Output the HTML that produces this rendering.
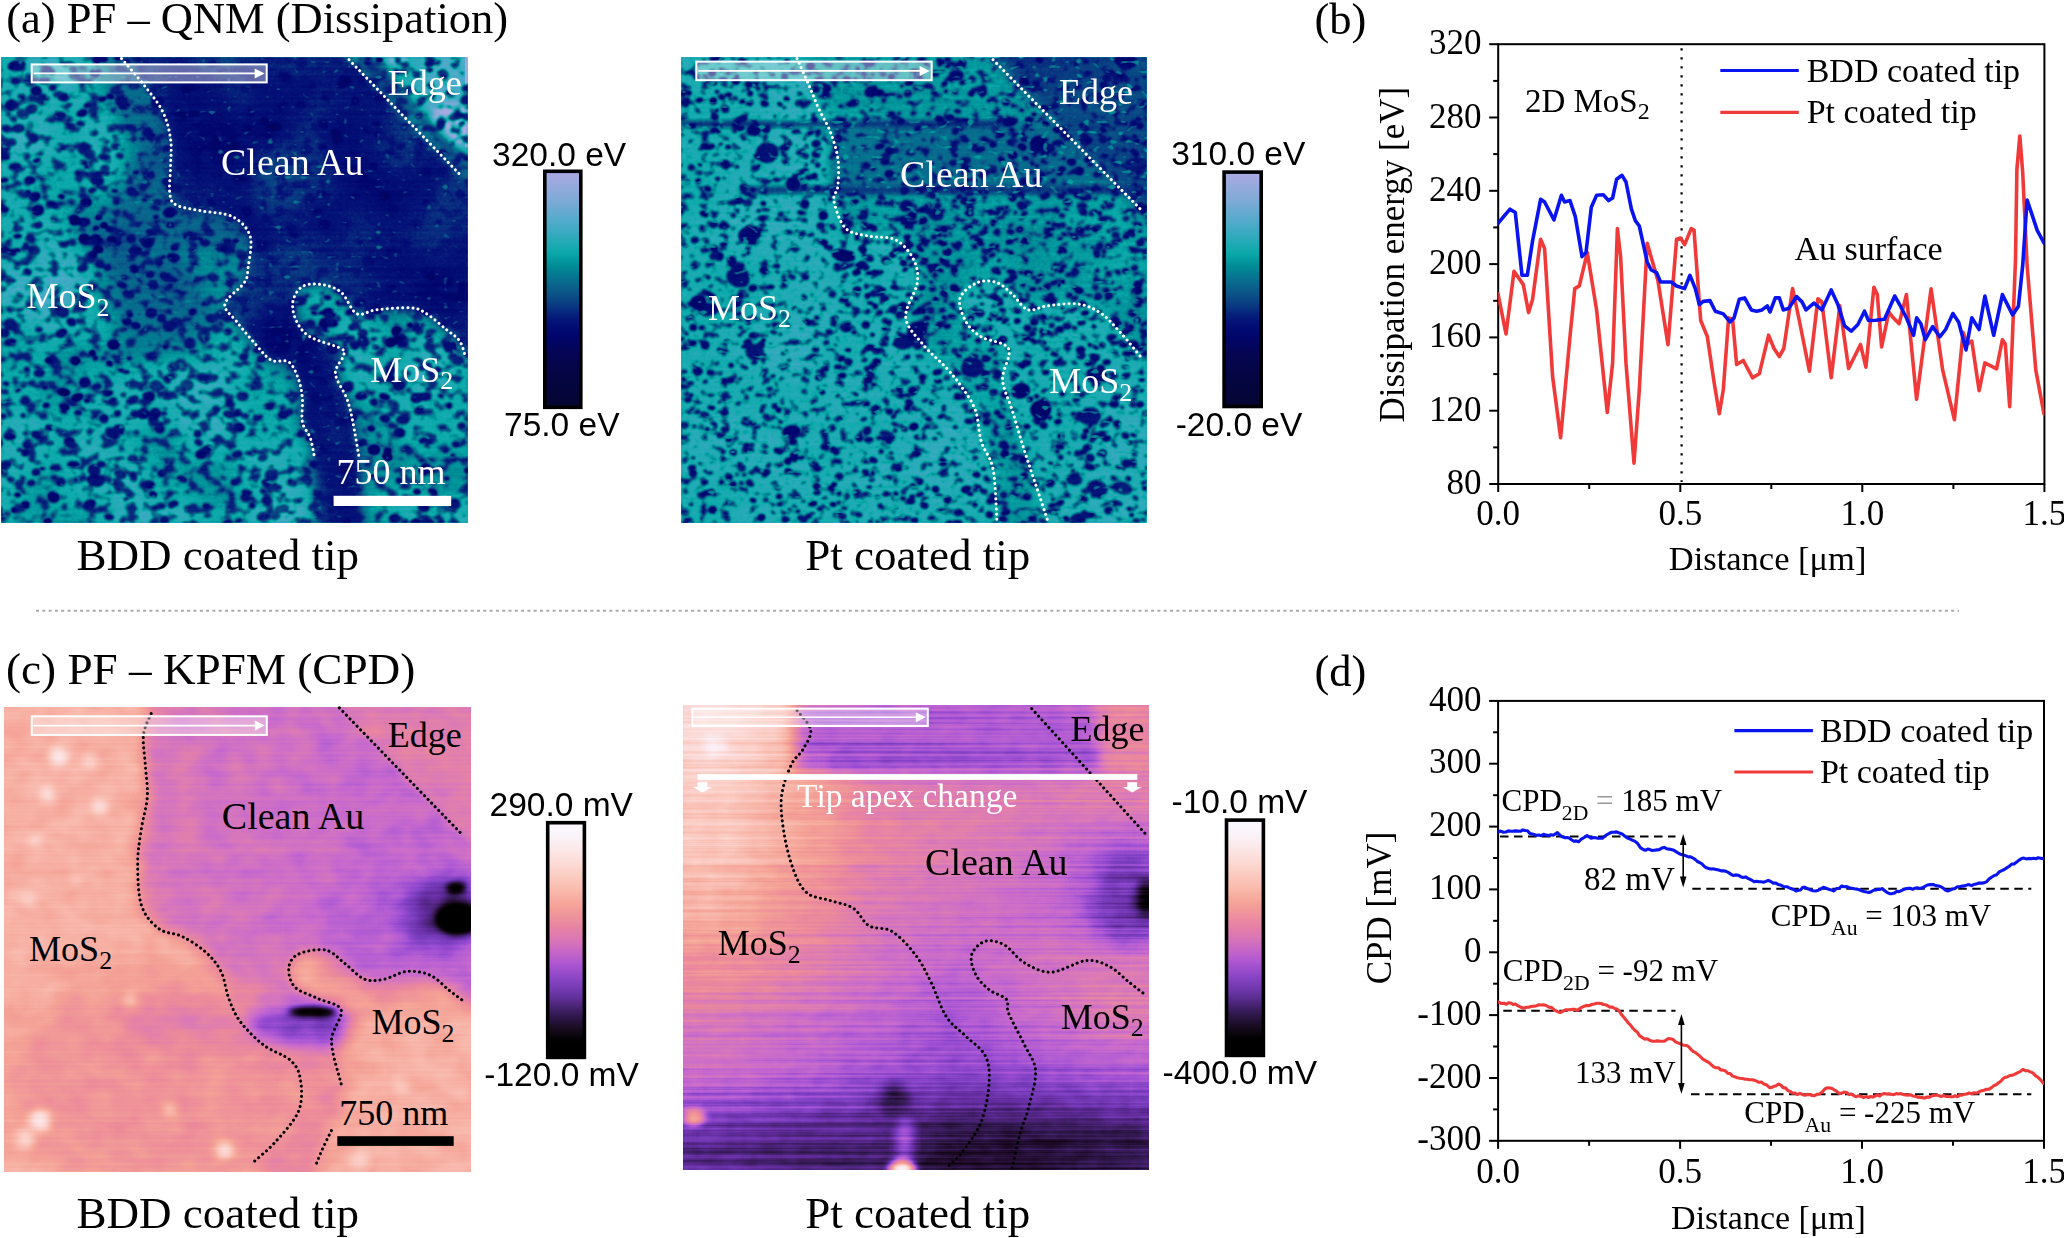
<!DOCTYPE html>
<html><head><meta charset="utf-8"><title>PF-QNM and PF-KPFM</title>
<style>html,body{margin:0;padding:0;background:#fff;overflow:hidden;width:2064px;height:1238px;} svg{display:block;}</style></head>
<body><svg width="2064" height="1238" viewBox="0 0 2064 1238">
<defs>
<filter id="fA" x="1" y="57" width="467" height="466" filterUnits="userSpaceOnUse" color-interpolation-filters="sRGB">
<feTurbulence type="fractalNoise" baseFrequency="0.012" numOctaves="2" seed="44" result="tp"/>
<feColorMatrix in="tp" type="matrix" values="1 0 0 0 0.0000  1 0 0 0 0.0000  1 0 0 0 0.0000  0 0 0 0 1" result="P"/>
<feComposite in="SourceGraphic" in2="P" operator="arithmetic" k1="0" k2="1" k3="0.26" k4="-0.1300" result="v0"/>
<feTurbulence type="fractalNoise" baseFrequency="0.08 0.105" numOctaves="2" seed="3" result="t1"/>
<feColorMatrix in="t1" type="matrix" values="6 0 0 0 -2.0200  6 0 0 0 -2.0200  6 0 0 0 -2.0200  0 0 0 0 1" result="N0"/>
<feGaussianBlur in="N0" stdDeviation="1.0" result="N"/>
<feComposite in="v0" in2="N" operator="arithmetic" k1="0.9000" k2="0.1000" k3="-0.3240" k4="0.3240" result="v1"/>
<feTurbulence type="fractalNoise" baseFrequency="0.12 0.2" numOctaves="1" seed="14" result="t2"/>
<feColorMatrix in="t2" type="matrix" values="-8 0 0 0 6.3400  -8 0 0 0 6.3400  -8 0 0 0 6.3400  0 0 0 0 1" result="Sn"/>
<feComposite in="v1" in2="Sn" operator="arithmetic" k1="0.6000" k2="0.4000" k3="-0.3840" k4="0.3840" result="v2"/>
<feTurbulence type="fractalNoise" baseFrequency="0.35" numOctaves="1" seed="26" result="t3"/>
<feColorMatrix in="t3" type="matrix" values="1 0 0 0 0.0000  1 0 0 0 0.0000  1 0 0 0 0.0000  0 0 0 0 1" result="F"/>
<feComposite in="v2" in2="F" operator="arithmetic" k1="0" k2="1" k3="0.05" k4="-0.0250" result="v3"/>
<feTurbulence type="fractalNoise" baseFrequency="0.003 0.25" numOctaves="2" seed="34" result="t4"/>
<feColorMatrix in="t4" type="matrix" values="1 0 0 0 0.0000  1 0 0 0 0.0000  1 0 0 0 0.0000  0 0 0 0 1" result="Hn"/>
<feComposite in="v3" in2="Hn" operator="arithmetic" k1="0" k2="1" k3="0.05" k4="-0.0250" result="v4"/>
<feComponentTransfer><feFuncR type="table" tableValues="0.020 0.020 0.020 0.020 0.020 0.020 0.020 0.020 0.020 0.020 0.020 0.020 0.020 0.020 0.020 0.020 0.020 0.020 0.020 0.020 0.020 0.020 0.020 0.020 0.017 0.015 0.012 0.010 0.007 0.005 0.002 0.000 0.003 0.007 0.010 0.013 0.016 0.020 0.023 0.026 0.029 0.032 0.035 0.038 0.039 0.039 0.039 0.039 0.039 0.039 0.039 0.039 0.038 0.033 0.028 0.024 0.019 0.014 0.009 0.005 0.000 0.007 0.014 0.021 0.028 0.035 0.048 0.070 0.092 0.114 0.136 0.158 0.180 0.202 0.224 0.246 0.268 0.288 0.307 0.326 0.345 0.364 0.384 0.403 0.422 0.441 0.460 0.479 0.498 0.516 0.530 0.544 0.559 0.573 0.588 0.602 0.617 0.631 0.646 0.660 0.675"/><feFuncG type="table" tableValues="0.020 0.020 0.020 0.020 0.020 0.020 0.020 0.020 0.020 0.020 0.020 0.020 0.020 0.020 0.020 0.020 0.020 0.020 0.020 0.020 0.020 0.020 0.020 0.020 0.020 0.020 0.020 0.020 0.020 0.020 0.020 0.020 0.029 0.039 0.049 0.059 0.069 0.078 0.103 0.127 0.151 0.175 0.199 0.223 0.245 0.264 0.283 0.302 0.321 0.341 0.360 0.379 0.398 0.417 0.436 0.455 0.473 0.492 0.511 0.530 0.549 0.570 0.591 0.612 0.633 0.654 0.667 0.667 0.667 0.667 0.667 0.667 0.667 0.667 0.667 0.667 0.667 0.667 0.667 0.667 0.667 0.667 0.667 0.667 0.667 0.667 0.667 0.667 0.667 0.667 0.667 0.667 0.667 0.667 0.667 0.667 0.667 0.667 0.667 0.667 0.667"/><feFuncB type="table" tableValues="0.196 0.201 0.207 0.212 0.217 0.222 0.227 0.233 0.238 0.243 0.248 0.254 0.259 0.264 0.269 0.275 0.282 0.289 0.297 0.304 0.311 0.319 0.326 0.333 0.346 0.358 0.370 0.382 0.395 0.407 0.419 0.431 0.438 0.444 0.451 0.458 0.464 0.471 0.477 0.483 0.489 0.495 0.501 0.507 0.512 0.517 0.522 0.527 0.531 0.536 0.541 0.546 0.550 0.555 0.560 0.565 0.569 0.574 0.579 0.584 0.588 0.602 0.616 0.630 0.644 0.658 0.671 0.682 0.693 0.704 0.715 0.726 0.737 0.748 0.759 0.770 0.781 0.788 0.792 0.797 0.802 0.807 0.812 0.816 0.821 0.826 0.831 0.835 0.840 0.845 0.849 0.854 0.858 0.863 0.867 0.872 0.876 0.881 0.885 0.890 0.894"/><feFuncA type="linear" slope="0" intercept="1"/></feComponentTransfer>
</filter>
<filter id="fB" x="681" y="57" width="466" height="466" filterUnits="userSpaceOnUse" color-interpolation-filters="sRGB">
<feTurbulence type="fractalNoise" baseFrequency="0.012" numOctaves="2" seed="58" result="tp"/>
<feColorMatrix in="tp" type="matrix" values="1 0 0 0 0.0000  1 0 0 0 0.0000  1 0 0 0 0.0000  0 0 0 0 1" result="P"/>
<feComposite in="SourceGraphic" in2="P" operator="arithmetic" k1="0" k2="1" k3="0.1" k4="-0.0500" result="v0"/>
<feTurbulence type="fractalNoise" baseFrequency="0.1 0.13" numOctaves="2" seed="17" result="t1"/>
<feColorMatrix in="t1" type="matrix" values="6 0 0 0 -1.7200  6 0 0 0 -1.7200  6 0 0 0 -1.7200  0 0 0 0 1" result="N0"/>
<feGaussianBlur in="N0" stdDeviation="0.8" result="N"/>
<feComposite in="v0" in2="N" operator="arithmetic" k1="0.9000" k2="0.1000" k3="-0.2970" k4="0.2970" result="v1"/>
<feTurbulence type="fractalNoise" baseFrequency="0.12 0.2" numOctaves="1" seed="28" result="t2"/>
<feColorMatrix in="t2" type="matrix" values="-8 0 0 0 5.9400  -8 0 0 0 5.9400  -8 0 0 0 5.9400  0 0 0 0 1" result="Sn"/>
<feComposite in="v1" in2="Sn" operator="arithmetic" k1="0.8000" k2="0.2000" k3="-0.5120" k4="0.5120" result="v2"/>
<feTurbulence type="fractalNoise" baseFrequency="0.35" numOctaves="1" seed="40" result="t3"/>
<feColorMatrix in="t3" type="matrix" values="1 0 0 0 0.0000  1 0 0 0 0.0000  1 0 0 0 0.0000  0 0 0 0 1" result="F"/>
<feComposite in="v2" in2="F" operator="arithmetic" k1="0" k2="1" k3="0.05" k4="-0.0250" result="v3"/>
<feTurbulence type="fractalNoise" baseFrequency="0.003 0.25" numOctaves="2" seed="48" result="t4"/>
<feColorMatrix in="t4" type="matrix" values="1 0 0 0 0.0000  1 0 0 0 0.0000  1 0 0 0 0.0000  0 0 0 0 1" result="Hn"/>
<feComposite in="v3" in2="Hn" operator="arithmetic" k1="0" k2="1" k3="0.05" k4="-0.0250" result="v4"/>
<feComponentTransfer><feFuncR type="table" tableValues="0.020 0.020 0.020 0.020 0.020 0.020 0.020 0.020 0.020 0.020 0.020 0.020 0.020 0.020 0.020 0.020 0.020 0.020 0.020 0.020 0.020 0.020 0.020 0.020 0.017 0.015 0.012 0.010 0.007 0.005 0.002 0.000 0.003 0.007 0.010 0.013 0.016 0.020 0.023 0.026 0.029 0.032 0.035 0.038 0.039 0.039 0.039 0.039 0.039 0.039 0.039 0.039 0.038 0.033 0.028 0.024 0.019 0.014 0.009 0.005 0.000 0.007 0.014 0.021 0.028 0.035 0.048 0.070 0.092 0.114 0.136 0.158 0.180 0.202 0.224 0.246 0.268 0.288 0.307 0.326 0.345 0.364 0.384 0.403 0.422 0.441 0.460 0.479 0.498 0.516 0.530 0.544 0.559 0.573 0.588 0.602 0.617 0.631 0.646 0.660 0.675"/><feFuncG type="table" tableValues="0.020 0.020 0.020 0.020 0.020 0.020 0.020 0.020 0.020 0.020 0.020 0.020 0.020 0.020 0.020 0.020 0.020 0.020 0.020 0.020 0.020 0.020 0.020 0.020 0.020 0.020 0.020 0.020 0.020 0.020 0.020 0.020 0.029 0.039 0.049 0.059 0.069 0.078 0.103 0.127 0.151 0.175 0.199 0.223 0.245 0.264 0.283 0.302 0.321 0.341 0.360 0.379 0.398 0.417 0.436 0.455 0.473 0.492 0.511 0.530 0.549 0.570 0.591 0.612 0.633 0.654 0.667 0.667 0.667 0.667 0.667 0.667 0.667 0.667 0.667 0.667 0.667 0.667 0.667 0.667 0.667 0.667 0.667 0.667 0.667 0.667 0.667 0.667 0.667 0.667 0.667 0.667 0.667 0.667 0.667 0.667 0.667 0.667 0.667 0.667 0.667"/><feFuncB type="table" tableValues="0.196 0.201 0.207 0.212 0.217 0.222 0.227 0.233 0.238 0.243 0.248 0.254 0.259 0.264 0.269 0.275 0.282 0.289 0.297 0.304 0.311 0.319 0.326 0.333 0.346 0.358 0.370 0.382 0.395 0.407 0.419 0.431 0.438 0.444 0.451 0.458 0.464 0.471 0.477 0.483 0.489 0.495 0.501 0.507 0.512 0.517 0.522 0.527 0.531 0.536 0.541 0.546 0.550 0.555 0.560 0.565 0.569 0.574 0.579 0.584 0.588 0.602 0.616 0.630 0.644 0.658 0.671 0.682 0.693 0.704 0.715 0.726 0.737 0.748 0.759 0.770 0.781 0.788 0.792 0.797 0.802 0.807 0.812 0.816 0.821 0.826 0.831 0.835 0.840 0.845 0.849 0.854 0.858 0.863 0.867 0.872 0.876 0.881 0.885 0.890 0.894"/><feFuncA type="linear" slope="0" intercept="1"/></feComponentTransfer>
</filter>
<filter id="fC" x="4" y="707" width="467" height="465" filterUnits="userSpaceOnUse" color-interpolation-filters="sRGB">
<feTurbulence type="fractalNoise" baseFrequency="0.002 0.35" numOctaves="2" seed="5" result="t1"/>
<feColorMatrix in="t1" type="matrix" values="1 0 0 0 0.0000  1 0 0 0 0.0000  1 0 0 0 0.0000  0 0 0 0 1" result="N"/>
<feComposite in="SourceGraphic" in2="N" operator="arithmetic" k1="0" k2="1" k3="0.05" k4="-0.025" result="v1"/>
<feTurbulence type="fractalNoise" baseFrequency="0.035 0.05" numOctaves="2" seed="10" result="t2"/>
<feColorMatrix in="t2" type="matrix" values="1 0 0 0 0.0000  1 0 0 0 0.0000  1 0 0 0 0.0000  0 0 0 0 1" result="F"/>
<feComposite in="v1" in2="F" operator="arithmetic" k1="0" k2="1" k3="0.11" k4="-0.055" result="v2"/>
<feComponentTransfer><feFuncR type="table" tableValues="0.000 0.000 0.000 0.000 0.000 0.000 0.000 0.000 0.000 0.000 0.000 0.000 0.010 0.020 0.029 0.039 0.059 0.078 0.098 0.118 0.137 0.156 0.175 0.194 0.218 0.242 0.265 0.289 0.314 0.338 0.363 0.387 0.409 0.430 0.451 0.472 0.499 0.528 0.558 0.587 0.615 0.642 0.668 0.695 0.718 0.737 0.757 0.776 0.792 0.806 0.819 0.833 0.845 0.857 0.869 0.880 0.891 0.899 0.908 0.917 0.925 0.930 0.934 0.939 0.943 0.948 0.952 0.956 0.961 0.963 0.966 0.968 0.971 0.973 0.975 0.978 0.980 0.981 0.982 0.983 0.984 0.985 0.986 0.987 0.988 0.988 0.988 0.988 0.988 0.988 0.988 0.988 0.988 0.987 0.986 0.985 0.984 0.983 0.982 0.981 0.980"/><feFuncG type="table" tableValues="0.000 0.000 0.000 0.000 0.000 0.000 0.000 0.000 0.000 0.000 0.000 0.000 0.005 0.010 0.015 0.020 0.025 0.029 0.034 0.039 0.054 0.068 0.082 0.097 0.107 0.116 0.126 0.135 0.145 0.155 0.165 0.175 0.189 0.206 0.222 0.238 0.253 0.266 0.280 0.294 0.310 0.327 0.345 0.362 0.376 0.387 0.399 0.411 0.423 0.434 0.446 0.457 0.468 0.477 0.487 0.497 0.506 0.515 0.524 0.532 0.541 0.553 0.565 0.576 0.588 0.600 0.612 0.624 0.635 0.649 0.663 0.676 0.690 0.704 0.718 0.731 0.745 0.757 0.770 0.782 0.794 0.806 0.819 0.831 0.843 0.853 0.863 0.873 0.882 0.892 0.902 0.912 0.922 0.928 0.934 0.941 0.947 0.953 0.960 0.966 0.973"/><feFuncB type="table" tableValues="0.000 0.000 0.000 0.000 0.000 0.000 0.000 0.000 0.000 0.000 0.000 0.000 0.010 0.020 0.029 0.039 0.069 0.098 0.127 0.157 0.195 0.233 0.272 0.310 0.348 0.386 0.425 0.463 0.502 0.541 0.580 0.620 0.650 0.679 0.708 0.736 0.759 0.778 0.798 0.818 0.825 0.827 0.829 0.831 0.827 0.820 0.814 0.807 0.795 0.781 0.767 0.752 0.736 0.719 0.701 0.683 0.667 0.652 0.637 0.623 0.608 0.605 0.603 0.600 0.598 0.596 0.593 0.591 0.588 0.602 0.616 0.629 0.643 0.657 0.671 0.684 0.698 0.714 0.729 0.745 0.761 0.776 0.792 0.808 0.824 0.838 0.853 0.868 0.882 0.897 0.912 0.926 0.941 0.949 0.956 0.963 0.971 0.978 0.985 0.993 1.000"/><feFuncA type="linear" slope="0" intercept="1"/></feComponentTransfer>
</filter>
<filter id="fD" x="683.5" y="705" width="465.5" height="465" filterUnits="userSpaceOnUse" color-interpolation-filters="sRGB">
<feTurbulence type="fractalNoise" baseFrequency="0.002 0.35" numOctaves="2" seed="9" result="t1"/>
<feColorMatrix in="t1" type="matrix" values="1 0 0 0 0.0000  1 0 0 0 0.0000  1 0 0 0 0.0000  0 0 0 0 1" result="N"/>
<feComposite in="SourceGraphic" in2="N" operator="arithmetic" k1="0" k2="1" k3="0.16" k4="-0.08" result="v1"/>
<feTurbulence type="fractalNoise" baseFrequency="0.05 0.08" numOctaves="2" seed="14" result="t2"/>
<feColorMatrix in="t2" type="matrix" values="1 0 0 0 0.0000  1 0 0 0 0.0000  1 0 0 0 0.0000  0 0 0 0 1" result="F"/>
<feComposite in="v1" in2="F" operator="arithmetic" k1="0" k2="1" k3="0.06" k4="-0.03" result="v2"/>
<feComponentTransfer><feFuncR type="table" tableValues="0.000 0.000 0.000 0.000 0.000 0.000 0.000 0.000 0.000 0.000 0.000 0.000 0.010 0.020 0.029 0.039 0.059 0.078 0.098 0.118 0.137 0.156 0.175 0.194 0.218 0.242 0.265 0.289 0.314 0.338 0.363 0.387 0.409 0.430 0.451 0.472 0.499 0.528 0.558 0.587 0.615 0.642 0.668 0.695 0.718 0.737 0.757 0.776 0.792 0.806 0.819 0.833 0.845 0.857 0.869 0.880 0.891 0.899 0.908 0.917 0.925 0.930 0.934 0.939 0.943 0.948 0.952 0.956 0.961 0.963 0.966 0.968 0.971 0.973 0.975 0.978 0.980 0.981 0.982 0.983 0.984 0.985 0.986 0.987 0.988 0.988 0.988 0.988 0.988 0.988 0.988 0.988 0.988 0.987 0.986 0.985 0.984 0.983 0.982 0.981 0.980"/><feFuncG type="table" tableValues="0.000 0.000 0.000 0.000 0.000 0.000 0.000 0.000 0.000 0.000 0.000 0.000 0.005 0.010 0.015 0.020 0.025 0.029 0.034 0.039 0.054 0.068 0.082 0.097 0.107 0.116 0.126 0.135 0.145 0.155 0.165 0.175 0.189 0.206 0.222 0.238 0.253 0.266 0.280 0.294 0.310 0.327 0.345 0.362 0.376 0.387 0.399 0.411 0.423 0.434 0.446 0.457 0.468 0.477 0.487 0.497 0.506 0.515 0.524 0.532 0.541 0.553 0.565 0.576 0.588 0.600 0.612 0.624 0.635 0.649 0.663 0.676 0.690 0.704 0.718 0.731 0.745 0.757 0.770 0.782 0.794 0.806 0.819 0.831 0.843 0.853 0.863 0.873 0.882 0.892 0.902 0.912 0.922 0.928 0.934 0.941 0.947 0.953 0.960 0.966 0.973"/><feFuncB type="table" tableValues="0.000 0.000 0.000 0.000 0.000 0.000 0.000 0.000 0.000 0.000 0.000 0.000 0.010 0.020 0.029 0.039 0.069 0.098 0.127 0.157 0.195 0.233 0.272 0.310 0.348 0.386 0.425 0.463 0.502 0.541 0.580 0.620 0.650 0.679 0.708 0.736 0.759 0.778 0.798 0.818 0.825 0.827 0.829 0.831 0.827 0.820 0.814 0.807 0.795 0.781 0.767 0.752 0.736 0.719 0.701 0.683 0.667 0.652 0.637 0.623 0.608 0.605 0.603 0.600 0.598 0.596 0.593 0.591 0.588 0.602 0.616 0.629 0.643 0.657 0.671 0.684 0.698 0.714 0.729 0.745 0.761 0.776 0.792 0.808 0.824 0.838 0.853 0.868 0.882 0.897 0.912 0.926 0.941 0.949 0.956 0.963 0.971 0.978 0.985 0.993 1.000"/><feFuncA type="linear" slope="0" intercept="1"/></feComponentTransfer>
</filter>
<filter id="b1" x="-50%" y="-50%" width="200%" height="200%" color-interpolation-filters="sRGB"><feGaussianBlur stdDeviation="1"/></filter>
<filter id="b2" x="-50%" y="-50%" width="200%" height="200%" color-interpolation-filters="sRGB"><feGaussianBlur stdDeviation="2"/></filter>
<filter id="b3" x="-50%" y="-50%" width="200%" height="200%" color-interpolation-filters="sRGB"><feGaussianBlur stdDeviation="3"/></filter>
<filter id="b4" x="-50%" y="-50%" width="200%" height="200%" color-interpolation-filters="sRGB"><feGaussianBlur stdDeviation="4"/></filter>
<filter id="b5" x="-50%" y="-50%" width="200%" height="200%" color-interpolation-filters="sRGB"><feGaussianBlur stdDeviation="5"/></filter>
<filter id="b6" x="-50%" y="-50%" width="200%" height="200%" color-interpolation-filters="sRGB"><feGaussianBlur stdDeviation="6"/></filter>
<filter id="b8" x="-50%" y="-50%" width="200%" height="200%" color-interpolation-filters="sRGB"><feGaussianBlur stdDeviation="8"/></filter>
<filter id="b10" x="-50%" y="-50%" width="200%" height="200%" color-interpolation-filters="sRGB"><feGaussianBlur stdDeviation="10"/></filter>
<filter id="b12" x="-50%" y="-50%" width="200%" height="200%" color-interpolation-filters="sRGB"><feGaussianBlur stdDeviation="12"/></filter>
<filter id="b20" x="-50%" y="-50%" width="200%" height="200%" color-interpolation-filters="sRGB"><feGaussianBlur stdDeviation="20"/></filter>
<filter id="b25" x="-50%" y="-50%" width="200%" height="200%" color-interpolation-filters="sRGB"><feGaussianBlur stdDeviation="25"/></filter>
<linearGradient id="cb1" x1="0" y1="0" x2="0" y2="1"><stop offset="0.000" stop-color="rgb(172,170,228)"/><stop offset="0.025" stop-color="rgb(163,170,225)"/><stop offset="0.050" stop-color="rgb(154,170,222)"/><stop offset="0.075" stop-color="rgb(144,170,219)"/><stop offset="0.100" stop-color="rgb(135,170,217)"/><stop offset="0.125" stop-color="rgb(125,170,214)"/><stop offset="0.150" stop-color="rgb(112,170,211)"/><stop offset="0.175" stop-color="rgb(100,170,208)"/><stop offset="0.200" stop-color="rgb(88,170,205)"/><stop offset="0.225" stop-color="rgb(76,170,201)"/><stop offset="0.250" stop-color="rgb(63,170,196)"/><stop offset="0.275" stop-color="rgb(49,170,189)"/><stop offset="0.300" stop-color="rgb(35,170,182)"/><stop offset="0.325" stop-color="rgb(21,170,175)"/><stop offset="0.350" stop-color="rgb(9,167,168)"/><stop offset="0.375" stop-color="rgb(4,153,159)"/><stop offset="0.400" stop-color="rgb(0,140,150)"/><stop offset="0.425" stop-color="rgb(3,128,147)"/><stop offset="0.450" stop-color="rgb(6,116,144)"/><stop offset="0.475" stop-color="rgb(9,104,141)"/><stop offset="0.500" stop-color="rgb(10,92,138)"/><stop offset="0.525" stop-color="rgb(10,80,135)"/><stop offset="0.550" stop-color="rgb(10,67,132)"/><stop offset="0.575" stop-color="rgb(9,54,128)"/><stop offset="0.600" stop-color="rgb(7,38,125)"/><stop offset="0.625" stop-color="rgb(5,23,121)"/><stop offset="0.650" stop-color="rgb(3,15,117)"/><stop offset="0.675" stop-color="rgb(1,9,112)"/><stop offset="0.700" stop-color="rgb(1,5,107)"/><stop offset="0.725" stop-color="rgb(2,5,99)"/><stop offset="0.750" stop-color="rgb(4,5,91)"/><stop offset="0.775" stop-color="rgb(5,5,84)"/><stop offset="0.800" stop-color="rgb(5,5,79)"/><stop offset="0.825" stop-color="rgb(5,5,75)"/><stop offset="0.850" stop-color="rgb(5,5,70)"/><stop offset="0.875" stop-color="rgb(5,5,67)"/><stop offset="0.900" stop-color="rgb(5,5,63)"/><stop offset="0.925" stop-color="rgb(5,5,60)"/><stop offset="0.950" stop-color="rgb(5,5,57)"/><stop offset="0.975" stop-color="rgb(5,5,53)"/><stop offset="1.000" stop-color="rgb(5,5,50)"/></linearGradient>
<linearGradient id="cb2" x1="0" y1="0" x2="0" y2="1"><stop offset="0.000" stop-color="rgb(172,170,228)"/><stop offset="0.025" stop-color="rgb(163,170,225)"/><stop offset="0.050" stop-color="rgb(154,170,222)"/><stop offset="0.075" stop-color="rgb(144,170,219)"/><stop offset="0.100" stop-color="rgb(135,170,217)"/><stop offset="0.125" stop-color="rgb(125,170,214)"/><stop offset="0.150" stop-color="rgb(112,170,211)"/><stop offset="0.175" stop-color="rgb(100,170,208)"/><stop offset="0.200" stop-color="rgb(88,170,205)"/><stop offset="0.225" stop-color="rgb(76,170,201)"/><stop offset="0.250" stop-color="rgb(63,170,196)"/><stop offset="0.275" stop-color="rgb(49,170,189)"/><stop offset="0.300" stop-color="rgb(35,170,182)"/><stop offset="0.325" stop-color="rgb(21,170,175)"/><stop offset="0.350" stop-color="rgb(9,167,168)"/><stop offset="0.375" stop-color="rgb(4,153,159)"/><stop offset="0.400" stop-color="rgb(0,140,150)"/><stop offset="0.425" stop-color="rgb(3,128,147)"/><stop offset="0.450" stop-color="rgb(6,116,144)"/><stop offset="0.475" stop-color="rgb(9,104,141)"/><stop offset="0.500" stop-color="rgb(10,92,138)"/><stop offset="0.525" stop-color="rgb(10,80,135)"/><stop offset="0.550" stop-color="rgb(10,67,132)"/><stop offset="0.575" stop-color="rgb(9,54,128)"/><stop offset="0.600" stop-color="rgb(7,38,125)"/><stop offset="0.625" stop-color="rgb(5,23,121)"/><stop offset="0.650" stop-color="rgb(3,15,117)"/><stop offset="0.675" stop-color="rgb(1,9,112)"/><stop offset="0.700" stop-color="rgb(1,5,107)"/><stop offset="0.725" stop-color="rgb(2,5,99)"/><stop offset="0.750" stop-color="rgb(4,5,91)"/><stop offset="0.775" stop-color="rgb(5,5,84)"/><stop offset="0.800" stop-color="rgb(5,5,79)"/><stop offset="0.825" stop-color="rgb(5,5,75)"/><stop offset="0.850" stop-color="rgb(5,5,70)"/><stop offset="0.875" stop-color="rgb(5,5,67)"/><stop offset="0.900" stop-color="rgb(5,5,63)"/><stop offset="0.925" stop-color="rgb(5,5,60)"/><stop offset="0.950" stop-color="rgb(5,5,57)"/><stop offset="0.975" stop-color="rgb(5,5,53)"/><stop offset="1.000" stop-color="rgb(5,5,50)"/></linearGradient>
<linearGradient id="cb3" x1="0" y1="0" x2="0" y2="1"><stop offset="0.000" stop-color="rgb(250,248,255)"/><stop offset="0.025" stop-color="rgb(250,247,253)"/><stop offset="0.050" stop-color="rgb(250,245,251)"/><stop offset="0.075" stop-color="rgb(250,241,244)"/><stop offset="0.100" stop-color="rgb(251,235,237)"/><stop offset="0.125" stop-color="rgb(251,230,229)"/><stop offset="0.150" stop-color="rgb(252,224,221)"/><stop offset="0.175" stop-color="rgb(252,219,213)"/><stop offset="0.200" stop-color="rgb(251,212,204)"/><stop offset="0.225" stop-color="rgb(251,205,195)"/><stop offset="0.250" stop-color="rgb(251,198,186)"/><stop offset="0.275" stop-color="rgb(250,191,177)"/><stop offset="0.300" stop-color="rgb(249,182,169)"/><stop offset="0.325" stop-color="rgb(247,173,161)"/><stop offset="0.350" stop-color="rgb(246,164,153)"/><stop offset="0.375" stop-color="rgb(242,155,152)"/><stop offset="0.400" stop-color="rgb(238,147,157)"/><stop offset="0.425" stop-color="rgb(234,138,161)"/><stop offset="0.450" stop-color="rgb(230,130,165)"/><stop offset="0.475" stop-color="rgb(224,124,173)"/><stop offset="0.500" stop-color="rgb(218,118,182)"/><stop offset="0.525" stop-color="rgb(208,110,190)"/><stop offset="0.550" stop-color="rgb(198,102,198)"/><stop offset="0.575" stop-color="rgb(187,95,205)"/><stop offset="0.600" stop-color="rgb(174,87,209)"/><stop offset="0.625" stop-color="rgb(160,80,205)"/><stop offset="0.650" stop-color="rgb(146,73,201)"/><stop offset="0.675" stop-color="rgb(132,66,192)"/><stop offset="0.700" stop-color="rgb(120,60,180)"/><stop offset="0.725" stop-color="rgb(107,54,167)"/><stop offset="0.750" stop-color="rgb(94,47,150)"/><stop offset="0.775" stop-color="rgb(78,39,125)"/><stop offset="0.800" stop-color="rgb(62,31,100)"/><stop offset="0.825" stop-color="rgb(48,24,76)"/><stop offset="0.850" stop-color="rgb(36,18,55)"/><stop offset="0.875" stop-color="rgb(25,12,34)"/><stop offset="0.900" stop-color="rgb(14,7,17)"/><stop offset="0.925" stop-color="rgb(2,1,3)"/><stop offset="0.950" stop-color="rgb(0,0,0)"/><stop offset="0.975" stop-color="rgb(0,0,0)"/><stop offset="1.000" stop-color="rgb(0,0,0)"/></linearGradient>
<linearGradient id="cb4" x1="0" y1="0" x2="0" y2="1"><stop offset="0.000" stop-color="rgb(250,248,255)"/><stop offset="0.025" stop-color="rgb(250,247,253)"/><stop offset="0.050" stop-color="rgb(250,245,251)"/><stop offset="0.075" stop-color="rgb(250,241,244)"/><stop offset="0.100" stop-color="rgb(251,235,237)"/><stop offset="0.125" stop-color="rgb(251,230,229)"/><stop offset="0.150" stop-color="rgb(252,224,221)"/><stop offset="0.175" stop-color="rgb(252,219,213)"/><stop offset="0.200" stop-color="rgb(251,212,204)"/><stop offset="0.225" stop-color="rgb(251,205,195)"/><stop offset="0.250" stop-color="rgb(251,198,186)"/><stop offset="0.275" stop-color="rgb(250,191,177)"/><stop offset="0.300" stop-color="rgb(249,182,169)"/><stop offset="0.325" stop-color="rgb(247,173,161)"/><stop offset="0.350" stop-color="rgb(246,164,153)"/><stop offset="0.375" stop-color="rgb(242,155,152)"/><stop offset="0.400" stop-color="rgb(238,147,157)"/><stop offset="0.425" stop-color="rgb(234,138,161)"/><stop offset="0.450" stop-color="rgb(230,130,165)"/><stop offset="0.475" stop-color="rgb(224,124,173)"/><stop offset="0.500" stop-color="rgb(218,118,182)"/><stop offset="0.525" stop-color="rgb(208,110,190)"/><stop offset="0.550" stop-color="rgb(198,102,198)"/><stop offset="0.575" stop-color="rgb(187,95,205)"/><stop offset="0.600" stop-color="rgb(174,87,209)"/><stop offset="0.625" stop-color="rgb(160,80,205)"/><stop offset="0.650" stop-color="rgb(146,73,201)"/><stop offset="0.675" stop-color="rgb(132,66,192)"/><stop offset="0.700" stop-color="rgb(120,60,180)"/><stop offset="0.725" stop-color="rgb(107,54,167)"/><stop offset="0.750" stop-color="rgb(94,47,150)"/><stop offset="0.775" stop-color="rgb(78,39,125)"/><stop offset="0.800" stop-color="rgb(62,31,100)"/><stop offset="0.825" stop-color="rgb(48,24,76)"/><stop offset="0.850" stop-color="rgb(36,18,55)"/><stop offset="0.875" stop-color="rgb(25,12,34)"/><stop offset="0.900" stop-color="rgb(14,7,17)"/><stop offset="0.925" stop-color="rgb(2,1,3)"/><stop offset="0.950" stop-color="rgb(0,0,0)"/><stop offset="0.975" stop-color="rgb(0,0,0)"/><stop offset="1.000" stop-color="rgb(0,0,0)"/></linearGradient>
<clipPath id="clipB"><rect x="1498.2" y="44.2" width="546.2" height="439.8"/></clipPath>
<clipPath id="clipD"><rect x="1498.1" y="700.9" width="545.9" height="439.9"/></clipPath>
</defs>
<rect x="0" y="0" width="2064" height="1238" fill="#fff"/>
<g filter="url(#fA)"><rect x="1" y="57" width="467" height="466" fill="rgb(173,173,173)"/>
<ellipse cx="175" cy="260" rx="80" ry="110" fill="rgb(138,138,138)" filter="url(#b20)"/>
<path d="M100.0,42.0 L118.0,110.0 L130.0,170.0 L150.0,215.0 L201.6,210.9 L232.6,216.7 L250.1,236.1 L248.2,267.1 L244.3,282.6 L224.9,304.0 L236.5,321.4 L255.9,344.7 L271.4,360.2 L288.9,362.1 L298.6,379.6 L302.4,399.0 L302.4,422.2 L310.2,437.7 L314.1,455.2 L318.0,538.0 L362.0,538.0 L358.7,455.2 L352.9,422.2 L347.0,399.0 L335.4,373.8 L343.2,356.3 L341.2,348.6 L310.2,336.9 L296.6,321.4 L292.8,302.0 L302.4,286.5 L321.8,284.6 L341.2,292.3 L356.7,313.7 L376.1,309.8 L411.0,307.9 L426.5,313.7 L445.9,329.2 L459.5,340.8 L465.3,356.3 L483.0,356.0 L483.0,178.0 L352.0,42.0 Z" fill="rgb(128,128,128)" filter="url(#b12)"/>
<path d="M123.3,42.0 L145.4,86.8 L162.9,112.0 L170.6,139.2 L170.6,166.3 L169.8,193.5 L176.4,205.1 L201.6,210.9 L232.6,216.7 L250.1,236.1 L248.2,267.1 L244.3,282.6 L224.9,304.0 L236.5,321.4 L255.9,344.7 L271.4,360.2 L288.9,362.1 L298.6,379.6 L302.4,399.0 L302.4,422.2 L310.2,437.7 L314.1,455.2 L318.0,538.0 L362.0,538.0 L358.7,455.2 L352.9,422.2 L347.0,399.0 L335.4,373.8 L343.2,356.3 L341.2,348.6 L310.2,336.9 L296.6,321.4 L292.8,302.0 L302.4,286.5 L321.8,284.6 L341.2,292.3 L356.7,313.7 L376.1,309.8 L411.0,307.9 L426.5,313.7 L445.9,329.2 L459.5,340.8 L465.3,356.3 L483.0,356.0 L483.0,178.0 L352.0,42.0 Z" fill="rgb(97,97,97)" filter="url(#b5)"/>
<path d="M337,45 L485,45 L485,196 Z" fill="rgb(184,184,184)" filter="url(#b4)"/>
<ellipse cx="452" cy="125" rx="22" ry="22" fill="rgb(250,250,250)" filter="url(#b3)"/>
<rect x="465" y="57" width="6" height="90" fill="rgb(242,242,242)"/>
<path d="M352,57 L372,57 L470,160 L470,185 Z" fill="rgb(115,115,115)" filter="url(#b4)"/>
<ellipse cx="397" cy="60" rx="10" ry="5" fill="rgb(242,242,242)" filter="url(#b2)"/>
<g filter="url(#b1)"><ellipse cx="211.8" cy="318.5" rx="6.7" ry="4.9" fill="rgb(87,87,87)" transform="rotate(4 211.8 318.5)"/><ellipse cx="84.1" cy="295.7" rx="5.4" ry="4.7" fill="rgb(78,78,78)" transform="rotate(-10 84.1 295.7)"/><ellipse cx="39.2" cy="437.4" rx="5.7" ry="3.2" fill="rgb(97,97,97)" transform="rotate(23 39.2 437.4)"/><ellipse cx="307.9" cy="345.0" rx="3.5" ry="1.9" fill="rgb(87,87,87)" transform="rotate(-22 307.9 345.0)"/><ellipse cx="86.7" cy="167.2" rx="2.9" ry="2.2" fill="rgb(85,85,85)" transform="rotate(17 86.7 167.2)"/><ellipse cx="243.6" cy="356.8" rx="4.9" ry="4.0" fill="rgb(86,86,86)" transform="rotate(-11 243.6 356.8)"/><ellipse cx="471.9" cy="525.9" rx="6.3" ry="5.3" fill="rgb(83,83,83)" transform="rotate(-14 471.9 525.9)"/><ellipse cx="133.9" cy="85.4" rx="6.0" ry="4.3" fill="rgb(94,94,94)" transform="rotate(-6 133.9 85.4)"/><ellipse cx="453.0" cy="455.3" rx="2.8" ry="1.8" fill="rgb(95,95,95)" transform="rotate(-2 453.0 455.3)"/><ellipse cx="463.6" cy="241.2" rx="3.1" ry="2.5" fill="rgb(92,92,92)" transform="rotate(-12 463.6 241.2)"/><ellipse cx="37.6" cy="210.3" rx="6.8" ry="5.8" fill="rgb(79,79,79)" transform="rotate(-13 37.6 210.3)"/><ellipse cx="44.2" cy="80.5" rx="6.1" ry="3.8" fill="rgb(88,88,88)" transform="rotate(-3 44.2 80.5)"/><ellipse cx="87.0" cy="400.4" rx="3.4" ry="2.7" fill="rgb(79,79,79)" transform="rotate(-4 87.0 400.4)"/><ellipse cx="97.5" cy="180.4" rx="6.9" ry="6.0" fill="rgb(83,83,83)" transform="rotate(19 97.5 180.4)"/><ellipse cx="96.5" cy="239.7" rx="6.4" ry="5.2" fill="rgb(79,79,79)" transform="rotate(24 96.5 239.7)"/><ellipse cx="97.7" cy="174.9" rx="6.0" ry="4.1" fill="rgb(83,83,83)" transform="rotate(-21 97.7 174.9)"/><ellipse cx="39.0" cy="329.4" rx="3.8" ry="3.0" fill="rgb(84,84,84)" transform="rotate(-2 39.0 329.4)"/><ellipse cx="453.5" cy="282.3" rx="5.2" ry="4.7" fill="rgb(80,80,80)" transform="rotate(-17 453.5 282.3)"/><ellipse cx="429.3" cy="441.3" rx="3.8" ry="2.4" fill="rgb(92,92,92)" transform="rotate(22 429.3 441.3)"/><ellipse cx="89.8" cy="504.3" rx="6.5" ry="5.1" fill="rgb(85,85,85)" transform="rotate(-20 89.8 504.3)"/><ellipse cx="14.5" cy="510.2" rx="3.8" ry="3.2" fill="rgb(82,82,82)" transform="rotate(16 14.5 510.2)"/><ellipse cx="280.5" cy="191.7" rx="3.5" ry="3.0" fill="rgb(78,78,78)" transform="rotate(-14 280.5 191.7)"/><ellipse cx="262.8" cy="457.7" rx="5.4" ry="3.6" fill="rgb(95,95,95)" transform="rotate(-15 262.8 457.7)"/><ellipse cx="3.9" cy="180.1" rx="4.7" ry="2.7" fill="rgb(80,80,80)" transform="rotate(-7 3.9 180.1)"/><ellipse cx="268.9" cy="114.6" rx="4.3" ry="3.9" fill="rgb(97,97,97)" transform="rotate(8 268.9 114.6)"/><ellipse cx="325.7" cy="330.2" rx="3.4" ry="1.9" fill="rgb(77,77,77)" transform="rotate(21 325.7 330.2)"/><ellipse cx="330.4" cy="510.3" rx="2.9" ry="2.3" fill="rgb(86,86,86)" transform="rotate(12 330.4 510.3)"/><ellipse cx="148.1" cy="527.7" rx="3.1" ry="2.4" fill="rgb(92,92,92)" transform="rotate(20 148.1 527.7)"/><ellipse cx="347.6" cy="387.0" rx="6.1" ry="5.6" fill="rgb(84,84,84)" transform="rotate(9 347.6 387.0)"/><ellipse cx="425.7" cy="466.6" rx="4.6" ry="3.9" fill="rgb(94,94,94)" transform="rotate(4 425.7 466.6)"/><ellipse cx="294.1" cy="234.0" rx="5.2" ry="4.2" fill="rgb(78,78,78)" transform="rotate(7 294.1 234.0)"/><ellipse cx="469.8" cy="470.8" rx="5.9" ry="4.1" fill="rgb(91,91,91)" transform="rotate(4 469.8 470.8)"/><ellipse cx="206.1" cy="451.1" rx="3.2" ry="2.7" fill="rgb(77,77,77)" transform="rotate(5 206.1 451.1)"/><ellipse cx="225.4" cy="161.6" rx="5.7" ry="4.3" fill="rgb(89,89,89)" transform="rotate(21 225.4 161.6)"/><ellipse cx="118.0" cy="57.4" rx="4.1" ry="3.3" fill="rgb(81,81,81)" transform="rotate(-17 118.0 57.4)"/><ellipse cx="428.0" cy="366.2" rx="4.7" ry="4.2" fill="rgb(83,83,83)" transform="rotate(8 428.0 366.2)"/><ellipse cx="90.7" cy="257.1" rx="6.2" ry="5.7" fill="rgb(94,94,94)" transform="rotate(-6 90.7 257.1)"/><ellipse cx="274.1" cy="202.6" rx="3.4" ry="2.5" fill="rgb(94,94,94)" transform="rotate(17 274.1 202.6)"/><ellipse cx="335.3" cy="504.2" rx="4.0" ry="2.4" fill="rgb(86,86,86)" transform="rotate(-11 335.3 504.2)"/><ellipse cx="98.1" cy="249.1" rx="5.4" ry="4.1" fill="rgb(83,83,83)" transform="rotate(17 98.1 249.1)"/><ellipse cx="464.4" cy="267.4" rx="3.1" ry="1.8" fill="rgb(94,94,94)" transform="rotate(-23 464.4 267.4)"/><ellipse cx="334.0" cy="323.6" rx="4.1" ry="3.6" fill="rgb(77,77,77)" transform="rotate(-18 334.0 323.6)"/><ellipse cx="213.0" cy="63.8" rx="6.3" ry="4.1" fill="rgb(79,79,79)" transform="rotate(-23 213.0 63.8)"/><ellipse cx="296.1" cy="264.5" rx="5.4" ry="4.4" fill="rgb(93,93,93)" transform="rotate(23 296.1 264.5)"/><ellipse cx="322.5" cy="146.9" rx="4.8" ry="3.0" fill="rgb(77,77,77)" transform="rotate(-1 322.5 146.9)"/><ellipse cx="336.7" cy="137.3" rx="3.9" ry="2.7" fill="rgb(91,91,91)" transform="rotate(1 336.7 137.3)"/><ellipse cx="289.1" cy="412.0" rx="4.5" ry="3.9" fill="rgb(95,95,95)" transform="rotate(-21 289.1 412.0)"/><ellipse cx="440.9" cy="395.9" rx="3.3" ry="2.4" fill="rgb(89,89,89)" transform="rotate(20 440.9 395.9)"/><ellipse cx="175.7" cy="322.8" rx="6.5" ry="5.6" fill="rgb(96,96,96)" transform="rotate(-2 175.7 322.8)"/><ellipse cx="306.7" cy="149.5" rx="5.8" ry="5.1" fill="rgb(90,90,90)" transform="rotate(11 306.7 149.5)"/><ellipse cx="97.7" cy="480.4" rx="6.9" ry="6.5" fill="rgb(87,87,87)" transform="rotate(15 97.7 480.4)"/><ellipse cx="148.8" cy="485.2" rx="6.4" ry="4.4" fill="rgb(78,78,78)" transform="rotate(-3 148.8 485.2)"/><ellipse cx="258.5" cy="417.7" rx="4.8" ry="2.7" fill="rgb(93,93,93)" transform="rotate(-22 258.5 417.7)"/><ellipse cx="377.5" cy="134.3" rx="4.2" ry="3.6" fill="rgb(79,79,79)" transform="rotate(-18 377.5 134.3)"/><ellipse cx="242.4" cy="396.4" rx="6.3" ry="5.2" fill="rgb(96,96,96)" transform="rotate(-0 242.4 396.4)"/><ellipse cx="448.7" cy="92.9" rx="3.7" ry="2.8" fill="rgb(82,82,82)" transform="rotate(11 448.7 92.9)"/><ellipse cx="300.7" cy="300.8" rx="6.3" ry="4.9" fill="rgb(83,83,83)" transform="rotate(-6 300.7 300.8)"/><ellipse cx="399.2" cy="480.6" rx="3.7" ry="3.3" fill="rgb(96,96,96)" transform="rotate(1 399.2 480.6)"/><ellipse cx="269.3" cy="147.7" rx="5.1" ry="3.8" fill="rgb(89,89,89)" transform="rotate(-24 269.3 147.7)"/><ellipse cx="458.4" cy="297.6" rx="4.5" ry="3.9" fill="rgb(88,88,88)" transform="rotate(-0 458.4 297.6)"/><ellipse cx="325.6" cy="83.4" rx="5.1" ry="3.6" fill="rgb(96,96,96)" transform="rotate(21 325.6 83.4)"/><ellipse cx="124.4" cy="277.2" rx="3.3" ry="2.4" fill="rgb(93,93,93)" transform="rotate(20 124.4 277.2)"/><ellipse cx="223.3" cy="203.0" rx="3.6" ry="2.9" fill="rgb(95,95,95)" transform="rotate(-19 223.3 203.0)"/><ellipse cx="367.7" cy="62.8" rx="3.6" ry="2.3" fill="rgb(91,91,91)" transform="rotate(-9 367.7 62.8)"/><ellipse cx="165.5" cy="347.0" rx="3.2" ry="2.7" fill="rgb(79,79,79)" transform="rotate(1 165.5 347.0)"/><ellipse cx="115.5" cy="146.1" rx="5.0" ry="3.6" fill="rgb(84,84,84)" transform="rotate(-4 115.5 146.1)"/><ellipse cx="248.5" cy="128.0" rx="3.7" ry="2.9" fill="rgb(90,90,90)" transform="rotate(1 248.5 128.0)"/><ellipse cx="402.1" cy="343.2" rx="6.4" ry="4.1" fill="rgb(92,92,92)" transform="rotate(16 402.1 343.2)"/><ellipse cx="426.6" cy="202.4" rx="4.1" ry="3.8" fill="rgb(81,81,81)" transform="rotate(25 426.6 202.4)"/><ellipse cx="419.4" cy="115.8" rx="3.8" ry="3.2" fill="rgb(82,82,82)" transform="rotate(-20 419.4 115.8)"/><ellipse cx="392.9" cy="252.7" rx="6.1" ry="3.7" fill="rgb(85,85,85)" transform="rotate(9 392.9 252.7)"/><ellipse cx="4.5" cy="147.6" rx="5.7" ry="5.2" fill="rgb(96,96,96)" transform="rotate(-19 4.5 147.6)"/><ellipse cx="237.2" cy="412.9" rx="4.9" ry="4.0" fill="rgb(80,80,80)" transform="rotate(-21 237.2 412.9)"/><ellipse cx="46.6" cy="69.8" rx="5.1" ry="3.9" fill="rgb(88,88,88)" transform="rotate(-18 46.6 69.8)"/><ellipse cx="84.0" cy="149.1" rx="6.3" ry="6.0" fill="rgb(95,95,95)" transform="rotate(-20 84.0 149.1)"/><ellipse cx="25.5" cy="504.9" rx="4.7" ry="4.1" fill="rgb(83,83,83)" transform="rotate(-2 25.5 504.9)"/><ellipse cx="241.8" cy="256.7" rx="5.3" ry="3.0" fill="rgb(91,91,91)" transform="rotate(17 241.8 256.7)"/><ellipse cx="82.5" cy="268.1" rx="5.9" ry="4.2" fill="rgb(80,80,80)" transform="rotate(-17 82.5 268.1)"/><ellipse cx="240.5" cy="59.3" rx="6.6" ry="5.7" fill="rgb(91,91,91)" transform="rotate(18 240.5 59.3)"/><ellipse cx="296.2" cy="244.5" rx="5.3" ry="4.0" fill="rgb(97,97,97)" transform="rotate(15 296.2 244.5)"/><ellipse cx="119.2" cy="485.8" rx="5.9" ry="5.1" fill="rgb(93,93,93)" transform="rotate(-5 119.2 485.8)"/><ellipse cx="423.7" cy="470.8" rx="5.7" ry="4.9" fill="rgb(92,92,92)" transform="rotate(-5 423.7 470.8)"/><ellipse cx="340.7" cy="85.6" rx="4.2" ry="3.1" fill="rgb(77,77,77)" transform="rotate(-7 340.7 85.6)"/><ellipse cx="300.7" cy="349.0" rx="3.8" ry="3.5" fill="rgb(90,90,90)" transform="rotate(-8 300.7 349.0)"/><ellipse cx="310.7" cy="323.1" rx="5.0" ry="3.6" fill="rgb(97,97,97)" transform="rotate(7 310.7 323.1)"/><ellipse cx="330.5" cy="414.6" rx="6.9" ry="3.9" fill="rgb(89,89,89)" transform="rotate(12 330.5 414.6)"/><ellipse cx="118.4" cy="243.1" rx="3.0" ry="1.9" fill="rgb(84,84,84)" transform="rotate(-20 118.4 243.1)"/><ellipse cx="115.7" cy="483.1" rx="5.1" ry="3.8" fill="rgb(96,96,96)" transform="rotate(3 115.7 483.1)"/><ellipse cx="470.7" cy="355.7" rx="6.2" ry="3.6" fill="rgb(89,89,89)" transform="rotate(13 470.7 355.7)"/><ellipse cx="17.5" cy="494.8" rx="3.5" ry="2.6" fill="rgb(80,80,80)" transform="rotate(-0 17.5 494.8)"/><ellipse cx="287.5" cy="79.9" rx="6.8" ry="4.9" fill="rgb(87,87,87)" transform="rotate(5 287.5 79.9)"/><ellipse cx="170.4" cy="188.0" rx="5.6" ry="4.3" fill="rgb(82,82,82)" transform="rotate(11 170.4 188.0)"/><ellipse cx="137.2" cy="58.7" rx="3.8" ry="2.2" fill="rgb(80,80,80)" transform="rotate(13 137.2 58.7)"/><ellipse cx="182.0" cy="479.2" rx="5.9" ry="3.4" fill="rgb(97,97,97)" transform="rotate(22 182.0 479.2)"/><ellipse cx="31.1" cy="483.0" rx="4.6" ry="3.4" fill="rgb(96,96,96)" transform="rotate(-13 31.1 483.0)"/><ellipse cx="245.6" cy="498.1" rx="5.8" ry="4.3" fill="rgb(96,96,96)" transform="rotate(16 245.6 498.1)"/><ellipse cx="283.9" cy="106.8" rx="5.4" ry="4.0" fill="rgb(81,81,81)" transform="rotate(-22 283.9 106.8)"/><ellipse cx="247.9" cy="111.2" rx="4.7" ry="3.8" fill="rgb(86,86,86)" transform="rotate(-12 247.9 111.2)"/><ellipse cx="273.7" cy="251.7" rx="6.1" ry="4.6" fill="rgb(97,97,97)" transform="rotate(23 273.7 251.7)"/><ellipse cx="346.3" cy="165.5" rx="3.3" ry="3.0" fill="rgb(92,92,92)" transform="rotate(6 346.3 165.5)"/><ellipse cx="167.3" cy="181.2" rx="5.7" ry="4.4" fill="rgb(89,89,89)" transform="rotate(7 167.3 181.2)"/><ellipse cx="355.3" cy="142.4" rx="3.8" ry="3.6" fill="rgb(95,95,95)" transform="rotate(19 355.3 142.4)"/><ellipse cx="14.8" cy="80.9" rx="3.9" ry="2.8" fill="rgb(89,89,89)" transform="rotate(-20 14.8 80.9)"/><ellipse cx="254.4" cy="86.5" rx="3.2" ry="2.6" fill="rgb(88,88,88)" transform="rotate(7 254.4 86.5)"/><ellipse cx="174.0" cy="279.8" rx="3.7" ry="2.5" fill="rgb(92,92,92)" transform="rotate(17 174.0 279.8)"/><ellipse cx="31.5" cy="109.0" rx="6.2" ry="5.0" fill="rgb(92,92,92)" transform="rotate(-14 31.5 109.0)"/><ellipse cx="198.4" cy="174.8" rx="6.2" ry="4.3" fill="rgb(90,90,90)" transform="rotate(24 198.4 174.8)"/><ellipse cx="151.2" cy="313.1" rx="5.9" ry="5.4" fill="rgb(85,85,85)" transform="rotate(-7 151.2 313.1)"/><ellipse cx="42.3" cy="468.6" rx="3.1" ry="1.8" fill="rgb(88,88,88)" transform="rotate(-1 42.3 468.6)"/><ellipse cx="322.9" cy="194.3" rx="6.1" ry="3.5" fill="rgb(81,81,81)" transform="rotate(8 322.9 194.3)"/><ellipse cx="35.0" cy="196.6" rx="5.8" ry="4.8" fill="rgb(82,82,82)" transform="rotate(-18 35.0 196.6)"/><ellipse cx="166.7" cy="397.6" rx="4.3" ry="2.6" fill="rgb(91,91,91)" transform="rotate(3 166.7 397.6)"/><ellipse cx="434.2" cy="499.4" rx="6.6" ry="4.8" fill="rgb(93,93,93)" transform="rotate(-10 434.2 499.4)"/><ellipse cx="147.5" cy="242.2" rx="6.7" ry="6.1" fill="rgb(82,82,82)" transform="rotate(-7 147.5 242.2)"/><ellipse cx="170.4" cy="224.9" rx="4.5" ry="3.1" fill="rgb(80,80,80)" transform="rotate(3 170.4 224.9)"/><ellipse cx="376.2" cy="309.3" rx="6.3" ry="4.9" fill="rgb(80,80,80)" transform="rotate(13 376.2 309.3)"/><ellipse cx="416.2" cy="186.0" rx="2.9" ry="2.2" fill="rgb(88,88,88)" transform="rotate(3 416.2 186.0)"/><ellipse cx="457.0" cy="362.0" rx="6.2" ry="3.6" fill="rgb(88,88,88)" transform="rotate(14 457.0 362.0)"/><ellipse cx="36.1" cy="90.9" rx="5.9" ry="5.4" fill="rgb(78,78,78)" transform="rotate(7 36.1 90.9)"/><ellipse cx="64.6" cy="407.0" rx="5.5" ry="3.6" fill="rgb(81,81,81)" transform="rotate(13 64.6 407.0)"/><ellipse cx="244.8" cy="416.0" rx="4.5" ry="3.1" fill="rgb(96,96,96)" transform="rotate(9 244.8 416.0)"/><ellipse cx="231.5" cy="307.8" rx="5.8" ry="4.9" fill="rgb(95,95,95)" transform="rotate(-4 231.5 307.8)"/><ellipse cx="390.1" cy="369.4" rx="6.4" ry="5.6" fill="rgb(94,94,94)" transform="rotate(19 390.1 369.4)"/><ellipse cx="452.9" cy="356.8" rx="5.0" ry="4.2" fill="rgb(93,93,93)" transform="rotate(-4 452.9 356.8)"/><ellipse cx="196.6" cy="121.6" rx="5.9" ry="5.6" fill="rgb(84,84,84)" transform="rotate(-17 196.6 121.6)"/><ellipse cx="93.5" cy="254.3" rx="4.0" ry="3.8" fill="rgb(78,78,78)" transform="rotate(-10 93.5 254.3)"/><ellipse cx="50.8" cy="360.4" rx="6.1" ry="3.8" fill="rgb(78,78,78)" transform="rotate(-2 50.8 360.4)"/><ellipse cx="274.6" cy="484.8" rx="3.0" ry="1.8" fill="rgb(80,80,80)" transform="rotate(-14 274.6 484.8)"/><ellipse cx="108.3" cy="393.4" rx="5.3" ry="3.4" fill="rgb(80,80,80)" transform="rotate(-11 108.3 393.4)"/><ellipse cx="78.3" cy="412.6" rx="4.1" ry="3.2" fill="rgb(93,93,93)" transform="rotate(-1 78.3 412.6)"/><ellipse cx="120.2" cy="474.4" rx="6.6" ry="4.6" fill="rgb(88,88,88)" transform="rotate(23 120.2 474.4)"/><ellipse cx="226.2" cy="157.2" rx="3.0" ry="2.8" fill="rgb(93,93,93)" transform="rotate(-6 226.2 157.2)"/><ellipse cx="247.7" cy="297.5" rx="4.0" ry="3.7" fill="rgb(90,90,90)" transform="rotate(-13 247.7 297.5)"/><ellipse cx="1.2" cy="277.0" rx="4.4" ry="3.8" fill="rgb(91,91,91)" transform="rotate(5 1.2 277.0)"/><ellipse cx="71.0" cy="126.7" rx="4.2" ry="2.7" fill="rgb(94,94,94)" transform="rotate(1 71.0 126.7)"/><ellipse cx="299.8" cy="524.7" rx="3.9" ry="3.0" fill="rgb(80,80,80)" transform="rotate(14 299.8 524.7)"/><ellipse cx="-3.3" cy="443.0" rx="6.4" ry="5.6" fill="rgb(78,78,78)" transform="rotate(-12 -3.3 443.0)"/><ellipse cx="337.8" cy="98.3" rx="4.8" ry="3.6" fill="rgb(96,96,96)" transform="rotate(4 337.8 98.3)"/><ellipse cx="405.0" cy="196.5" rx="6.1" ry="4.4" fill="rgb(95,95,95)" transform="rotate(-20 405.0 196.5)"/><ellipse cx="390.2" cy="151.2" rx="5.1" ry="3.9" fill="rgb(80,80,80)" transform="rotate(17 390.2 151.2)"/><ellipse cx="144.5" cy="199.9" rx="3.1" ry="2.1" fill="rgb(86,86,86)" transform="rotate(11 144.5 199.9)"/><ellipse cx="167.6" cy="379.1" rx="3.2" ry="2.3" fill="rgb(86,86,86)" transform="rotate(23 167.6 379.1)"/><ellipse cx="391.8" cy="363.3" rx="2.9" ry="2.0" fill="rgb(91,91,91)" transform="rotate(-13 391.8 363.3)"/><ellipse cx="265.1" cy="270.0" rx="2.8" ry="2.7" fill="rgb(93,93,93)" transform="rotate(-15 265.1 270.0)"/><ellipse cx="289.9" cy="190.2" rx="4.4" ry="3.4" fill="rgb(83,83,83)" transform="rotate(-8 289.9 190.2)"/><ellipse cx="183.1" cy="369.3" rx="3.9" ry="2.4" fill="rgb(91,91,91)" transform="rotate(-9 183.1 369.3)"/><ellipse cx="446.8" cy="319.9" rx="5.8" ry="4.0" fill="rgb(93,93,93)" transform="rotate(-20 446.8 319.9)"/><ellipse cx="63.2" cy="96.9" rx="5.6" ry="4.7" fill="rgb(80,80,80)" transform="rotate(-5 63.2 96.9)"/><ellipse cx="395.2" cy="334.1" rx="3.2" ry="2.0" fill="rgb(80,80,80)" transform="rotate(-19 395.2 334.1)"/><ellipse cx="190.1" cy="86.6" rx="6.7" ry="4.8" fill="rgb(87,87,87)" transform="rotate(7 190.1 86.6)"/><ellipse cx="361.8" cy="442.8" rx="4.4" ry="3.0" fill="rgb(85,85,85)" transform="rotate(-24 361.8 442.8)"/><ellipse cx="187.1" cy="385.1" rx="6.9" ry="6.0" fill="rgb(90,90,90)" transform="rotate(5 187.1 385.1)"/><ellipse cx="4.8" cy="209.6" rx="4.2" ry="3.4" fill="rgb(79,79,79)" transform="rotate(-6 4.8 209.6)"/><ellipse cx="239.0" cy="427.4" rx="6.3" ry="5.0" fill="rgb(80,80,80)" transform="rotate(13 239.0 427.4)"/><ellipse cx="426.7" cy="313.0" rx="4.3" ry="3.2" fill="rgb(79,79,79)" transform="rotate(11 426.7 313.0)"/><ellipse cx="466.7" cy="297.6" rx="5.8" ry="5.1" fill="rgb(81,81,81)" transform="rotate(22 466.7 297.6)"/><ellipse cx="295.1" cy="146.2" rx="3.1" ry="2.0" fill="rgb(88,88,88)" transform="rotate(10 295.1 146.2)"/><ellipse cx="153.0" cy="494.2" rx="4.3" ry="3.2" fill="rgb(79,79,79)" transform="rotate(24 153.0 494.2)"/><ellipse cx="60.7" cy="482.3" rx="5.1" ry="3.9" fill="rgb(88,88,88)" transform="rotate(-12 60.7 482.3)"/><ellipse cx="429.8" cy="524.3" rx="6.2" ry="4.9" fill="rgb(79,79,79)" transform="rotate(16 429.8 524.3)"/><ellipse cx="133.7" cy="479.0" rx="3.8" ry="3.0" fill="rgb(93,93,93)" transform="rotate(-16 133.7 479.0)"/><ellipse cx="257.3" cy="88.3" rx="2.9" ry="1.8" fill="rgb(97,97,97)" transform="rotate(22 257.3 88.3)"/><ellipse cx="310.0" cy="198.4" rx="5.6" ry="4.7" fill="rgb(84,84,84)" transform="rotate(5 310.0 198.4)"/><ellipse cx="379.4" cy="59.8" rx="3.6" ry="2.7" fill="rgb(79,79,79)" transform="rotate(-6 379.4 59.8)"/><ellipse cx="267.7" cy="134.7" rx="5.0" ry="3.3" fill="rgb(88,88,88)" transform="rotate(-8 267.7 134.7)"/><ellipse cx="302.1" cy="70.0" rx="5.6" ry="3.4" fill="rgb(96,96,96)" transform="rotate(5 302.1 70.0)"/><ellipse cx="220.1" cy="247.8" rx="5.4" ry="4.5" fill="rgb(92,92,92)" transform="rotate(13 220.1 247.8)"/><ellipse cx="227.7" cy="525.4" rx="6.3" ry="5.6" fill="rgb(85,85,85)" transform="rotate(-3 227.7 525.4)"/><ellipse cx="266.0" cy="482.9" rx="5.0" ry="3.8" fill="rgb(85,85,85)" transform="rotate(20 266.0 482.9)"/><ellipse cx="149.0" cy="78.0" rx="5.8" ry="5.3" fill="rgb(91,91,91)" transform="rotate(5 149.0 78.0)"/><ellipse cx="354.6" cy="197.1" rx="5.3" ry="3.1" fill="rgb(79,79,79)" transform="rotate(-3 354.6 197.1)"/><ellipse cx="235.8" cy="240.8" rx="3.0" ry="2.5" fill="rgb(87,87,87)" transform="rotate(-13 235.8 240.8)"/><ellipse cx="142.1" cy="240.3" rx="3.8" ry="2.2" fill="rgb(95,95,95)" transform="rotate(23 142.1 240.3)"/><ellipse cx="313.5" cy="464.4" rx="4.6" ry="4.0" fill="rgb(81,81,81)" transform="rotate(12 313.5 464.4)"/><ellipse cx="266.4" cy="482.0" rx="3.2" ry="2.8" fill="rgb(79,79,79)" transform="rotate(2 266.4 482.0)"/><ellipse cx="449.6" cy="52.3" rx="3.8" ry="2.6" fill="rgb(83,83,83)" transform="rotate(-22 449.6 52.3)"/><ellipse cx="423.0" cy="440.2" rx="4.5" ry="3.1" fill="rgb(88,88,88)" transform="rotate(-23 423.0 440.2)"/><ellipse cx="10.8" cy="479.7" rx="4.1" ry="3.1" fill="rgb(96,96,96)" transform="rotate(24 10.8 479.7)"/><ellipse cx="221.4" cy="150.3" rx="4.0" ry="3.7" fill="rgb(95,95,95)" transform="rotate(-15 221.4 150.3)"/><ellipse cx="395.7" cy="220.6" rx="4.8" ry="3.0" fill="rgb(94,94,94)" transform="rotate(25 395.7 220.6)"/><ellipse cx="92.4" cy="353.0" rx="3.6" ry="3.3" fill="rgb(78,78,78)" transform="rotate(-20 92.4 353.0)"/><ellipse cx="342.2" cy="201.0" rx="6.6" ry="5.9" fill="rgb(91,91,91)" transform="rotate(-18 342.2 201.0)"/><ellipse cx="328.0" cy="498.4" rx="4.7" ry="2.7" fill="rgb(81,81,81)" transform="rotate(-10 328.0 498.4)"/><ellipse cx="334.9" cy="145.5" rx="3.6" ry="2.3" fill="rgb(90,90,90)" transform="rotate(15 334.9 145.5)"/><ellipse cx="173.7" cy="367.1" rx="6.5" ry="5.1" fill="rgb(81,81,81)" transform="rotate(-10 173.7 367.1)"/><ellipse cx="438.1" cy="369.5" rx="4.0" ry="3.2" fill="rgb(78,78,78)" transform="rotate(24 438.1 369.5)"/><ellipse cx="206.0" cy="303.5" rx="5.0" ry="2.9" fill="rgb(89,89,89)" transform="rotate(-11 206.0 303.5)"/><ellipse cx="115.7" cy="434.3" rx="3.2" ry="2.1" fill="rgb(92,92,92)" transform="rotate(-13 115.7 434.3)"/><ellipse cx="129.1" cy="312.9" rx="3.6" ry="3.3" fill="rgb(97,97,97)" transform="rotate(-23 129.1 312.9)"/><ellipse cx="216.2" cy="409.3" rx="4.4" ry="4.1" fill="rgb(87,87,87)" transform="rotate(-16 216.2 409.3)"/><ellipse cx="261.2" cy="359.0" rx="4.3" ry="3.5" fill="rgb(92,92,92)" transform="rotate(1 261.2 359.0)"/><ellipse cx="237.2" cy="454.4" rx="5.7" ry="4.3" fill="rgb(96,96,96)" transform="rotate(-16 237.2 454.4)"/><ellipse cx="367.9" cy="130.6" rx="5.4" ry="3.4" fill="rgb(85,85,85)" transform="rotate(14 367.9 130.6)"/><ellipse cx="371.2" cy="428.6" rx="3.8" ry="2.8" fill="rgb(81,81,81)" transform="rotate(4 371.2 428.6)"/><ellipse cx="234.0" cy="68.8" rx="5.3" ry="4.4" fill="rgb(88,88,88)" transform="rotate(19 234.0 68.8)"/><ellipse cx="81.9" cy="124.3" rx="2.9" ry="2.2" fill="rgb(85,85,85)" transform="rotate(-3 81.9 124.3)"/><ellipse cx="121.4" cy="432.1" rx="3.1" ry="2.8" fill="rgb(88,88,88)" transform="rotate(2 121.4 432.1)"/><ellipse cx="373.6" cy="165.3" rx="3.4" ry="2.3" fill="rgb(77,77,77)" transform="rotate(-9 373.6 165.3)"/><ellipse cx="292.3" cy="302.1" rx="3.9" ry="3.1" fill="rgb(78,78,78)" transform="rotate(16 292.3 302.1)"/><ellipse cx="77.9" cy="173.3" rx="3.5" ry="2.9" fill="rgb(93,93,93)" transform="rotate(14 77.9 173.3)"/><ellipse cx="25.2" cy="247.5" rx="4.3" ry="2.8" fill="rgb(96,96,96)" transform="rotate(-23 25.2 247.5)"/><ellipse cx="229.5" cy="414.4" rx="6.9" ry="4.2" fill="rgb(86,86,86)" transform="rotate(12 229.5 414.4)"/><ellipse cx="14.7" cy="166.5" rx="6.5" ry="4.0" fill="rgb(85,85,85)" transform="rotate(-10 14.7 166.5)"/><ellipse cx="198.5" cy="88.4" rx="2.9" ry="2.8" fill="rgb(92,92,92)" transform="rotate(12 198.5 88.4)"/><ellipse cx="105.7" cy="172.5" rx="5.1" ry="3.3" fill="rgb(86,86,86)" transform="rotate(22 105.7 172.5)"/><ellipse cx="169.6" cy="212.4" rx="6.9" ry="5.5" fill="rgb(77,77,77)" transform="rotate(-5 169.6 212.4)"/><ellipse cx="306.0" cy="79.9" rx="4.2" ry="3.5" fill="rgb(94,94,94)" transform="rotate(5 306.0 79.9)"/><ellipse cx="418.8" cy="272.2" rx="4.5" ry="3.9" fill="rgb(84,84,84)" transform="rotate(14 418.8 272.2)"/><ellipse cx="98.7" cy="217.4" rx="3.6" ry="2.7" fill="rgb(80,80,80)" transform="rotate(-15 98.7 217.4)"/><ellipse cx="98.3" cy="274.6" rx="4.1" ry="3.0" fill="rgb(97,97,97)" transform="rotate(9 98.3 274.6)"/><ellipse cx="407.5" cy="149.4" rx="4.4" ry="2.6" fill="rgb(91,91,91)" transform="rotate(-7 407.5 149.4)"/><ellipse cx="126.9" cy="60.8" rx="3.6" ry="2.3" fill="rgb(85,85,85)" transform="rotate(21 126.9 60.8)"/><ellipse cx="337.1" cy="179.9" rx="4.3" ry="2.6" fill="rgb(96,96,96)" transform="rotate(-7 337.1 179.9)"/><ellipse cx="361.2" cy="396.4" rx="6.6" ry="3.7" fill="rgb(83,83,83)" transform="rotate(-6 361.2 396.4)"/><ellipse cx="35.7" cy="472.0" rx="4.2" ry="3.6" fill="rgb(87,87,87)" transform="rotate(-22 35.7 472.0)"/><ellipse cx="183.9" cy="165.4" rx="3.0" ry="1.8" fill="rgb(89,89,89)" transform="rotate(-23 183.9 165.4)"/><ellipse cx="145.0" cy="253.8" rx="5.1" ry="3.1" fill="rgb(91,91,91)" transform="rotate(-12 145.0 253.8)"/><ellipse cx="342.1" cy="369.1" rx="3.4" ry="2.2" fill="rgb(82,82,82)" transform="rotate(11 342.1 369.1)"/><ellipse cx="189.3" cy="236.0" rx="6.4" ry="4.1" fill="rgb(82,82,82)" transform="rotate(-8 189.3 236.0)"/><ellipse cx="98.9" cy="71.4" rx="2.9" ry="2.3" fill="rgb(88,88,88)" transform="rotate(15 98.9 71.4)"/><ellipse cx="461.4" cy="193.9" rx="5.6" ry="5.2" fill="rgb(81,81,81)" transform="rotate(9 461.4 193.9)"/><ellipse cx="314.0" cy="506.6" rx="6.4" ry="4.2" fill="rgb(89,89,89)" transform="rotate(-21 314.0 506.6)"/><ellipse cx="200.0" cy="238.8" rx="3.1" ry="2.1" fill="rgb(83,83,83)" transform="rotate(-0 200.0 238.8)"/><ellipse cx="129.5" cy="127.5" rx="4.5" ry="3.3" fill="rgb(80,80,80)" transform="rotate(8 129.5 127.5)"/><ellipse cx="110.4" cy="96.3" rx="4.2" ry="3.0" fill="rgb(80,80,80)" transform="rotate(4 110.4 96.3)"/><ellipse cx="330.6" cy="315.3" rx="5.7" ry="3.2" fill="rgb(84,84,84)" transform="rotate(-7 330.6 315.3)"/><ellipse cx="26.0" cy="244.5" rx="3.0" ry="2.3" fill="rgb(88,88,88)" transform="rotate(-2 26.0 244.5)"/><ellipse cx="151.3" cy="172.6" rx="2.9" ry="2.0" fill="rgb(95,95,95)" transform="rotate(3 151.3 172.6)"/><ellipse cx="120.9" cy="370.0" rx="3.6" ry="2.6" fill="rgb(89,89,89)" transform="rotate(23 120.9 370.0)"/><ellipse cx="169.0" cy="326.3" rx="6.8" ry="5.8" fill="rgb(89,89,89)" transform="rotate(6 169.0 326.3)"/><ellipse cx="192.0" cy="249.8" rx="4.0" ry="3.5" fill="rgb(94,94,94)" transform="rotate(-6 192.0 249.8)"/><ellipse cx="429.9" cy="70.2" rx="3.4" ry="2.5" fill="rgb(83,83,83)" transform="rotate(-7 429.9 70.2)"/><ellipse cx="462.0" cy="123.3" rx="3.6" ry="2.3" fill="rgb(90,90,90)" transform="rotate(-13 462.0 123.3)"/><ellipse cx="-3.6" cy="310.9" rx="4.5" ry="2.9" fill="rgb(87,87,87)" transform="rotate(8 -3.6 310.9)"/><ellipse cx="257.5" cy="349.2" rx="5.2" ry="4.5" fill="rgb(96,96,96)" transform="rotate(-8 257.5 349.2)"/><ellipse cx="161.4" cy="473.9" rx="4.1" ry="3.4" fill="rgb(91,91,91)" transform="rotate(9 161.4 473.9)"/><ellipse cx="455.8" cy="444.4" rx="3.5" ry="2.8" fill="rgb(87,87,87)" transform="rotate(3 455.8 444.4)"/><ellipse cx="172.3" cy="188.0" rx="5.9" ry="4.5" fill="rgb(81,81,81)" transform="rotate(-13 172.3 188.0)"/><ellipse cx="151.0" cy="136.6" rx="5.0" ry="3.0" fill="rgb(78,78,78)" transform="rotate(-22 151.0 136.6)"/><ellipse cx="44.8" cy="387.5" rx="3.3" ry="2.4" fill="rgb(92,92,92)" transform="rotate(-1 44.8 387.5)"/><ellipse cx="73.5" cy="464.4" rx="6.5" ry="3.7" fill="rgb(82,82,82)" transform="rotate(0 73.5 464.4)"/><ellipse cx="375.9" cy="238.7" rx="5.8" ry="3.8" fill="rgb(91,91,91)" transform="rotate(-9 375.9 238.7)"/><ellipse cx="155.2" cy="413.4" rx="6.3" ry="5.6" fill="rgb(88,88,88)" transform="rotate(-4 155.2 413.4)"/><ellipse cx="333.2" cy="348.5" rx="6.3" ry="5.5" fill="rgb(79,79,79)" transform="rotate(-6 333.2 348.5)"/><ellipse cx="315.3" cy="162.0" rx="3.6" ry="2.0" fill="rgb(88,88,88)" transform="rotate(22 315.3 162.0)"/><ellipse cx="458.9" cy="115.7" rx="5.7" ry="4.1" fill="rgb(89,89,89)" transform="rotate(-5 458.9 115.7)"/><ellipse cx="441.2" cy="522.7" rx="3.0" ry="2.5" fill="rgb(79,79,79)" transform="rotate(-23 441.2 522.7)"/><ellipse cx="132.4" cy="400.1" rx="7.0" ry="4.2" fill="rgb(83,83,83)" transform="rotate(-24 132.4 400.1)"/><ellipse cx="254.8" cy="281.9" rx="4.4" ry="2.9" fill="rgb(93,93,93)" transform="rotate(17 254.8 281.9)"/><ellipse cx="131.3" cy="238.4" rx="5.4" ry="4.6" fill="rgb(97,97,97)" transform="rotate(-6 131.3 238.4)"/><ellipse cx="327.1" cy="311.9" rx="6.2" ry="3.8" fill="rgb(80,80,80)" transform="rotate(-20 327.1 311.9)"/><ellipse cx="441.3" cy="171.7" rx="4.9" ry="2.9" fill="rgb(83,83,83)" transform="rotate(-24 441.3 171.7)"/><ellipse cx="265.9" cy="120.4" rx="5.4" ry="3.6" fill="rgb(81,81,81)" transform="rotate(-1 265.9 120.4)"/><ellipse cx="170.5" cy="175.6" rx="3.0" ry="1.7" fill="rgb(95,95,95)" transform="rotate(-10 170.5 175.6)"/><ellipse cx="33.4" cy="138.9" rx="4.8" ry="4.6" fill="rgb(81,81,81)" transform="rotate(18 33.4 138.9)"/><ellipse cx="227.0" cy="249.3" rx="6.2" ry="4.4" fill="rgb(78,78,78)" transform="rotate(3 227.0 249.3)"/><ellipse cx="309.3" cy="348.6" rx="4.0" ry="3.7" fill="rgb(94,94,94)" transform="rotate(25 309.3 348.6)"/><ellipse cx="207.4" cy="448.8" rx="5.8" ry="3.6" fill="rgb(77,77,77)" transform="rotate(-17 207.4 448.8)"/><ellipse cx="52.7" cy="87.5" rx="4.3" ry="3.7" fill="rgb(83,83,83)" transform="rotate(1 52.7 87.5)"/><ellipse cx="1.0" cy="152.0" rx="6.8" ry="3.8" fill="rgb(87,87,87)" transform="rotate(16 1.0 152.0)"/><ellipse cx="373.9" cy="402.1" rx="4.5" ry="3.9" fill="rgb(93,93,93)" transform="rotate(13 373.9 402.1)"/><ellipse cx="466.3" cy="100.0" rx="6.8" ry="4.8" fill="rgb(91,91,91)" transform="rotate(-12 466.3 100.0)"/><ellipse cx="429.9" cy="63.2" rx="5.2" ry="3.3" fill="rgb(84,84,84)" transform="rotate(-7 429.9 63.2)"/><ellipse cx="309.4" cy="437.9" rx="4.3" ry="3.5" fill="rgb(84,84,84)" transform="rotate(-11 309.4 437.9)"/><ellipse cx="427.8" cy="205.1" rx="3.2" ry="2.2" fill="rgb(92,92,92)" transform="rotate(-14 427.8 205.1)"/><ellipse cx="350.5" cy="312.0" rx="5.7" ry="3.5" fill="rgb(79,79,79)" transform="rotate(-18 350.5 312.0)"/><ellipse cx="163.1" cy="257.0" rx="2.8" ry="2.1" fill="rgb(85,85,85)" transform="rotate(-9 163.1 257.0)"/><ellipse cx="252.2" cy="505.3" rx="3.7" ry="3.3" fill="rgb(83,83,83)" transform="rotate(13 252.2 505.3)"/><ellipse cx="47.7" cy="522.1" rx="4.6" ry="4.3" fill="rgb(81,81,81)" transform="rotate(-5 47.7 522.1)"/><ellipse cx="332.8" cy="136.6" rx="3.9" ry="3.2" fill="rgb(96,96,96)" transform="rotate(-9 332.8 136.6)"/><ellipse cx="83.5" cy="222.0" rx="7.0" ry="4.2" fill="rgb(89,89,89)" transform="rotate(-6 83.5 222.0)"/><ellipse cx="303.1" cy="153.0" rx="5.4" ry="4.9" fill="rgb(94,94,94)" transform="rotate(6 303.1 153.0)"/><ellipse cx="236.8" cy="322.2" rx="3.3" ry="2.9" fill="rgb(91,91,91)" transform="rotate(-2 236.8 322.2)"/><ellipse cx="313.4" cy="251.6" rx="4.4" ry="2.8" fill="rgb(89,89,89)" transform="rotate(4 313.4 251.6)"/><ellipse cx="241.8" cy="67.3" rx="5.4" ry="4.0" fill="rgb(89,89,89)" transform="rotate(5 241.8 67.3)"/><ellipse cx="440.4" cy="124.3" rx="4.8" ry="4.5" fill="rgb(92,92,92)" transform="rotate(-9 440.4 124.3)"/><ellipse cx="347.4" cy="523.0" rx="4.5" ry="4.0" fill="rgb(79,79,79)" transform="rotate(25 347.4 523.0)"/><ellipse cx="230.2" cy="163.4" rx="6.3" ry="5.1" fill="rgb(96,96,96)" transform="rotate(16 230.2 163.4)"/><ellipse cx="376.5" cy="295.5" rx="7.0" ry="4.0" fill="rgb(94,94,94)" transform="rotate(11 376.5 295.5)"/><ellipse cx="115.6" cy="436.2" rx="4.7" ry="3.6" fill="rgb(94,94,94)" transform="rotate(-15 115.6 436.2)"/><ellipse cx="129.4" cy="358.4" rx="3.1" ry="2.4" fill="rgb(93,93,93)" transform="rotate(-0 129.4 358.4)"/><ellipse cx="111.3" cy="432.8" rx="6.4" ry="5.5" fill="rgb(88,88,88)" transform="rotate(20 111.3 432.8)"/><ellipse cx="376.1" cy="124.2" rx="4.3" ry="2.6" fill="rgb(77,77,77)" transform="rotate(-8 376.1 124.2)"/><ellipse cx="408.5" cy="448.9" rx="3.3" ry="2.1" fill="rgb(84,84,84)" transform="rotate(17 408.5 448.9)"/><ellipse cx="290.3" cy="481.3" rx="3.1" ry="2.9" fill="rgb(81,81,81)" transform="rotate(6 290.3 481.3)"/><ellipse cx="414.1" cy="398.4" rx="3.6" ry="3.0" fill="rgb(85,85,85)" transform="rotate(-24 414.1 398.4)"/><ellipse cx="158.0" cy="202.1" rx="5.4" ry="3.6" fill="rgb(89,89,89)" transform="rotate(10 158.0 202.1)"/><ellipse cx="82.2" cy="112.9" rx="5.7" ry="4.2" fill="rgb(79,79,79)" transform="rotate(-19 82.2 112.9)"/><ellipse cx="444.9" cy="342.4" rx="4.3" ry="2.7" fill="rgb(97,97,97)" transform="rotate(10 444.9 342.4)"/><ellipse cx="347.2" cy="223.5" rx="4.1" ry="2.9" fill="rgb(79,79,79)" transform="rotate(7 347.2 223.5)"/><ellipse cx="198.6" cy="442.4" rx="4.5" ry="3.3" fill="rgb(87,87,87)" transform="rotate(22 198.6 442.4)"/><ellipse cx="161.2" cy="386.9" rx="3.8" ry="3.0" fill="rgb(82,82,82)" transform="rotate(19 161.2 386.9)"/><ellipse cx="132.7" cy="458.7" rx="5.6" ry="4.1" fill="rgb(96,96,96)" transform="rotate(-6 132.7 458.7)"/><ellipse cx="350.5" cy="338.2" rx="4.7" ry="2.7" fill="rgb(85,85,85)" transform="rotate(-11 350.5 338.2)"/><ellipse cx="206.3" cy="506.3" rx="4.0" ry="3.3" fill="rgb(90,90,90)" transform="rotate(-13 206.3 506.3)"/><ellipse cx="192.3" cy="114.9" rx="6.6" ry="4.3" fill="rgb(85,85,85)" transform="rotate(-8 192.3 114.9)"/><ellipse cx="387.4" cy="456.7" rx="5.3" ry="4.1" fill="rgb(79,79,79)" transform="rotate(20 387.4 456.7)"/><ellipse cx="38.2" cy="225.1" rx="4.4" ry="3.7" fill="rgb(90,90,90)" transform="rotate(-8 38.2 225.1)"/><ellipse cx="424.3" cy="504.0" rx="2.9" ry="2.3" fill="rgb(86,86,86)" transform="rotate(-7 424.3 504.0)"/><ellipse cx="217.7" cy="202.4" rx="5.6" ry="4.5" fill="rgb(96,96,96)" transform="rotate(24 217.7 202.4)"/><ellipse cx="469.5" cy="240.1" rx="6.3" ry="5.1" fill="rgb(91,91,91)" transform="rotate(25 469.5 240.1)"/><ellipse cx="27.7" cy="272.0" rx="4.5" ry="3.6" fill="rgb(81,81,81)" transform="rotate(24 27.7 272.0)"/><ellipse cx="95.9" cy="228.1" rx="3.4" ry="2.4" fill="rgb(92,92,92)" transform="rotate(-21 95.9 228.1)"/><ellipse cx="75.6" cy="360.9" rx="5.4" ry="4.6" fill="rgb(82,82,82)" transform="rotate(16 75.6 360.9)"/><ellipse cx="344.6" cy="421.4" rx="3.3" ry="2.4" fill="rgb(77,77,77)" transform="rotate(18 344.6 421.4)"/><ellipse cx="446.5" cy="478.4" rx="2.9" ry="2.0" fill="rgb(87,87,87)" transform="rotate(2 446.5 478.4)"/><ellipse cx="49.1" cy="427.7" rx="4.1" ry="3.1" fill="rgb(79,79,79)" transform="rotate(3 49.1 427.7)"/><ellipse cx="57.9" cy="94.1" rx="5.0" ry="3.3" fill="rgb(92,92,92)" transform="rotate(-13 57.9 94.1)"/><ellipse cx="193.4" cy="77.8" rx="3.7" ry="2.7" fill="rgb(88,88,88)" transform="rotate(-2 193.4 77.8)"/><ellipse cx="401.8" cy="101.7" rx="6.4" ry="3.9" fill="rgb(96,96,96)" transform="rotate(1 401.8 101.7)"/><ellipse cx="189.9" cy="343.4" rx="6.4" ry="6.0" fill="rgb(85,85,85)" transform="rotate(-24 189.9 343.4)"/><ellipse cx="69.3" cy="441.6" rx="5.9" ry="4.9" fill="rgb(80,80,80)" transform="rotate(2 69.3 441.6)"/><ellipse cx="9.6" cy="104.5" rx="4.1" ry="3.8" fill="rgb(90,90,90)" transform="rotate(17 9.6 104.5)"/><ellipse cx="18.0" cy="250.1" rx="3.1" ry="2.0" fill="rgb(79,79,79)" transform="rotate(21 18.0 250.1)"/><ellipse cx="152.8" cy="284.8" rx="5.5" ry="5.0" fill="rgb(96,96,96)" transform="rotate(3 152.8 284.8)"/><ellipse cx="235.0" cy="482.2" rx="4.5" ry="3.0" fill="rgb(92,92,92)" transform="rotate(-12 235.0 482.2)"/><ellipse cx="171.5" cy="256.3" rx="4.8" ry="3.3" fill="rgb(85,85,85)" transform="rotate(-2 171.5 256.3)"/><ellipse cx="19.6" cy="449.8" rx="3.1" ry="2.3" fill="rgb(88,88,88)" transform="rotate(-5 19.6 449.8)"/><ellipse cx="102.2" cy="99.2" rx="4.4" ry="2.9" fill="rgb(86,86,86)" transform="rotate(-13 102.2 99.2)"/><ellipse cx="353.5" cy="284.0" rx="2.8" ry="2.0" fill="rgb(96,96,96)" transform="rotate(-25 353.5 284.0)"/><ellipse cx="279.0" cy="509.3" rx="4.3" ry="3.4" fill="rgb(84,84,84)" transform="rotate(-10 279.0 509.3)"/><ellipse cx="286.6" cy="332.6" rx="4.1" ry="3.1" fill="rgb(87,87,87)" transform="rotate(13 286.6 332.6)"/><ellipse cx="21.3" cy="96.2" rx="3.9" ry="2.5" fill="rgb(93,93,93)" transform="rotate(-4 21.3 96.2)"/><ellipse cx="406.2" cy="243.5" rx="4.0" ry="3.3" fill="rgb(78,78,78)" transform="rotate(24 406.2 243.5)"/><ellipse cx="392.6" cy="208.2" rx="4.1" ry="3.6" fill="rgb(93,93,93)" transform="rotate(7 392.6 208.2)"/><ellipse cx="23.1" cy="415.5" rx="3.0" ry="2.4" fill="rgb(88,88,88)" transform="rotate(21 23.1 415.5)"/><ellipse cx="300.7" cy="62.6" rx="6.7" ry="5.7" fill="rgb(88,88,88)" transform="rotate(-25 300.7 62.6)"/><ellipse cx="347.5" cy="251.1" rx="5.7" ry="5.3" fill="rgb(95,95,95)" transform="rotate(-21 347.5 251.1)"/><ellipse cx="368.7" cy="261.7" rx="6.0" ry="4.2" fill="rgb(86,86,86)" transform="rotate(-3 368.7 261.7)"/><ellipse cx="52.3" cy="204.3" rx="5.9" ry="3.4" fill="rgb(79,79,79)" transform="rotate(17 52.3 204.3)"/><ellipse cx="313.8" cy="312.9" rx="3.3" ry="2.0" fill="rgb(83,83,83)" transform="rotate(23 313.8 312.9)"/><ellipse cx="263.2" cy="491.0" rx="3.7" ry="2.6" fill="rgb(87,87,87)" transform="rotate(17 263.2 491.0)"/><ellipse cx="54.8" cy="467.9" rx="4.8" ry="2.7" fill="rgb(85,85,85)" transform="rotate(-6 54.8 467.9)"/><ellipse cx="317.7" cy="493.8" rx="4.9" ry="4.0" fill="rgb(84,84,84)" transform="rotate(14 317.7 493.8)"/><ellipse cx="46.2" cy="405.4" rx="3.5" ry="2.7" fill="rgb(81,81,81)" transform="rotate(-8 46.2 405.4)"/><ellipse cx="74.2" cy="218.5" rx="5.3" ry="4.0" fill="rgb(84,84,84)" transform="rotate(4 74.2 218.5)"/><ellipse cx="397.8" cy="222.5" rx="5.3" ry="3.9" fill="rgb(97,97,97)" transform="rotate(-9 397.8 222.5)"/><ellipse cx="328.7" cy="163.2" rx="3.9" ry="3.3" fill="rgb(88,88,88)" transform="rotate(-12 328.7 163.2)"/><ellipse cx="26.6" cy="444.6" rx="4.4" ry="3.7" fill="rgb(85,85,85)" transform="rotate(6 26.6 444.6)"/><ellipse cx="262.9" cy="516.5" rx="6.6" ry="4.8" fill="rgb(86,86,86)" transform="rotate(-13 262.9 516.5)"/><ellipse cx="355.2" cy="100.7" rx="4.1" ry="3.6" fill="rgb(77,77,77)" transform="rotate(10 355.2 100.7)"/><ellipse cx="267.0" cy="314.5" rx="4.2" ry="2.6" fill="rgb(96,96,96)" transform="rotate(13 267.0 314.5)"/><ellipse cx="380.3" cy="98.5" rx="6.1" ry="3.9" fill="rgb(81,81,81)" transform="rotate(2 380.3 98.5)"/><ellipse cx="286.9" cy="109.5" rx="6.0" ry="4.7" fill="rgb(95,95,95)" transform="rotate(21 286.9 109.5)"/><ellipse cx="324.8" cy="225.3" rx="6.8" ry="5.7" fill="rgb(82,82,82)" transform="rotate(18 324.8 225.3)"/><ellipse cx="342.7" cy="178.0" rx="3.8" ry="2.1" fill="rgb(87,87,87)" transform="rotate(-12 342.7 178.0)"/><ellipse cx="135.8" cy="172.4" rx="3.4" ry="2.5" fill="rgb(82,82,82)" transform="rotate(-11 135.8 172.4)"/><ellipse cx="128.4" cy="294.4" rx="6.5" ry="4.0" fill="rgb(94,94,94)" transform="rotate(18 128.4 294.4)"/><ellipse cx="286.7" cy="310.8" rx="5.9" ry="4.5" fill="rgb(90,90,90)" transform="rotate(21 286.7 310.8)"/><ellipse cx="365.8" cy="175.7" rx="3.0" ry="2.8" fill="rgb(84,84,84)" transform="rotate(14 365.8 175.7)"/><ellipse cx="107.3" cy="267.5" rx="4.4" ry="3.7" fill="rgb(96,96,96)" transform="rotate(0 107.3 267.5)"/><ellipse cx="266.0" cy="218.0" rx="3.8" ry="3.5" fill="rgb(79,79,79)" transform="rotate(22 266.0 218.0)"/><ellipse cx="309.5" cy="86.2" rx="6.6" ry="3.9" fill="rgb(88,88,88)" transform="rotate(-19 309.5 86.2)"/><ellipse cx="467.7" cy="199.2" rx="6.5" ry="3.7" fill="rgb(90,90,90)" transform="rotate(-22 467.7 199.2)"/><ellipse cx="10.2" cy="323.8" rx="6.9" ry="5.7" fill="rgb(94,94,94)" transform="rotate(14 10.2 323.8)"/><ellipse cx="244.6" cy="88.7" rx="5.0" ry="3.1" fill="rgb(87,87,87)" transform="rotate(-7 244.6 88.7)"/><ellipse cx="234.0" cy="146.0" rx="5.8" ry="4.1" fill="rgb(86,86,86)" transform="rotate(-21 234.0 146.0)"/><ellipse cx="228.3" cy="317.4" rx="6.9" ry="5.3" fill="rgb(79,79,79)" transform="rotate(-10 228.3 317.4)"/><ellipse cx="156.1" cy="386.2" rx="6.7" ry="6.3" fill="rgb(96,96,96)" transform="rotate(21 156.1 386.2)"/><ellipse cx="405.6" cy="497.0" rx="2.9" ry="2.2" fill="rgb(89,89,89)" transform="rotate(9 405.6 497.0)"/><ellipse cx="288.3" cy="343.9" rx="6.7" ry="3.9" fill="rgb(87,87,87)" transform="rotate(23 288.3 343.9)"/><ellipse cx="11.2" cy="105.2" rx="6.5" ry="6.0" fill="rgb(77,77,77)" transform="rotate(-23 11.2 105.2)"/><ellipse cx="391.8" cy="379.7" rx="5.0" ry="3.9" fill="rgb(92,92,92)" transform="rotate(15 391.8 379.7)"/><ellipse cx="-3.7" cy="84.3" rx="6.1" ry="5.8" fill="rgb(94,94,94)" transform="rotate(-5 -3.7 84.3)"/><ellipse cx="156.1" cy="217.0" rx="2.9" ry="2.5" fill="rgb(82,82,82)" transform="rotate(4 156.1 217.0)"/><ellipse cx="247.0" cy="211.6" rx="5.6" ry="4.1" fill="rgb(81,81,81)" transform="rotate(19 247.0 211.6)"/><ellipse cx="79.8" cy="123.4" rx="3.9" ry="2.9" fill="rgb(92,92,92)" transform="rotate(-8 79.8 123.4)"/><ellipse cx="109.6" cy="363.5" rx="3.9" ry="3.0" fill="rgb(82,82,82)" transform="rotate(19 109.6 363.5)"/><ellipse cx="84.0" cy="162.5" rx="4.1" ry="2.8" fill="rgb(91,91,91)" transform="rotate(9 84.0 162.5)"/><ellipse cx="373.0" cy="309.1" rx="3.1" ry="2.7" fill="rgb(81,81,81)" transform="rotate(-14 373.0 309.1)"/><ellipse cx="193.7" cy="523.1" rx="4.4" ry="3.0" fill="rgb(95,95,95)" transform="rotate(25 193.7 523.1)"/><ellipse cx="180.7" cy="116.5" rx="6.1" ry="5.3" fill="rgb(83,83,83)" transform="rotate(15 180.7 116.5)"/><ellipse cx="177.0" cy="188.6" rx="5.3" ry="4.5" fill="rgb(86,86,86)" transform="rotate(16 177.0 188.6)"/><ellipse cx="2.6" cy="289.5" rx="4.4" ry="2.5" fill="rgb(95,95,95)" transform="rotate(-18 2.6 289.5)"/><ellipse cx="94.1" cy="470.0" rx="6.8" ry="6.3" fill="rgb(83,83,83)" transform="rotate(22 94.1 470.0)"/><ellipse cx="63.6" cy="392.1" rx="6.8" ry="4.2" fill="rgb(79,79,79)" transform="rotate(9 63.6 392.1)"/><ellipse cx="417.0" cy="397.8" rx="6.8" ry="5.0" fill="rgb(84,84,84)" transform="rotate(-19 417.0 397.8)"/><ellipse cx="126.2" cy="498.9" rx="3.1" ry="1.9" fill="rgb(84,84,84)" transform="rotate(-23 126.2 498.9)"/><ellipse cx="142.4" cy="139.0" rx="3.3" ry="2.5" fill="rgb(88,88,88)" transform="rotate(3 142.4 139.0)"/><ellipse cx="359.6" cy="302.7" rx="6.8" ry="3.9" fill="rgb(81,81,81)" transform="rotate(-21 359.6 302.7)"/><ellipse cx="143.6" cy="414.1" rx="6.7" ry="5.0" fill="rgb(80,80,80)" transform="rotate(-8 143.6 414.1)"/><ellipse cx="267.1" cy="192.1" rx="6.1" ry="5.8" fill="rgb(86,86,86)" transform="rotate(5 267.1 192.1)"/><ellipse cx="399.5" cy="273.4" rx="3.6" ry="3.3" fill="rgb(96,96,96)" transform="rotate(-24 399.5 273.4)"/><ellipse cx="359.8" cy="242.7" rx="3.0" ry="1.9" fill="rgb(80,80,80)" transform="rotate(12 359.8 242.7)"/><ellipse cx="96.9" cy="61.3" rx="3.7" ry="3.2" fill="rgb(87,87,87)" transform="rotate(8 96.9 61.3)"/><ellipse cx="217.8" cy="138.9" rx="2.9" ry="1.9" fill="rgb(77,77,77)" transform="rotate(-12 217.8 138.9)"/><ellipse cx="291.1" cy="227.8" rx="4.8" ry="3.8" fill="rgb(83,83,83)" transform="rotate(-7 291.1 227.8)"/><ellipse cx="417.6" cy="328.5" rx="4.6" ry="3.5" fill="rgb(86,86,86)" transform="rotate(-8 417.6 328.5)"/><ellipse cx="431.8" cy="163.1" rx="6.7" ry="6.0" fill="rgb(94,94,94)" transform="rotate(-17 431.8 163.1)"/><ellipse cx="238.7" cy="520.6" rx="4.0" ry="2.5" fill="rgb(91,91,91)" transform="rotate(-13 238.7 520.6)"/><ellipse cx="274.4" cy="127.0" rx="6.8" ry="4.5" fill="rgb(78,78,78)" transform="rotate(9 274.4 127.0)"/><ellipse cx="161.6" cy="318.2" rx="4.9" ry="4.5" fill="rgb(87,87,87)" transform="rotate(-6 161.6 318.2)"/><ellipse cx="-3.2" cy="288.3" rx="3.9" ry="3.1" fill="rgb(89,89,89)" transform="rotate(-2 -3.2 288.3)"/><ellipse cx="38.9" cy="288.8" rx="4.8" ry="3.9" fill="rgb(96,96,96)" transform="rotate(-11 38.9 288.8)"/><ellipse cx="207.2" cy="92.3" rx="6.2" ry="4.0" fill="rgb(93,93,93)" transform="rotate(15 207.2 92.3)"/><ellipse cx="117.5" cy="481.7" rx="4.9" ry="3.5" fill="rgb(88,88,88)" transform="rotate(22 117.5 481.7)"/><ellipse cx="229.7" cy="281.5" rx="4.0" ry="3.6" fill="rgb(87,87,87)" transform="rotate(-8 229.7 281.5)"/><ellipse cx="89.7" cy="154.4" rx="6.3" ry="5.5" fill="rgb(96,96,96)" transform="rotate(21 89.7 154.4)"/><ellipse cx="322.8" cy="431.6" rx="5.8" ry="5.1" fill="rgb(93,93,93)" transform="rotate(-16 322.8 431.6)"/><ellipse cx="384.6" cy="196.4" rx="3.8" ry="3.5" fill="rgb(77,77,77)" transform="rotate(1 384.6 196.4)"/><ellipse cx="159.7" cy="428.9" rx="5.4" ry="4.9" fill="rgb(96,96,96)" transform="rotate(7 159.7 428.9)"/><ellipse cx="26.8" cy="369.6" rx="3.3" ry="3.1" fill="rgb(94,94,94)" transform="rotate(-9 26.8 369.6)"/><ellipse cx="84.7" cy="382.5" rx="6.0" ry="5.6" fill="rgb(89,89,89)" transform="rotate(-19 84.7 382.5)"/><ellipse cx="342.6" cy="79.9" rx="6.4" ry="5.5" fill="rgb(93,93,93)" transform="rotate(19 342.6 79.9)"/><ellipse cx="267.5" cy="501.1" rx="5.5" ry="4.1" fill="rgb(84,84,84)" transform="rotate(-7 267.5 501.1)"/><ellipse cx="6.9" cy="128.6" rx="6.1" ry="3.9" fill="rgb(90,90,90)" transform="rotate(14 6.9 128.6)"/><ellipse cx="327.3" cy="297.5" rx="4.1" ry="2.7" fill="rgb(80,80,80)" transform="rotate(7 327.3 297.5)"/><ellipse cx="323.4" cy="500.5" rx="4.2" ry="3.9" fill="rgb(95,95,95)" transform="rotate(-10 323.4 500.5)"/><ellipse cx="450.1" cy="346.8" rx="6.8" ry="5.9" fill="rgb(83,83,83)" transform="rotate(-11 450.1 346.8)"/><ellipse cx="245.3" cy="284.2" rx="2.9" ry="2.6" fill="rgb(87,87,87)" transform="rotate(-1 245.3 284.2)"/><ellipse cx="351.2" cy="170.9" rx="3.6" ry="2.8" fill="rgb(81,81,81)" transform="rotate(-9 351.2 170.9)"/><ellipse cx="29.4" cy="76.8" rx="4.3" ry="3.3" fill="rgb(96,96,96)" transform="rotate(7 29.4 76.8)"/><ellipse cx="193.7" cy="245.6" rx="3.8" ry="2.8" fill="rgb(96,96,96)" transform="rotate(-19 193.7 245.6)"/><ellipse cx="202.5" cy="378.4" rx="6.0" ry="4.6" fill="rgb(90,90,90)" transform="rotate(22 202.5 378.4)"/><ellipse cx="426.5" cy="171.6" rx="5.1" ry="4.8" fill="rgb(87,87,87)" transform="rotate(-16 426.5 171.6)"/><ellipse cx="361.4" cy="79.1" rx="3.4" ry="2.6" fill="rgb(82,82,82)" transform="rotate(11 361.4 79.1)"/><ellipse cx="342.7" cy="204.0" rx="6.0" ry="4.9" fill="rgb(91,91,91)" transform="rotate(-2 342.7 204.0)"/><ellipse cx="202.3" cy="102.7" rx="4.8" ry="4.5" fill="rgb(95,95,95)" transform="rotate(-22 202.3 102.7)"/><ellipse cx="29.9" cy="180.2" rx="5.7" ry="4.1" fill="rgb(79,79,79)" transform="rotate(-4 29.9 180.2)"/><ellipse cx="269.4" cy="406.3" rx="4.5" ry="3.6" fill="rgb(90,90,90)" transform="rotate(6 269.4 406.3)"/><ellipse cx="18.1" cy="390.2" rx="3.3" ry="1.9" fill="rgb(86,86,86)" transform="rotate(-24 18.1 390.2)"/><ellipse cx="30.8" cy="238.1" rx="4.8" ry="2.8" fill="rgb(96,96,96)" transform="rotate(18 30.8 238.1)"/><ellipse cx="228.1" cy="331.8" rx="4.1" ry="3.9" fill="rgb(79,79,79)" transform="rotate(-10 228.1 331.8)"/><ellipse cx="101.4" cy="464.1" rx="4.9" ry="3.5" fill="rgb(85,85,85)" transform="rotate(19 101.4 464.1)"/><ellipse cx="118.8" cy="428.7" rx="5.8" ry="4.2" fill="rgb(84,84,84)" transform="rotate(-3 118.8 428.7)"/><ellipse cx="212.1" cy="202.2" rx="5.4" ry="3.9" fill="rgb(83,83,83)" transform="rotate(14 212.1 202.2)"/><ellipse cx="213.1" cy="277.4" rx="6.5" ry="4.8" fill="rgb(84,84,84)" transform="rotate(20 213.1 277.4)"/><ellipse cx="461.7" cy="426.0" rx="4.5" ry="3.7" fill="rgb(92,92,92)" transform="rotate(-10 461.7 426.0)"/><ellipse cx="341.3" cy="504.1" rx="5.6" ry="4.5" fill="rgb(85,85,85)" transform="rotate(8 341.3 504.1)"/><ellipse cx="103.8" cy="418.7" rx="5.1" ry="4.8" fill="rgb(83,83,83)" transform="rotate(11 103.8 418.7)"/><ellipse cx="4.0" cy="250.1" rx="6.0" ry="3.9" fill="rgb(89,89,89)" transform="rotate(-14 4.0 250.1)"/><ellipse cx="186.0" cy="525.0" rx="3.6" ry="3.3" fill="rgb(78,78,78)" transform="rotate(4 186.0 525.0)"/><ellipse cx="387.8" cy="450.6" rx="4.4" ry="3.5" fill="rgb(91,91,91)" transform="rotate(13 387.8 450.6)"/><ellipse cx="352.1" cy="327.6" rx="3.9" ry="3.2" fill="rgb(88,88,88)" transform="rotate(2 352.1 327.6)"/><ellipse cx="466.8" cy="117.0" rx="6.1" ry="4.1" fill="rgb(91,91,91)" transform="rotate(23 466.8 117.0)"/><ellipse cx="126.9" cy="322.0" rx="5.0" ry="3.8" fill="rgb(80,80,80)" transform="rotate(6 126.9 322.0)"/><ellipse cx="422.2" cy="367.7" rx="4.0" ry="3.5" fill="rgb(85,85,85)" transform="rotate(-18 422.2 367.7)"/><ellipse cx="285.0" cy="271.1" rx="5.0" ry="4.8" fill="rgb(88,88,88)" transform="rotate(23 285.0 271.1)"/><ellipse cx="164.2" cy="413.2" rx="3.1" ry="2.1" fill="rgb(91,91,91)" transform="rotate(10 164.2 413.2)"/><ellipse cx="391.2" cy="233.0" rx="3.9" ry="2.7" fill="rgb(87,87,87)" transform="rotate(-24 391.2 233.0)"/><ellipse cx="174.7" cy="364.8" rx="3.4" ry="2.3" fill="rgb(94,94,94)" transform="rotate(22 174.7 364.8)"/><ellipse cx="115.1" cy="136.7" rx="3.3" ry="1.9" fill="rgb(93,93,93)" transform="rotate(12 115.1 136.7)"/><ellipse cx="122.1" cy="284.8" rx="5.7" ry="3.2" fill="rgb(93,93,93)" transform="rotate(18 122.1 284.8)"/><ellipse cx="96.8" cy="386.8" rx="5.7" ry="3.9" fill="rgb(94,94,94)" transform="rotate(-14 96.8 386.8)"/><ellipse cx="222.1" cy="201.3" rx="4.7" ry="4.1" fill="rgb(88,88,88)" transform="rotate(5 222.1 201.3)"/><ellipse cx="466.8" cy="158.3" rx="3.7" ry="3.0" fill="rgb(80,80,80)" transform="rotate(23 466.8 158.3)"/><ellipse cx="158.8" cy="261.5" rx="4.6" ry="4.1" fill="rgb(95,95,95)" transform="rotate(9 158.8 261.5)"/><ellipse cx="77.8" cy="221.1" rx="5.8" ry="3.7" fill="rgb(95,95,95)" transform="rotate(19 77.8 221.1)"/><ellipse cx="104.0" cy="225.4" rx="3.8" ry="3.1" fill="rgb(77,77,77)" transform="rotate(10 104.0 225.4)"/><ellipse cx="25.9" cy="452.4" rx="5.1" ry="4.0" fill="rgb(78,78,78)" transform="rotate(-23 25.9 452.4)"/><ellipse cx="164.4" cy="520.7" rx="5.3" ry="4.8" fill="rgb(78,78,78)" transform="rotate(-20 164.4 520.7)"/><ellipse cx="6.0" cy="383.8" rx="3.5" ry="2.3" fill="rgb(90,90,90)" transform="rotate(10 6.0 383.8)"/><ellipse cx="149.8" cy="274.5" rx="4.0" ry="3.1" fill="rgb(84,84,84)" transform="rotate(-7 149.8 274.5)"/><ellipse cx="114.7" cy="191.1" rx="3.9" ry="2.2" fill="rgb(83,83,83)" transform="rotate(5 114.7 191.1)"/><ellipse cx="124.2" cy="105.8" rx="6.4" ry="4.7" fill="rgb(87,87,87)" transform="rotate(-9 124.2 105.8)"/><ellipse cx="419.1" cy="410.9" rx="5.4" ry="4.4" fill="rgb(91,91,91)" transform="rotate(0 419.1 410.9)"/><ellipse cx="193.1" cy="237.6" rx="4.9" ry="3.6" fill="rgb(87,87,87)" transform="rotate(2 193.1 237.6)"/><ellipse cx="372.2" cy="476.9" rx="3.7" ry="2.1" fill="rgb(83,83,83)" transform="rotate(-23 372.2 476.9)"/><ellipse cx="375.9" cy="347.3" rx="4.0" ry="2.5" fill="rgb(94,94,94)" transform="rotate(17 375.9 347.3)"/><ellipse cx="322.1" cy="381.3" rx="5.9" ry="4.3" fill="rgb(85,85,85)" transform="rotate(3 322.1 381.3)"/><ellipse cx="416.0" cy="523.9" rx="6.7" ry="5.9" fill="rgb(78,78,78)" transform="rotate(-13 416.0 523.9)"/><ellipse cx="459.2" cy="310.7" rx="5.0" ry="3.3" fill="rgb(94,94,94)" transform="rotate(1 459.2 310.7)"/><ellipse cx="468.4" cy="88.0" rx="7.0" ry="3.9" fill="rgb(80,80,80)" transform="rotate(-6 468.4 88.0)"/><ellipse cx="301.0" cy="104.7" rx="5.2" ry="4.8" fill="rgb(85,85,85)" transform="rotate(13 301.0 104.7)"/><ellipse cx="278.3" cy="329.2" rx="3.5" ry="2.6" fill="rgb(95,95,95)" transform="rotate(9 278.3 329.2)"/><ellipse cx="99.4" cy="264.8" rx="5.1" ry="3.5" fill="rgb(88,88,88)" transform="rotate(7 99.4 264.8)"/><ellipse cx="4.5" cy="156.7" rx="5.6" ry="3.5" fill="rgb(78,78,78)" transform="rotate(13 4.5 156.7)"/><ellipse cx="155.3" cy="507.9" rx="5.1" ry="3.0" fill="rgb(89,89,89)" transform="rotate(-12 155.3 507.9)"/><ellipse cx="384.5" cy="396.7" rx="6.0" ry="3.4" fill="rgb(77,77,77)" transform="rotate(15 384.5 396.7)"/><ellipse cx="63.0" cy="148.0" rx="2.9" ry="1.8" fill="rgb(86,86,86)" transform="rotate(23 63.0 148.0)"/><ellipse cx="149.3" cy="175.4" rx="6.3" ry="3.9" fill="rgb(89,89,89)" transform="rotate(6 149.3 175.4)"/><ellipse cx="442.2" cy="72.8" rx="5.2" ry="3.6" fill="rgb(93,93,93)" transform="rotate(-12 442.2 72.8)"/><ellipse cx="337.0" cy="140.2" rx="4.9" ry="4.6" fill="rgb(81,81,81)" transform="rotate(-11 337.0 140.2)"/><ellipse cx="433.7" cy="373.0" rx="3.1" ry="1.9" fill="rgb(81,81,81)" transform="rotate(-11 433.7 373.0)"/><ellipse cx="398.9" cy="385.4" rx="6.9" ry="5.7" fill="rgb(89,89,89)" transform="rotate(-6 398.9 385.4)"/><ellipse cx="338.2" cy="286.9" rx="3.0" ry="2.3" fill="rgb(84,84,84)" transform="rotate(2 338.2 286.9)"/><ellipse cx="19.3" cy="65.3" rx="6.9" ry="4.8" fill="rgb(83,83,83)" transform="rotate(-18 19.3 65.3)"/><ellipse cx="278.6" cy="487.4" rx="3.6" ry="2.7" fill="rgb(87,87,87)" transform="rotate(13 278.6 487.4)"/><ellipse cx="265.5" cy="165.7" rx="3.6" ry="3.0" fill="rgb(78,78,78)" transform="rotate(18 265.5 165.7)"/><ellipse cx="12.0" cy="142.2" rx="4.8" ry="4.2" fill="rgb(89,89,89)" transform="rotate(12 12.0 142.2)"/><ellipse cx="359.0" cy="395.9" rx="3.0" ry="2.7" fill="rgb(80,80,80)" transform="rotate(-17 359.0 395.9)"/><ellipse cx="13.9" cy="65.5" rx="6.5" ry="4.6" fill="rgb(78,78,78)" transform="rotate(-23 13.9 65.5)"/><ellipse cx="399.7" cy="338.4" rx="6.6" ry="3.8" fill="rgb(79,79,79)" transform="rotate(-11 399.7 338.4)"/><ellipse cx="87.1" cy="105.4" rx="3.6" ry="2.9" fill="rgb(80,80,80)" transform="rotate(-17 87.1 105.4)"/><ellipse cx="251.4" cy="230.7" rx="3.4" ry="2.7" fill="rgb(87,87,87)" transform="rotate(-6 251.4 230.7)"/><ellipse cx="222.2" cy="70.9" rx="5.4" ry="3.4" fill="rgb(83,83,83)" transform="rotate(-25 222.2 70.9)"/><ellipse cx="419.4" cy="331.7" rx="4.4" ry="3.4" fill="rgb(96,96,96)" transform="rotate(-18 419.4 331.7)"/><ellipse cx="178.9" cy="389.0" rx="4.4" ry="3.6" fill="rgb(95,95,95)" transform="rotate(-23 178.9 389.0)"/><ellipse cx="131.7" cy="191.4" rx="6.0" ry="5.1" fill="rgb(91,91,91)" transform="rotate(21 131.7 191.4)"/><ellipse cx="84.6" cy="239.2" rx="6.4" ry="5.5" fill="rgb(79,79,79)" transform="rotate(24 84.6 239.2)"/><ellipse cx="349.2" cy="464.2" rx="4.3" ry="3.4" fill="rgb(96,96,96)" transform="rotate(20 349.2 464.2)"/><ellipse cx="271.3" cy="475.6" rx="7.0" ry="6.2" fill="rgb(90,90,90)" transform="rotate(23 271.3 475.6)"/><ellipse cx="64.6" cy="244.2" rx="5.2" ry="3.1" fill="rgb(92,92,92)" transform="rotate(-22 64.6 244.2)"/><ellipse cx="295.9" cy="185.1" rx="4.2" ry="3.3" fill="rgb(80,80,80)" transform="rotate(-3 295.9 185.1)"/><ellipse cx="404.9" cy="521.7" rx="3.9" ry="2.7" fill="rgb(91,91,91)" transform="rotate(-16 404.9 521.7)"/><ellipse cx="401.0" cy="146.6" rx="5.1" ry="3.5" fill="rgb(77,77,77)" transform="rotate(-25 401.0 146.6)"/><ellipse cx="-3.1" cy="208.2" rx="4.0" ry="3.7" fill="rgb(90,90,90)" transform="rotate(-22 -3.1 208.2)"/><ellipse cx="337.5" cy="162.7" rx="4.8" ry="4.0" fill="rgb(94,94,94)" transform="rotate(22 337.5 162.7)"/><ellipse cx="196.8" cy="203.2" rx="4.5" ry="3.0" fill="rgb(92,92,92)" transform="rotate(-2 196.8 203.2)"/><ellipse cx="323.0" cy="124.3" rx="6.1" ry="5.7" fill="rgb(81,81,81)" transform="rotate(6 323.0 124.3)"/><ellipse cx="73.3" cy="68.8" rx="4.5" ry="2.8" fill="rgb(91,91,91)" transform="rotate(4 73.3 68.8)"/><ellipse cx="317.7" cy="512.8" rx="3.0" ry="1.8" fill="rgb(77,77,77)" transform="rotate(-2 317.7 512.8)"/><ellipse cx="389.3" cy="377.5" rx="5.1" ry="4.6" fill="rgb(84,84,84)" transform="rotate(-19 389.3 377.5)"/><ellipse cx="302.0" cy="64.2" rx="3.8" ry="2.1" fill="rgb(80,80,80)" transform="rotate(-22 302.0 64.2)"/><ellipse cx="249.5" cy="113.0" rx="5.3" ry="4.7" fill="rgb(84,84,84)" transform="rotate(-19 249.5 113.0)"/><ellipse cx="316.2" cy="398.8" rx="6.5" ry="5.0" fill="rgb(88,88,88)" transform="rotate(18 316.2 398.8)"/><ellipse cx="319.0" cy="516.0" rx="4.0" ry="3.4" fill="rgb(89,89,89)" transform="rotate(-2 319.0 516.0)"/><ellipse cx="1.1" cy="278.8" rx="3.9" ry="3.1" fill="rgb(87,87,87)" transform="rotate(1 1.1 278.8)"/><ellipse cx="24.0" cy="114.6" rx="5.3" ry="4.4" fill="rgb(97,97,97)" transform="rotate(15 24.0 114.6)"/><ellipse cx="134.4" cy="268.9" rx="4.9" ry="4.3" fill="rgb(85,85,85)" transform="rotate(21 134.4 268.9)"/><ellipse cx="226.8" cy="241.4" rx="4.8" ry="3.3" fill="rgb(97,97,97)" transform="rotate(-23 226.8 241.4)"/><ellipse cx="186.6" cy="89.8" rx="5.6" ry="3.4" fill="rgb(80,80,80)" transform="rotate(-4 186.6 89.8)"/><ellipse cx="283.2" cy="415.5" rx="4.7" ry="3.1" fill="rgb(84,84,84)" transform="rotate(19 283.2 415.5)"/><ellipse cx="97.7" cy="57.4" rx="6.5" ry="4.8" fill="rgb(79,79,79)" transform="rotate(-18 97.7 57.4)"/><ellipse cx="420.7" cy="408.6" rx="3.1" ry="2.5" fill="rgb(81,81,81)" transform="rotate(-3 420.7 408.6)"/><ellipse cx="284.6" cy="76.2" rx="6.7" ry="4.6" fill="rgb(79,79,79)" transform="rotate(14 284.6 76.2)"/><ellipse cx="48.1" cy="69.7" rx="5.5" ry="4.1" fill="rgb(95,95,95)" transform="rotate(15 48.1 69.7)"/><ellipse cx="94.5" cy="73.5" rx="5.3" ry="3.9" fill="rgb(83,83,83)" transform="rotate(21 94.5 73.5)"/><ellipse cx="95.4" cy="358.2" rx="3.1" ry="2.9" fill="rgb(96,96,96)" transform="rotate(6 95.4 358.2)"/><ellipse cx="148.8" cy="396.6" rx="6.6" ry="5.7" fill="rgb(77,77,77)" transform="rotate(0 148.8 396.6)"/><ellipse cx="62.7" cy="312.1" rx="6.8" ry="6.1" fill="rgb(82,82,82)" transform="rotate(3 62.7 312.1)"/><ellipse cx="147.4" cy="132.2" rx="5.9" ry="5.1" fill="rgb(83,83,83)" transform="rotate(-4 147.4 132.2)"/><ellipse cx="328.2" cy="398.3" rx="4.7" ry="2.8" fill="rgb(78,78,78)" transform="rotate(-17 328.2 398.3)"/><ellipse cx="390.2" cy="288.2" rx="5.5" ry="3.8" fill="rgb(84,84,84)" transform="rotate(-16 390.2 288.2)"/><ellipse cx="460.9" cy="340.2" rx="3.3" ry="2.8" fill="rgb(89,89,89)" transform="rotate(6 460.9 340.2)"/><ellipse cx="363.2" cy="341.6" rx="6.5" ry="6.1" fill="rgb(85,85,85)" transform="rotate(7 363.2 341.6)"/><ellipse cx="174.6" cy="247.4" rx="4.3" ry="3.5" fill="rgb(84,84,84)" transform="rotate(-7 174.6 247.4)"/><ellipse cx="399.9" cy="432.7" rx="5.6" ry="5.0" fill="rgb(84,84,84)" transform="rotate(7 399.9 432.7)"/><ellipse cx="115.8" cy="202.1" rx="3.2" ry="2.8" fill="rgb(95,95,95)" transform="rotate(-10 115.8 202.1)"/><ellipse cx="176.5" cy="107.7" rx="3.4" ry="2.7" fill="rgb(95,95,95)" transform="rotate(-21 176.5 107.7)"/><ellipse cx="117.5" cy="413.3" rx="3.7" ry="3.4" fill="rgb(84,84,84)" transform="rotate(-1 117.5 413.3)"/><ellipse cx="92.2" cy="190.4" rx="4.6" ry="3.0" fill="rgb(91,91,91)" transform="rotate(-23 92.2 190.4)"/><ellipse cx="300.7" cy="434.0" rx="4.2" ry="2.6" fill="rgb(79,79,79)" transform="rotate(-21 300.7 434.0)"/><ellipse cx="373.9" cy="339.0" rx="2.9" ry="2.1" fill="rgb(89,89,89)" transform="rotate(-9 373.9 339.0)"/><ellipse cx="12.6" cy="252.4" rx="4.3" ry="4.0" fill="rgb(84,84,84)" transform="rotate(21 12.6 252.4)"/><ellipse cx="410.1" cy="325.4" rx="3.3" ry="2.9" fill="rgb(78,78,78)" transform="rotate(3 410.1 325.4)"/><ellipse cx="42.4" cy="96.1" rx="4.5" ry="2.8" fill="rgb(97,97,97)" transform="rotate(4 42.4 96.1)"/><ellipse cx="423.9" cy="507.3" rx="6.0" ry="4.8" fill="rgb(86,86,86)" transform="rotate(14 423.9 507.3)"/><ellipse cx="315.3" cy="127.2" rx="5.0" ry="3.6" fill="rgb(87,87,87)" transform="rotate(11 315.3 127.2)"/><ellipse cx="324.7" cy="323.2" rx="6.1" ry="5.4" fill="rgb(78,78,78)" transform="rotate(-18 324.7 323.2)"/><ellipse cx="18.5" cy="128.4" rx="6.8" ry="4.6" fill="rgb(85,85,85)" transform="rotate(-2 18.5 128.4)"/><ellipse cx="265.2" cy="185.0" rx="6.1" ry="4.1" fill="rgb(94,94,94)" transform="rotate(15 265.2 185.0)"/><ellipse cx="-3.5" cy="312.7" rx="3.2" ry="2.9" fill="rgb(78,78,78)" transform="rotate(-12 -3.5 312.7)"/><ellipse cx="362.7" cy="333.2" rx="5.6" ry="4.0" fill="rgb(87,87,87)" transform="rotate(-15 362.7 333.2)"/><ellipse cx="216.6" cy="174.5" rx="5.6" ry="3.3" fill="rgb(79,79,79)" transform="rotate(-15 216.6 174.5)"/><ellipse cx="250.2" cy="328.9" rx="2.8" ry="2.7" fill="rgb(94,94,94)" transform="rotate(-6 250.2 328.9)"/><ellipse cx="71.8" cy="445.1" rx="6.9" ry="4.3" fill="rgb(92,92,92)" transform="rotate(16 71.8 445.1)"/><ellipse cx="443.1" cy="151.3" rx="3.3" ry="2.0" fill="rgb(81,81,81)" transform="rotate(20 443.1 151.3)"/><ellipse cx="430.0" cy="277.5" rx="3.3" ry="2.3" fill="rgb(81,81,81)" transform="rotate(7 430.0 277.5)"/><ellipse cx="339.4" cy="421.4" rx="4.6" ry="3.4" fill="rgb(86,86,86)" transform="rotate(-6 339.4 421.4)"/><ellipse cx="213.1" cy="378.2" rx="5.8" ry="3.9" fill="rgb(88,88,88)" transform="rotate(-18 213.1 378.2)"/><ellipse cx="17.6" cy="236.2" rx="4.3" ry="2.4" fill="rgb(78,78,78)" transform="rotate(-4 17.6 236.2)"/><ellipse cx="445.5" cy="450.7" rx="2.9" ry="2.0" fill="rgb(84,84,84)" transform="rotate(-9 445.5 450.7)"/><ellipse cx="61.4" cy="333.0" rx="6.3" ry="4.4" fill="rgb(80,80,80)" transform="rotate(-20 61.4 333.0)"/><ellipse cx="3.2" cy="416.3" rx="3.8" ry="3.2" fill="rgb(93,93,93)" transform="rotate(-21 3.2 416.3)"/><ellipse cx="86.1" cy="202.1" rx="6.0" ry="5.1" fill="rgb(83,83,83)" transform="rotate(-2 86.1 202.1)"/><ellipse cx="165.4" cy="276.5" rx="6.1" ry="4.0" fill="rgb(93,93,93)" transform="rotate(21 165.4 276.5)"/><ellipse cx="282.7" cy="508.6" rx="6.7" ry="4.2" fill="rgb(97,97,97)" transform="rotate(-15 282.7 508.6)"/><ellipse cx="379.8" cy="109.7" rx="4.1" ry="3.0" fill="rgb(94,94,94)" transform="rotate(9 379.8 109.7)"/><ellipse cx="93.2" cy="479.4" rx="6.4" ry="4.9" fill="rgb(78,78,78)" transform="rotate(-11 93.2 479.4)"/><ellipse cx="135.5" cy="251.3" rx="6.8" ry="5.3" fill="rgb(93,93,93)" transform="rotate(-21 135.5 251.3)"/><ellipse cx="113.1" cy="400.1" rx="4.2" ry="2.7" fill="rgb(78,78,78)" transform="rotate(-22 113.1 400.1)"/><ellipse cx="192.7" cy="312.0" rx="4.5" ry="3.5" fill="rgb(82,82,82)" transform="rotate(-24 192.7 312.0)"/><ellipse cx="317.7" cy="211.8" rx="4.9" ry="3.4" fill="rgb(82,82,82)" transform="rotate(-22 317.7 211.8)"/><ellipse cx="137.5" cy="193.9" rx="3.3" ry="1.8" fill="rgb(86,86,86)" transform="rotate(-24 137.5 193.9)"/><ellipse cx="415.3" cy="223.5" rx="4.7" ry="3.5" fill="rgb(77,77,77)" transform="rotate(-20 415.3 223.5)"/><ellipse cx="370.6" cy="316.9" rx="4.9" ry="3.3" fill="rgb(92,92,92)" transform="rotate(0 370.6 316.9)"/><ellipse cx="373.9" cy="449.8" rx="6.6" ry="5.5" fill="rgb(90,90,90)" transform="rotate(-2 373.9 449.8)"/><ellipse cx="250.4" cy="327.6" rx="5.0" ry="4.4" fill="rgb(94,94,94)" transform="rotate(-22 250.4 327.6)"/><ellipse cx="354.7" cy="345.3" rx="5.3" ry="4.9" fill="rgb(78,78,78)" transform="rotate(-1 354.7 345.3)"/><ellipse cx="175.1" cy="503.4" rx="3.5" ry="2.7" fill="rgb(79,79,79)" transform="rotate(13 175.1 503.4)"/><ellipse cx="229.3" cy="402.1" rx="4.1" ry="3.7" fill="rgb(77,77,77)" transform="rotate(-14 229.3 402.1)"/><ellipse cx="345.8" cy="470.3" rx="6.1" ry="4.0" fill="rgb(78,78,78)" transform="rotate(10 345.8 470.3)"/><ellipse cx="344.9" cy="80.8" rx="6.7" ry="5.1" fill="rgb(77,77,77)" transform="rotate(-1 344.9 80.8)"/><ellipse cx="157.3" cy="101.7" rx="6.5" ry="6.0" fill="rgb(79,79,79)" transform="rotate(-3 157.3 101.7)"/><ellipse cx="126.4" cy="372.0" rx="3.3" ry="2.2" fill="rgb(85,85,85)" transform="rotate(-1 126.4 372.0)"/><ellipse cx="203.6" cy="335.7" rx="6.7" ry="6.2" fill="rgb(95,95,95)" transform="rotate(16 203.6 335.7)"/><ellipse cx="104.9" cy="168.4" rx="4.7" ry="3.8" fill="rgb(89,89,89)" transform="rotate(-8 104.9 168.4)"/><ellipse cx="469.1" cy="200.7" rx="2.9" ry="1.7" fill="rgb(81,81,81)" transform="rotate(12 469.1 200.7)"/><ellipse cx="397.0" cy="71.9" rx="3.8" ry="2.5" fill="rgb(93,93,93)" transform="rotate(20 397.0 71.9)"/><ellipse cx="121.6" cy="100.7" rx="6.9" ry="6.4" fill="rgb(91,91,91)" transform="rotate(-1 121.6 100.7)"/><ellipse cx="352.2" cy="417.3" rx="4.9" ry="3.3" fill="rgb(87,87,87)" transform="rotate(8 352.2 417.3)"/><ellipse cx="150.7" cy="356.3" rx="3.4" ry="3.2" fill="rgb(81,81,81)" transform="rotate(-14 150.7 356.3)"/><ellipse cx="454.1" cy="504.2" rx="6.7" ry="5.9" fill="rgb(94,94,94)" transform="rotate(16 454.1 504.2)"/><ellipse cx="266.3" cy="87.4" rx="5.9" ry="5.2" fill="rgb(94,94,94)" transform="rotate(-23 266.3 87.4)"/><ellipse cx="25.2" cy="399.8" rx="4.8" ry="4.4" fill="rgb(97,97,97)" transform="rotate(-3 25.2 399.8)"/><ellipse cx="318.2" cy="368.6" rx="5.7" ry="4.0" fill="rgb(90,90,90)" transform="rotate(-22 318.2 368.6)"/><ellipse cx="425.3" cy="396.4" rx="6.2" ry="4.5" fill="rgb(81,81,81)" transform="rotate(-2 425.3 396.4)"/><ellipse cx="320.6" cy="312.9" rx="3.3" ry="1.8" fill="rgb(85,85,85)" transform="rotate(-13 320.6 312.9)"/><ellipse cx="104.2" cy="157.4" rx="4.5" ry="3.8" fill="rgb(95,95,95)" transform="rotate(9 104.2 157.4)"/><ellipse cx="5.9" cy="465.0" rx="5.4" ry="4.5" fill="rgb(89,89,89)" transform="rotate(-7 5.9 465.0)"/><ellipse cx="157.8" cy="86.0" rx="5.6" ry="3.2" fill="rgb(90,90,90)" transform="rotate(21 157.8 86.0)"/><ellipse cx="314.6" cy="340.6" rx="6.2" ry="5.8" fill="rgb(93,93,93)" transform="rotate(25 314.6 340.6)"/><ellipse cx="215.2" cy="59.0" rx="5.4" ry="4.3" fill="rgb(94,94,94)" transform="rotate(6 215.2 59.0)"/><ellipse cx="169.3" cy="54.2" rx="6.3" ry="5.0" fill="rgb(97,97,97)" transform="rotate(5 169.3 54.2)"/><ellipse cx="402.7" cy="419.6" rx="7.0" ry="5.1" fill="rgb(95,95,95)" transform="rotate(-5 402.7 419.6)"/><ellipse cx="1.4" cy="207.1" rx="4.3" ry="4.0" fill="rgb(85,85,85)" transform="rotate(-11 1.4 207.1)"/><ellipse cx="325.5" cy="98.3" rx="4.1" ry="2.9" fill="rgb(79,79,79)" transform="rotate(5 325.5 98.3)"/><ellipse cx="197.8" cy="433.8" rx="4.2" ry="4.0" fill="rgb(80,80,80)" transform="rotate(2 197.8 433.8)"/><ellipse cx="103.9" cy="58.8" rx="4.1" ry="3.7" fill="rgb(82,82,82)" transform="rotate(-1 103.9 58.8)"/><ellipse cx="245.9" cy="178.6" rx="5.0" ry="2.9" fill="rgb(84,84,84)" transform="rotate(-11 245.9 178.6)"/><ellipse cx="385.0" cy="418.5" rx="5.7" ry="4.5" fill="rgb(94,94,94)" transform="rotate(12 385.0 418.5)"/><ellipse cx="22.4" cy="114.1" rx="5.9" ry="5.3" fill="rgb(97,97,97)" transform="rotate(14 22.4 114.1)"/><ellipse cx="71.3" cy="322.0" rx="5.4" ry="4.3" fill="rgb(79,79,79)" transform="rotate(23 71.3 322.0)"/><ellipse cx="239.4" cy="179.9" rx="6.9" ry="4.9" fill="rgb(78,78,78)" transform="rotate(8 239.4 179.9)"/><ellipse cx="119.9" cy="155.8" rx="4.1" ry="3.2" fill="rgb(83,83,83)" transform="rotate(8 119.9 155.8)"/><ellipse cx="427.8" cy="523.6" rx="6.5" ry="6.0" fill="rgb(82,82,82)" transform="rotate(16 427.8 523.6)"/><ellipse cx="38.8" cy="328.9" rx="3.1" ry="1.8" fill="rgb(96,96,96)" transform="rotate(-19 38.8 328.9)"/><ellipse cx="338.1" cy="302.9" rx="2.8" ry="2.4" fill="rgb(78,78,78)" transform="rotate(19 338.1 302.9)"/><ellipse cx="386.4" cy="288.2" rx="4.7" ry="2.6" fill="rgb(91,91,91)" transform="rotate(-23 386.4 288.2)"/><ellipse cx="246.9" cy="492.5" rx="5.6" ry="3.4" fill="rgb(91,91,91)" transform="rotate(10 246.9 492.5)"/><ellipse cx="153.1" cy="419.3" rx="5.2" ry="3.7" fill="rgb(87,87,87)" transform="rotate(-11 153.1 419.3)"/><ellipse cx="133.0" cy="475.1" rx="4.3" ry="3.7" fill="rgb(84,84,84)" transform="rotate(-15 133.0 475.1)"/><ellipse cx="-3.3" cy="510.6" rx="6.0" ry="5.6" fill="rgb(89,89,89)" transform="rotate(-22 -3.3 510.6)"/><ellipse cx="73.9" cy="75.4" rx="5.4" ry="4.3" fill="rgb(96,96,96)" transform="rotate(-10 73.9 75.4)"/><ellipse cx="107.3" cy="157.3" rx="3.4" ry="1.9" fill="rgb(87,87,87)" transform="rotate(-4 107.3 157.3)"/><ellipse cx="171.6" cy="504.8" rx="4.1" ry="3.6" fill="rgb(87,87,87)" transform="rotate(-20 171.6 504.8)"/><ellipse cx="10.1" cy="342.0" rx="6.5" ry="3.7" fill="rgb(91,91,91)" transform="rotate(-13 10.1 342.0)"/><ellipse cx="323.8" cy="448.5" rx="5.9" ry="3.8" fill="rgb(80,80,80)" transform="rotate(23 323.8 448.5)"/><ellipse cx="432.8" cy="491.5" rx="5.1" ry="2.9" fill="rgb(84,84,84)" transform="rotate(21 432.8 491.5)"/><ellipse cx="28.0" cy="192.6" rx="3.0" ry="2.7" fill="rgb(84,84,84)" transform="rotate(-21 28.0 192.6)"/><ellipse cx="165.9" cy="149.0" rx="4.6" ry="3.7" fill="rgb(90,90,90)" transform="rotate(-20 165.9 149.0)"/><ellipse cx="250.9" cy="78.7" rx="4.7" ry="4.1" fill="rgb(82,82,82)" transform="rotate(16 250.9 78.7)"/><ellipse cx="112.4" cy="239.2" rx="6.1" ry="3.4" fill="rgb(88,88,88)" transform="rotate(2 112.4 239.2)"/><ellipse cx="337.0" cy="503.2" rx="5.7" ry="3.7" fill="rgb(81,81,81)" transform="rotate(-1 337.0 503.2)"/><ellipse cx="130.2" cy="315.4" rx="3.2" ry="2.6" fill="rgb(85,85,85)" transform="rotate(-23 130.2 315.4)"/><ellipse cx="53.5" cy="497.1" rx="6.4" ry="5.7" fill="rgb(84,84,84)" transform="rotate(24 53.5 497.1)"/><ellipse cx="77.1" cy="397.6" rx="6.8" ry="4.3" fill="rgb(77,77,77)" transform="rotate(-19 77.1 397.6)"/><ellipse cx="35.9" cy="434.5" rx="5.3" ry="4.0" fill="rgb(79,79,79)" transform="rotate(7 35.9 434.5)"/><ellipse cx="61.3" cy="115.6" rx="5.3" ry="4.3" fill="rgb(93,93,93)" transform="rotate(16 61.3 115.6)"/><ellipse cx="61.4" cy="196.7" rx="3.4" ry="2.5" fill="rgb(77,77,77)" transform="rotate(18 61.4 196.7)"/><ellipse cx="321.2" cy="436.8" rx="4.9" ry="4.4" fill="rgb(94,94,94)" transform="rotate(16 321.2 436.8)"/><ellipse cx="380.4" cy="154.8" rx="4.3" ry="2.4" fill="rgb(92,92,92)" transform="rotate(-1 380.4 154.8)"/><ellipse cx="466.5" cy="189.8" rx="4.6" ry="4.1" fill="rgb(96,96,96)" transform="rotate(13 466.5 189.8)"/><ellipse cx="417.0" cy="491.7" rx="3.9" ry="3.1" fill="rgb(78,78,78)" transform="rotate(9 417.0 491.7)"/><ellipse cx="450.3" cy="292.8" rx="3.4" ry="2.7" fill="rgb(78,78,78)" transform="rotate(-2 450.3 292.8)"/><ellipse cx="34.2" cy="250.7" rx="6.2" ry="5.3" fill="rgb(94,94,94)" transform="rotate(-2 34.2 250.7)"/><ellipse cx="206.4" cy="78.2" rx="6.1" ry="4.8" fill="rgb(85,85,85)" transform="rotate(-18 206.4 78.2)"/><ellipse cx="214.7" cy="81.9" rx="3.3" ry="1.9" fill="rgb(85,85,85)" transform="rotate(-18 214.7 81.9)"/><ellipse cx="390.6" cy="342.4" rx="6.4" ry="5.0" fill="rgb(80,80,80)" transform="rotate(-11 390.6 342.4)"/><ellipse cx="396.5" cy="330.4" rx="5.5" ry="4.4" fill="rgb(77,77,77)" transform="rotate(-15 396.5 330.4)"/><ellipse cx="201.8" cy="453.8" rx="6.8" ry="5.3" fill="rgb(82,82,82)" transform="rotate(-23 201.8 453.8)"/><ellipse cx="262.6" cy="246.7" rx="6.7" ry="4.2" fill="rgb(81,81,81)" transform="rotate(-24 262.6 246.7)"/><ellipse cx="9.7" cy="436.3" rx="6.5" ry="3.9" fill="rgb(77,77,77)" transform="rotate(4 9.7 436.3)"/><ellipse cx="113.6" cy="344.5" rx="6.6" ry="5.6" fill="rgb(82,82,82)" transform="rotate(5 113.6 344.5)"/><ellipse cx="134.1" cy="413.6" rx="3.9" ry="3.5" fill="rgb(90,90,90)" transform="rotate(20 134.1 413.6)"/><ellipse cx="160.9" cy="506.2" rx="5.2" ry="3.4" fill="rgb(90,90,90)" transform="rotate(-9 160.9 506.2)"/><ellipse cx="50.1" cy="70.9" rx="5.4" ry="3.5" fill="rgb(79,79,79)" transform="rotate(14 50.1 70.9)"/><ellipse cx="63.7" cy="411.3" rx="3.9" ry="2.7" fill="rgb(96,96,96)" transform="rotate(16 63.7 411.3)"/><ellipse cx="394.1" cy="518.6" rx="5.3" ry="4.9" fill="rgb(89,89,89)" transform="rotate(4 394.1 518.6)"/><ellipse cx="150.5" cy="232.5" rx="5.2" ry="3.4" fill="rgb(90,90,90)" transform="rotate(18 150.5 232.5)"/><ellipse cx="339.6" cy="159.1" rx="2.9" ry="2.0" fill="rgb(85,85,85)" transform="rotate(17 339.6 159.1)"/><ellipse cx="256.9" cy="298.5" rx="5.3" ry="4.1" fill="rgb(90,90,90)" transform="rotate(3 256.9 298.5)"/><ellipse cx="259.6" cy="164.3" rx="3.3" ry="2.4" fill="rgb(95,95,95)" transform="rotate(22 259.6 164.3)"/><ellipse cx="135.9" cy="325.6" rx="5.0" ry="3.6" fill="rgb(80,80,80)" transform="rotate(14 135.9 325.6)"/><ellipse cx="36.7" cy="160.5" rx="4.0" ry="2.5" fill="rgb(80,80,80)" transform="rotate(-21 36.7 160.5)"/><ellipse cx="245.7" cy="133.9" rx="5.5" ry="4.3" fill="rgb(89,89,89)" transform="rotate(-1 245.7 133.9)"/><ellipse cx="288.1" cy="192.7" rx="4.7" ry="3.9" fill="rgb(81,81,81)" transform="rotate(12 288.1 192.7)"/><ellipse cx="275.3" cy="516.0" rx="5.4" ry="4.1" fill="rgb(92,92,92)" transform="rotate(-11 275.3 516.0)"/><ellipse cx="173.7" cy="257.8" rx="5.9" ry="4.9" fill="rgb(80,80,80)" transform="rotate(23 173.7 257.8)"/><ellipse cx="464.5" cy="287.8" rx="7.0" ry="5.6" fill="rgb(84,84,84)" transform="rotate(-21 464.5 287.8)"/><ellipse cx="4.3" cy="333.4" rx="5.8" ry="4.6" fill="rgb(92,92,92)" transform="rotate(-3 4.3 333.4)"/><ellipse cx="350.0" cy="339.5" rx="5.5" ry="4.2" fill="rgb(90,90,90)" transform="rotate(3 350.0 339.5)"/><ellipse cx="39.2" cy="373.3" rx="5.8" ry="4.2" fill="rgb(96,96,96)" transform="rotate(-1 39.2 373.3)"/><ellipse cx="75.3" cy="295.4" rx="4.3" ry="2.7" fill="rgb(95,95,95)" transform="rotate(-16 75.3 295.4)"/><ellipse cx="335.8" cy="133.0" rx="5.0" ry="4.7" fill="rgb(78,78,78)" transform="rotate(18 335.8 133.0)"/><ellipse cx="-1.2" cy="517.3" rx="6.6" ry="4.8" fill="rgb(90,90,90)" transform="rotate(-2 -1.2 517.3)"/><ellipse cx="74.1" cy="221.3" rx="4.7" ry="4.2" fill="rgb(79,79,79)" transform="rotate(2 74.1 221.3)"/><ellipse cx="220.9" cy="315.1" rx="6.1" ry="4.8" fill="rgb(83,83,83)" transform="rotate(23 220.9 315.1)"/><ellipse cx="281.7" cy="181.1" rx="5.1" ry="4.6" fill="rgb(77,77,77)" transform="rotate(7 281.7 181.1)"/><ellipse cx="228.6" cy="189.1" rx="3.5" ry="2.2" fill="rgb(85,85,85)" transform="rotate(-4 228.6 189.1)"/><ellipse cx="282.9" cy="180.7" rx="5.4" ry="4.0" fill="rgb(93,93,93)" transform="rotate(15 282.9 180.7)"/><ellipse cx="109.1" cy="517.0" rx="5.1" ry="3.5" fill="rgb(82,82,82)" transform="rotate(11 109.1 517.0)"/><ellipse cx="204.3" cy="377.5" rx="3.9" ry="3.5" fill="rgb(82,82,82)" transform="rotate(19 204.3 377.5)"/><ellipse cx="205.1" cy="242.9" rx="5.2" ry="4.0" fill="rgb(88,88,88)" transform="rotate(3 205.1 242.9)"/><ellipse cx="449.1" cy="405.6" rx="3.2" ry="3.0" fill="rgb(77,77,77)" transform="rotate(-22 449.1 405.6)"/><ellipse cx="386.4" cy="183.2" rx="2.9" ry="1.8" fill="rgb(87,87,87)" transform="rotate(17 386.4 183.2)"/><ellipse cx="5.5" cy="130.7" rx="2.9" ry="1.6" fill="rgb(83,83,83)" transform="rotate(-0 5.5 130.7)"/><ellipse cx="458.1" cy="360.5" rx="6.4" ry="5.0" fill="rgb(95,95,95)" transform="rotate(9 458.1 360.5)"/><ellipse cx="110.5" cy="229.2" rx="4.8" ry="2.9" fill="rgb(95,95,95)" transform="rotate(-1 110.5 229.2)"/></g>
</g>
<path d="M121.5,58.5 C125.5,63.2 138.5,77.9 145.4,86.8 C152.3,95.7 158.7,103.3 162.9,112.0 C167.1,120.7 169.3,130.1 170.6,139.2 C171.9,148.2 170.7,157.2 170.6,166.3 C170.5,175.4 168.8,187.0 169.8,193.5 C170.8,200.0 171.1,202.2 176.4,205.1 C181.7,208.0 192.2,209.0 201.6,210.9 C211.0,212.8 224.5,212.5 232.6,216.7 C240.7,220.9 247.5,227.7 250.1,236.1 C252.7,244.5 249.2,259.4 248.2,267.1 C247.2,274.9 248.2,276.5 244.3,282.6 C240.4,288.8 226.2,297.5 224.9,304.0 C223.6,310.5 231.3,314.6 236.5,321.4 C241.7,328.2 250.1,338.2 255.9,344.7 C261.7,351.2 265.9,357.3 271.4,360.2 C276.9,363.1 284.4,358.9 288.9,362.1 C293.4,365.3 296.4,373.5 298.6,379.6 C300.9,385.8 301.8,391.9 302.4,399.0 C303.0,406.1 301.1,415.8 302.4,422.2 C303.7,428.6 308.2,432.2 310.2,437.7 C312.1,443.2 313.5,452.3 314.1,455.2" fill="none" stroke="#fff" stroke-width="3.0" stroke-linecap="round" stroke-dasharray="0.1,5.0"/>
<path d="M358.7,455.2 C357.7,449.7 354.8,431.6 352.9,422.2 C350.9,412.8 349.9,407.1 347.0,399.0 C344.1,390.9 336.0,380.9 335.4,373.8 C334.8,366.7 342.2,360.5 343.2,356.3 C344.2,352.1 346.7,351.8 341.2,348.6 C335.7,345.4 317.6,341.4 310.2,336.9 C302.8,332.4 299.5,327.2 296.6,321.4 C293.7,315.6 291.8,307.8 292.8,302.0 C293.8,296.2 297.6,289.4 302.4,286.5 C307.2,283.6 315.3,283.6 321.8,284.6 C328.3,285.6 335.4,287.5 341.2,292.3 C347.0,297.1 350.9,310.8 356.7,313.7 C362.5,316.6 367.1,310.8 376.1,309.8 C385.2,308.8 402.6,307.2 411.0,307.9 C419.4,308.5 420.7,310.1 426.5,313.7 C432.3,317.2 440.4,324.7 445.9,329.2 C451.4,333.7 456.3,336.3 459.5,340.8 C462.7,345.3 464.3,353.7 465.3,356.3" fill="none" stroke="#fff" stroke-width="3.0" stroke-linecap="round" stroke-dasharray="0.1,5.0"/>
<path d="M349.0,59.7 L459.5,174.1" fill="none" stroke="#fff" stroke-width="3.0" stroke-linecap="round" stroke-dasharray="0.1,5.0"/>
<rect x="31.7" y="64.4" width="235.0" height="18.0" fill="#fff" fill-opacity="0.38" stroke="#fff" stroke-width="2"/>
<line x1="33.7" y1="73.4" x2="256.7" y2="73.4" stroke="#fff" stroke-width="1.6"/>
<path d="M254.7,68.4 L264.7,73.4 L254.7,78.4 Z" fill="#fff"/>
<text x="221.0" y="174.9" font-family="'Liberation Serif','Times New Roman',serif" font-size="38" fill="#fff" text-anchor="start" >Clean Au</text>
<text x="387.7" y="94.6" font-family="'Liberation Serif','Times New Roman',serif" font-size="36" fill="#fff" text-anchor="start" >Edge</text>
<text x="26.4" y="307.8" font-family="'Liberation Serif','Times New Roman',serif" font-size="36" fill="#fff">MoS<tspan font-size="25.9" dy="7.9">2</tspan></text>
<text x="370.3" y="381.5" font-family="'Liberation Serif','Times New Roman',serif" font-size="36" fill="#fff">MoS<tspan font-size="25.9" dy="7.9">2</tspan></text>
<text x="336.5" y="484.1" font-family="'Liberation Serif','Times New Roman',serif" font-size="36" fill="#fff" text-anchor="start" >750 nm</text>
<rect x="333.6" y="495.8" width="117.6" height="10.2" fill="#fff"/>
<g filter="url(#fB)"><rect x="681" y="57" width="466" height="466" fill="rgb(178,178,178)"/>
<path d="M798.3,42.0 L808.8,84.9 L818.5,108.2 L830.1,131.4 L837.9,158.6 L837.9,185.7 L834.0,201.2 L845.6,228.4 L868.9,236.1 L896.0,240.0 L913.5,259.4 L917.3,282.6 L905.7,317.5 L923.2,344.7 L946.4,368.0 L961.9,387.3 L975.5,410.6 L981.3,441.6 L993.0,468.8 L996.8,519.2 L1000.0,538.0 L1050.0,538.0 L1047.2,519.2 L1035.6,484.3 L1024.0,449.4 L1012.3,410.6 L1002.6,379.6 L1008.5,348.6 L981.3,336.9 L965.8,321.4 L960.0,298.2 L977.4,282.6 L996.8,282.6 L1012.3,294.3 L1027.8,309.8 L1047.2,305.9 L1078.3,304.0 L1101.5,313.7 L1120.9,333.1 L1140.3,356.3 L1162.0,360.0 L1162.0,42.0 Z" fill="rgb(161,161,161)" filter="url(#b6)"/>
<rect x="830" y="124" width="330" height="68" fill="rgb(138,138,138)" filter="url(#b5)"/>
<path d="M978,42 L1165,42 L1165,235 Z" fill="rgb(115,115,115)" filter="url(#b6)"/>
<rect x="681" y="121" width="330" height="6" fill="rgb(102,102,102)" filter="url(#b2)"/>
<rect x="740" y="186" width="407" height="8" fill="rgb(107,107,107)" filter="url(#b2)"/>
<g filter="url(#b1)"><ellipse cx="1116.2" cy="503.5" rx="4.7" ry="2.7" fill="rgb(89,89,89)" transform="rotate(-4 1116.2 503.5)"/><ellipse cx="928.3" cy="114.0" rx="2.7" ry="2.0" fill="rgb(81,81,81)" transform="rotate(-2 928.3 114.0)"/><ellipse cx="687.8" cy="92.8" rx="4.2" ry="3.0" fill="rgb(87,87,87)" transform="rotate(12 687.8 92.8)"/><ellipse cx="846.9" cy="79.4" rx="4.4" ry="3.5" fill="rgb(90,90,90)" transform="rotate(6 846.9 79.4)"/><ellipse cx="1138.1" cy="224.7" rx="4.3" ry="3.0" fill="rgb(88,88,88)" transform="rotate(8 1138.1 224.7)"/><ellipse cx="825.7" cy="92.8" rx="3.5" ry="3.0" fill="rgb(89,89,89)" transform="rotate(-3 825.7 92.8)"/><ellipse cx="981.8" cy="138.6" rx="2.7" ry="1.8" fill="rgb(93,93,93)" transform="rotate(-15 981.8 138.6)"/><ellipse cx="730.4" cy="98.9" rx="2.3" ry="1.5" fill="rgb(88,88,88)" transform="rotate(16 730.4 98.9)"/><ellipse cx="833.5" cy="228.0" rx="3.0" ry="2.0" fill="rgb(92,92,92)" transform="rotate(2 833.5 228.0)"/><ellipse cx="799.0" cy="103.0" rx="4.4" ry="3.7" fill="rgb(93,93,93)" transform="rotate(-13 799.0 103.0)"/><ellipse cx="935.6" cy="489.3" rx="3.9" ry="3.6" fill="rgb(80,80,80)" transform="rotate(24 935.6 489.3)"/><ellipse cx="702.6" cy="250.1" rx="2.3" ry="2.0" fill="rgb(91,91,91)" transform="rotate(24 702.6 250.1)"/><ellipse cx="1059.2" cy="503.6" rx="3.7" ry="3.5" fill="rgb(92,92,92)" transform="rotate(-8 1059.2 503.6)"/><ellipse cx="1139.8" cy="231.5" rx="2.7" ry="1.6" fill="rgb(86,86,86)" transform="rotate(-15 1139.8 231.5)"/><ellipse cx="1120.4" cy="504.4" rx="2.8" ry="1.7" fill="rgb(87,87,87)" transform="rotate(-17 1120.4 504.4)"/><ellipse cx="934.8" cy="438.9" rx="2.9" ry="2.1" fill="rgb(95,95,95)" transform="rotate(-3 934.8 438.9)"/><ellipse cx="839.2" cy="476.7" rx="4.5" ry="4.1" fill="rgb(91,91,91)" transform="rotate(-4 839.2 476.7)"/><ellipse cx="1005.9" cy="447.0" rx="4.0" ry="2.6" fill="rgb(83,83,83)" transform="rotate(-5 1005.9 447.0)"/><ellipse cx="1043.3" cy="317.2" rx="3.7" ry="3.3" fill="rgb(79,79,79)" transform="rotate(7 1043.3 317.2)"/><ellipse cx="834.3" cy="318.3" rx="4.5" ry="2.9" fill="rgb(96,96,96)" transform="rotate(-21 834.3 318.3)"/><ellipse cx="943.5" cy="309.9" rx="2.9" ry="2.2" fill="rgb(86,86,86)" transform="rotate(-3 943.5 309.9)"/><ellipse cx="1017.9" cy="53.9" rx="3.3" ry="2.8" fill="rgb(79,79,79)" transform="rotate(18 1017.9 53.9)"/><ellipse cx="772.9" cy="376.2" rx="2.7" ry="2.0" fill="rgb(85,85,85)" transform="rotate(-21 772.9 376.2)"/><ellipse cx="1009.0" cy="280.6" rx="4.1" ry="3.2" fill="rgb(88,88,88)" transform="rotate(1 1009.0 280.6)"/><ellipse cx="817.8" cy="479.8" rx="2.4" ry="2.2" fill="rgb(94,94,94)" transform="rotate(-0 817.8 479.8)"/><ellipse cx="1045.8" cy="372.5" rx="3.9" ry="2.6" fill="rgb(83,83,83)" transform="rotate(-8 1045.8 372.5)"/><ellipse cx="819.8" cy="508.8" rx="3.2" ry="2.2" fill="rgb(85,85,85)" transform="rotate(16 819.8 508.8)"/><ellipse cx="903.4" cy="315.6" rx="2.9" ry="1.9" fill="rgb(78,78,78)" transform="rotate(-14 903.4 315.6)"/><ellipse cx="801.6" cy="457.7" rx="3.6" ry="2.1" fill="rgb(86,86,86)" transform="rotate(-19 801.6 457.7)"/><ellipse cx="945.4" cy="262.5" rx="4.6" ry="3.0" fill="rgb(94,94,94)" transform="rotate(-13 945.4 262.5)"/><ellipse cx="1143.7" cy="353.9" rx="2.3" ry="2.0" fill="rgb(82,82,82)" transform="rotate(-7 1143.7 353.9)"/><ellipse cx="745.8" cy="450.6" rx="2.5" ry="2.1" fill="rgb(85,85,85)" transform="rotate(9 745.8 450.6)"/><ellipse cx="815.5" cy="89.3" rx="4.8" ry="3.9" fill="rgb(80,80,80)" transform="rotate(24 815.5 89.3)"/><ellipse cx="1110.0" cy="138.9" rx="2.3" ry="1.8" fill="rgb(79,79,79)" transform="rotate(12 1110.0 138.9)"/><ellipse cx="899.2" cy="389.5" rx="3.8" ry="3.3" fill="rgb(93,93,93)" transform="rotate(5 899.2 389.5)"/><ellipse cx="957.5" cy="207.6" rx="2.6" ry="1.5" fill="rgb(94,94,94)" transform="rotate(-15 957.5 207.6)"/><ellipse cx="879.0" cy="202.8" rx="3.9" ry="3.0" fill="rgb(94,94,94)" transform="rotate(-3 879.0 202.8)"/><ellipse cx="848.3" cy="362.0" rx="4.3" ry="3.9" fill="rgb(83,83,83)" transform="rotate(19 848.3 362.0)"/><ellipse cx="1143.2" cy="519.6" rx="2.6" ry="1.8" fill="rgb(92,92,92)" transform="rotate(17 1143.2 519.6)"/><ellipse cx="694.8" cy="240.1" rx="4.2" ry="3.6" fill="rgb(87,87,87)" transform="rotate(-14 694.8 240.1)"/><ellipse cx="869.6" cy="79.9" rx="3.1" ry="2.2" fill="rgb(93,93,93)" transform="rotate(4 869.6 79.9)"/><ellipse cx="873.2" cy="169.1" rx="3.1" ry="2.5" fill="rgb(86,86,86)" transform="rotate(-16 873.2 169.1)"/><ellipse cx="1067.1" cy="326.0" rx="4.9" ry="3.8" fill="rgb(89,89,89)" transform="rotate(-4 1067.1 326.0)"/><ellipse cx="965.5" cy="489.4" rx="4.9" ry="4.0" fill="rgb(85,85,85)" transform="rotate(-22 965.5 489.4)"/><ellipse cx="1075.9" cy="238.3" rx="3.3" ry="1.9" fill="rgb(77,77,77)" transform="rotate(-5 1075.9 238.3)"/><ellipse cx="1140.0" cy="404.5" rx="4.2" ry="3.4" fill="rgb(82,82,82)" transform="rotate(-17 1140.0 404.5)"/><ellipse cx="962.7" cy="82.3" rx="3.8" ry="2.9" fill="rgb(88,88,88)" transform="rotate(-19 962.7 82.3)"/><ellipse cx="708.2" cy="277.3" rx="2.6" ry="2.1" fill="rgb(83,83,83)" transform="rotate(6 708.2 277.3)"/><ellipse cx="1033.1" cy="340.7" rx="3.7" ry="2.3" fill="rgb(84,84,84)" transform="rotate(24 1033.1 340.7)"/><ellipse cx="803.8" cy="187.3" rx="3.6" ry="2.8" fill="rgb(93,93,93)" transform="rotate(-10 803.8 187.3)"/><ellipse cx="1134.3" cy="62.6" rx="4.4" ry="3.4" fill="rgb(95,95,95)" transform="rotate(-17 1134.3 62.6)"/><ellipse cx="1004.1" cy="502.9" rx="4.1" ry="2.4" fill="rgb(95,95,95)" transform="rotate(23 1004.1 502.9)"/><ellipse cx="728.7" cy="445.8" rx="2.4" ry="1.4" fill="rgb(93,93,93)" transform="rotate(11 728.7 445.8)"/><ellipse cx="1131.6" cy="352.8" rx="3.6" ry="2.4" fill="rgb(88,88,88)" transform="rotate(25 1131.6 352.8)"/><ellipse cx="983.8" cy="468.8" rx="2.8" ry="2.3" fill="rgb(91,91,91)" transform="rotate(-21 983.8 468.8)"/><ellipse cx="1066.4" cy="135.8" rx="2.8" ry="1.6" fill="rgb(90,90,90)" transform="rotate(-18 1066.4 135.8)"/><ellipse cx="1140.4" cy="52.0" rx="4.5" ry="3.8" fill="rgb(88,88,88)" transform="rotate(4 1140.4 52.0)"/><ellipse cx="1055.8" cy="354.9" rx="2.6" ry="2.3" fill="rgb(84,84,84)" transform="rotate(4 1055.8 354.9)"/><ellipse cx="919.9" cy="482.3" rx="3.4" ry="3.0" fill="rgb(78,78,78)" transform="rotate(-9 919.9 482.3)"/><ellipse cx="995.2" cy="343.3" rx="4.5" ry="2.9" fill="rgb(93,93,93)" transform="rotate(15 995.2 343.3)"/><ellipse cx="744.0" cy="118.6" rx="3.8" ry="3.6" fill="rgb(89,89,89)" transform="rotate(-4 744.0 118.6)"/><ellipse cx="917.3" cy="437.3" rx="3.7" ry="2.8" fill="rgb(89,89,89)" transform="rotate(22 917.3 437.3)"/><ellipse cx="1057.0" cy="451.4" rx="2.9" ry="2.3" fill="rgb(93,93,93)" transform="rotate(11 1057.0 451.4)"/><ellipse cx="1129.1" cy="487.6" rx="2.6" ry="1.9" fill="rgb(84,84,84)" transform="rotate(-15 1129.1 487.6)"/><ellipse cx="914.4" cy="520.2" rx="4.4" ry="2.6" fill="rgb(82,82,82)" transform="rotate(-7 914.4 520.2)"/><ellipse cx="1097.3" cy="270.7" rx="2.6" ry="2.0" fill="rgb(82,82,82)" transform="rotate(-23 1097.3 270.7)"/><ellipse cx="958.1" cy="523.7" rx="4.4" ry="3.7" fill="rgb(80,80,80)" transform="rotate(3 958.1 523.7)"/><ellipse cx="979.2" cy="413.3" rx="3.5" ry="2.0" fill="rgb(95,95,95)" transform="rotate(-12 979.2 413.3)"/><ellipse cx="1027.5" cy="273.0" rx="4.4" ry="3.0" fill="rgb(78,78,78)" transform="rotate(-4 1027.5 273.0)"/><ellipse cx="904.5" cy="429.3" rx="3.3" ry="2.7" fill="rgb(84,84,84)" transform="rotate(12 904.5 429.3)"/><ellipse cx="758.9" cy="470.9" rx="4.8" ry="2.7" fill="rgb(94,94,94)" transform="rotate(14 758.9 470.9)"/><ellipse cx="1005.9" cy="102.4" rx="4.3" ry="3.7" fill="rgb(89,89,89)" transform="rotate(23 1005.9 102.4)"/><ellipse cx="1126.7" cy="353.6" rx="4.8" ry="2.9" fill="rgb(83,83,83)" transform="rotate(1 1126.7 353.6)"/><ellipse cx="924.8" cy="505.6" rx="4.0" ry="3.2" fill="rgb(89,89,89)" transform="rotate(22 924.8 505.6)"/><ellipse cx="866.6" cy="404.0" rx="3.9" ry="2.8" fill="rgb(83,83,83)" transform="rotate(-17 866.6 404.0)"/><ellipse cx="681.2" cy="211.9" rx="3.0" ry="1.8" fill="rgb(86,86,86)" transform="rotate(-7 681.2 211.9)"/><ellipse cx="1116.8" cy="423.5" rx="4.1" ry="3.6" fill="rgb(82,82,82)" transform="rotate(-19 1116.8 423.5)"/><ellipse cx="966.2" cy="160.3" rx="5.0" ry="3.6" fill="rgb(95,95,95)" transform="rotate(-13 966.2 160.3)"/><ellipse cx="720.6" cy="350.5" rx="4.1" ry="2.7" fill="rgb(95,95,95)" transform="rotate(24 720.6 350.5)"/><ellipse cx="1003.1" cy="519.1" rx="5.0" ry="3.0" fill="rgb(91,91,91)" transform="rotate(12 1003.1 519.1)"/><ellipse cx="1024.4" cy="213.6" rx="3.7" ry="2.9" fill="rgb(94,94,94)" transform="rotate(-22 1024.4 213.6)"/><ellipse cx="854.6" cy="201.9" rx="4.4" ry="2.6" fill="rgb(78,78,78)" transform="rotate(-19 854.6 201.9)"/><ellipse cx="731.2" cy="259.1" rx="4.6" ry="3.2" fill="rgb(79,79,79)" transform="rotate(8 731.2 259.1)"/><ellipse cx="834.3" cy="323.9" rx="4.3" ry="3.1" fill="rgb(91,91,91)" transform="rotate(6 834.3 323.9)"/><ellipse cx="1081.4" cy="414.9" rx="4.7" ry="4.0" fill="rgb(82,82,82)" transform="rotate(0 1081.4 414.9)"/><ellipse cx="1043.6" cy="425.5" rx="4.2" ry="3.8" fill="rgb(93,93,93)" transform="rotate(2 1043.6 425.5)"/><ellipse cx="980.9" cy="72.8" rx="3.5" ry="3.0" fill="rgb(95,95,95)" transform="rotate(17 980.9 72.8)"/><ellipse cx="885.1" cy="161.3" rx="4.7" ry="3.8" fill="rgb(80,80,80)" transform="rotate(-23 885.1 161.3)"/><ellipse cx="1094.0" cy="326.5" rx="2.5" ry="2.4" fill="rgb(88,88,88)" transform="rotate(13 1094.0 326.5)"/><ellipse cx="1059.9" cy="173.8" rx="3.7" ry="2.3" fill="rgb(89,89,89)" transform="rotate(-3 1059.9 173.8)"/><ellipse cx="1052.0" cy="107.1" rx="2.8" ry="2.0" fill="rgb(77,77,77)" transform="rotate(-5 1052.0 107.1)"/><ellipse cx="1134.2" cy="464.1" rx="2.7" ry="2.4" fill="rgb(81,81,81)" transform="rotate(-13 1134.2 464.1)"/><ellipse cx="979.5" cy="192.0" rx="2.8" ry="1.6" fill="rgb(80,80,80)" transform="rotate(-15 979.5 192.0)"/><ellipse cx="1110.1" cy="72.0" rx="3.7" ry="2.4" fill="rgb(91,91,91)" transform="rotate(-25 1110.1 72.0)"/><ellipse cx="852.8" cy="403.1" rx="2.3" ry="1.6" fill="rgb(83,83,83)" transform="rotate(-1 852.8 403.1)"/><ellipse cx="975.2" cy="90.0" rx="4.6" ry="3.0" fill="rgb(92,92,92)" transform="rotate(-18 975.2 90.0)"/><ellipse cx="720.7" cy="144.2" rx="2.4" ry="1.6" fill="rgb(79,79,79)" transform="rotate(-21 720.7 144.2)"/><ellipse cx="1081.5" cy="303.5" rx="3.6" ry="2.7" fill="rgb(93,93,93)" transform="rotate(-23 1081.5 303.5)"/><ellipse cx="697.6" cy="369.1" rx="2.2" ry="1.7" fill="rgb(89,89,89)" transform="rotate(17 697.6 369.1)"/><ellipse cx="676.3" cy="243.3" rx="3.1" ry="2.4" fill="rgb(77,77,77)" transform="rotate(13 676.3 243.3)"/><ellipse cx="1131.5" cy="313.2" rx="4.1" ry="3.6" fill="rgb(94,94,94)" transform="rotate(16 1131.5 313.2)"/><ellipse cx="907.9" cy="93.7" rx="4.4" ry="3.9" fill="rgb(91,91,91)" transform="rotate(-9 907.9 93.7)"/><ellipse cx="1140.1" cy="348.5" rx="3.1" ry="2.7" fill="rgb(81,81,81)" transform="rotate(-13 1140.1 348.5)"/><ellipse cx="1106.9" cy="78.3" rx="4.6" ry="3.3" fill="rgb(88,88,88)" transform="rotate(10 1106.9 78.3)"/><ellipse cx="1105.6" cy="156.7" rx="2.5" ry="1.9" fill="rgb(81,81,81)" transform="rotate(-4 1105.6 156.7)"/><ellipse cx="728.5" cy="94.8" rx="3.8" ry="2.2" fill="rgb(82,82,82)" transform="rotate(-6 728.5 94.8)"/><ellipse cx="721.2" cy="435.5" rx="4.7" ry="2.7" fill="rgb(93,93,93)" transform="rotate(-16 721.2 435.5)"/><ellipse cx="1023.3" cy="80.9" rx="4.3" ry="4.0" fill="rgb(82,82,82)" transform="rotate(-17 1023.3 80.9)"/><ellipse cx="838.1" cy="461.3" rx="4.4" ry="2.7" fill="rgb(95,95,95)" transform="rotate(12 838.1 461.3)"/><ellipse cx="1131.6" cy="515.0" rx="2.6" ry="2.2" fill="rgb(77,77,77)" transform="rotate(-15 1131.6 515.0)"/><ellipse cx="931.4" cy="163.0" rx="2.8" ry="1.9" fill="rgb(86,86,86)" transform="rotate(21 931.4 163.0)"/><ellipse cx="952.7" cy="316.7" rx="4.2" ry="2.6" fill="rgb(93,93,93)" transform="rotate(13 952.7 316.7)"/><ellipse cx="1063.6" cy="266.3" rx="3.7" ry="2.2" fill="rgb(86,86,86)" transform="rotate(7 1063.6 266.3)"/><ellipse cx="1128.2" cy="478.6" rx="3.1" ry="2.7" fill="rgb(94,94,94)" transform="rotate(23 1128.2 478.6)"/><ellipse cx="999.9" cy="208.9" rx="4.6" ry="2.6" fill="rgb(88,88,88)" transform="rotate(-2 999.9 208.9)"/><ellipse cx="1096.2" cy="347.7" rx="2.8" ry="1.7" fill="rgb(77,77,77)" transform="rotate(13 1096.2 347.7)"/><ellipse cx="1048.8" cy="229.7" rx="2.8" ry="2.2" fill="rgb(80,80,80)" transform="rotate(1 1048.8 229.7)"/><ellipse cx="839.6" cy="203.9" rx="4.1" ry="2.7" fill="rgb(83,83,83)" transform="rotate(3 839.6 203.9)"/><ellipse cx="1124.3" cy="123.5" rx="3.1" ry="2.0" fill="rgb(83,83,83)" transform="rotate(-1 1124.3 123.5)"/><ellipse cx="1066.5" cy="138.3" rx="4.2" ry="3.0" fill="rgb(88,88,88)" transform="rotate(0 1066.5 138.3)"/><ellipse cx="963.0" cy="137.4" rx="3.9" ry="2.8" fill="rgb(92,92,92)" transform="rotate(5 963.0 137.4)"/><ellipse cx="870.2" cy="521.8" rx="2.7" ry="1.5" fill="rgb(79,79,79)" transform="rotate(9 870.2 521.8)"/><ellipse cx="719.7" cy="402.0" rx="2.4" ry="1.6" fill="rgb(89,89,89)" transform="rotate(-24 719.7 402.0)"/><ellipse cx="882.0" cy="527.7" rx="4.2" ry="3.0" fill="rgb(95,95,95)" transform="rotate(3 882.0 527.7)"/><ellipse cx="1062.0" cy="215.7" rx="3.3" ry="2.7" fill="rgb(92,92,92)" transform="rotate(10 1062.0 215.7)"/><ellipse cx="747.6" cy="252.6" rx="3.1" ry="2.0" fill="rgb(79,79,79)" transform="rotate(12 747.6 252.6)"/><ellipse cx="743.4" cy="220.4" rx="2.3" ry="1.9" fill="rgb(89,89,89)" transform="rotate(-21 743.4 220.4)"/><ellipse cx="1128.3" cy="525.6" rx="4.3" ry="3.8" fill="rgb(91,91,91)" transform="rotate(-24 1128.3 525.6)"/><ellipse cx="806.0" cy="164.7" rx="2.3" ry="1.8" fill="rgb(89,89,89)" transform="rotate(-7 806.0 164.7)"/><ellipse cx="1032.2" cy="163.5" rx="3.0" ry="1.8" fill="rgb(81,81,81)" transform="rotate(18 1032.2 163.5)"/><ellipse cx="909.2" cy="402.7" rx="4.6" ry="3.8" fill="rgb(84,84,84)" transform="rotate(23 909.2 402.7)"/><ellipse cx="714.1" cy="248.6" rx="4.7" ry="3.8" fill="rgb(84,84,84)" transform="rotate(16 714.1 248.6)"/><ellipse cx="1036.7" cy="396.3" rx="2.9" ry="2.4" fill="rgb(90,90,90)" transform="rotate(17 1036.7 396.3)"/><ellipse cx="920.1" cy="494.3" rx="4.2" ry="2.7" fill="rgb(88,88,88)" transform="rotate(-15 920.1 494.3)"/><ellipse cx="969.9" cy="207.0" rx="5.0" ry="3.4" fill="rgb(93,93,93)" transform="rotate(17 969.9 207.0)"/><ellipse cx="853.7" cy="332.4" rx="2.9" ry="2.0" fill="rgb(85,85,85)" transform="rotate(11 853.7 332.4)"/><ellipse cx="917.9" cy="128.6" rx="4.0" ry="3.0" fill="rgb(87,87,87)" transform="rotate(-3 917.9 128.6)"/><ellipse cx="1088.6" cy="363.4" rx="4.1" ry="3.0" fill="rgb(85,85,85)" transform="rotate(-4 1088.6 363.4)"/><ellipse cx="999.1" cy="260.4" rx="2.4" ry="1.5" fill="rgb(78,78,78)" transform="rotate(-23 999.1 260.4)"/><ellipse cx="847.0" cy="231.8" rx="3.5" ry="2.2" fill="rgb(81,81,81)" transform="rotate(-3 847.0 231.8)"/><ellipse cx="814.2" cy="176.2" rx="3.6" ry="3.1" fill="rgb(78,78,78)" transform="rotate(-24 814.2 176.2)"/><ellipse cx="889.2" cy="477.6" rx="4.0" ry="2.8" fill="rgb(96,96,96)" transform="rotate(9 889.2 477.6)"/><ellipse cx="1068.9" cy="452.9" rx="2.3" ry="1.4" fill="rgb(93,93,93)" transform="rotate(-5 1068.9 452.9)"/><ellipse cx="1104.5" cy="85.9" rx="4.8" ry="3.9" fill="rgb(85,85,85)" transform="rotate(16 1104.5 85.9)"/><ellipse cx="930.9" cy="270.7" rx="2.7" ry="2.3" fill="rgb(79,79,79)" transform="rotate(-10 930.9 270.7)"/><ellipse cx="717.9" cy="59.5" rx="3.0" ry="1.7" fill="rgb(86,86,86)" transform="rotate(-8 717.9 59.5)"/><ellipse cx="684.6" cy="272.8" rx="3.0" ry="1.9" fill="rgb(88,88,88)" transform="rotate(-8 684.6 272.8)"/><ellipse cx="701.9" cy="495.1" rx="4.9" ry="3.2" fill="rgb(90,90,90)" transform="rotate(4 701.9 495.1)"/><ellipse cx="794.3" cy="308.2" rx="2.9" ry="1.9" fill="rgb(86,86,86)" transform="rotate(-23 794.3 308.2)"/><ellipse cx="785.5" cy="520.3" rx="4.4" ry="3.0" fill="rgb(97,97,97)" transform="rotate(-9 785.5 520.3)"/><ellipse cx="1081.2" cy="205.5" rx="4.7" ry="3.4" fill="rgb(94,94,94)" transform="rotate(-18 1081.2 205.5)"/><ellipse cx="863.7" cy="216.0" rx="4.4" ry="3.9" fill="rgb(79,79,79)" transform="rotate(-4 863.7 216.0)"/><ellipse cx="758.2" cy="83.3" rx="2.6" ry="1.5" fill="rgb(83,83,83)" transform="rotate(-3 758.2 83.3)"/><ellipse cx="1106.6" cy="362.3" rx="4.3" ry="3.0" fill="rgb(83,83,83)" transform="rotate(-4 1106.6 362.3)"/><ellipse cx="786.8" cy="61.5" rx="3.0" ry="2.7" fill="rgb(78,78,78)" transform="rotate(0 786.8 61.5)"/><ellipse cx="786.4" cy="415.0" rx="2.3" ry="1.7" fill="rgb(91,91,91)" transform="rotate(-2 786.4 415.0)"/><ellipse cx="744.3" cy="475.1" rx="2.3" ry="2.1" fill="rgb(93,93,93)" transform="rotate(19 744.3 475.1)"/><ellipse cx="1088.0" cy="228.0" rx="4.0" ry="2.9" fill="rgb(88,88,88)" transform="rotate(-6 1088.0 228.0)"/><ellipse cx="1082.8" cy="198.5" rx="3.8" ry="2.2" fill="rgb(78,78,78)" transform="rotate(19 1082.8 198.5)"/><ellipse cx="845.8" cy="230.3" rx="5.0" ry="4.2" fill="rgb(80,80,80)" transform="rotate(2 845.8 230.3)"/><ellipse cx="905.9" cy="339.8" rx="3.0" ry="2.0" fill="rgb(96,96,96)" transform="rotate(5 905.9 339.8)"/><ellipse cx="938.2" cy="381.2" rx="4.3" ry="2.7" fill="rgb(92,92,92)" transform="rotate(-1 938.2 381.2)"/><ellipse cx="747.6" cy="202.6" rx="5.0" ry="4.4" fill="rgb(95,95,95)" transform="rotate(0 747.6 202.6)"/><ellipse cx="978.9" cy="240.6" rx="4.3" ry="3.3" fill="rgb(84,84,84)" transform="rotate(24 978.9 240.6)"/><ellipse cx="914.4" cy="71.2" rx="4.5" ry="2.6" fill="rgb(82,82,82)" transform="rotate(-2 914.4 71.2)"/><ellipse cx="776.7" cy="265.9" rx="3.4" ry="2.6" fill="rgb(90,90,90)" transform="rotate(9 776.7 265.9)"/><ellipse cx="700.0" cy="164.9" rx="2.5" ry="1.7" fill="rgb(86,86,86)" transform="rotate(18 700.0 164.9)"/><ellipse cx="682.7" cy="437.7" rx="2.6" ry="2.2" fill="rgb(94,94,94)" transform="rotate(24 682.7 437.7)"/><ellipse cx="950.0" cy="78.4" rx="3.0" ry="2.2" fill="rgb(90,90,90)" transform="rotate(23 950.0 78.4)"/><ellipse cx="1093.2" cy="82.0" rx="2.6" ry="2.1" fill="rgb(81,81,81)" transform="rotate(4 1093.2 82.0)"/><ellipse cx="918.4" cy="311.4" rx="3.2" ry="2.9" fill="rgb(82,82,82)" transform="rotate(-7 918.4 311.4)"/><ellipse cx="753.0" cy="189.9" rx="2.6" ry="2.1" fill="rgb(77,77,77)" transform="rotate(-13 753.0 189.9)"/><ellipse cx="1060.6" cy="457.5" rx="3.2" ry="2.7" fill="rgb(93,93,93)" transform="rotate(8 1060.6 457.5)"/><ellipse cx="971.6" cy="410.8" rx="3.1" ry="2.1" fill="rgb(82,82,82)" transform="rotate(-13 971.6 410.8)"/><ellipse cx="920.3" cy="308.7" rx="2.7" ry="1.6" fill="rgb(77,77,77)" transform="rotate(-14 920.3 308.7)"/><ellipse cx="750.3" cy="347.6" rx="4.5" ry="3.4" fill="rgb(90,90,90)" transform="rotate(-4 750.3 347.6)"/><ellipse cx="711.4" cy="407.7" rx="4.3" ry="2.6" fill="rgb(83,83,83)" transform="rotate(9 711.4 407.7)"/><ellipse cx="1011.9" cy="130.0" rx="3.3" ry="2.3" fill="rgb(88,88,88)" transform="rotate(16 1011.9 130.0)"/><ellipse cx="745.7" cy="231.0" rx="4.8" ry="3.0" fill="rgb(80,80,80)" transform="rotate(14 745.7 231.0)"/><ellipse cx="973.0" cy="278.6" rx="3.5" ry="2.0" fill="rgb(90,90,90)" transform="rotate(-12 973.0 278.6)"/><ellipse cx="886.1" cy="494.1" rx="3.6" ry="2.5" fill="rgb(84,84,84)" transform="rotate(-11 886.1 494.1)"/><ellipse cx="970.1" cy="393.0" rx="2.5" ry="1.4" fill="rgb(85,85,85)" transform="rotate(-17 970.1 393.0)"/><ellipse cx="961.0" cy="128.6" rx="3.6" ry="2.7" fill="rgb(96,96,96)" transform="rotate(-9 961.0 128.6)"/><ellipse cx="800.8" cy="212.7" rx="4.0" ry="2.6" fill="rgb(81,81,81)" transform="rotate(11 800.8 212.7)"/><ellipse cx="928.1" cy="86.0" rx="4.6" ry="2.7" fill="rgb(83,83,83)" transform="rotate(2 928.1 86.0)"/><ellipse cx="893.4" cy="416.5" rx="2.6" ry="2.1" fill="rgb(80,80,80)" transform="rotate(-19 893.4 416.5)"/><ellipse cx="1008.7" cy="421.4" rx="2.5" ry="1.4" fill="rgb(81,81,81)" transform="rotate(4 1008.7 421.4)"/><ellipse cx="691.1" cy="504.4" rx="2.3" ry="1.9" fill="rgb(93,93,93)" transform="rotate(-6 691.1 504.4)"/><ellipse cx="1063.9" cy="135.5" rx="4.4" ry="3.4" fill="rgb(94,94,94)" transform="rotate(15 1063.9 135.5)"/><ellipse cx="1050.6" cy="463.2" rx="2.9" ry="1.6" fill="rgb(80,80,80)" transform="rotate(12 1050.6 463.2)"/><ellipse cx="922.5" cy="286.9" rx="3.5" ry="2.0" fill="rgb(95,95,95)" transform="rotate(3 922.5 286.9)"/><ellipse cx="954.6" cy="287.3" rx="4.7" ry="3.5" fill="rgb(87,87,87)" transform="rotate(15 954.6 287.3)"/><ellipse cx="746.6" cy="445.1" rx="3.9" ry="2.7" fill="rgb(80,80,80)" transform="rotate(1 746.6 445.1)"/><ellipse cx="815.7" cy="52.9" rx="4.5" ry="3.8" fill="rgb(95,95,95)" transform="rotate(13 815.7 52.9)"/><ellipse cx="869.2" cy="487.1" rx="2.9" ry="1.9" fill="rgb(86,86,86)" transform="rotate(9 869.2 487.1)"/><ellipse cx="723.2" cy="79.4" rx="4.8" ry="2.7" fill="rgb(92,92,92)" transform="rotate(-2 723.2 79.4)"/><ellipse cx="1132.9" cy="461.0" rx="3.5" ry="2.7" fill="rgb(91,91,91)" transform="rotate(-12 1132.9 461.0)"/><ellipse cx="685.2" cy="523.7" rx="3.7" ry="3.2" fill="rgb(87,87,87)" transform="rotate(-21 685.2 523.7)"/><ellipse cx="724.9" cy="163.7" rx="4.9" ry="4.3" fill="rgb(82,82,82)" transform="rotate(-3 724.9 163.7)"/><ellipse cx="1136.9" cy="292.6" rx="3.1" ry="2.4" fill="rgb(80,80,80)" transform="rotate(3 1136.9 292.6)"/><ellipse cx="710.1" cy="299.7" rx="2.5" ry="1.4" fill="rgb(92,92,92)" transform="rotate(0 710.1 299.7)"/><ellipse cx="752.0" cy="241.8" rx="4.7" ry="3.3" fill="rgb(82,82,82)" transform="rotate(-1 752.0 241.8)"/><ellipse cx="1102.2" cy="345.2" rx="3.5" ry="2.8" fill="rgb(84,84,84)" transform="rotate(22 1102.2 345.2)"/><ellipse cx="805.6" cy="156.1" rx="3.6" ry="3.1" fill="rgb(92,92,92)" transform="rotate(8 805.6 156.1)"/><ellipse cx="677.0" cy="432.5" rx="4.8" ry="2.9" fill="rgb(81,81,81)" transform="rotate(-14 677.0 432.5)"/><ellipse cx="738.0" cy="121.3" rx="3.6" ry="3.0" fill="rgb(86,86,86)" transform="rotate(2 738.0 121.3)"/><ellipse cx="1003.1" cy="444.6" rx="4.9" ry="4.1" fill="rgb(87,87,87)" transform="rotate(-22 1003.1 444.6)"/><ellipse cx="816.1" cy="143.7" rx="4.9" ry="4.1" fill="rgb(79,79,79)" transform="rotate(-8 816.1 143.7)"/><ellipse cx="876.8" cy="351.0" rx="4.9" ry="3.4" fill="rgb(91,91,91)" transform="rotate(-4 876.8 351.0)"/><ellipse cx="1106.4" cy="290.5" rx="4.3" ry="3.4" fill="rgb(91,91,91)" transform="rotate(13 1106.4 290.5)"/><ellipse cx="861.8" cy="264.4" rx="3.9" ry="3.3" fill="rgb(89,89,89)" transform="rotate(-7 861.8 264.4)"/><ellipse cx="908.7" cy="294.6" rx="3.3" ry="2.2" fill="rgb(78,78,78)" transform="rotate(-22 908.7 294.6)"/><ellipse cx="750.1" cy="93.6" rx="3.2" ry="3.0" fill="rgb(85,85,85)" transform="rotate(21 750.1 93.6)"/><ellipse cx="1003.7" cy="495.0" rx="4.0" ry="3.8" fill="rgb(93,93,93)" transform="rotate(-21 1003.7 495.0)"/><ellipse cx="677.2" cy="509.6" rx="3.2" ry="2.6" fill="rgb(96,96,96)" transform="rotate(24 677.2 509.6)"/><ellipse cx="925.9" cy="208.4" rx="3.9" ry="3.2" fill="rgb(78,78,78)" transform="rotate(15 925.9 208.4)"/><ellipse cx="677.8" cy="236.7" rx="4.6" ry="4.1" fill="rgb(94,94,94)" transform="rotate(18 677.8 236.7)"/><ellipse cx="892.6" cy="254.2" rx="3.5" ry="2.7" fill="rgb(81,81,81)" transform="rotate(-6 892.6 254.2)"/><ellipse cx="904.1" cy="60.9" rx="3.8" ry="2.2" fill="rgb(88,88,88)" transform="rotate(-22 904.1 60.9)"/><ellipse cx="764.0" cy="270.1" rx="4.3" ry="4.1" fill="rgb(92,92,92)" transform="rotate(16 764.0 270.1)"/><ellipse cx="883.3" cy="298.5" rx="3.7" ry="3.5" fill="rgb(94,94,94)" transform="rotate(-24 883.3 298.5)"/><ellipse cx="1004.5" cy="394.5" rx="4.7" ry="4.3" fill="rgb(85,85,85)" transform="rotate(-4 1004.5 394.5)"/><ellipse cx="788.1" cy="143.5" rx="4.7" ry="3.9" fill="rgb(93,93,93)" transform="rotate(-9 788.1 143.5)"/><ellipse cx="1039.5" cy="59.7" rx="3.6" ry="2.4" fill="rgb(83,83,83)" transform="rotate(24 1039.5 59.7)"/><ellipse cx="677.5" cy="506.6" rx="4.1" ry="3.9" fill="rgb(85,85,85)" transform="rotate(20 677.5 506.6)"/><ellipse cx="938.6" cy="326.2" rx="4.0" ry="2.6" fill="rgb(89,89,89)" transform="rotate(-16 938.6 326.2)"/><ellipse cx="691.5" cy="395.2" rx="2.3" ry="2.1" fill="rgb(81,81,81)" transform="rotate(21 691.5 395.2)"/><ellipse cx="822.4" cy="392.6" rx="3.1" ry="2.6" fill="rgb(80,80,80)" transform="rotate(-14 822.4 392.6)"/><ellipse cx="803.0" cy="519.6" rx="4.7" ry="3.3" fill="rgb(96,96,96)" transform="rotate(22 803.0 519.6)"/><ellipse cx="743.7" cy="346.6" rx="2.8" ry="1.9" fill="rgb(83,83,83)" transform="rotate(-14 743.7 346.6)"/><ellipse cx="955.2" cy="155.4" rx="3.1" ry="1.9" fill="rgb(82,82,82)" transform="rotate(14 955.2 155.4)"/><ellipse cx="812.6" cy="513.4" rx="2.5" ry="1.4" fill="rgb(82,82,82)" transform="rotate(1 812.6 513.4)"/><ellipse cx="823.8" cy="242.5" rx="4.3" ry="3.5" fill="rgb(81,81,81)" transform="rotate(19 823.8 242.5)"/><ellipse cx="847.7" cy="323.7" rx="3.2" ry="2.7" fill="rgb(88,88,88)" transform="rotate(-0 847.7 323.7)"/><ellipse cx="758.2" cy="88.7" rx="2.9" ry="2.6" fill="rgb(95,95,95)" transform="rotate(-5 758.2 88.7)"/><ellipse cx="710.6" cy="146.7" rx="4.8" ry="2.9" fill="rgb(85,85,85)" transform="rotate(-21 710.6 146.7)"/><ellipse cx="912.1" cy="216.1" rx="5.0" ry="4.7" fill="rgb(87,87,87)" transform="rotate(17 912.1 216.1)"/><ellipse cx="996.8" cy="272.2" rx="4.4" ry="2.5" fill="rgb(80,80,80)" transform="rotate(16 996.8 272.2)"/><ellipse cx="922.4" cy="377.3" rx="3.9" ry="3.5" fill="rgb(82,82,82)" transform="rotate(-16 922.4 377.3)"/><ellipse cx="813.7" cy="465.2" rx="3.6" ry="3.1" fill="rgb(92,92,92)" transform="rotate(-8 813.7 465.2)"/><ellipse cx="1026.9" cy="426.6" rx="3.6" ry="2.8" fill="rgb(86,86,86)" transform="rotate(-2 1026.9 426.6)"/><ellipse cx="776.3" cy="325.1" rx="4.6" ry="3.0" fill="rgb(85,85,85)" transform="rotate(-6 776.3 325.1)"/><ellipse cx="817.0" cy="492.9" rx="4.2" ry="2.5" fill="rgb(87,87,87)" transform="rotate(-8 817.0 492.9)"/><ellipse cx="849.9" cy="104.5" rx="3.9" ry="2.7" fill="rgb(90,90,90)" transform="rotate(-19 849.9 104.5)"/><ellipse cx="922.5" cy="263.1" rx="4.0" ry="2.3" fill="rgb(93,93,93)" transform="rotate(1 922.5 263.1)"/><ellipse cx="795.7" cy="131.5" rx="4.5" ry="2.5" fill="rgb(88,88,88)" transform="rotate(-10 795.7 131.5)"/><ellipse cx="839.3" cy="511.9" rx="2.6" ry="1.6" fill="rgb(77,77,77)" transform="rotate(-7 839.3 511.9)"/><ellipse cx="712.1" cy="73.0" rx="4.1" ry="3.8" fill="rgb(80,80,80)" transform="rotate(5 712.1 73.0)"/><ellipse cx="1134.6" cy="136.2" rx="2.6" ry="2.0" fill="rgb(78,78,78)" transform="rotate(4 1134.6 136.2)"/><ellipse cx="1073.0" cy="470.9" rx="2.5" ry="1.9" fill="rgb(87,87,87)" transform="rotate(-2 1073.0 470.9)"/><ellipse cx="763.5" cy="340.3" rx="2.6" ry="2.2" fill="rgb(78,78,78)" transform="rotate(-25 763.5 340.3)"/><ellipse cx="1083.0" cy="212.4" rx="3.3" ry="2.5" fill="rgb(86,86,86)" transform="rotate(-24 1083.0 212.4)"/><ellipse cx="1065.7" cy="517.7" rx="3.0" ry="2.0" fill="rgb(82,82,82)" transform="rotate(8 1065.7 517.7)"/><ellipse cx="926.9" cy="318.1" rx="3.9" ry="2.6" fill="rgb(87,87,87)" transform="rotate(2 926.9 318.1)"/><ellipse cx="974.0" cy="356.5" rx="4.9" ry="3.0" fill="rgb(87,87,87)" transform="rotate(5 974.0 356.5)"/><ellipse cx="752.7" cy="228.4" rx="2.9" ry="2.2" fill="rgb(91,91,91)" transform="rotate(-12 752.7 228.4)"/><ellipse cx="896.1" cy="150.4" rx="3.3" ry="3.2" fill="rgb(95,95,95)" transform="rotate(-7 896.1 150.4)"/><ellipse cx="838.2" cy="138.6" rx="4.7" ry="4.3" fill="rgb(77,77,77)" transform="rotate(-3 838.2 138.6)"/><ellipse cx="866.4" cy="165.8" rx="4.1" ry="3.6" fill="rgb(84,84,84)" transform="rotate(24 866.4 165.8)"/><ellipse cx="965.8" cy="167.2" rx="4.1" ry="2.5" fill="rgb(85,85,85)" transform="rotate(4 965.8 167.2)"/><ellipse cx="763.9" cy="102.8" rx="3.3" ry="2.9" fill="rgb(81,81,81)" transform="rotate(-1 763.9 102.8)"/><ellipse cx="966.4" cy="140.4" rx="3.2" ry="2.9" fill="rgb(93,93,93)" transform="rotate(3 966.4 140.4)"/><ellipse cx="974.1" cy="55.1" rx="2.9" ry="2.0" fill="rgb(78,78,78)" transform="rotate(-2 974.1 55.1)"/><ellipse cx="968.0" cy="368.6" rx="3.9" ry="2.9" fill="rgb(94,94,94)" transform="rotate(-13 968.0 368.6)"/><ellipse cx="817.7" cy="165.2" rx="3.0" ry="2.7" fill="rgb(86,86,86)" transform="rotate(21 817.7 165.2)"/><ellipse cx="907.3" cy="236.4" rx="3.9" ry="2.2" fill="rgb(86,86,86)" transform="rotate(-7 907.3 236.4)"/><ellipse cx="906.0" cy="245.8" rx="4.1" ry="3.3" fill="rgb(77,77,77)" transform="rotate(1 906.0 245.8)"/><ellipse cx="873.8" cy="229.1" rx="2.7" ry="2.4" fill="rgb(80,80,80)" transform="rotate(-12 873.8 229.1)"/><ellipse cx="831.7" cy="486.6" rx="3.5" ry="2.2" fill="rgb(81,81,81)" transform="rotate(-10 831.7 486.6)"/><ellipse cx="1067.2" cy="53.8" rx="2.9" ry="2.4" fill="rgb(78,78,78)" transform="rotate(4 1067.2 53.8)"/><ellipse cx="1075.4" cy="271.0" rx="4.1" ry="3.2" fill="rgb(94,94,94)" transform="rotate(23 1075.4 271.0)"/><ellipse cx="957.8" cy="396.5" rx="4.2" ry="3.7" fill="rgb(85,85,85)" transform="rotate(7 957.8 396.5)"/><ellipse cx="873.4" cy="460.1" rx="4.5" ry="3.1" fill="rgb(88,88,88)" transform="rotate(24 873.4 460.1)"/><ellipse cx="1025.5" cy="158.3" rx="3.5" ry="2.1" fill="rgb(82,82,82)" transform="rotate(15 1025.5 158.3)"/><ellipse cx="761.0" cy="345.0" rx="4.3" ry="4.0" fill="rgb(85,85,85)" transform="rotate(-22 761.0 345.0)"/><ellipse cx="876.6" cy="362.0" rx="4.3" ry="3.9" fill="rgb(78,78,78)" transform="rotate(-3 876.6 362.0)"/><ellipse cx="1023.4" cy="181.8" rx="4.5" ry="4.2" fill="rgb(83,83,83)" transform="rotate(5 1023.4 181.8)"/><ellipse cx="698.2" cy="371.0" rx="4.9" ry="4.2" fill="rgb(83,83,83)" transform="rotate(21 698.2 371.0)"/><ellipse cx="677.5" cy="320.0" rx="2.4" ry="1.7" fill="rgb(82,82,82)" transform="rotate(-19 677.5 320.0)"/><ellipse cx="1093.5" cy="438.6" rx="3.7" ry="2.3" fill="rgb(87,87,87)" transform="rotate(-14 1093.5 438.6)"/><ellipse cx="937.1" cy="372.2" rx="4.8" ry="3.1" fill="rgb(82,82,82)" transform="rotate(-16 937.1 372.2)"/><ellipse cx="1125.1" cy="434.4" rx="3.2" ry="2.3" fill="rgb(93,93,93)" transform="rotate(4 1125.1 434.4)"/><ellipse cx="955.5" cy="246.8" rx="3.9" ry="2.1" fill="rgb(80,80,80)" transform="rotate(17 955.5 246.8)"/><ellipse cx="1115.4" cy="319.4" rx="4.0" ry="2.9" fill="rgb(84,84,84)" transform="rotate(4 1115.4 319.4)"/><ellipse cx="1048.1" cy="484.3" rx="2.9" ry="2.1" fill="rgb(85,85,85)" transform="rotate(12 1048.1 484.3)"/><ellipse cx="1091.1" cy="514.9" rx="4.1" ry="3.2" fill="rgb(79,79,79)" transform="rotate(-22 1091.1 514.9)"/><ellipse cx="686.2" cy="347.1" rx="3.8" ry="2.2" fill="rgb(95,95,95)" transform="rotate(10 686.2 347.1)"/><ellipse cx="1003.8" cy="170.2" rx="3.0" ry="2.4" fill="rgb(83,83,83)" transform="rotate(2 1003.8 170.2)"/><ellipse cx="987.1" cy="337.9" rx="3.1" ry="2.9" fill="rgb(82,82,82)" transform="rotate(3 987.1 337.9)"/><ellipse cx="858.1" cy="69.2" rx="3.2" ry="2.6" fill="rgb(94,94,94)" transform="rotate(-5 858.1 69.2)"/><ellipse cx="751.7" cy="353.6" rx="2.3" ry="1.8" fill="rgb(79,79,79)" transform="rotate(10 751.7 353.6)"/><ellipse cx="1037.6" cy="422.3" rx="3.2" ry="2.7" fill="rgb(87,87,87)" transform="rotate(-13 1037.6 422.3)"/><ellipse cx="1012.7" cy="155.2" rx="4.9" ry="4.3" fill="rgb(77,77,77)" transform="rotate(9 1012.7 155.2)"/><ellipse cx="891.3" cy="76.7" rx="3.5" ry="2.8" fill="rgb(77,77,77)" transform="rotate(-17 891.3 76.7)"/><ellipse cx="1041.0" cy="175.6" rx="4.6" ry="3.3" fill="rgb(90,90,90)" transform="rotate(-6 1041.0 175.6)"/><ellipse cx="684.4" cy="371.6" rx="3.0" ry="2.3" fill="rgb(91,91,91)" transform="rotate(3 684.4 371.6)"/><ellipse cx="766.0" cy="129.5" rx="4.5" ry="4.1" fill="rgb(83,83,83)" transform="rotate(6 766.0 129.5)"/><ellipse cx="1133.9" cy="123.6" rx="3.6" ry="3.1" fill="rgb(90,90,90)" transform="rotate(4 1133.9 123.6)"/><ellipse cx="1052.5" cy="228.8" rx="2.8" ry="1.9" fill="rgb(83,83,83)" transform="rotate(-3 1052.5 228.8)"/><ellipse cx="733.3" cy="452.5" rx="4.0" ry="3.3" fill="rgb(90,90,90)" transform="rotate(13 733.3 452.5)"/><ellipse cx="888.7" cy="176.5" rx="2.8" ry="1.7" fill="rgb(96,96,96)" transform="rotate(9 888.7 176.5)"/><ellipse cx="978.2" cy="340.6" rx="3.4" ry="2.6" fill="rgb(77,77,77)" transform="rotate(9 978.2 340.6)"/><ellipse cx="879.4" cy="93.0" rx="4.8" ry="3.7" fill="rgb(77,77,77)" transform="rotate(-13 879.4 93.0)"/><ellipse cx="828.6" cy="288.3" rx="2.2" ry="1.6" fill="rgb(90,90,90)" transform="rotate(8 828.6 288.3)"/><ellipse cx="837.8" cy="395.8" rx="2.6" ry="1.5" fill="rgb(77,77,77)" transform="rotate(-16 837.8 395.8)"/><ellipse cx="1067.5" cy="202.1" rx="4.7" ry="4.0" fill="rgb(93,93,93)" transform="rotate(23 1067.5 202.1)"/><ellipse cx="985.3" cy="373.2" rx="4.5" ry="3.6" fill="rgb(85,85,85)" transform="rotate(9 985.3 373.2)"/><ellipse cx="715.5" cy="426.4" rx="2.4" ry="2.2" fill="rgb(90,90,90)" transform="rotate(22 715.5 426.4)"/><ellipse cx="980.3" cy="243.5" rx="3.6" ry="2.6" fill="rgb(78,78,78)" transform="rotate(17 980.3 243.5)"/><ellipse cx="756.6" cy="156.3" rx="3.1" ry="2.6" fill="rgb(85,85,85)" transform="rotate(-10 756.6 156.3)"/><ellipse cx="954.3" cy="201.0" rx="2.7" ry="2.4" fill="rgb(86,86,86)" transform="rotate(9 954.3 201.0)"/><ellipse cx="689.6" cy="519.9" rx="2.7" ry="2.1" fill="rgb(80,80,80)" transform="rotate(-9 689.6 519.9)"/><ellipse cx="1046.9" cy="298.7" rx="5.0" ry="2.9" fill="rgb(94,94,94)" transform="rotate(20 1046.9 298.7)"/><ellipse cx="830.2" cy="488.9" rx="3.0" ry="2.5" fill="rgb(83,83,83)" transform="rotate(1 830.2 488.9)"/><ellipse cx="975.4" cy="457.4" rx="3.1" ry="1.8" fill="rgb(82,82,82)" transform="rotate(12 975.4 457.4)"/><ellipse cx="837.6" cy="268.6" rx="4.0" ry="2.9" fill="rgb(95,95,95)" transform="rotate(-5 837.6 268.6)"/><ellipse cx="906.2" cy="467.6" rx="2.4" ry="1.7" fill="rgb(90,90,90)" transform="rotate(8 906.2 467.6)"/><ellipse cx="885.7" cy="260.3" rx="4.7" ry="4.3" fill="rgb(82,82,82)" transform="rotate(-3 885.7 260.3)"/><ellipse cx="680.3" cy="103.1" rx="3.2" ry="2.2" fill="rgb(91,91,91)" transform="rotate(-18 680.3 103.1)"/><ellipse cx="891.1" cy="453.0" rx="2.5" ry="1.6" fill="rgb(84,84,84)" transform="rotate(4 891.1 453.0)"/><ellipse cx="1124.1" cy="150.0" rx="3.5" ry="2.7" fill="rgb(93,93,93)" transform="rotate(21 1124.1 150.0)"/><ellipse cx="1104.4" cy="130.9" rx="3.1" ry="1.8" fill="rgb(77,77,77)" transform="rotate(-5 1104.4 130.9)"/><ellipse cx="883.7" cy="343.7" rx="4.8" ry="2.9" fill="rgb(96,96,96)" transform="rotate(10 883.7 343.7)"/><ellipse cx="740.1" cy="378.8" rx="2.5" ry="1.5" fill="rgb(90,90,90)" transform="rotate(-18 740.1 378.8)"/><ellipse cx="992.0" cy="255.0" rx="4.1" ry="2.7" fill="rgb(89,89,89)" transform="rotate(-20 992.0 255.0)"/><ellipse cx="1086.1" cy="430.8" rx="3.2" ry="2.6" fill="rgb(78,78,78)" transform="rotate(6 1086.1 430.8)"/><ellipse cx="789.6" cy="509.5" rx="2.5" ry="1.4" fill="rgb(95,95,95)" transform="rotate(9 789.6 509.5)"/><ellipse cx="971.0" cy="93.8" rx="3.4" ry="2.9" fill="rgb(78,78,78)" transform="rotate(15 971.0 93.8)"/><ellipse cx="957.6" cy="111.3" rx="3.7" ry="2.6" fill="rgb(93,93,93)" transform="rotate(3 957.6 111.3)"/><ellipse cx="1073.7" cy="413.8" rx="3.6" ry="2.3" fill="rgb(97,97,97)" transform="rotate(-9 1073.7 413.8)"/><ellipse cx="975.8" cy="449.9" rx="2.7" ry="1.6" fill="rgb(93,93,93)" transform="rotate(12 975.8 449.9)"/><ellipse cx="753.1" cy="196.3" rx="3.9" ry="3.1" fill="rgb(94,94,94)" transform="rotate(-1 753.1 196.3)"/><ellipse cx="765.8" cy="416.0" rx="3.4" ry="2.2" fill="rgb(79,79,79)" transform="rotate(-12 765.8 416.0)"/><ellipse cx="735.2" cy="125.7" rx="3.6" ry="2.2" fill="rgb(80,80,80)" transform="rotate(10 735.2 125.7)"/><ellipse cx="761.7" cy="411.5" rx="2.3" ry="1.5" fill="rgb(80,80,80)" transform="rotate(2 761.7 411.5)"/><ellipse cx="907.2" cy="408.3" rx="3.4" ry="3.0" fill="rgb(78,78,78)" transform="rotate(5 907.2 408.3)"/><ellipse cx="704.1" cy="214.0" rx="4.7" ry="3.1" fill="rgb(78,78,78)" transform="rotate(24 704.1 214.0)"/><ellipse cx="682.1" cy="338.9" rx="2.6" ry="2.1" fill="rgb(93,93,93)" transform="rotate(-19 682.1 338.9)"/><ellipse cx="1113.8" cy="374.6" rx="2.5" ry="1.6" fill="rgb(84,84,84)" transform="rotate(14 1113.8 374.6)"/><ellipse cx="1087.9" cy="140.1" rx="4.6" ry="3.7" fill="rgb(77,77,77)" transform="rotate(2 1087.9 140.1)"/><ellipse cx="810.0" cy="323.1" rx="4.4" ry="2.6" fill="rgb(78,78,78)" transform="rotate(-22 810.0 323.1)"/><ellipse cx="931.7" cy="402.4" rx="3.0" ry="2.5" fill="rgb(94,94,94)" transform="rotate(-1 931.7 402.4)"/><ellipse cx="721.7" cy="58.2" rx="2.5" ry="2.1" fill="rgb(93,93,93)" transform="rotate(-25 721.7 58.2)"/><ellipse cx="978.8" cy="487.8" rx="3.0" ry="2.8" fill="rgb(93,93,93)" transform="rotate(-15 978.8 487.8)"/><ellipse cx="765.0" cy="452.1" rx="3.0" ry="1.7" fill="rgb(77,77,77)" transform="rotate(9 765.0 452.1)"/><ellipse cx="1000.1" cy="134.9" rx="4.7" ry="3.3" fill="rgb(82,82,82)" transform="rotate(-13 1000.1 134.9)"/><ellipse cx="986.3" cy="415.3" rx="4.6" ry="2.7" fill="rgb(89,89,89)" transform="rotate(-9 986.3 415.3)"/><ellipse cx="716.8" cy="363.4" rx="2.7" ry="1.6" fill="rgb(96,96,96)" transform="rotate(-22 716.8 363.4)"/><ellipse cx="906.8" cy="238.2" rx="2.7" ry="2.5" fill="rgb(78,78,78)" transform="rotate(-22 906.8 238.2)"/><ellipse cx="829.0" cy="331.8" rx="3.8" ry="3.1" fill="rgb(88,88,88)" transform="rotate(-2 829.0 331.8)"/><ellipse cx="1143.2" cy="104.1" rx="3.5" ry="2.4" fill="rgb(96,96,96)" transform="rotate(-0 1143.2 104.1)"/><ellipse cx="913.9" cy="426.7" rx="5.0" ry="4.1" fill="rgb(77,77,77)" transform="rotate(-17 913.9 426.7)"/><ellipse cx="737.0" cy="76.3" rx="2.3" ry="2.1" fill="rgb(85,85,85)" transform="rotate(12 737.0 76.3)"/><ellipse cx="800.3" cy="152.0" rx="5.0" ry="2.9" fill="rgb(94,94,94)" transform="rotate(-22 800.3 152.0)"/><ellipse cx="903.6" cy="262.8" rx="3.8" ry="3.0" fill="rgb(79,79,79)" transform="rotate(18 903.6 262.8)"/><ellipse cx="772.7" cy="173.1" rx="2.3" ry="1.5" fill="rgb(88,88,88)" transform="rotate(-1 772.7 173.1)"/><ellipse cx="1130.0" cy="442.9" rx="3.2" ry="2.2" fill="rgb(87,87,87)" transform="rotate(-11 1130.0 442.9)"/><ellipse cx="846.8" cy="362.3" rx="2.8" ry="2.6" fill="rgb(95,95,95)" transform="rotate(9 846.8 362.3)"/><ellipse cx="1018.7" cy="526.3" rx="3.5" ry="2.5" fill="rgb(90,90,90)" transform="rotate(14 1018.7 526.3)"/><ellipse cx="885.5" cy="156.9" rx="5.0" ry="4.2" fill="rgb(90,90,90)" transform="rotate(-21 885.5 156.9)"/><ellipse cx="870.7" cy="347.2" rx="4.6" ry="3.1" fill="rgb(78,78,78)" transform="rotate(11 870.7 347.2)"/><ellipse cx="1085.0" cy="313.1" rx="4.2" ry="2.9" fill="rgb(83,83,83)" transform="rotate(-19 1085.0 313.1)"/><ellipse cx="725.1" cy="429.4" rx="4.5" ry="3.5" fill="rgb(88,88,88)" transform="rotate(1 725.1 429.4)"/><ellipse cx="1056.5" cy="92.7" rx="2.8" ry="1.7" fill="rgb(97,97,97)" transform="rotate(-0 1056.5 92.7)"/><ellipse cx="1012.3" cy="197.9" rx="4.5" ry="3.9" fill="rgb(85,85,85)" transform="rotate(25 1012.3 197.9)"/><ellipse cx="1145.1" cy="413.2" rx="3.2" ry="2.9" fill="rgb(96,96,96)" transform="rotate(3 1145.1 413.2)"/><ellipse cx="847.8" cy="349.9" rx="3.1" ry="1.8" fill="rgb(83,83,83)" transform="rotate(-6 847.8 349.9)"/><ellipse cx="905.7" cy="308.2" rx="4.8" ry="3.9" fill="rgb(86,86,86)" transform="rotate(-1 905.7 308.2)"/><ellipse cx="1053.7" cy="353.9" rx="3.4" ry="2.4" fill="rgb(92,92,92)" transform="rotate(8 1053.7 353.9)"/><ellipse cx="840.9" cy="121.5" rx="2.7" ry="1.5" fill="rgb(91,91,91)" transform="rotate(17 840.9 121.5)"/><ellipse cx="947.6" cy="66.2" rx="3.2" ry="2.0" fill="rgb(78,78,78)" transform="rotate(6 947.6 66.2)"/><ellipse cx="1082.9" cy="452.2" rx="4.5" ry="2.9" fill="rgb(91,91,91)" transform="rotate(-10 1082.9 452.2)"/><ellipse cx="841.2" cy="418.3" rx="2.3" ry="1.8" fill="rgb(83,83,83)" transform="rotate(-1 841.2 418.3)"/><ellipse cx="784.8" cy="147.6" rx="4.9" ry="3.6" fill="rgb(81,81,81)" transform="rotate(7 784.8 147.6)"/><ellipse cx="1095.6" cy="287.4" rx="3.8" ry="3.4" fill="rgb(95,95,95)" transform="rotate(-2 1095.6 287.4)"/><ellipse cx="945.0" cy="124.0" rx="2.6" ry="2.5" fill="rgb(81,81,81)" transform="rotate(2 945.0 124.0)"/><ellipse cx="779.8" cy="104.1" rx="2.9" ry="2.1" fill="rgb(82,82,82)" transform="rotate(21 779.8 104.1)"/><ellipse cx="816.6" cy="486.1" rx="4.0" ry="3.7" fill="rgb(86,86,86)" transform="rotate(-24 816.6 486.1)"/><ellipse cx="747.8" cy="89.3" rx="2.6" ry="1.5" fill="rgb(81,81,81)" transform="rotate(-0 747.8 89.3)"/><ellipse cx="992.8" cy="145.0" rx="3.4" ry="2.8" fill="rgb(79,79,79)" transform="rotate(10 992.8 145.0)"/><ellipse cx="716.7" cy="58.3" rx="4.4" ry="3.3" fill="rgb(89,89,89)" transform="rotate(-10 716.7 58.3)"/><ellipse cx="748.2" cy="322.3" rx="3.1" ry="2.9" fill="rgb(93,93,93)" transform="rotate(20 748.2 322.3)"/><ellipse cx="761.1" cy="229.6" rx="3.3" ry="2.0" fill="rgb(86,86,86)" transform="rotate(5 761.1 229.6)"/><ellipse cx="817.3" cy="136.0" rx="2.3" ry="1.5" fill="rgb(86,86,86)" transform="rotate(24 817.3 136.0)"/><ellipse cx="1015.5" cy="170.9" rx="2.9" ry="1.9" fill="rgb(94,94,94)" transform="rotate(-25 1015.5 170.9)"/><ellipse cx="1109.8" cy="419.6" rx="3.0" ry="2.3" fill="rgb(79,79,79)" transform="rotate(10 1109.8 419.6)"/><ellipse cx="725.8" cy="513.2" rx="3.4" ry="2.7" fill="rgb(96,96,96)" transform="rotate(20 725.8 513.2)"/><ellipse cx="1067.1" cy="345.4" rx="3.2" ry="2.5" fill="rgb(92,92,92)" transform="rotate(-9 1067.1 345.4)"/><ellipse cx="1123.7" cy="345.1" rx="4.8" ry="2.9" fill="rgb(87,87,87)" transform="rotate(0 1123.7 345.1)"/><ellipse cx="817.4" cy="317.8" rx="3.6" ry="2.5" fill="rgb(82,82,82)" transform="rotate(1 817.4 317.8)"/><ellipse cx="862.0" cy="171.0" rx="2.3" ry="1.7" fill="rgb(90,90,90)" transform="rotate(-18 862.0 171.0)"/><ellipse cx="1103.1" cy="117.4" rx="2.5" ry="1.4" fill="rgb(93,93,93)" transform="rotate(-16 1103.1 117.4)"/><ellipse cx="705.3" cy="381.6" rx="2.9" ry="2.0" fill="rgb(88,88,88)" transform="rotate(-11 705.3 381.6)"/><ellipse cx="1096.7" cy="252.5" rx="4.0" ry="3.2" fill="rgb(88,88,88)" transform="rotate(12 1096.7 252.5)"/><ellipse cx="818.2" cy="132.2" rx="3.5" ry="3.1" fill="rgb(86,86,86)" transform="rotate(-1 818.2 132.2)"/><ellipse cx="1102.3" cy="453.1" rx="4.9" ry="4.1" fill="rgb(90,90,90)" transform="rotate(-4 1102.3 453.1)"/><ellipse cx="787.9" cy="461.3" rx="4.0" ry="3.8" fill="rgb(81,81,81)" transform="rotate(21 787.9 461.3)"/><ellipse cx="774.7" cy="406.1" rx="3.4" ry="3.0" fill="rgb(89,89,89)" transform="rotate(-10 774.7 406.1)"/><ellipse cx="1059.3" cy="143.0" rx="4.3" ry="3.4" fill="rgb(92,92,92)" transform="rotate(18 1059.3 143.0)"/><ellipse cx="741.8" cy="468.2" rx="4.3" ry="3.8" fill="rgb(96,96,96)" transform="rotate(5 741.8 468.2)"/><ellipse cx="1047.1" cy="286.6" rx="4.8" ry="3.6" fill="rgb(87,87,87)" transform="rotate(-24 1047.1 286.6)"/><ellipse cx="871.4" cy="110.0" rx="2.2" ry="1.7" fill="rgb(78,78,78)" transform="rotate(-20 871.4 110.0)"/><ellipse cx="1135.8" cy="154.0" rx="3.1" ry="2.6" fill="rgb(77,77,77)" transform="rotate(18 1135.8 154.0)"/><ellipse cx="901.9" cy="86.0" rx="2.5" ry="1.7" fill="rgb(90,90,90)" transform="rotate(1 901.9 86.0)"/><ellipse cx="822.3" cy="85.0" rx="4.2" ry="2.7" fill="rgb(86,86,86)" transform="rotate(-4 822.3 85.0)"/><ellipse cx="947.6" cy="499.8" rx="4.4" ry="4.0" fill="rgb(82,82,82)" transform="rotate(7 947.6 499.8)"/><ellipse cx="997.3" cy="412.8" rx="3.4" ry="3.1" fill="rgb(86,86,86)" transform="rotate(19 997.3 412.8)"/><ellipse cx="901.4" cy="393.3" rx="2.8" ry="1.8" fill="rgb(87,87,87)" transform="rotate(6 901.4 393.3)"/><ellipse cx="916.7" cy="454.1" rx="4.6" ry="3.3" fill="rgb(78,78,78)" transform="rotate(-6 916.7 454.1)"/><ellipse cx="751.8" cy="444.8" rx="3.0" ry="2.4" fill="rgb(91,91,91)" transform="rotate(-2 751.8 444.8)"/><ellipse cx="1095.2" cy="228.8" rx="3.5" ry="3.3" fill="rgb(80,80,80)" transform="rotate(10 1095.2 228.8)"/><ellipse cx="691.3" cy="167.5" rx="3.6" ry="3.3" fill="rgb(94,94,94)" transform="rotate(14 691.3 167.5)"/><ellipse cx="741.0" cy="327.6" rx="3.0" ry="1.8" fill="rgb(92,92,92)" transform="rotate(16 741.0 327.6)"/><ellipse cx="884.6" cy="328.8" rx="3.2" ry="2.2" fill="rgb(78,78,78)" transform="rotate(12 884.6 328.8)"/><ellipse cx="1019.8" cy="191.6" rx="3.0" ry="2.9" fill="rgb(81,81,81)" transform="rotate(1 1019.8 191.6)"/><ellipse cx="710.4" cy="492.3" rx="4.3" ry="3.3" fill="rgb(84,84,84)" transform="rotate(-17 710.4 492.3)"/><ellipse cx="754.3" cy="362.5" rx="3.5" ry="2.4" fill="rgb(87,87,87)" transform="rotate(-14 754.3 362.5)"/><ellipse cx="1070.0" cy="343.4" rx="2.6" ry="1.8" fill="rgb(79,79,79)" transform="rotate(-0 1070.0 343.4)"/><ellipse cx="889.6" cy="150.8" rx="5.0" ry="4.1" fill="rgb(84,84,84)" transform="rotate(6 889.6 150.8)"/><ellipse cx="981.4" cy="94.6" rx="3.6" ry="2.9" fill="rgb(83,83,83)" transform="rotate(-6 981.4 94.6)"/><ellipse cx="985.8" cy="358.2" rx="4.7" ry="3.0" fill="rgb(84,84,84)" transform="rotate(19 985.8 358.2)"/><ellipse cx="717.2" cy="91.6" rx="2.4" ry="1.6" fill="rgb(80,80,80)" transform="rotate(-6 717.2 91.6)"/><ellipse cx="909.3" cy="169.1" rx="3.8" ry="3.2" fill="rgb(83,83,83)" transform="rotate(-18 909.3 169.1)"/><ellipse cx="1144.3" cy="257.8" rx="2.4" ry="1.4" fill="rgb(91,91,91)" transform="rotate(-3 1144.3 257.8)"/><ellipse cx="1122.2" cy="407.4" rx="2.4" ry="2.1" fill="rgb(96,96,96)" transform="rotate(25 1122.2 407.4)"/><ellipse cx="1080.7" cy="350.0" rx="4.8" ry="4.1" fill="rgb(85,85,85)" transform="rotate(-11 1080.7 350.0)"/><ellipse cx="682.4" cy="93.6" rx="3.3" ry="1.9" fill="rgb(79,79,79)" transform="rotate(-2 682.4 93.6)"/><ellipse cx="798.0" cy="511.3" rx="2.7" ry="2.1" fill="rgb(87,87,87)" transform="rotate(-5 798.0 511.3)"/><ellipse cx="1052.1" cy="505.5" rx="4.5" ry="2.6" fill="rgb(84,84,84)" transform="rotate(-4 1052.1 505.5)"/><ellipse cx="1110.4" cy="380.5" rx="3.2" ry="2.7" fill="rgb(96,96,96)" transform="rotate(-21 1110.4 380.5)"/><ellipse cx="1139.1" cy="100.0" rx="2.2" ry="1.3" fill="rgb(94,94,94)" transform="rotate(-10 1139.1 100.0)"/><ellipse cx="1089.7" cy="345.0" rx="2.3" ry="2.2" fill="rgb(80,80,80)" transform="rotate(22 1089.7 345.0)"/><ellipse cx="1099.7" cy="311.4" rx="2.4" ry="1.4" fill="rgb(81,81,81)" transform="rotate(-15 1099.7 311.4)"/><ellipse cx="1032.6" cy="151.3" rx="3.4" ry="2.0" fill="rgb(94,94,94)" transform="rotate(-8 1032.6 151.3)"/><ellipse cx="688.0" cy="399.7" rx="4.1" ry="3.1" fill="rgb(92,92,92)" transform="rotate(-9 688.0 399.7)"/><ellipse cx="1060.8" cy="436.3" rx="3.5" ry="3.0" fill="rgb(83,83,83)" transform="rotate(2 1060.8 436.3)"/><ellipse cx="972.4" cy="79.0" rx="3.9" ry="3.4" fill="rgb(97,97,97)" transform="rotate(25 972.4 79.0)"/><ellipse cx="872.5" cy="334.7" rx="2.5" ry="2.3" fill="rgb(77,77,77)" transform="rotate(7 872.5 334.7)"/><ellipse cx="890.7" cy="437.5" rx="4.8" ry="4.4" fill="rgb(96,96,96)" transform="rotate(21 890.7 437.5)"/><ellipse cx="685.3" cy="102.8" rx="3.5" ry="2.9" fill="rgb(94,94,94)" transform="rotate(16 685.3 102.8)"/><ellipse cx="1033.4" cy="277.6" rx="2.8" ry="1.8" fill="rgb(92,92,92)" transform="rotate(-9 1033.4 277.6)"/><ellipse cx="710.4" cy="372.6" rx="3.8" ry="3.1" fill="rgb(86,86,86)" transform="rotate(-13 710.4 372.6)"/><ellipse cx="1138.7" cy="291.4" rx="3.8" ry="3.1" fill="rgb(77,77,77)" transform="rotate(-16 1138.7 291.4)"/><ellipse cx="838.7" cy="502.8" rx="2.3" ry="2.2" fill="rgb(89,89,89)" transform="rotate(-4 838.7 502.8)"/><ellipse cx="1028.1" cy="469.2" rx="4.4" ry="2.4" fill="rgb(94,94,94)" transform="rotate(-7 1028.1 469.2)"/><ellipse cx="1076.4" cy="288.6" rx="4.6" ry="2.7" fill="rgb(87,87,87)" transform="rotate(17 1076.4 288.6)"/><ellipse cx="826.6" cy="446.9" rx="2.6" ry="2.0" fill="rgb(77,77,77)" transform="rotate(12 826.6 446.9)"/><ellipse cx="803.5" cy="377.8" rx="2.4" ry="1.8" fill="rgb(88,88,88)" transform="rotate(-17 803.5 377.8)"/><ellipse cx="818.6" cy="377.8" rx="3.8" ry="3.0" fill="rgb(77,77,77)" transform="rotate(13 818.6 377.8)"/><ellipse cx="905.0" cy="344.2" rx="2.3" ry="2.1" fill="rgb(77,77,77)" transform="rotate(2 905.0 344.2)"/><ellipse cx="874.0" cy="180.0" rx="2.5" ry="1.6" fill="rgb(93,93,93)" transform="rotate(-17 874.0 180.0)"/><ellipse cx="871.3" cy="474.2" rx="3.0" ry="2.7" fill="rgb(79,79,79)" transform="rotate(-8 871.3 474.2)"/><ellipse cx="855.4" cy="79.7" rx="2.6" ry="2.1" fill="rgb(85,85,85)" transform="rotate(-25 855.4 79.7)"/><ellipse cx="795.2" cy="176.0" rx="3.4" ry="2.6" fill="rgb(85,85,85)" transform="rotate(17 795.2 176.0)"/><ellipse cx="1076.9" cy="388.1" rx="3.5" ry="3.2" fill="rgb(82,82,82)" transform="rotate(-4 1076.9 388.1)"/><ellipse cx="719.0" cy="256.3" rx="5.0" ry="4.7" fill="rgb(83,83,83)" transform="rotate(-2 719.0 256.3)"/><ellipse cx="791.7" cy="276.9" rx="4.4" ry="2.9" fill="rgb(97,97,97)" transform="rotate(25 791.7 276.9)"/><ellipse cx="1031.9" cy="119.3" rx="2.4" ry="2.2" fill="rgb(96,96,96)" transform="rotate(6 1031.9 119.3)"/><ellipse cx="800.8" cy="172.2" rx="4.6" ry="2.8" fill="rgb(87,87,87)" transform="rotate(-17 800.8 172.2)"/><ellipse cx="766.2" cy="472.2" rx="4.7" ry="3.7" fill="rgb(84,84,84)" transform="rotate(-15 766.2 472.2)"/><ellipse cx="716.5" cy="110.6" rx="3.0" ry="1.7" fill="rgb(82,82,82)" transform="rotate(-18 716.5 110.6)"/><ellipse cx="993.8" cy="392.3" rx="4.9" ry="3.0" fill="rgb(93,93,93)" transform="rotate(16 993.8 392.3)"/><ellipse cx="1100.7" cy="368.7" rx="4.5" ry="4.0" fill="rgb(78,78,78)" transform="rotate(13 1100.7 368.7)"/><ellipse cx="1082.1" cy="498.2" rx="4.0" ry="2.9" fill="rgb(84,84,84)" transform="rotate(2 1082.1 498.2)"/><ellipse cx="862.4" cy="249.0" rx="4.5" ry="3.8" fill="rgb(85,85,85)" transform="rotate(10 862.4 249.0)"/><ellipse cx="697.3" cy="411.8" rx="3.6" ry="2.5" fill="rgb(97,97,97)" transform="rotate(-13 697.3 411.8)"/><ellipse cx="785.6" cy="518.8" rx="4.3" ry="2.8" fill="rgb(91,91,91)" transform="rotate(20 785.6 518.8)"/><ellipse cx="967.2" cy="179.9" rx="3.0" ry="2.2" fill="rgb(85,85,85)" transform="rotate(25 967.2 179.9)"/><ellipse cx="855.6" cy="394.2" rx="3.1" ry="1.8" fill="rgb(78,78,78)" transform="rotate(23 855.6 394.2)"/><ellipse cx="873.8" cy="384.5" rx="3.3" ry="2.0" fill="rgb(84,84,84)" transform="rotate(7 873.8 384.5)"/><ellipse cx="930.4" cy="267.0" rx="3.6" ry="2.6" fill="rgb(94,94,94)" transform="rotate(-18 930.4 267.0)"/><ellipse cx="819.3" cy="79.0" rx="4.6" ry="3.1" fill="rgb(92,92,92)" transform="rotate(-24 819.3 79.0)"/><ellipse cx="1032.7" cy="105.0" rx="3.1" ry="2.2" fill="rgb(88,88,88)" transform="rotate(16 1032.7 105.0)"/><ellipse cx="1115.2" cy="404.1" rx="4.0" ry="3.7" fill="rgb(84,84,84)" transform="rotate(-7 1115.2 404.1)"/><ellipse cx="707.6" cy="293.3" rx="4.4" ry="2.6" fill="rgb(87,87,87)" transform="rotate(8 707.6 293.3)"/><ellipse cx="889.1" cy="173.7" rx="4.8" ry="4.1" fill="rgb(77,77,77)" transform="rotate(-11 889.1 173.7)"/><ellipse cx="909.8" cy="245.6" rx="4.1" ry="2.8" fill="rgb(82,82,82)" transform="rotate(-14 909.8 245.6)"/><ellipse cx="872.3" cy="460.2" rx="3.7" ry="2.3" fill="rgb(86,86,86)" transform="rotate(-17 872.3 460.2)"/><ellipse cx="773.4" cy="315.5" rx="4.7" ry="4.1" fill="rgb(96,96,96)" transform="rotate(21 773.4 315.5)"/><ellipse cx="810.5" cy="66.2" rx="4.7" ry="4.3" fill="rgb(78,78,78)" transform="rotate(-15 810.5 66.2)"/><ellipse cx="806.4" cy="431.5" rx="2.9" ry="1.8" fill="rgb(96,96,96)" transform="rotate(-17 806.4 431.5)"/><ellipse cx="1061.3" cy="502.2" rx="3.3" ry="2.3" fill="rgb(79,79,79)" transform="rotate(-6 1061.3 502.2)"/><ellipse cx="1037.3" cy="165.8" rx="2.5" ry="2.1" fill="rgb(92,92,92)" transform="rotate(-14 1037.3 165.8)"/><ellipse cx="1010.9" cy="252.7" rx="3.4" ry="2.3" fill="rgb(81,81,81)" transform="rotate(24 1010.9 252.7)"/><ellipse cx="967.9" cy="361.1" rx="4.7" ry="3.9" fill="rgb(78,78,78)" transform="rotate(-14 967.9 361.1)"/><ellipse cx="720.8" cy="69.7" rx="2.5" ry="2.0" fill="rgb(90,90,90)" transform="rotate(-8 720.8 69.7)"/><ellipse cx="1121.5" cy="74.5" rx="3.6" ry="3.4" fill="rgb(95,95,95)" transform="rotate(17 1121.5 74.5)"/><ellipse cx="996.7" cy="376.8" rx="4.6" ry="2.7" fill="rgb(86,86,86)" transform="rotate(-4 996.7 376.8)"/><ellipse cx="1108.5" cy="510.4" rx="4.8" ry="4.1" fill="rgb(81,81,81)" transform="rotate(-14 1108.5 510.4)"/><ellipse cx="939.5" cy="64.7" rx="2.3" ry="2.1" fill="rgb(82,82,82)" transform="rotate(0 939.5 64.7)"/><ellipse cx="1128.3" cy="139.3" rx="4.2" ry="3.3" fill="rgb(91,91,91)" transform="rotate(14 1128.3 139.3)"/><ellipse cx="1062.2" cy="393.9" rx="2.9" ry="2.7" fill="rgb(80,80,80)" transform="rotate(-3 1062.2 393.9)"/><ellipse cx="1118.4" cy="467.1" rx="3.1" ry="2.0" fill="rgb(80,80,80)" transform="rotate(18 1118.4 467.1)"/><ellipse cx="1085.0" cy="499.4" rx="3.2" ry="2.7" fill="rgb(86,86,86)" transform="rotate(2 1085.0 499.4)"/><ellipse cx="731.0" cy="365.4" rx="2.9" ry="2.6" fill="rgb(82,82,82)" transform="rotate(13 731.0 365.4)"/><ellipse cx="684.4" cy="425.2" rx="4.8" ry="3.8" fill="rgb(95,95,95)" transform="rotate(-2 684.4 425.2)"/><ellipse cx="907.3" cy="502.3" rx="2.7" ry="1.6" fill="rgb(93,93,93)" transform="rotate(-16 907.3 502.3)"/><ellipse cx="1094.1" cy="357.6" rx="4.6" ry="3.9" fill="rgb(88,88,88)" transform="rotate(7 1094.1 357.6)"/><ellipse cx="1016.6" cy="375.1" rx="2.5" ry="1.6" fill="rgb(85,85,85)" transform="rotate(12 1016.6 375.1)"/><ellipse cx="846.0" cy="214.6" rx="3.7" ry="2.4" fill="rgb(77,77,77)" transform="rotate(-24 846.0 214.6)"/><ellipse cx="806.4" cy="320.7" rx="3.6" ry="2.4" fill="rgb(78,78,78)" transform="rotate(4 806.4 320.7)"/><ellipse cx="1026.5" cy="338.4" rx="4.4" ry="2.5" fill="rgb(77,77,77)" transform="rotate(-15 1026.5 338.4)"/><ellipse cx="999.1" cy="318.8" rx="3.8" ry="2.1" fill="rgb(78,78,78)" transform="rotate(-14 999.1 318.8)"/><ellipse cx="826.9" cy="88.1" rx="4.8" ry="4.3" fill="rgb(78,78,78)" transform="rotate(18 826.9 88.1)"/><ellipse cx="990.8" cy="350.2" rx="3.4" ry="2.0" fill="rgb(93,93,93)" transform="rotate(-13 990.8 350.2)"/><ellipse cx="813.3" cy="114.5" rx="2.8" ry="1.6" fill="rgb(89,89,89)" transform="rotate(-23 813.3 114.5)"/><ellipse cx="1085.0" cy="512.2" rx="3.4" ry="2.0" fill="rgb(89,89,89)" transform="rotate(23 1085.0 512.2)"/><ellipse cx="982.2" cy="232.8" rx="4.0" ry="2.9" fill="rgb(96,96,96)" transform="rotate(-24 982.2 232.8)"/><ellipse cx="1110.1" cy="205.8" rx="4.6" ry="3.0" fill="rgb(90,90,90)" transform="rotate(-19 1110.1 205.8)"/><ellipse cx="874.9" cy="271.9" rx="3.2" ry="2.3" fill="rgb(77,77,77)" transform="rotate(17 874.9 271.9)"/><ellipse cx="1043.1" cy="331.9" rx="4.2" ry="3.0" fill="rgb(88,88,88)" transform="rotate(20 1043.1 331.9)"/><ellipse cx="950.9" cy="63.5" rx="2.6" ry="1.6" fill="rgb(93,93,93)" transform="rotate(-5 950.9 63.5)"/><ellipse cx="891.0" cy="225.3" rx="2.5" ry="1.7" fill="rgb(90,90,90)" transform="rotate(20 891.0 225.3)"/><ellipse cx="871.8" cy="480.0" rx="3.4" ry="2.2" fill="rgb(97,97,97)" transform="rotate(-14 871.8 480.0)"/><ellipse cx="1071.7" cy="96.6" rx="4.2" ry="3.1" fill="rgb(95,95,95)" transform="rotate(-22 1071.7 96.6)"/><ellipse cx="686.3" cy="333.9" rx="2.4" ry="1.4" fill="rgb(80,80,80)" transform="rotate(16 686.3 333.9)"/><ellipse cx="730.4" cy="380.2" rx="4.0" ry="3.4" fill="rgb(87,87,87)" transform="rotate(-9 730.4 380.2)"/><ellipse cx="969.2" cy="193.9" rx="4.9" ry="2.8" fill="rgb(95,95,95)" transform="rotate(-7 969.2 193.9)"/><ellipse cx="1059.6" cy="446.6" rx="4.9" ry="2.7" fill="rgb(79,79,79)" transform="rotate(12 1059.6 446.6)"/><ellipse cx="832.1" cy="428.1" rx="4.2" ry="3.5" fill="rgb(96,96,96)" transform="rotate(-24 832.1 428.1)"/><ellipse cx="712.7" cy="510.0" rx="4.3" ry="3.5" fill="rgb(77,77,77)" transform="rotate(15 712.7 510.0)"/><ellipse cx="1011.1" cy="271.7" rx="4.8" ry="2.7" fill="rgb(84,84,84)" transform="rotate(13 1011.1 271.7)"/><ellipse cx="880.0" cy="505.9" rx="2.8" ry="2.6" fill="rgb(90,90,90)" transform="rotate(8 880.0 505.9)"/><ellipse cx="1144.9" cy="488.2" rx="2.7" ry="2.5" fill="rgb(78,78,78)" transform="rotate(6 1144.9 488.2)"/><ellipse cx="713.8" cy="224.6" rx="4.7" ry="3.9" fill="rgb(91,91,91)" transform="rotate(-17 713.8 224.6)"/><ellipse cx="1113.7" cy="404.8" rx="4.2" ry="3.1" fill="rgb(82,82,82)" transform="rotate(8 1113.7 404.8)"/><ellipse cx="935.9" cy="267.8" rx="4.5" ry="3.2" fill="rgb(89,89,89)" transform="rotate(24 935.9 267.8)"/><ellipse cx="755.2" cy="238.6" rx="2.3" ry="2.1" fill="rgb(78,78,78)" transform="rotate(16 755.2 238.6)"/><ellipse cx="713.6" cy="58.8" rx="4.3" ry="3.5" fill="rgb(88,88,88)" transform="rotate(-1 713.6 58.8)"/><ellipse cx="754.6" cy="84.5" rx="3.7" ry="3.1" fill="rgb(84,84,84)" transform="rotate(-7 754.6 84.5)"/><ellipse cx="838.0" cy="131.0" rx="3.9" ry="2.9" fill="rgb(96,96,96)" transform="rotate(7 838.0 131.0)"/><ellipse cx="973.8" cy="146.7" rx="2.6" ry="1.9" fill="rgb(79,79,79)" transform="rotate(-24 973.8 146.7)"/><ellipse cx="871.0" cy="63.2" rx="4.4" ry="3.8" fill="rgb(89,89,89)" transform="rotate(-16 871.0 63.2)"/><ellipse cx="1023.0" cy="285.2" rx="3.3" ry="2.4" fill="rgb(90,90,90)" transform="rotate(7 1023.0 285.2)"/><ellipse cx="739.4" cy="200.1" rx="4.8" ry="3.9" fill="rgb(84,84,84)" transform="rotate(20 739.4 200.1)"/><ellipse cx="1117.7" cy="122.4" rx="3.7" ry="3.3" fill="rgb(90,90,90)" transform="rotate(-19 1117.7 122.4)"/><ellipse cx="1097.4" cy="174.6" rx="4.7" ry="3.3" fill="rgb(91,91,91)" transform="rotate(-13 1097.4 174.6)"/><ellipse cx="826.2" cy="342.7" rx="3.4" ry="2.7" fill="rgb(94,94,94)" transform="rotate(-18 826.2 342.7)"/><ellipse cx="858.9" cy="177.5" rx="3.7" ry="2.4" fill="rgb(94,94,94)" transform="rotate(-19 858.9 177.5)"/><ellipse cx="928.6" cy="419.1" rx="3.9" ry="2.8" fill="rgb(91,91,91)" transform="rotate(24 928.6 419.1)"/><ellipse cx="851.5" cy="257.7" rx="3.8" ry="3.2" fill="rgb(89,89,89)" transform="rotate(17 851.5 257.7)"/><ellipse cx="1073.5" cy="297.9" rx="3.6" ry="2.2" fill="rgb(95,95,95)" transform="rotate(-7 1073.5 297.9)"/><ellipse cx="701.8" cy="227.9" rx="3.2" ry="3.0" fill="rgb(93,93,93)" transform="rotate(-8 701.8 227.9)"/><ellipse cx="1125.5" cy="332.3" rx="3.4" ry="3.1" fill="rgb(90,90,90)" transform="rotate(-16 1125.5 332.3)"/><ellipse cx="687.4" cy="99.5" rx="2.9" ry="2.6" fill="rgb(96,96,96)" transform="rotate(22 687.4 99.5)"/><ellipse cx="942.7" cy="462.4" rx="4.7" ry="4.4" fill="rgb(80,80,80)" transform="rotate(-4 942.7 462.4)"/><ellipse cx="780.6" cy="421.9" rx="2.3" ry="2.0" fill="rgb(77,77,77)" transform="rotate(0 780.6 421.9)"/><ellipse cx="723.7" cy="381.1" rx="3.6" ry="2.7" fill="rgb(78,78,78)" transform="rotate(-22 723.7 381.1)"/><ellipse cx="742.4" cy="187.6" rx="3.0" ry="2.0" fill="rgb(88,88,88)" transform="rotate(24 742.4 187.6)"/><ellipse cx="935.9" cy="299.5" rx="3.5" ry="3.0" fill="rgb(91,91,91)" transform="rotate(16 935.9 299.5)"/><ellipse cx="860.9" cy="432.5" rx="2.3" ry="1.5" fill="rgb(89,89,89)" transform="rotate(-8 860.9 432.5)"/><ellipse cx="704.7" cy="414.8" rx="4.7" ry="3.4" fill="rgb(93,93,93)" transform="rotate(8 704.7 414.8)"/><ellipse cx="864.5" cy="471.7" rx="3.1" ry="2.6" fill="rgb(97,97,97)" transform="rotate(20 864.5 471.7)"/><ellipse cx="1053.3" cy="181.0" rx="3.1" ry="2.8" fill="rgb(86,86,86)" transform="rotate(-20 1053.3 181.0)"/><ellipse cx="866.6" cy="349.0" rx="2.6" ry="1.7" fill="rgb(89,89,89)" transform="rotate(6 866.6 349.0)"/><ellipse cx="1045.5" cy="123.5" rx="3.7" ry="2.3" fill="rgb(78,78,78)" transform="rotate(22 1045.5 123.5)"/><ellipse cx="1133.4" cy="435.1" rx="3.5" ry="2.0" fill="rgb(77,77,77)" transform="rotate(18 1133.4 435.1)"/><ellipse cx="974.3" cy="374.4" rx="4.1" ry="3.2" fill="rgb(90,90,90)" transform="rotate(6 974.3 374.4)"/><ellipse cx="786.6" cy="98.8" rx="3.5" ry="2.6" fill="rgb(77,77,77)" transform="rotate(17 786.6 98.8)"/><ellipse cx="1093.6" cy="189.0" rx="2.5" ry="1.9" fill="rgb(77,77,77)" transform="rotate(10 1093.6 189.0)"/><ellipse cx="931.2" cy="282.4" rx="2.4" ry="1.6" fill="rgb(82,82,82)" transform="rotate(13 931.2 282.4)"/><ellipse cx="748.5" cy="84.2" rx="4.1" ry="3.4" fill="rgb(78,78,78)" transform="rotate(14 748.5 84.2)"/><ellipse cx="1139.9" cy="206.2" rx="3.4" ry="2.8" fill="rgb(78,78,78)" transform="rotate(-8 1139.9 206.2)"/><ellipse cx="832.4" cy="294.2" rx="4.1" ry="3.7" fill="rgb(93,93,93)" transform="rotate(3 832.4 294.2)"/><ellipse cx="722.9" cy="244.4" rx="3.5" ry="2.0" fill="rgb(79,79,79)" transform="rotate(-2 722.9 244.4)"/><ellipse cx="992.5" cy="168.4" rx="5.0" ry="3.7" fill="rgb(97,97,97)" transform="rotate(16 992.5 168.4)"/><ellipse cx="713.6" cy="423.5" rx="3.6" ry="2.1" fill="rgb(85,85,85)" transform="rotate(10 713.6 423.5)"/><ellipse cx="866.2" cy="472.2" rx="4.2" ry="2.8" fill="rgb(85,85,85)" transform="rotate(23 866.2 472.2)"/><ellipse cx="967.3" cy="120.3" rx="3.3" ry="2.1" fill="rgb(82,82,82)" transform="rotate(3 967.3 120.3)"/><ellipse cx="808.6" cy="516.1" rx="3.7" ry="2.9" fill="rgb(90,90,90)" transform="rotate(-18 808.6 516.1)"/><ellipse cx="1002.4" cy="310.1" rx="3.9" ry="2.3" fill="rgb(87,87,87)" transform="rotate(12 1002.4 310.1)"/><ellipse cx="828.7" cy="247.3" rx="4.7" ry="2.7" fill="rgb(85,85,85)" transform="rotate(6 828.7 247.3)"/><ellipse cx="732.0" cy="262.7" rx="4.9" ry="3.7" fill="rgb(84,84,84)" transform="rotate(-12 732.0 262.7)"/><ellipse cx="836.7" cy="265.2" rx="3.2" ry="2.4" fill="rgb(89,89,89)" transform="rotate(11 836.7 265.2)"/><ellipse cx="1064.0" cy="158.4" rx="2.3" ry="1.7" fill="rgb(85,85,85)" transform="rotate(-17 1064.0 158.4)"/><ellipse cx="909.9" cy="257.7" rx="3.9" ry="2.6" fill="rgb(84,84,84)" transform="rotate(-23 909.9 257.7)"/><ellipse cx="741.1" cy="292.2" rx="2.6" ry="2.4" fill="rgb(79,79,79)" transform="rotate(24 741.1 292.2)"/><ellipse cx="1060.9" cy="270.5" rx="3.5" ry="2.6" fill="rgb(83,83,83)" transform="rotate(-12 1060.9 270.5)"/><ellipse cx="849.5" cy="223.2" rx="4.4" ry="3.6" fill="rgb(95,95,95)" transform="rotate(24 849.5 223.2)"/><ellipse cx="810.6" cy="308.8" rx="3.2" ry="1.9" fill="rgb(93,93,93)" transform="rotate(-22 810.6 308.8)"/><ellipse cx="813.9" cy="464.4" rx="4.9" ry="3.5" fill="rgb(95,95,95)" transform="rotate(8 813.9 464.4)"/><ellipse cx="1098.5" cy="295.9" rx="4.4" ry="3.7" fill="rgb(89,89,89)" transform="rotate(25 1098.5 295.9)"/><ellipse cx="777.5" cy="271.9" rx="2.6" ry="1.4" fill="rgb(86,86,86)" transform="rotate(12 777.5 271.9)"/><ellipse cx="1110.3" cy="337.5" rx="3.9" ry="3.4" fill="rgb(92,92,92)" transform="rotate(-20 1110.3 337.5)"/><ellipse cx="714.9" cy="494.8" rx="2.7" ry="1.8" fill="rgb(91,91,91)" transform="rotate(-5 714.9 494.8)"/><ellipse cx="989.9" cy="100.4" rx="3.4" ry="2.1" fill="rgb(91,91,91)" transform="rotate(-14 989.9 100.4)"/><ellipse cx="1143.3" cy="331.5" rx="4.6" ry="3.1" fill="rgb(96,96,96)" transform="rotate(19 1143.3 331.5)"/><ellipse cx="1126.0" cy="375.8" rx="4.5" ry="3.2" fill="rgb(90,90,90)" transform="rotate(-16 1126.0 375.8)"/><ellipse cx="770.7" cy="156.9" rx="4.8" ry="4.3" fill="rgb(79,79,79)" transform="rotate(18 770.7 156.9)"/><ellipse cx="933.8" cy="236.8" rx="3.2" ry="1.9" fill="rgb(92,92,92)" transform="rotate(19 933.8 236.8)"/><ellipse cx="712.2" cy="508.5" rx="3.5" ry="2.3" fill="rgb(80,80,80)" transform="rotate(-20 712.2 508.5)"/><ellipse cx="1043.1" cy="417.4" rx="4.1" ry="2.4" fill="rgb(94,94,94)" transform="rotate(4 1043.1 417.4)"/><ellipse cx="1059.9" cy="414.7" rx="2.8" ry="2.2" fill="rgb(87,87,87)" transform="rotate(13 1059.9 414.7)"/><ellipse cx="974.2" cy="221.9" rx="4.9" ry="3.0" fill="rgb(97,97,97)" transform="rotate(8 974.2 221.9)"/><ellipse cx="740.6" cy="128.4" rx="4.3" ry="2.6" fill="rgb(82,82,82)" transform="rotate(-14 740.6 128.4)"/><ellipse cx="1086.0" cy="411.4" rx="3.0" ry="1.9" fill="rgb(96,96,96)" transform="rotate(15 1086.0 411.4)"/><ellipse cx="741.6" cy="60.6" rx="4.2" ry="2.5" fill="rgb(90,90,90)" transform="rotate(1 741.6 60.6)"/><ellipse cx="1138.1" cy="284.4" rx="4.6" ry="4.1" fill="rgb(80,80,80)" transform="rotate(-15 1138.1 284.4)"/><ellipse cx="958.2" cy="512.6" rx="4.8" ry="3.7" fill="rgb(89,89,89)" transform="rotate(-16 958.2 512.6)"/><ellipse cx="788.9" cy="232.3" rx="4.3" ry="2.5" fill="rgb(88,88,88)" transform="rotate(7 788.9 232.3)"/><ellipse cx="800.9" cy="236.9" rx="2.3" ry="2.2" fill="rgb(96,96,96)" transform="rotate(19 800.9 236.9)"/><ellipse cx="780.8" cy="214.3" rx="3.4" ry="2.8" fill="rgb(94,94,94)" transform="rotate(-17 780.8 214.3)"/><ellipse cx="996.7" cy="246.0" rx="2.8" ry="2.2" fill="rgb(77,77,77)" transform="rotate(-18 996.7 246.0)"/><ellipse cx="752.9" cy="288.0" rx="4.9" ry="3.6" fill="rgb(82,82,82)" transform="rotate(-15 752.9 288.0)"/><ellipse cx="1138.9" cy="171.7" rx="3.8" ry="2.8" fill="rgb(86,86,86)" transform="rotate(10 1138.9 171.7)"/><ellipse cx="1045.3" cy="155.2" rx="3.4" ry="3.1" fill="rgb(95,95,95)" transform="rotate(17 1045.3 155.2)"/><ellipse cx="938.0" cy="200.1" rx="2.6" ry="2.0" fill="rgb(91,91,91)" transform="rotate(21 938.0 200.1)"/><ellipse cx="773.6" cy="331.9" rx="2.6" ry="1.8" fill="rgb(83,83,83)" transform="rotate(10 773.6 331.9)"/><ellipse cx="751.0" cy="484.4" rx="3.4" ry="2.4" fill="rgb(86,86,86)" transform="rotate(1 751.0 484.4)"/><ellipse cx="814.4" cy="119.4" rx="3.7" ry="3.3" fill="rgb(78,78,78)" transform="rotate(8 814.4 119.4)"/><ellipse cx="1073.7" cy="236.4" rx="3.3" ry="2.5" fill="rgb(82,82,82)" transform="rotate(-5 1073.7 236.4)"/><ellipse cx="698.3" cy="180.9" rx="3.0" ry="2.7" fill="rgb(81,81,81)" transform="rotate(12 698.3 180.9)"/><ellipse cx="854.0" cy="118.9" rx="3.0" ry="1.9" fill="rgb(95,95,95)" transform="rotate(-2 854.0 118.9)"/><ellipse cx="755.8" cy="167.6" rx="4.6" ry="2.8" fill="rgb(94,94,94)" transform="rotate(-6 755.8 167.6)"/><ellipse cx="1150.0" cy="52.1" rx="3.9" ry="2.4" fill="rgb(96,96,96)" transform="rotate(-16 1150.0 52.1)"/><ellipse cx="1019.7" cy="229.5" rx="4.1" ry="3.4" fill="rgb(86,86,86)" transform="rotate(-23 1019.7 229.5)"/><ellipse cx="1050.4" cy="482.7" rx="4.8" ry="3.3" fill="rgb(96,96,96)" transform="rotate(-6 1050.4 482.7)"/><ellipse cx="833.3" cy="449.7" rx="3.6" ry="3.4" fill="rgb(86,86,86)" transform="rotate(6 833.3 449.7)"/><ellipse cx="937.1" cy="229.9" rx="3.0" ry="1.9" fill="rgb(85,85,85)" transform="rotate(24 937.1 229.9)"/><ellipse cx="1079.0" cy="223.6" rx="2.3" ry="1.3" fill="rgb(92,92,92)" transform="rotate(-24 1079.0 223.6)"/><ellipse cx="839.0" cy="493.5" rx="2.9" ry="2.7" fill="rgb(90,90,90)" transform="rotate(-16 839.0 493.5)"/><ellipse cx="778.0" cy="451.1" rx="4.7" ry="3.0" fill="rgb(81,81,81)" transform="rotate(24 778.0 451.1)"/><ellipse cx="857.9" cy="272.1" rx="2.5" ry="1.5" fill="rgb(78,78,78)" transform="rotate(2 857.9 272.1)"/><ellipse cx="1097.8" cy="97.4" rx="4.8" ry="3.6" fill="rgb(85,85,85)" transform="rotate(19 1097.8 97.4)"/><ellipse cx="1084.1" cy="436.5" rx="3.7" ry="3.4" fill="rgb(89,89,89)" transform="rotate(-21 1084.1 436.5)"/><ellipse cx="838.2" cy="187.8" rx="4.0" ry="3.1" fill="rgb(86,86,86)" transform="rotate(1 838.2 187.8)"/><ellipse cx="886.9" cy="260.1" rx="3.4" ry="2.2" fill="rgb(95,95,95)" transform="rotate(8 886.9 260.1)"/><ellipse cx="1113.3" cy="73.8" rx="3.4" ry="2.6" fill="rgb(89,89,89)" transform="rotate(21 1113.3 73.8)"/><ellipse cx="971.4" cy="237.7" rx="2.4" ry="1.8" fill="rgb(88,88,88)" transform="rotate(-16 971.4 237.7)"/><ellipse cx="772.4" cy="75.1" rx="3.0" ry="2.1" fill="rgb(82,82,82)" transform="rotate(-8 772.4 75.1)"/><ellipse cx="1051.7" cy="325.4" rx="3.3" ry="2.9" fill="rgb(91,91,91)" transform="rotate(8 1051.7 325.4)"/><ellipse cx="1096.0" cy="383.8" rx="4.9" ry="4.0" fill="rgb(95,95,95)" transform="rotate(-18 1096.0 383.8)"/><ellipse cx="975.0" cy="504.8" rx="3.1" ry="3.0" fill="rgb(92,92,92)" transform="rotate(10 975.0 504.8)"/><ellipse cx="1113.1" cy="375.3" rx="3.4" ry="3.2" fill="rgb(96,96,96)" transform="rotate(-4 1113.1 375.3)"/><ellipse cx="692.8" cy="343.4" rx="4.1" ry="2.9" fill="rgb(77,77,77)" transform="rotate(-21 692.8 343.4)"/><ellipse cx="1021.4" cy="207.4" rx="3.3" ry="2.9" fill="rgb(85,85,85)" transform="rotate(22 1021.4 207.4)"/><ellipse cx="841.1" cy="120.6" rx="3.4" ry="3.1" fill="rgb(77,77,77)" transform="rotate(-20 841.1 120.6)"/><ellipse cx="733.3" cy="215.3" rx="3.0" ry="2.7" fill="rgb(87,87,87)" transform="rotate(22 733.3 215.3)"/><ellipse cx="876.7" cy="408.2" rx="4.2" ry="3.4" fill="rgb(86,86,86)" transform="rotate(-6 876.7 408.2)"/><ellipse cx="751.9" cy="423.2" rx="4.7" ry="2.9" fill="rgb(92,92,92)" transform="rotate(16 751.9 423.2)"/><ellipse cx="995.8" cy="270.0" rx="4.9" ry="3.3" fill="rgb(85,85,85)" transform="rotate(-5 995.8 270.0)"/><ellipse cx="839.1" cy="201.1" rx="2.5" ry="2.0" fill="rgb(90,90,90)" transform="rotate(13 839.1 201.1)"/><ellipse cx="968.9" cy="421.2" rx="4.7" ry="3.0" fill="rgb(82,82,82)" transform="rotate(7 968.9 421.2)"/><ellipse cx="838.2" cy="367.0" rx="4.3" ry="2.9" fill="rgb(90,90,90)" transform="rotate(1 838.2 367.0)"/><ellipse cx="1034.0" cy="114.4" rx="2.9" ry="1.8" fill="rgb(78,78,78)" transform="rotate(9 1034.0 114.4)"/><ellipse cx="868.8" cy="439.7" rx="4.8" ry="2.8" fill="rgb(87,87,87)" transform="rotate(-3 868.8 439.7)"/><ellipse cx="941.9" cy="260.3" rx="3.0" ry="2.5" fill="rgb(77,77,77)" transform="rotate(25 941.9 260.3)"/><ellipse cx="1108.9" cy="295.9" rx="4.5" ry="3.8" fill="rgb(82,82,82)" transform="rotate(-17 1108.9 295.9)"/><ellipse cx="984.4" cy="386.7" rx="4.5" ry="3.5" fill="rgb(88,88,88)" transform="rotate(15 984.4 386.7)"/><ellipse cx="999.3" cy="299.7" rx="3.4" ry="2.5" fill="rgb(87,87,87)" transform="rotate(-4 999.3 299.7)"/><ellipse cx="1116.5" cy="187.2" rx="3.2" ry="1.8" fill="rgb(77,77,77)" transform="rotate(-14 1116.5 187.2)"/><ellipse cx="1024.3" cy="475.8" rx="4.0" ry="3.5" fill="rgb(81,81,81)" transform="rotate(-22 1024.3 475.8)"/><ellipse cx="1136.5" cy="141.1" rx="3.2" ry="2.6" fill="rgb(81,81,81)" transform="rotate(-24 1136.5 141.1)"/><ellipse cx="1032.2" cy="518.8" rx="4.8" ry="3.1" fill="rgb(82,82,82)" transform="rotate(-16 1032.2 518.8)"/><ellipse cx="983.9" cy="491.5" rx="4.0" ry="2.8" fill="rgb(94,94,94)" transform="rotate(17 983.9 491.5)"/><ellipse cx="909.1" cy="83.0" rx="4.4" ry="3.0" fill="rgb(78,78,78)" transform="rotate(-9 909.1 83.0)"/><ellipse cx="945.8" cy="91.3" rx="2.4" ry="2.0" fill="rgb(83,83,83)" transform="rotate(-6 945.8 91.3)"/><ellipse cx="1018.7" cy="485.5" rx="4.5" ry="2.5" fill="rgb(95,95,95)" transform="rotate(2 1018.7 485.5)"/><ellipse cx="950.0" cy="117.5" rx="4.5" ry="3.0" fill="rgb(81,81,81)" transform="rotate(-4 950.0 117.5)"/><ellipse cx="1136.8" cy="177.9" rx="3.7" ry="3.0" fill="rgb(96,96,96)" transform="rotate(-20 1136.8 177.9)"/><ellipse cx="956.8" cy="474.4" rx="2.3" ry="1.8" fill="rgb(82,82,82)" transform="rotate(-2 956.8 474.4)"/><ellipse cx="1079.9" cy="230.5" rx="4.8" ry="4.1" fill="rgb(81,81,81)" transform="rotate(12 1079.9 230.5)"/><ellipse cx="864.3" cy="215.1" rx="3.5" ry="3.3" fill="rgb(93,93,93)" transform="rotate(3 864.3 215.1)"/><ellipse cx="708.7" cy="222.8" rx="2.2" ry="1.6" fill="rgb(90,90,90)" transform="rotate(-16 708.7 222.8)"/><ellipse cx="919.6" cy="77.2" rx="4.0" ry="2.5" fill="rgb(81,81,81)" transform="rotate(7 919.6 77.2)"/><ellipse cx="868.9" cy="273.0" rx="3.7" ry="2.1" fill="rgb(78,78,78)" transform="rotate(-5 868.9 273.0)"/><ellipse cx="900.8" cy="121.2" rx="3.8" ry="2.9" fill="rgb(82,82,82)" transform="rotate(-21 900.8 121.2)"/><ellipse cx="1090.0" cy="426.7" rx="2.8" ry="1.8" fill="rgb(95,95,95)" transform="rotate(-17 1090.0 426.7)"/><ellipse cx="1010.8" cy="142.4" rx="3.9" ry="3.4" fill="rgb(92,92,92)" transform="rotate(10 1010.8 142.4)"/><ellipse cx="911.6" cy="337.5" rx="3.7" ry="3.2" fill="rgb(88,88,88)" transform="rotate(13 911.6 337.5)"/><ellipse cx="814.2" cy="524.6" rx="3.4" ry="2.3" fill="rgb(84,84,84)" transform="rotate(6 814.2 524.6)"/><ellipse cx="736.9" cy="304.4" rx="4.5" ry="3.0" fill="rgb(79,79,79)" transform="rotate(18 736.9 304.4)"/><ellipse cx="998.9" cy="120.8" rx="2.5" ry="2.3" fill="rgb(84,84,84)" transform="rotate(-13 998.9 120.8)"/><ellipse cx="913.3" cy="165.6" rx="4.9" ry="2.8" fill="rgb(84,84,84)" transform="rotate(22 913.3 165.6)"/><ellipse cx="762.0" cy="354.9" rx="4.6" ry="2.9" fill="rgb(87,87,87)" transform="rotate(17 762.0 354.9)"/><ellipse cx="803.6" cy="205.9" rx="3.8" ry="2.8" fill="rgb(90,90,90)" transform="rotate(23 803.6 205.9)"/><ellipse cx="975.6" cy="490.2" rx="3.2" ry="1.9" fill="rgb(93,93,93)" transform="rotate(-16 975.6 490.2)"/><ellipse cx="1090.2" cy="457.9" rx="5.0" ry="4.1" fill="rgb(86,86,86)" transform="rotate(19 1090.2 457.9)"/><ellipse cx="883.7" cy="438.8" rx="2.7" ry="2.2" fill="rgb(91,91,91)" transform="rotate(-20 883.7 438.8)"/><ellipse cx="878.2" cy="242.3" rx="2.2" ry="1.5" fill="rgb(96,96,96)" transform="rotate(23 878.2 242.3)"/><ellipse cx="808.5" cy="177.4" rx="3.7" ry="3.0" fill="rgb(87,87,87)" transform="rotate(1 808.5 177.4)"/><ellipse cx="1027.3" cy="496.8" rx="4.2" ry="3.7" fill="rgb(90,90,90)" transform="rotate(-3 1027.3 496.8)"/><ellipse cx="1099.1" cy="495.3" rx="4.7" ry="3.5" fill="rgb(89,89,89)" transform="rotate(-1 1099.1 495.3)"/><ellipse cx="740.4" cy="266.3" rx="4.5" ry="2.8" fill="rgb(86,86,86)" transform="rotate(-17 740.4 266.3)"/><ellipse cx="1080.1" cy="323.3" rx="3.0" ry="2.3" fill="rgb(78,78,78)" transform="rotate(-10 1080.1 323.3)"/><ellipse cx="863.7" cy="147.1" rx="3.3" ry="1.9" fill="rgb(80,80,80)" transform="rotate(7 863.7 147.1)"/><ellipse cx="981.0" cy="175.9" rx="4.1" ry="2.7" fill="rgb(87,87,87)" transform="rotate(-14 981.0 175.9)"/><ellipse cx="783.9" cy="368.1" rx="4.1" ry="2.3" fill="rgb(93,93,93)" transform="rotate(-15 783.9 368.1)"/><ellipse cx="713.6" cy="130.4" rx="4.1" ry="2.9" fill="rgb(84,84,84)" transform="rotate(-22 713.6 130.4)"/><ellipse cx="1023.5" cy="459.5" rx="4.0" ry="3.7" fill="rgb(78,78,78)" transform="rotate(7 1023.5 459.5)"/><ellipse cx="747.8" cy="343.0" rx="4.7" ry="3.9" fill="rgb(85,85,85)" transform="rotate(11 747.8 343.0)"/><ellipse cx="705.5" cy="347.5" rx="2.9" ry="2.0" fill="rgb(91,91,91)" transform="rotate(24 705.5 347.5)"/><ellipse cx="738.2" cy="200.9" rx="3.4" ry="1.9" fill="rgb(90,90,90)" transform="rotate(-21 738.2 200.9)"/><ellipse cx="1046.8" cy="300.3" rx="3.7" ry="2.4" fill="rgb(87,87,87)" transform="rotate(8 1046.8 300.3)"/><ellipse cx="1121.8" cy="136.6" rx="2.7" ry="1.8" fill="rgb(97,97,97)" transform="rotate(-2 1121.8 136.6)"/><ellipse cx="958.6" cy="244.4" rx="3.5" ry="3.2" fill="rgb(84,84,84)" transform="rotate(-6 958.6 244.4)"/><ellipse cx="880.9" cy="272.3" rx="3.0" ry="2.2" fill="rgb(88,88,88)" transform="rotate(-24 880.9 272.3)"/><ellipse cx="947.9" cy="59.4" rx="3.6" ry="2.5" fill="rgb(83,83,83)" transform="rotate(6 947.9 59.4)"/><ellipse cx="925.2" cy="350.4" rx="2.4" ry="1.5" fill="rgb(82,82,82)" transform="rotate(2 925.2 350.4)"/><ellipse cx="921.5" cy="310.4" rx="4.9" ry="3.4" fill="rgb(82,82,82)" transform="rotate(24 921.5 310.4)"/><ellipse cx="729.2" cy="477.2" rx="3.8" ry="3.3" fill="rgb(83,83,83)" transform="rotate(5 729.2 477.2)"/><ellipse cx="838.6" cy="382.6" rx="3.9" ry="2.6" fill="rgb(93,93,93)" transform="rotate(-18 838.6 382.6)"/><ellipse cx="963.5" cy="120.2" rx="2.9" ry="2.2" fill="rgb(80,80,80)" transform="rotate(10 963.5 120.2)"/><ellipse cx="1091.1" cy="467.3" rx="2.7" ry="2.0" fill="rgb(96,96,96)" transform="rotate(-0 1091.1 467.3)"/><ellipse cx="885.4" cy="298.1" rx="3.3" ry="2.1" fill="rgb(82,82,82)" transform="rotate(16 885.4 298.1)"/><ellipse cx="1094.3" cy="211.3" rx="3.6" ry="2.1" fill="rgb(80,80,80)" transform="rotate(-0 1094.3 211.3)"/><ellipse cx="1053.1" cy="283.3" rx="3.8" ry="2.1" fill="rgb(94,94,94)" transform="rotate(-6 1053.1 283.3)"/><ellipse cx="867.9" cy="295.5" rx="3.3" ry="2.1" fill="rgb(88,88,88)" transform="rotate(-16 867.9 295.5)"/><ellipse cx="859.5" cy="438.0" rx="4.4" ry="4.1" fill="rgb(88,88,88)" transform="rotate(-1 859.5 438.0)"/><ellipse cx="693.0" cy="473.7" rx="4.4" ry="4.1" fill="rgb(85,85,85)" transform="rotate(-4 693.0 473.7)"/><ellipse cx="1105.7" cy="202.4" rx="2.5" ry="1.7" fill="rgb(82,82,82)" transform="rotate(11 1105.7 202.4)"/><ellipse cx="1121.1" cy="94.8" rx="4.7" ry="2.6" fill="rgb(96,96,96)" transform="rotate(19 1121.1 94.8)"/><ellipse cx="802.8" cy="233.5" rx="3.8" ry="3.3" fill="rgb(94,94,94)" transform="rotate(-8 802.8 233.5)"/><ellipse cx="864.0" cy="419.0" rx="3.6" ry="2.0" fill="rgb(90,90,90)" transform="rotate(-19 864.0 419.0)"/><ellipse cx="921.7" cy="222.2" rx="3.4" ry="2.0" fill="rgb(77,77,77)" transform="rotate(-22 921.7 222.2)"/><ellipse cx="1129.4" cy="330.3" rx="4.2" ry="2.9" fill="rgb(93,93,93)" transform="rotate(20 1129.4 330.3)"/><ellipse cx="741.5" cy="483.2" rx="2.8" ry="2.0" fill="rgb(95,95,95)" transform="rotate(17 741.5 483.2)"/><ellipse cx="767.0" cy="287.6" rx="2.5" ry="1.8" fill="rgb(83,83,83)" transform="rotate(11 767.0 287.6)"/><ellipse cx="1117.5" cy="324.0" rx="4.4" ry="4.2" fill="rgb(80,80,80)" transform="rotate(-20 1117.5 324.0)"/><ellipse cx="823.1" cy="215.4" rx="4.8" ry="4.3" fill="rgb(77,77,77)" transform="rotate(19 823.1 215.4)"/><ellipse cx="898.4" cy="468.6" rx="4.3" ry="3.2" fill="rgb(81,81,81)" transform="rotate(-10 898.4 468.6)"/><ellipse cx="889.6" cy="411.6" rx="4.0" ry="3.2" fill="rgb(85,85,85)" transform="rotate(-18 889.6 411.6)"/><ellipse cx="847.2" cy="258.7" rx="2.8" ry="2.2" fill="rgb(89,89,89)" transform="rotate(5 847.2 258.7)"/><ellipse cx="713.0" cy="82.2" rx="4.6" ry="3.4" fill="rgb(96,96,96)" transform="rotate(7 713.0 82.2)"/><ellipse cx="1027.1" cy="83.1" rx="2.6" ry="2.1" fill="rgb(81,81,81)" transform="rotate(11 1027.1 83.1)"/><ellipse cx="755.9" cy="72.5" rx="2.9" ry="2.1" fill="rgb(84,84,84)" transform="rotate(-19 755.9 72.5)"/><ellipse cx="707.3" cy="429.2" rx="2.8" ry="2.4" fill="rgb(86,86,86)" transform="rotate(20 707.3 429.2)"/><ellipse cx="1042.0" cy="335.5" rx="2.7" ry="1.9" fill="rgb(88,88,88)" transform="rotate(-20 1042.0 335.5)"/><ellipse cx="692.6" cy="126.1" rx="3.7" ry="2.5" fill="rgb(78,78,78)" transform="rotate(7 692.6 126.1)"/><ellipse cx="1056.7" cy="363.2" rx="3.9" ry="3.2" fill="rgb(92,92,92)" transform="rotate(15 1056.7 363.2)"/><ellipse cx="737.0" cy="166.8" rx="2.5" ry="1.9" fill="rgb(87,87,87)" transform="rotate(9 737.0 166.8)"/><ellipse cx="824.5" cy="369.3" rx="4.7" ry="3.3" fill="rgb(84,84,84)" transform="rotate(-23 824.5 369.3)"/><ellipse cx="699.2" cy="100.1" rx="4.3" ry="2.4" fill="rgb(78,78,78)" transform="rotate(-9 699.2 100.1)"/><ellipse cx="993.0" cy="224.9" rx="2.7" ry="1.7" fill="rgb(82,82,82)" transform="rotate(12 993.0 224.9)"/><ellipse cx="974.3" cy="179.4" rx="4.0" ry="3.2" fill="rgb(90,90,90)" transform="rotate(4 974.3 179.4)"/><ellipse cx="749.3" cy="482.4" rx="3.6" ry="3.1" fill="rgb(86,86,86)" transform="rotate(-5 749.3 482.4)"/><ellipse cx="728.9" cy="439.9" rx="3.7" ry="2.6" fill="rgb(80,80,80)" transform="rotate(-4 728.9 439.9)"/><ellipse cx="998.9" cy="116.4" rx="2.2" ry="1.9" fill="rgb(96,96,96)" transform="rotate(20 998.9 116.4)"/><ellipse cx="693.9" cy="344.8" rx="2.4" ry="1.5" fill="rgb(93,93,93)" transform="rotate(3 693.9 344.8)"/><ellipse cx="940.7" cy="270.5" rx="3.3" ry="2.0" fill="rgb(80,80,80)" transform="rotate(16 940.7 270.5)"/><ellipse cx="1024.5" cy="139.2" rx="4.2" ry="2.9" fill="rgb(92,92,92)" transform="rotate(-4 1024.5 139.2)"/><ellipse cx="800.9" cy="517.6" rx="3.8" ry="2.9" fill="rgb(95,95,95)" transform="rotate(-19 800.9 517.6)"/><ellipse cx="1044.0" cy="400.7" rx="3.5" ry="3.1" fill="rgb(96,96,96)" transform="rotate(22 1044.0 400.7)"/><ellipse cx="953.6" cy="244.7" rx="2.7" ry="1.8" fill="rgb(83,83,83)" transform="rotate(14 953.6 244.7)"/><ellipse cx="918.5" cy="336.2" rx="4.8" ry="3.3" fill="rgb(80,80,80)" transform="rotate(20 918.5 336.2)"/><ellipse cx="922.3" cy="382.3" rx="3.0" ry="2.3" fill="rgb(93,93,93)" transform="rotate(-3 922.3 382.3)"/><ellipse cx="972.5" cy="201.3" rx="4.2" ry="3.2" fill="rgb(83,83,83)" transform="rotate(-14 972.5 201.3)"/><ellipse cx="715.0" cy="116.5" rx="3.7" ry="3.4" fill="rgb(88,88,88)" transform="rotate(25 715.0 116.5)"/><ellipse cx="1022.1" cy="147.0" rx="4.7" ry="3.3" fill="rgb(78,78,78)" transform="rotate(23 1022.1 147.0)"/><ellipse cx="895.9" cy="493.6" rx="2.7" ry="2.4" fill="rgb(82,82,82)" transform="rotate(-7 895.9 493.6)"/><ellipse cx="868.5" cy="369.1" rx="5.0" ry="3.4" fill="rgb(91,91,91)" transform="rotate(9 868.5 369.1)"/><ellipse cx="882.4" cy="507.5" rx="3.2" ry="1.8" fill="rgb(87,87,87)" transform="rotate(-6 882.4 507.5)"/><ellipse cx="1064.2" cy="234.4" rx="3.3" ry="2.2" fill="rgb(80,80,80)" transform="rotate(19 1064.2 234.4)"/><ellipse cx="1050.7" cy="295.9" rx="2.5" ry="2.1" fill="rgb(81,81,81)" transform="rotate(-13 1050.7 295.9)"/><ellipse cx="804.6" cy="296.9" rx="3.2" ry="2.2" fill="rgb(91,91,91)" transform="rotate(25 804.6 296.9)"/><ellipse cx="840.8" cy="106.2" rx="2.8" ry="1.6" fill="rgb(77,77,77)" transform="rotate(-2 840.8 106.2)"/><ellipse cx="998.4" cy="502.7" rx="3.0" ry="2.4" fill="rgb(95,95,95)" transform="rotate(12 998.4 502.7)"/><ellipse cx="970.0" cy="493.6" rx="3.7" ry="2.3" fill="rgb(89,89,89)" transform="rotate(17 970.0 493.6)"/><ellipse cx="986.4" cy="422.5" rx="4.0" ry="2.9" fill="rgb(79,79,79)" transform="rotate(4 986.4 422.5)"/><ellipse cx="997.8" cy="373.5" rx="4.4" ry="3.7" fill="rgb(89,89,89)" transform="rotate(16 997.8 373.5)"/><ellipse cx="930.5" cy="310.3" rx="4.3" ry="3.7" fill="rgb(96,96,96)" transform="rotate(11 930.5 310.3)"/><ellipse cx="970.2" cy="494.1" rx="2.6" ry="2.1" fill="rgb(81,81,81)" transform="rotate(-10 970.2 494.1)"/><ellipse cx="907.2" cy="357.0" rx="3.3" ry="2.6" fill="rgb(86,86,86)" transform="rotate(-14 907.2 357.0)"/><ellipse cx="728.1" cy="146.9" rx="3.2" ry="2.5" fill="rgb(83,83,83)" transform="rotate(-4 728.1 146.9)"/><ellipse cx="1062.4" cy="224.6" rx="2.7" ry="1.9" fill="rgb(93,93,93)" transform="rotate(-21 1062.4 224.6)"/><ellipse cx="779.2" cy="496.3" rx="3.5" ry="2.9" fill="rgb(80,80,80)" transform="rotate(-3 779.2 496.3)"/><ellipse cx="817.2" cy="468.3" rx="4.5" ry="3.5" fill="rgb(83,83,83)" transform="rotate(17 817.2 468.3)"/><ellipse cx="879.4" cy="437.8" rx="3.6" ry="2.2" fill="rgb(93,93,93)" transform="rotate(-11 879.4 437.8)"/><ellipse cx="742.5" cy="101.4" rx="3.5" ry="2.3" fill="rgb(77,77,77)" transform="rotate(-16 742.5 101.4)"/><ellipse cx="690.5" cy="304.1" rx="3.1" ry="2.8" fill="rgb(94,94,94)" transform="rotate(-9 690.5 304.1)"/><ellipse cx="693.1" cy="457.8" rx="2.3" ry="1.6" fill="rgb(78,78,78)" transform="rotate(1 693.1 457.8)"/><ellipse cx="881.7" cy="290.9" rx="4.4" ry="3.9" fill="rgb(85,85,85)" transform="rotate(-8 881.7 290.9)"/><ellipse cx="912.2" cy="496.6" rx="2.9" ry="2.0" fill="rgb(83,83,83)" transform="rotate(-23 912.2 496.6)"/><ellipse cx="917.4" cy="345.7" rx="4.8" ry="4.3" fill="rgb(89,89,89)" transform="rotate(21 917.4 345.7)"/><ellipse cx="890.4" cy="114.3" rx="4.5" ry="3.0" fill="rgb(85,85,85)" transform="rotate(-13 890.4 114.3)"/><ellipse cx="1037.3" cy="180.1" rx="4.6" ry="4.4" fill="rgb(78,78,78)" transform="rotate(-3 1037.3 180.1)"/><ellipse cx="1119.8" cy="77.2" rx="4.9" ry="3.6" fill="rgb(77,77,77)" transform="rotate(-22 1119.8 77.2)"/><ellipse cx="948.8" cy="525.7" rx="3.6" ry="3.2" fill="rgb(91,91,91)" transform="rotate(-20 948.8 525.7)"/><ellipse cx="996.2" cy="362.7" rx="3.4" ry="2.6" fill="rgb(95,95,95)" transform="rotate(21 996.2 362.7)"/><ellipse cx="778.6" cy="410.1" rx="3.2" ry="2.9" fill="rgb(80,80,80)" transform="rotate(13 778.6 410.1)"/><ellipse cx="992.0" cy="142.8" rx="2.4" ry="1.4" fill="rgb(83,83,83)" transform="rotate(-20 992.0 142.8)"/><ellipse cx="949.2" cy="523.6" rx="3.9" ry="3.2" fill="rgb(85,85,85)" transform="rotate(-11 949.2 523.6)"/><ellipse cx="976.3" cy="474.4" rx="4.3" ry="3.4" fill="rgb(78,78,78)" transform="rotate(21 976.3 474.4)"/><ellipse cx="773.6" cy="332.4" rx="4.0" ry="2.2" fill="rgb(90,90,90)" transform="rotate(15 773.6 332.4)"/><ellipse cx="831.9" cy="157.2" rx="3.4" ry="2.5" fill="rgb(94,94,94)" transform="rotate(-10 831.9 157.2)"/><ellipse cx="1042.8" cy="521.3" rx="4.5" ry="2.7" fill="rgb(94,94,94)" transform="rotate(23 1042.8 521.3)"/><ellipse cx="717.6" cy="178.6" rx="2.6" ry="1.8" fill="rgb(87,87,87)" transform="rotate(-0 717.6 178.6)"/><ellipse cx="912.0" cy="215.0" rx="3.9" ry="3.5" fill="rgb(80,80,80)" transform="rotate(4 912.0 215.0)"/><ellipse cx="704.6" cy="482.2" rx="3.6" ry="2.5" fill="rgb(80,80,80)" transform="rotate(-3 704.6 482.2)"/><ellipse cx="759.4" cy="165.8" rx="2.6" ry="1.7" fill="rgb(83,83,83)" transform="rotate(-2 759.4 165.8)"/><ellipse cx="980.9" cy="149.4" rx="4.7" ry="3.1" fill="rgb(86,86,86)" transform="rotate(-19 980.9 149.4)"/><ellipse cx="847.9" cy="304.6" rx="3.2" ry="2.7" fill="rgb(88,88,88)" transform="rotate(13 847.9 304.6)"/><ellipse cx="691.6" cy="317.3" rx="2.7" ry="2.3" fill="rgb(84,84,84)" transform="rotate(19 691.6 317.3)"/><ellipse cx="834.3" cy="484.3" rx="2.9" ry="2.5" fill="rgb(77,77,77)" transform="rotate(4 834.3 484.3)"/><ellipse cx="858.5" cy="514.6" rx="4.3" ry="2.7" fill="rgb(91,91,91)" transform="rotate(13 858.5 514.6)"/><ellipse cx="901.6" cy="53.4" rx="3.3" ry="3.0" fill="rgb(82,82,82)" transform="rotate(-2 901.6 53.4)"/><ellipse cx="740.3" cy="296.3" rx="3.9" ry="3.3" fill="rgb(96,96,96)" transform="rotate(-13 740.3 296.3)"/><ellipse cx="704.8" cy="76.9" rx="3.1" ry="2.4" fill="rgb(91,91,91)" transform="rotate(16 704.8 76.9)"/><ellipse cx="852.6" cy="526.1" rx="4.0" ry="3.3" fill="rgb(94,94,94)" transform="rotate(-14 852.6 526.1)"/><ellipse cx="692.0" cy="468.0" rx="4.2" ry="3.4" fill="rgb(81,81,81)" transform="rotate(-8 692.0 468.0)"/><ellipse cx="803.5" cy="501.2" rx="2.4" ry="1.4" fill="rgb(95,95,95)" transform="rotate(-13 803.5 501.2)"/><ellipse cx="775.1" cy="482.3" rx="2.5" ry="1.4" fill="rgb(78,78,78)" transform="rotate(-1 775.1 482.3)"/><ellipse cx="1031.9" cy="130.1" rx="2.3" ry="1.6" fill="rgb(95,95,95)" transform="rotate(17 1031.9 130.1)"/><ellipse cx="713.8" cy="256.0" rx="5.0" ry="4.0" fill="rgb(95,95,95)" transform="rotate(-25 713.8 256.0)"/><ellipse cx="879.5" cy="146.5" rx="4.9" ry="2.9" fill="rgb(79,79,79)" transform="rotate(-8 879.5 146.5)"/><ellipse cx="1050.0" cy="418.0" rx="2.6" ry="2.0" fill="rgb(94,94,94)" transform="rotate(-17 1050.0 418.0)"/><ellipse cx="881.2" cy="451.4" rx="2.8" ry="2.7" fill="rgb(91,91,91)" transform="rotate(-1 881.2 451.4)"/><ellipse cx="953.2" cy="162.9" rx="4.0" ry="3.6" fill="rgb(96,96,96)" transform="rotate(-15 953.2 162.9)"/><ellipse cx="761.5" cy="517.2" rx="4.0" ry="3.4" fill="rgb(77,77,77)" transform="rotate(-5 761.5 517.2)"/><ellipse cx="872.0" cy="240.5" rx="2.2" ry="1.2" fill="rgb(85,85,85)" transform="rotate(24 872.0 240.5)"/><ellipse cx="1136.3" cy="520.5" rx="4.1" ry="2.3" fill="rgb(88,88,88)" transform="rotate(3 1136.3 520.5)"/><ellipse cx="979.9" cy="313.3" rx="4.9" ry="4.2" fill="rgb(88,88,88)" transform="rotate(-0 979.9 313.3)"/><ellipse cx="913.0" cy="485.8" rx="3.2" ry="2.9" fill="rgb(83,83,83)" transform="rotate(25 913.0 485.8)"/><ellipse cx="1038.5" cy="417.7" rx="3.9" ry="3.0" fill="rgb(88,88,88)" transform="rotate(-2 1038.5 417.7)"/><ellipse cx="778.9" cy="504.5" rx="2.5" ry="1.6" fill="rgb(89,89,89)" transform="rotate(13 778.9 504.5)"/><ellipse cx="833.0" cy="504.6" rx="3.4" ry="2.6" fill="rgb(81,81,81)" transform="rotate(16 833.0 504.6)"/><ellipse cx="810.5" cy="132.9" rx="4.2" ry="2.5" fill="rgb(82,82,82)" transform="rotate(-22 810.5 132.9)"/><ellipse cx="1102.8" cy="425.1" rx="3.3" ry="2.8" fill="rgb(89,89,89)" transform="rotate(-16 1102.8 425.1)"/><ellipse cx="687.1" cy="181.6" rx="2.6" ry="2.2" fill="rgb(78,78,78)" transform="rotate(-12 687.1 181.6)"/><ellipse cx="725.2" cy="109.5" rx="4.2" ry="3.4" fill="rgb(90,90,90)" transform="rotate(10 725.2 109.5)"/><ellipse cx="968.7" cy="169.6" rx="3.5" ry="3.2" fill="rgb(85,85,85)" transform="rotate(8 968.7 169.6)"/><ellipse cx="749.3" cy="103.8" rx="3.3" ry="2.1" fill="rgb(88,88,88)" transform="rotate(20 749.3 103.8)"/><ellipse cx="769.7" cy="389.0" rx="3.4" ry="2.4" fill="rgb(97,97,97)" transform="rotate(1 769.7 389.0)"/><ellipse cx="964.3" cy="199.7" rx="3.5" ry="2.5" fill="rgb(85,85,85)" transform="rotate(19 964.3 199.7)"/><ellipse cx="792.9" cy="441.8" rx="4.4" ry="3.5" fill="rgb(77,77,77)" transform="rotate(-7 792.9 441.8)"/><ellipse cx="1001.4" cy="416.8" rx="3.8" ry="2.1" fill="rgb(82,82,82)" transform="rotate(11 1001.4 416.8)"/><ellipse cx="947.2" cy="252.1" rx="4.9" ry="4.3" fill="rgb(79,79,79)" transform="rotate(-13 947.2 252.1)"/><ellipse cx="753.1" cy="500.4" rx="3.6" ry="2.5" fill="rgb(81,81,81)" transform="rotate(15 753.1 500.4)"/><ellipse cx="899.1" cy="113.3" rx="2.6" ry="1.7" fill="rgb(92,92,92)" transform="rotate(-21 899.1 113.3)"/><ellipse cx="1126.2" cy="436.5" rx="3.1" ry="2.6" fill="rgb(83,83,83)" transform="rotate(25 1126.2 436.5)"/><ellipse cx="871.3" cy="225.9" rx="2.7" ry="2.0" fill="rgb(87,87,87)" transform="rotate(-3 871.3 225.9)"/><ellipse cx="1000.7" cy="339.4" rx="3.4" ry="2.2" fill="rgb(81,81,81)" transform="rotate(-20 1000.7 339.4)"/><ellipse cx="907.7" cy="226.0" rx="4.0" ry="3.0" fill="rgb(79,79,79)" transform="rotate(-17 907.7 226.0)"/><ellipse cx="910.2" cy="152.9" rx="4.9" ry="3.4" fill="rgb(95,95,95)" transform="rotate(4 910.2 152.9)"/><ellipse cx="841.3" cy="358.7" rx="4.1" ry="2.9" fill="rgb(77,77,77)" transform="rotate(-23 841.3 358.7)"/><ellipse cx="745.3" cy="418.9" rx="3.3" ry="2.0" fill="rgb(83,83,83)" transform="rotate(7 745.3 418.9)"/><ellipse cx="1057.9" cy="421.7" rx="4.0" ry="2.8" fill="rgb(79,79,79)" transform="rotate(-9 1057.9 421.7)"/><ellipse cx="823.8" cy="169.8" rx="2.5" ry="1.7" fill="rgb(96,96,96)" transform="rotate(-10 823.8 169.8)"/><ellipse cx="788.5" cy="470.7" rx="3.5" ry="2.5" fill="rgb(84,84,84)" transform="rotate(-8 788.5 470.7)"/><ellipse cx="701.7" cy="327.5" rx="3.3" ry="2.1" fill="rgb(89,89,89)" transform="rotate(-16 701.7 327.5)"/><ellipse cx="677.6" cy="374.0" rx="4.0" ry="3.2" fill="rgb(90,90,90)" transform="rotate(19 677.6 374.0)"/><ellipse cx="1024.5" cy="523.9" rx="4.5" ry="3.0" fill="rgb(87,87,87)" transform="rotate(20 1024.5 523.9)"/><ellipse cx="1057.0" cy="130.0" rx="4.3" ry="3.2" fill="rgb(82,82,82)" transform="rotate(21 1057.0 130.0)"/><ellipse cx="1081.3" cy="355.6" rx="4.5" ry="3.6" fill="rgb(94,94,94)" transform="rotate(-7 1081.3 355.6)"/><ellipse cx="842.0" cy="385.4" rx="2.3" ry="1.3" fill="rgb(96,96,96)" transform="rotate(6 842.0 385.4)"/><ellipse cx="725.1" cy="413.2" rx="3.2" ry="1.8" fill="rgb(81,81,81)" transform="rotate(-13 725.1 413.2)"/><ellipse cx="846.8" cy="522.9" rx="2.6" ry="2.3" fill="rgb(85,85,85)" transform="rotate(-18 846.8 522.9)"/><ellipse cx="1086.0" cy="491.0" rx="3.6" ry="2.9" fill="rgb(95,95,95)" transform="rotate(-24 1086.0 491.0)"/><ellipse cx="1045.4" cy="139.6" rx="3.1" ry="1.8" fill="rgb(85,85,85)" transform="rotate(-14 1045.4 139.6)"/><ellipse cx="721.9" cy="97.1" rx="3.7" ry="3.0" fill="rgb(95,95,95)" transform="rotate(3 721.9 97.1)"/><ellipse cx="816.7" cy="90.6" rx="2.3" ry="1.5" fill="rgb(88,88,88)" transform="rotate(18 816.7 90.6)"/><ellipse cx="1116.6" cy="78.8" rx="4.1" ry="3.4" fill="rgb(91,91,91)" transform="rotate(3 1116.6 78.8)"/><ellipse cx="1079.3" cy="170.5" rx="4.9" ry="4.1" fill="rgb(81,81,81)" transform="rotate(11 1079.3 170.5)"/><ellipse cx="1072.1" cy="523.4" rx="2.7" ry="2.6" fill="rgb(80,80,80)" transform="rotate(10 1072.1 523.4)"/><ellipse cx="806.1" cy="277.8" rx="3.1" ry="2.7" fill="rgb(88,88,88)" transform="rotate(5 806.1 277.8)"/><ellipse cx="696.7" cy="76.9" rx="3.4" ry="3.1" fill="rgb(96,96,96)" transform="rotate(12 696.7 76.9)"/><ellipse cx="766.9" cy="417.3" rx="4.3" ry="3.2" fill="rgb(95,95,95)" transform="rotate(23 766.9 417.3)"/><ellipse cx="1093.8" cy="410.1" rx="4.2" ry="2.6" fill="rgb(82,82,82)" transform="rotate(21 1093.8 410.1)"/><ellipse cx="1141.7" cy="390.7" rx="2.5" ry="2.0" fill="rgb(87,87,87)" transform="rotate(-16 1141.7 390.7)"/><ellipse cx="1146.3" cy="209.0" rx="4.1" ry="2.6" fill="rgb(86,86,86)" transform="rotate(-18 1146.3 209.0)"/><ellipse cx="1084.3" cy="136.0" rx="4.3" ry="3.2" fill="rgb(86,86,86)" transform="rotate(-12 1084.3 136.0)"/><ellipse cx="709.1" cy="527.0" rx="3.3" ry="1.8" fill="rgb(86,86,86)" transform="rotate(-23 709.1 527.0)"/><ellipse cx="763.3" cy="203.5" rx="3.1" ry="2.6" fill="rgb(79,79,79)" transform="rotate(8 763.3 203.5)"/><ellipse cx="827.8" cy="443.5" rx="2.7" ry="1.9" fill="rgb(92,92,92)" transform="rotate(-1 827.8 443.5)"/><ellipse cx="955.3" cy="427.2" rx="2.9" ry="2.2" fill="rgb(89,89,89)" transform="rotate(1 955.3 427.2)"/><ellipse cx="1003.9" cy="321.7" rx="2.7" ry="2.3" fill="rgb(91,91,91)" transform="rotate(-13 1003.9 321.7)"/><ellipse cx="707.7" cy="188.9" rx="4.2" ry="2.8" fill="rgb(85,85,85)" transform="rotate(24 707.7 188.9)"/><ellipse cx="1101.7" cy="434.3" rx="4.5" ry="3.4" fill="rgb(86,86,86)" transform="rotate(-7 1101.7 434.3)"/><ellipse cx="784.4" cy="77.0" rx="3.7" ry="3.0" fill="rgb(90,90,90)" transform="rotate(24 784.4 77.0)"/><ellipse cx="1050.0" cy="483.7" rx="4.3" ry="3.9" fill="rgb(83,83,83)" transform="rotate(-3 1050.0 483.7)"/><ellipse cx="989.5" cy="514.7" rx="4.1" ry="3.5" fill="rgb(81,81,81)" transform="rotate(25 989.5 514.7)"/><ellipse cx="836.8" cy="452.7" rx="3.0" ry="2.2" fill="rgb(88,88,88)" transform="rotate(-12 836.8 452.7)"/><ellipse cx="794.1" cy="456.6" rx="4.7" ry="4.4" fill="rgb(78,78,78)" transform="rotate(20 794.1 456.6)"/><ellipse cx="946.9" cy="175.9" rx="4.7" ry="4.1" fill="rgb(77,77,77)" transform="rotate(-5 946.9 175.9)"/><ellipse cx="1024.7" cy="206.3" rx="4.0" ry="2.7" fill="rgb(89,89,89)" transform="rotate(11 1024.7 206.3)"/><ellipse cx="1109.3" cy="245.9" rx="4.6" ry="2.9" fill="rgb(85,85,85)" transform="rotate(11 1109.3 245.9)"/><ellipse cx="683.8" cy="379.6" rx="3.0" ry="2.7" fill="rgb(90,90,90)" transform="rotate(-22 683.8 379.6)"/><ellipse cx="892.9" cy="391.0" rx="2.5" ry="1.7" fill="rgb(86,86,86)" transform="rotate(18 892.9 391.0)"/><ellipse cx="939.3" cy="118.9" rx="4.9" ry="3.5" fill="rgb(81,81,81)" transform="rotate(12 939.3 118.9)"/><ellipse cx="1044.8" cy="107.9" rx="4.5" ry="2.7" fill="rgb(79,79,79)" transform="rotate(13 1044.8 107.9)"/><ellipse cx="732.8" cy="484.5" rx="4.0" ry="3.3" fill="rgb(83,83,83)" transform="rotate(-25 732.8 484.5)"/><ellipse cx="752.5" cy="335.4" rx="4.0" ry="3.3" fill="rgb(82,82,82)" transform="rotate(-15 752.5 335.4)"/><ellipse cx="958.4" cy="120.7" rx="4.8" ry="3.0" fill="rgb(95,95,95)" transform="rotate(11 958.4 120.7)"/><ellipse cx="870.7" cy="375.3" rx="4.6" ry="4.0" fill="rgb(96,96,96)" transform="rotate(19 870.7 375.3)"/><ellipse cx="940.6" cy="416.6" rx="3.6" ry="2.2" fill="rgb(80,80,80)" transform="rotate(-19 940.6 416.6)"/><ellipse cx="1128.0" cy="463.0" rx="4.9" ry="3.3" fill="rgb(81,81,81)" transform="rotate(2 1128.0 463.0)"/><ellipse cx="842.0" cy="375.5" rx="4.6" ry="3.1" fill="rgb(80,80,80)" transform="rotate(-1 842.0 375.5)"/><ellipse cx="959.3" cy="52.3" rx="2.4" ry="2.1" fill="rgb(87,87,87)" transform="rotate(-4 959.3 52.3)"/><ellipse cx="1140.0" cy="126.2" rx="3.6" ry="3.0" fill="rgb(78,78,78)" transform="rotate(-14 1140.0 126.2)"/><ellipse cx="962.0" cy="63.1" rx="4.6" ry="3.5" fill="rgb(85,85,85)" transform="rotate(0 962.0 63.1)"/><ellipse cx="1022.5" cy="204.7" rx="3.8" ry="3.1" fill="rgb(92,92,92)" transform="rotate(-19 1022.5 204.7)"/><ellipse cx="844.8" cy="222.2" rx="4.4" ry="3.5" fill="rgb(81,81,81)" transform="rotate(23 844.8 222.2)"/><ellipse cx="1087.9" cy="159.5" rx="4.0" ry="3.3" fill="rgb(87,87,87)" transform="rotate(-24 1087.9 159.5)"/><ellipse cx="758.9" cy="210.8" rx="2.7" ry="2.0" fill="rgb(80,80,80)" transform="rotate(-4 758.9 210.8)"/><ellipse cx="1129.1" cy="508.8" rx="2.7" ry="2.4" fill="rgb(77,77,77)" transform="rotate(0 1129.1 508.8)"/><ellipse cx="1136.6" cy="79.8" rx="2.3" ry="2.2" fill="rgb(91,91,91)" transform="rotate(-1 1136.6 79.8)"/><ellipse cx="1148.0" cy="223.2" rx="2.5" ry="1.6" fill="rgb(95,95,95)" transform="rotate(-1 1148.0 223.2)"/><ellipse cx="1093.1" cy="496.0" rx="2.5" ry="1.9" fill="rgb(88,88,88)" transform="rotate(3 1093.1 496.0)"/><ellipse cx="1102.4" cy="128.9" rx="2.7" ry="2.5" fill="rgb(82,82,82)" transform="rotate(22 1102.4 128.9)"/><ellipse cx="958.1" cy="67.5" rx="2.6" ry="2.2" fill="rgb(88,88,88)" transform="rotate(4 958.1 67.5)"/><ellipse cx="1116.5" cy="398.5" rx="2.7" ry="1.8" fill="rgb(82,82,82)" transform="rotate(-3 1116.5 398.5)"/><ellipse cx="920.9" cy="59.6" rx="4.5" ry="2.6" fill="rgb(82,82,82)" transform="rotate(-19 920.9 59.6)"/><ellipse cx="1112.0" cy="282.7" rx="2.4" ry="1.8" fill="rgb(89,89,89)" transform="rotate(-8 1112.0 282.7)"/><ellipse cx="985.1" cy="139.9" rx="3.8" ry="3.3" fill="rgb(88,88,88)" transform="rotate(24 985.1 139.9)"/><ellipse cx="1106.5" cy="438.6" rx="4.8" ry="3.1" fill="rgb(78,78,78)" transform="rotate(-10 1106.5 438.6)"/><ellipse cx="1090.2" cy="467.2" rx="5.0" ry="3.3" fill="rgb(82,82,82)" transform="rotate(8 1090.2 467.2)"/><ellipse cx="955.0" cy="131.8" rx="3.4" ry="3.0" fill="rgb(92,92,92)" transform="rotate(-11 955.0 131.8)"/><ellipse cx="868.0" cy="379.8" rx="4.5" ry="4.0" fill="rgb(82,82,82)" transform="rotate(19 868.0 379.8)"/><ellipse cx="1076.0" cy="63.8" rx="2.6" ry="2.2" fill="rgb(89,89,89)" transform="rotate(-14 1076.0 63.8)"/><ellipse cx="820.7" cy="225.9" rx="4.4" ry="3.8" fill="rgb(92,92,92)" transform="rotate(3 820.7 225.9)"/><ellipse cx="831.5" cy="193.3" rx="4.3" ry="2.8" fill="rgb(89,89,89)" transform="rotate(-0 831.5 193.3)"/><ellipse cx="1110.4" cy="419.9" rx="2.5" ry="2.1" fill="rgb(79,79,79)" transform="rotate(24 1110.4 419.9)"/><ellipse cx="989.7" cy="319.5" rx="2.7" ry="2.1" fill="rgb(80,80,80)" transform="rotate(16 989.7 319.5)"/><ellipse cx="1133.3" cy="353.3" rx="3.7" ry="2.3" fill="rgb(78,78,78)" transform="rotate(15 1133.3 353.3)"/><ellipse cx="857.0" cy="492.9" rx="4.3" ry="3.8" fill="rgb(89,89,89)" transform="rotate(-1 857.0 492.9)"/><ellipse cx="679.9" cy="207.1" rx="2.5" ry="2.2" fill="rgb(81,81,81)" transform="rotate(10 679.9 207.1)"/><ellipse cx="1140.7" cy="53.9" rx="2.3" ry="2.1" fill="rgb(95,95,95)" transform="rotate(10 1140.7 53.9)"/><ellipse cx="1034.5" cy="483.7" rx="4.7" ry="3.4" fill="rgb(92,92,92)" transform="rotate(11 1034.5 483.7)"/><ellipse cx="679.7" cy="479.5" rx="3.6" ry="2.5" fill="rgb(91,91,91)" transform="rotate(21 679.7 479.5)"/><ellipse cx="910.6" cy="501.2" rx="4.8" ry="3.4" fill="rgb(83,83,83)" transform="rotate(-2 910.6 501.2)"/><ellipse cx="1134.1" cy="55.8" rx="2.3" ry="2.0" fill="rgb(92,92,92)" transform="rotate(-23 1134.1 55.8)"/><ellipse cx="932.0" cy="52.2" rx="4.3" ry="3.2" fill="rgb(94,94,94)" transform="rotate(24 932.0 52.2)"/><ellipse cx="705.3" cy="492.6" rx="3.7" ry="2.5" fill="rgb(85,85,85)" transform="rotate(-12 705.3 492.6)"/><ellipse cx="1004.6" cy="453.7" rx="4.8" ry="4.2" fill="rgb(80,80,80)" transform="rotate(-14 1004.6 453.7)"/><ellipse cx="1103.1" cy="139.3" rx="4.5" ry="4.0" fill="rgb(87,87,87)" transform="rotate(14 1103.1 139.3)"/><ellipse cx="899.0" cy="333.3" rx="3.2" ry="2.2" fill="rgb(94,94,94)" transform="rotate(22 899.0 333.3)"/><ellipse cx="875.2" cy="411.2" rx="2.3" ry="2.1" fill="rgb(91,91,91)" transform="rotate(5 875.2 411.2)"/><ellipse cx="1022.6" cy="461.8" rx="3.7" ry="2.2" fill="rgb(90,90,90)" transform="rotate(-4 1022.6 461.8)"/><ellipse cx="1078.4" cy="86.9" rx="3.8" ry="2.3" fill="rgb(88,88,88)" transform="rotate(-23 1078.4 86.9)"/><ellipse cx="1132.6" cy="249.3" rx="2.6" ry="2.3" fill="rgb(95,95,95)" transform="rotate(14 1132.6 249.3)"/><ellipse cx="1022.0" cy="365.5" rx="4.4" ry="3.3" fill="rgb(78,78,78)" transform="rotate(-12 1022.0 365.5)"/><ellipse cx="834.9" cy="124.2" rx="2.9" ry="2.5" fill="rgb(94,94,94)" transform="rotate(12 834.9 124.2)"/><ellipse cx="735.7" cy="81.1" rx="4.5" ry="4.0" fill="rgb(82,82,82)" transform="rotate(18 735.7 81.1)"/><ellipse cx="805.2" cy="380.0" rx="4.6" ry="2.6" fill="rgb(97,97,97)" transform="rotate(21 805.2 380.0)"/><ellipse cx="1147.3" cy="353.8" rx="2.7" ry="1.8" fill="rgb(92,92,92)" transform="rotate(3 1147.3 353.8)"/><ellipse cx="815.5" cy="524.7" rx="3.8" ry="2.6" fill="rgb(88,88,88)" transform="rotate(-9 815.5 524.7)"/><ellipse cx="919.7" cy="190.4" rx="4.8" ry="3.0" fill="rgb(86,86,86)" transform="rotate(21 919.7 190.4)"/><ellipse cx="1066.7" cy="519.8" rx="3.0" ry="2.2" fill="rgb(78,78,78)" transform="rotate(-19 1066.7 519.8)"/><ellipse cx="1054.7" cy="142.8" rx="2.3" ry="2.0" fill="rgb(81,81,81)" transform="rotate(-22 1054.7 142.8)"/><ellipse cx="944.6" cy="83.6" rx="3.1" ry="2.3" fill="rgb(77,77,77)" transform="rotate(-21 944.6 83.6)"/><ellipse cx="740.3" cy="302.0" rx="3.0" ry="2.0" fill="rgb(97,97,97)" transform="rotate(1 740.3 302.0)"/><ellipse cx="899.8" cy="315.0" rx="4.7" ry="3.9" fill="rgb(91,91,91)" transform="rotate(-21 899.8 315.0)"/><ellipse cx="1091.1" cy="371.3" rx="4.3" ry="2.4" fill="rgb(77,77,77)" transform="rotate(-24 1091.1 371.3)"/><ellipse cx="761.6" cy="218.5" rx="3.6" ry="2.8" fill="rgb(80,80,80)" transform="rotate(7 761.6 218.5)"/><ellipse cx="954.9" cy="351.0" rx="3.7" ry="3.4" fill="rgb(94,94,94)" transform="rotate(18 954.9 351.0)"/><ellipse cx="872.7" cy="74.5" rx="2.2" ry="1.9" fill="rgb(95,95,95)" transform="rotate(-1 872.7 74.5)"/><ellipse cx="1099.7" cy="245.3" rx="4.2" ry="3.8" fill="rgb(89,89,89)" transform="rotate(9 1099.7 245.3)"/><ellipse cx="1006.5" cy="512.5" rx="4.0" ry="2.6" fill="rgb(82,82,82)" transform="rotate(-25 1006.5 512.5)"/><ellipse cx="1088.5" cy="197.5" rx="3.7" ry="3.2" fill="rgb(87,87,87)" transform="rotate(-18 1088.5 197.5)"/><ellipse cx="690.1" cy="383.4" rx="4.1" ry="2.3" fill="rgb(92,92,92)" transform="rotate(0 690.1 383.4)"/><ellipse cx="944.0" cy="228.9" rx="4.2" ry="3.4" fill="rgb(77,77,77)" transform="rotate(-12 944.0 228.9)"/><ellipse cx="1132.1" cy="232.6" rx="4.9" ry="4.2" fill="rgb(88,88,88)" transform="rotate(2 1132.1 232.6)"/><ellipse cx="799.9" cy="93.5" rx="3.1" ry="1.9" fill="rgb(93,93,93)" transform="rotate(24 799.9 93.5)"/><ellipse cx="1062.0" cy="363.3" rx="4.9" ry="2.7" fill="rgb(97,97,97)" transform="rotate(-10 1062.0 363.3)"/><ellipse cx="925.2" cy="187.9" rx="3.9" ry="3.2" fill="rgb(88,88,88)" transform="rotate(12 925.2 187.9)"/><ellipse cx="1135.0" cy="124.2" rx="4.0" ry="2.5" fill="rgb(90,90,90)" transform="rotate(-1 1135.0 124.2)"/><ellipse cx="713.3" cy="101.0" rx="3.9" ry="3.6" fill="rgb(80,80,80)" transform="rotate(-12 713.3 101.0)"/><ellipse cx="971.8" cy="369.2" rx="4.5" ry="3.6" fill="rgb(78,78,78)" transform="rotate(-11 971.8 369.2)"/><ellipse cx="770.8" cy="287.1" rx="3.9" ry="2.6" fill="rgb(84,84,84)" transform="rotate(-7 770.8 287.1)"/><ellipse cx="864.7" cy="224.0" rx="4.0" ry="2.7" fill="rgb(89,89,89)" transform="rotate(23 864.7 224.0)"/><ellipse cx="705.3" cy="345.6" rx="4.4" ry="4.1" fill="rgb(89,89,89)" transform="rotate(-15 705.3 345.6)"/><ellipse cx="1141.8" cy="380.0" rx="3.3" ry="2.0" fill="rgb(83,83,83)" transform="rotate(-3 1141.8 380.0)"/><ellipse cx="955.4" cy="92.7" rx="3.0" ry="1.9" fill="rgb(81,81,81)" transform="rotate(-4 955.4 92.7)"/><ellipse cx="963.0" cy="202.1" rx="3.1" ry="2.4" fill="rgb(84,84,84)" transform="rotate(15 963.0 202.1)"/><ellipse cx="946.8" cy="377.8" rx="3.3" ry="2.7" fill="rgb(96,96,96)" transform="rotate(-11 946.8 377.8)"/><ellipse cx="1140.4" cy="242.8" rx="4.5" ry="4.1" fill="rgb(85,85,85)" transform="rotate(-18 1140.4 242.8)"/><ellipse cx="822.9" cy="54.4" rx="2.5" ry="2.1" fill="rgb(93,93,93)" transform="rotate(-18 822.9 54.4)"/><ellipse cx="1071.5" cy="162.3" rx="4.8" ry="3.7" fill="rgb(81,81,81)" transform="rotate(6 1071.5 162.3)"/><ellipse cx="1001.3" cy="159.3" rx="3.7" ry="3.2" fill="rgb(79,79,79)" transform="rotate(25 1001.3 159.3)"/><ellipse cx="717.5" cy="131.2" rx="3.4" ry="2.3" fill="rgb(81,81,81)" transform="rotate(24 717.5 131.2)"/><ellipse cx="762.8" cy="147.1" rx="4.0" ry="3.0" fill="rgb(89,89,89)" transform="rotate(-18 762.8 147.1)"/><ellipse cx="816.1" cy="155.0" rx="4.5" ry="2.9" fill="rgb(80,80,80)" transform="rotate(8 816.1 155.0)"/><ellipse cx="883.2" cy="74.5" rx="3.4" ry="2.3" fill="rgb(89,89,89)" transform="rotate(-12 883.2 74.5)"/><ellipse cx="995.7" cy="213.3" rx="3.2" ry="1.9" fill="rgb(77,77,77)" transform="rotate(18 995.7 213.3)"/><ellipse cx="925.9" cy="208.0" rx="2.9" ry="2.1" fill="rgb(97,97,97)" transform="rotate(-3 925.9 208.0)"/><ellipse cx="986.1" cy="191.0" rx="3.0" ry="2.6" fill="rgb(89,89,89)" transform="rotate(14 986.1 191.0)"/><ellipse cx="764.7" cy="103.9" rx="4.3" ry="3.0" fill="rgb(83,83,83)" transform="rotate(8 764.7 103.9)"/><ellipse cx="731.5" cy="86.4" rx="2.4" ry="1.5" fill="rgb(96,96,96)" transform="rotate(-2 731.5 86.4)"/><ellipse cx="1077.7" cy="453.5" rx="3.8" ry="3.4" fill="rgb(94,94,94)" transform="rotate(7 1077.7 453.5)"/><ellipse cx="982.0" cy="303.9" rx="2.5" ry="1.7" fill="rgb(83,83,83)" transform="rotate(-3 982.0 303.9)"/><ellipse cx="1151.9" cy="254.7" rx="3.8" ry="3.1" fill="rgb(84,84,84)" transform="rotate(-12 1151.9 254.7)"/><ellipse cx="1133.0" cy="107.5" rx="3.4" ry="3.1" fill="rgb(96,96,96)" transform="rotate(-17 1133.0 107.5)"/><ellipse cx="748.9" cy="194.4" rx="2.5" ry="2.0" fill="rgb(85,85,85)" transform="rotate(14 748.9 194.4)"/><ellipse cx="1043.8" cy="196.8" rx="3.3" ry="3.0" fill="rgb(85,85,85)" transform="rotate(-5 1043.8 196.8)"/><ellipse cx="1026.5" cy="362.9" rx="5.0" ry="3.7" fill="rgb(87,87,87)" transform="rotate(-4 1026.5 362.9)"/><ellipse cx="1143.3" cy="212.6" rx="3.4" ry="2.3" fill="rgb(88,88,88)" transform="rotate(3 1143.3 212.6)"/><ellipse cx="830.3" cy="199.3" rx="2.7" ry="2.3" fill="rgb(85,85,85)" transform="rotate(-8 830.3 199.3)"/><ellipse cx="1035.8" cy="307.4" rx="2.2" ry="1.6" fill="rgb(93,93,93)" transform="rotate(7 1035.8 307.4)"/><ellipse cx="969.2" cy="213.5" rx="4.9" ry="3.4" fill="rgb(84,84,84)" transform="rotate(11 969.2 213.5)"/><ellipse cx="722.7" cy="225.8" rx="4.4" ry="3.2" fill="rgb(87,87,87)" transform="rotate(-12 722.7 225.8)"/><ellipse cx="1060.1" cy="359.2" rx="2.7" ry="2.0" fill="rgb(92,92,92)" transform="rotate(-22 1060.1 359.2)"/><ellipse cx="687.5" cy="519.4" rx="3.5" ry="2.7" fill="rgb(95,95,95)" transform="rotate(12 687.5 519.4)"/><ellipse cx="982.3" cy="89.6" rx="4.8" ry="4.4" fill="rgb(92,92,92)" transform="rotate(-22 982.3 89.6)"/><ellipse cx="909.6" cy="294.4" rx="2.5" ry="2.2" fill="rgb(93,93,93)" transform="rotate(-20 909.6 294.4)"/><ellipse cx="824.3" cy="446.7" rx="4.0" ry="3.5" fill="rgb(91,91,91)" transform="rotate(-14 824.3 446.7)"/><ellipse cx="1146.8" cy="107.9" rx="3.9" ry="3.6" fill="rgb(93,93,93)" transform="rotate(15 1146.8 107.9)"/><ellipse cx="762.7" cy="225.2" rx="3.9" ry="2.2" fill="rgb(95,95,95)" transform="rotate(-2 762.7 225.2)"/><ellipse cx="1098.6" cy="454.8" rx="2.6" ry="1.6" fill="rgb(94,94,94)" transform="rotate(14 1098.6 454.8)"/><ellipse cx="1137.6" cy="286.6" rx="4.4" ry="3.4" fill="rgb(84,84,84)" transform="rotate(-1 1137.6 286.6)"/><ellipse cx="990.2" cy="328.8" rx="2.3" ry="2.2" fill="rgb(77,77,77)" transform="rotate(-12 990.2 328.8)"/><ellipse cx="705.2" cy="146.2" rx="4.9" ry="3.6" fill="rgb(80,80,80)" transform="rotate(5 705.2 146.2)"/><ellipse cx="905.2" cy="269.6" rx="2.9" ry="2.1" fill="rgb(79,79,79)" transform="rotate(-19 905.2 269.6)"/><ellipse cx="1054.9" cy="269.3" rx="2.4" ry="2.1" fill="rgb(88,88,88)" transform="rotate(-3 1054.9 269.3)"/><ellipse cx="1147.9" cy="467.8" rx="3.0" ry="2.2" fill="rgb(86,86,86)" transform="rotate(-10 1147.9 467.8)"/><ellipse cx="877.5" cy="521.9" rx="2.4" ry="2.0" fill="rgb(90,90,90)" transform="rotate(8 877.5 521.9)"/><ellipse cx="872.9" cy="365.9" rx="3.8" ry="3.3" fill="rgb(89,89,89)" transform="rotate(7 872.9 365.9)"/><ellipse cx="771.6" cy="306.2" rx="3.3" ry="2.1" fill="rgb(86,86,86)" transform="rotate(-23 771.6 306.2)"/><ellipse cx="931.4" cy="517.8" rx="4.1" ry="2.4" fill="rgb(93,93,93)" transform="rotate(-5 931.4 517.8)"/><ellipse cx="738.8" cy="313.8" rx="3.3" ry="2.4" fill="rgb(89,89,89)" transform="rotate(-22 738.8 313.8)"/><ellipse cx="1105.3" cy="422.7" rx="4.7" ry="3.7" fill="rgb(95,95,95)" transform="rotate(-2 1105.3 422.7)"/><ellipse cx="1076.2" cy="400.1" rx="4.0" ry="2.6" fill="rgb(96,96,96)" transform="rotate(-10 1076.2 400.1)"/><ellipse cx="789.1" cy="360.1" rx="2.4" ry="1.6" fill="rgb(86,86,86)" transform="rotate(2 789.1 360.1)"/><ellipse cx="1087.3" cy="447.6" rx="4.8" ry="3.9" fill="rgb(87,87,87)" transform="rotate(-12 1087.3 447.6)"/><ellipse cx="912.4" cy="390.8" rx="5.0" ry="4.4" fill="rgb(86,86,86)" transform="rotate(-17 912.4 390.8)"/><ellipse cx="1008.8" cy="427.1" rx="3.8" ry="3.0" fill="rgb(79,79,79)" transform="rotate(-2 1008.8 427.1)"/><ellipse cx="865.3" cy="66.2" rx="2.4" ry="2.0" fill="rgb(80,80,80)" transform="rotate(23 865.3 66.2)"/><ellipse cx="693.9" cy="426.4" rx="2.9" ry="1.8" fill="rgb(90,90,90)" transform="rotate(3 693.9 426.4)"/><ellipse cx="815.6" cy="349.6" rx="3.8" ry="3.2" fill="rgb(89,89,89)" transform="rotate(2 815.6 349.6)"/><ellipse cx="842.1" cy="516.1" rx="4.7" ry="3.6" fill="rgb(91,91,91)" transform="rotate(13 842.1 516.1)"/><ellipse cx="935.1" cy="73.5" rx="4.3" ry="3.6" fill="rgb(85,85,85)" transform="rotate(-3 935.1 73.5)"/><ellipse cx="867.6" cy="430.0" rx="3.9" ry="3.7" fill="rgb(90,90,90)" transform="rotate(-6 867.6 430.0)"/><ellipse cx="812.7" cy="503.8" rx="4.7" ry="2.9" fill="rgb(78,78,78)" transform="rotate(-6 812.7 503.8)"/><ellipse cx="721.5" cy="482.1" rx="2.9" ry="2.6" fill="rgb(83,83,83)" transform="rotate(-24 721.5 482.1)"/><ellipse cx="1094.3" cy="248.0" rx="2.2" ry="1.4" fill="rgb(94,94,94)" transform="rotate(23 1094.3 248.0)"/><ellipse cx="1134.6" cy="344.7" rx="4.3" ry="4.1" fill="rgb(79,79,79)" transform="rotate(19 1134.6 344.7)"/><ellipse cx="805.2" cy="203.6" rx="3.9" ry="3.3" fill="rgb(77,77,77)" transform="rotate(2 805.2 203.6)"/><ellipse cx="888.7" cy="441.2" rx="3.5" ry="3.0" fill="rgb(85,85,85)" transform="rotate(-3 888.7 441.2)"/><ellipse cx="693.2" cy="327.5" rx="3.9" ry="3.7" fill="rgb(85,85,85)" transform="rotate(22 693.2 327.5)"/><ellipse cx="1030.1" cy="399.2" rx="3.4" ry="2.8" fill="rgb(87,87,87)" transform="rotate(-9 1030.1 399.2)"/><ellipse cx="989.9" cy="501.3" rx="3.8" ry="3.2" fill="rgb(83,83,83)" transform="rotate(-3 989.9 501.3)"/><ellipse cx="1002.8" cy="118.8" rx="4.0" ry="3.2" fill="rgb(94,94,94)" transform="rotate(-14 1002.8 118.8)"/><ellipse cx="1149.3" cy="176.6" rx="3.4" ry="3.1" fill="rgb(82,82,82)" transform="rotate(9 1149.3 176.6)"/><ellipse cx="907.9" cy="242.1" rx="2.9" ry="2.7" fill="rgb(85,85,85)" transform="rotate(16 907.9 242.1)"/><ellipse cx="1021.8" cy="110.2" rx="2.9" ry="2.1" fill="rgb(89,89,89)" transform="rotate(11 1021.8 110.2)"/><ellipse cx="1029.0" cy="119.8" rx="4.3" ry="3.3" fill="rgb(87,87,87)" transform="rotate(9 1029.0 119.8)"/><ellipse cx="1054.4" cy="269.8" rx="2.7" ry="2.4" fill="rgb(81,81,81)" transform="rotate(-12 1054.4 269.8)"/><ellipse cx="681.4" cy="94.5" rx="2.7" ry="1.7" fill="rgb(85,85,85)" transform="rotate(10 681.4 94.5)"/><ellipse cx="1010.0" cy="122.9" rx="3.6" ry="2.9" fill="rgb(93,93,93)" transform="rotate(3 1010.0 122.9)"/><ellipse cx="843.4" cy="300.0" rx="5.0" ry="2.9" fill="rgb(90,90,90)" transform="rotate(-8 843.4 300.0)"/><ellipse cx="1062.1" cy="168.9" rx="4.1" ry="2.9" fill="rgb(84,84,84)" transform="rotate(-10 1062.1 168.9)"/><ellipse cx="940.6" cy="61.2" rx="4.8" ry="3.0" fill="rgb(81,81,81)" transform="rotate(24 940.6 61.2)"/><ellipse cx="712.1" cy="296.0" rx="3.7" ry="2.6" fill="rgb(80,80,80)" transform="rotate(14 712.1 296.0)"/><ellipse cx="895.1" cy="430.6" rx="2.6" ry="2.4" fill="rgb(95,95,95)" transform="rotate(-20 895.1 430.6)"/><ellipse cx="1036.2" cy="84.0" rx="4.4" ry="2.6" fill="rgb(89,89,89)" transform="rotate(22 1036.2 84.0)"/><ellipse cx="903.0" cy="498.3" rx="3.1" ry="2.9" fill="rgb(93,93,93)" transform="rotate(11 903.0 498.3)"/><ellipse cx="958.7" cy="355.8" rx="3.6" ry="2.3" fill="rgb(86,86,86)" transform="rotate(19 958.7 355.8)"/><ellipse cx="1044.7" cy="342.7" rx="2.2" ry="1.9" fill="rgb(81,81,81)" transform="rotate(21 1044.7 342.7)"/><ellipse cx="888.1" cy="329.6" rx="3.1" ry="1.9" fill="rgb(90,90,90)" transform="rotate(-0 888.1 329.6)"/><ellipse cx="845.2" cy="328.6" rx="4.8" ry="3.0" fill="rgb(94,94,94)" transform="rotate(-6 845.2 328.6)"/><ellipse cx="1032.8" cy="333.2" rx="3.5" ry="3.0" fill="rgb(95,95,95)" transform="rotate(15 1032.8 333.2)"/><ellipse cx="708.7" cy="309.3" rx="11.1" ry="6.6" fill="rgb(97,97,97)" transform="rotate(-4 708.7 309.3)"/><ellipse cx="1123.0" cy="488.1" rx="9.8" ry="6.3" fill="rgb(96,96,96)" transform="rotate(16 1123.0 488.1)"/><ellipse cx="1079.0" cy="518.0" rx="9.6" ry="5.4" fill="rgb(92,92,92)" transform="rotate(-13 1079.0 518.0)"/><ellipse cx="956.1" cy="75.4" rx="7.9" ry="5.4" fill="rgb(81,81,81)" transform="rotate(-7 956.1 75.4)"/><ellipse cx="935.8" cy="214.5" rx="8.2" ry="6.4" fill="rgb(96,96,96)" transform="rotate(15 935.8 214.5)"/><ellipse cx="1010.4" cy="121.9" rx="7.9" ry="4.5" fill="rgb(84,84,84)" transform="rotate(-13 1010.4 121.9)"/><ellipse cx="793.0" cy="183.6" rx="7.7" ry="6.6" fill="rgb(79,79,79)" transform="rotate(16 793.0 183.6)"/><ellipse cx="1096.9" cy="376.5" rx="10.5" ry="7.8" fill="rgb(91,91,91)" transform="rotate(2 1096.9 376.5)"/><ellipse cx="1074.1" cy="479.6" rx="8.4" ry="6.2" fill="rgb(96,96,96)" transform="rotate(8 1074.1 479.6)"/><ellipse cx="1097.2" cy="488.4" rx="11.0" ry="8.0" fill="rgb(91,91,91)" transform="rotate(14 1097.2 488.4)"/><ellipse cx="904.4" cy="341.7" rx="11.4" ry="8.0" fill="rgb(88,88,88)" transform="rotate(-9 904.4 341.7)"/><ellipse cx="1125.6" cy="60.0" rx="11.2" ry="9.0" fill="rgb(77,77,77)" transform="rotate(22 1125.6 60.0)"/><ellipse cx="1020.6" cy="390.8" rx="9.7" ry="7.9" fill="rgb(80,80,80)" transform="rotate(-14 1020.6 390.8)"/><ellipse cx="842.8" cy="255.4" rx="11.3" ry="6.6" fill="rgb(77,77,77)" transform="rotate(12 842.8 255.4)"/><ellipse cx="1135.5" cy="164.2" rx="11.5" ry="7.3" fill="rgb(93,93,93)" transform="rotate(-8 1135.5 164.2)"/><ellipse cx="749.7" cy="234.5" rx="12.0" ry="8.6" fill="rgb(80,80,80)" transform="rotate(-16 749.7 234.5)"/><ellipse cx="1090.1" cy="416.6" rx="11.2" ry="8.9" fill="rgb(93,93,93)" transform="rotate(-7 1090.1 416.6)"/><ellipse cx="791.4" cy="431.8" rx="9.6" ry="6.9" fill="rgb(80,80,80)" transform="rotate(-6 791.4 431.8)"/><ellipse cx="1040.8" cy="409.5" rx="10.8" ry="9.7" fill="rgb(78,78,78)" transform="rotate(-16 1040.8 409.5)"/><ellipse cx="753.9" cy="130.2" rx="7.5" ry="6.0" fill="rgb(84,84,84)" transform="rotate(-3 753.9 130.2)"/><ellipse cx="1038.9" cy="143.7" rx="8.9" ry="8.3" fill="rgb(81,81,81)" transform="rotate(4 1038.9 143.7)"/><ellipse cx="871.5" cy="91.5" rx="7.4" ry="6.0" fill="rgb(85,85,85)" transform="rotate(-25 871.5 91.5)"/><ellipse cx="1046.5" cy="149.3" rx="9.0" ry="5.5" fill="rgb(94,94,94)" transform="rotate(-16 1046.5 149.3)"/><ellipse cx="738.2" cy="276.9" rx="11.9" ry="10.5" fill="rgb(96,96,96)" transform="rotate(21 738.2 276.9)"/><ellipse cx="767.3" cy="152.6" rx="11.6" ry="10.5" fill="rgb(91,91,91)" transform="rotate(-9 767.3 152.6)"/><ellipse cx="754.7" cy="352.0" rx="9.6" ry="8.5" fill="rgb(90,90,90)" transform="rotate(15 754.7 352.0)"/><ellipse cx="698.1" cy="302.1" rx="8.5" ry="6.9" fill="rgb(80,80,80)" transform="rotate(-22 698.1 302.1)"/><ellipse cx="906.1" cy="205.7" rx="7.1" ry="6.1" fill="rgb(85,85,85)" transform="rotate(-15 906.1 205.7)"/><ellipse cx="972.6" cy="367.6" rx="11.7" ry="9.8" fill="rgb(87,87,87)" transform="rotate(-11 972.6 367.6)"/><ellipse cx="917.1" cy="329.5" rx="10.8" ry="8.3" fill="rgb(82,82,82)" transform="rotate(-17 917.1 329.5)"/></g>
<g filter="url(#b1)"><ellipse cx="1009.9" cy="241.9" rx="4.1" ry="2.7" fill="rgb(87,87,87)" transform="rotate(-8 1009.9 241.9)"/><ellipse cx="968.8" cy="336.1" rx="2.3" ry="1.6" fill="rgb(81,81,81)" transform="rotate(-8 968.8 336.1)"/><ellipse cx="1149.6" cy="239.4" rx="3.5" ry="2.5" fill="rgb(91,91,91)" transform="rotate(-3 1149.6 239.4)"/><ellipse cx="892.8" cy="255.1" rx="3.0" ry="2.6" fill="rgb(88,88,88)" transform="rotate(-15 892.8 255.1)"/><ellipse cx="1048.9" cy="234.8" rx="3.3" ry="2.1" fill="rgb(85,85,85)" transform="rotate(14 1048.9 234.8)"/><ellipse cx="999.9" cy="302.8" rx="3.9" ry="3.1" fill="rgb(90,90,90)" transform="rotate(-5 999.9 302.8)"/><ellipse cx="1031.6" cy="306.6" rx="2.2" ry="2.1" fill="rgb(84,84,84)" transform="rotate(-18 1031.6 306.6)"/><ellipse cx="886.5" cy="241.1" rx="2.2" ry="1.5" fill="rgb(85,85,85)" transform="rotate(8 886.5 241.1)"/><ellipse cx="984.6" cy="330.3" rx="3.6" ry="2.5" fill="rgb(94,94,94)" transform="rotate(10 984.6 330.3)"/><ellipse cx="1139.9" cy="300.2" rx="4.4" ry="2.8" fill="rgb(82,82,82)" transform="rotate(24 1139.9 300.2)"/><ellipse cx="846.8" cy="328.6" rx="4.3" ry="2.6" fill="rgb(80,80,80)" transform="rotate(21 846.8 328.6)"/><ellipse cx="1137.5" cy="320.4" rx="3.8" ry="3.3" fill="rgb(83,83,83)" transform="rotate(-25 1137.5 320.4)"/><ellipse cx="1034.6" cy="322.3" rx="4.4" ry="3.3" fill="rgb(77,77,77)" transform="rotate(-16 1034.6 322.3)"/><ellipse cx="979.2" cy="224.6" rx="2.1" ry="1.3" fill="rgb(87,87,87)" transform="rotate(-19 979.2 224.6)"/><ellipse cx="875.0" cy="214.8" rx="2.1" ry="1.8" fill="rgb(94,94,94)" transform="rotate(-15 875.0 214.8)"/><ellipse cx="1036.5" cy="321.4" rx="2.6" ry="1.8" fill="rgb(94,94,94)" transform="rotate(13 1036.5 321.4)"/><ellipse cx="1032.6" cy="309.1" rx="3.4" ry="2.3" fill="rgb(90,90,90)" transform="rotate(14 1032.6 309.1)"/><ellipse cx="857.2" cy="238.3" rx="2.7" ry="2.5" fill="rgb(82,82,82)" transform="rotate(9 857.2 238.3)"/><ellipse cx="974.8" cy="246.7" rx="3.2" ry="3.0" fill="rgb(90,90,90)" transform="rotate(-6 974.8 246.7)"/><ellipse cx="886.6" cy="241.7" rx="3.2" ry="2.6" fill="rgb(97,97,97)" transform="rotate(-9 886.6 241.7)"/><ellipse cx="1131.4" cy="326.6" rx="3.1" ry="2.0" fill="rgb(81,81,81)" transform="rotate(21 1131.4 326.6)"/><ellipse cx="893.8" cy="287.2" rx="3.6" ry="2.2" fill="rgb(77,77,77)" transform="rotate(7 893.8 287.2)"/><ellipse cx="856.4" cy="272.3" rx="4.4" ry="3.3" fill="rgb(83,83,83)" transform="rotate(-20 856.4 272.3)"/><ellipse cx="933.6" cy="238.0" rx="2.3" ry="1.9" fill="rgb(89,89,89)" transform="rotate(11 933.6 238.0)"/><ellipse cx="873.2" cy="227.6" rx="4.3" ry="2.4" fill="rgb(84,84,84)" transform="rotate(16 873.2 227.6)"/><ellipse cx="910.9" cy="223.0" rx="3.6" ry="2.3" fill="rgb(83,83,83)" transform="rotate(-5 910.9 223.0)"/><ellipse cx="932.6" cy="288.9" rx="3.8" ry="3.3" fill="rgb(97,97,97)" transform="rotate(-21 932.6 288.9)"/><ellipse cx="919.6" cy="338.0" rx="4.0" ry="3.4" fill="rgb(81,81,81)" transform="rotate(-19 919.6 338.0)"/><ellipse cx="925.4" cy="323.9" rx="3.9" ry="2.7" fill="rgb(90,90,90)" transform="rotate(12 925.4 323.9)"/><ellipse cx="928.8" cy="206.0" rx="4.0" ry="3.4" fill="rgb(93,93,93)" transform="rotate(12 928.8 206.0)"/><ellipse cx="953.3" cy="288.2" rx="2.9" ry="2.7" fill="rgb(79,79,79)" transform="rotate(10 953.3 288.2)"/><ellipse cx="947.4" cy="326.4" rx="4.0" ry="2.5" fill="rgb(77,77,77)" transform="rotate(-13 947.4 326.4)"/><ellipse cx="1138.0" cy="305.3" rx="3.8" ry="2.4" fill="rgb(81,81,81)" transform="rotate(-3 1138.0 305.3)"/><ellipse cx="1005.1" cy="282.4" rx="2.1" ry="1.9" fill="rgb(81,81,81)" transform="rotate(11 1005.1 282.4)"/><ellipse cx="938.4" cy="234.5" rx="4.2" ry="2.7" fill="rgb(87,87,87)" transform="rotate(19 938.4 234.5)"/><ellipse cx="1096.7" cy="297.8" rx="2.6" ry="2.1" fill="rgb(86,86,86)" transform="rotate(-10 1096.7 297.8)"/><ellipse cx="1079.3" cy="291.2" rx="4.2" ry="3.0" fill="rgb(79,79,79)" transform="rotate(-11 1079.3 291.2)"/><ellipse cx="1069.4" cy="295.4" rx="3.6" ry="2.6" fill="rgb(88,88,88)" transform="rotate(-22 1069.4 295.4)"/><ellipse cx="868.1" cy="310.8" rx="2.3" ry="1.8" fill="rgb(83,83,83)" transform="rotate(-16 868.1 310.8)"/><ellipse cx="1083.2" cy="322.5" rx="2.8" ry="1.7" fill="rgb(86,86,86)" transform="rotate(-19 1083.2 322.5)"/><ellipse cx="1137.7" cy="193.6" rx="3.3" ry="2.0" fill="rgb(77,77,77)" transform="rotate(25 1137.7 193.6)"/><ellipse cx="1050.8" cy="295.9" rx="3.9" ry="3.4" fill="rgb(89,89,89)" transform="rotate(8 1050.8 295.9)"/><ellipse cx="937.9" cy="205.5" rx="3.8" ry="3.2" fill="rgb(92,92,92)" transform="rotate(7 937.9 205.5)"/><ellipse cx="866.2" cy="287.0" rx="2.2" ry="2.0" fill="rgb(77,77,77)" transform="rotate(-12 866.2 287.0)"/><ellipse cx="1005.4" cy="320.4" rx="3.6" ry="2.2" fill="rgb(91,91,91)" transform="rotate(-15 1005.4 320.4)"/><ellipse cx="944.0" cy="244.0" rx="4.0" ry="2.5" fill="rgb(83,83,83)" transform="rotate(-11 944.0 244.0)"/><ellipse cx="914.9" cy="222.3" rx="3.0" ry="1.8" fill="rgb(82,82,82)" transform="rotate(-19 914.9 222.3)"/><ellipse cx="1020.1" cy="294.6" rx="2.6" ry="1.9" fill="rgb(89,89,89)" transform="rotate(24 1020.1 294.6)"/><ellipse cx="1139.5" cy="206.8" rx="4.4" ry="3.8" fill="rgb(81,81,81)" transform="rotate(-15 1139.5 206.8)"/><ellipse cx="995.5" cy="232.6" rx="2.8" ry="2.0" fill="rgb(88,88,88)" transform="rotate(2 995.5 232.6)"/><ellipse cx="851.0" cy="253.7" rx="2.6" ry="2.3" fill="rgb(79,79,79)" transform="rotate(-18 851.0 253.7)"/><ellipse cx="949.8" cy="227.5" rx="4.1" ry="2.3" fill="rgb(95,95,95)" transform="rotate(5 949.8 227.5)"/><ellipse cx="1069.2" cy="228.7" rx="3.3" ry="2.1" fill="rgb(92,92,92)" transform="rotate(2 1069.2 228.7)"/><ellipse cx="920.3" cy="236.7" rx="2.0" ry="1.2" fill="rgb(89,89,89)" transform="rotate(25 920.3 236.7)"/><ellipse cx="1119.3" cy="239.9" rx="2.9" ry="2.3" fill="rgb(86,86,86)" transform="rotate(15 1119.3 239.9)"/><ellipse cx="902.2" cy="247.3" rx="4.4" ry="2.9" fill="rgb(90,90,90)" transform="rotate(-3 902.2 247.3)"/><ellipse cx="994.0" cy="314.9" rx="4.4" ry="3.4" fill="rgb(97,97,97)" transform="rotate(-12 994.0 314.9)"/><ellipse cx="940.4" cy="242.3" rx="2.8" ry="2.7" fill="rgb(80,80,80)" transform="rotate(18 940.4 242.3)"/><ellipse cx="1061.9" cy="281.8" rx="3.2" ry="2.9" fill="rgb(77,77,77)" transform="rotate(22 1061.9 281.8)"/><ellipse cx="954.1" cy="225.4" rx="2.0" ry="1.7" fill="rgb(77,77,77)" transform="rotate(16 954.1 225.4)"/><ellipse cx="911.1" cy="336.6" rx="3.5" ry="3.3" fill="rgb(77,77,77)" transform="rotate(-8 911.1 336.6)"/><ellipse cx="1149.7" cy="195.6" rx="2.8" ry="1.9" fill="rgb(86,86,86)" transform="rotate(9 1149.7 195.6)"/><ellipse cx="958.6" cy="245.0" rx="2.8" ry="2.0" fill="rgb(91,91,91)" transform="rotate(19 958.6 245.0)"/><ellipse cx="1010.5" cy="231.9" rx="4.4" ry="2.9" fill="rgb(91,91,91)" transform="rotate(12 1010.5 231.9)"/><ellipse cx="997.6" cy="230.8" rx="2.8" ry="2.4" fill="rgb(96,96,96)" transform="rotate(21 997.6 230.8)"/><ellipse cx="979.3" cy="285.3" rx="3.2" ry="2.1" fill="rgb(94,94,94)" transform="rotate(6 979.3 285.3)"/><ellipse cx="942.2" cy="211.1" rx="3.7" ry="2.1" fill="rgb(92,92,92)" transform="rotate(-23 942.2 211.1)"/><ellipse cx="1113.1" cy="199.7" rx="2.1" ry="1.9" fill="rgb(90,90,90)" transform="rotate(-2 1113.1 199.7)"/><ellipse cx="915.2" cy="298.6" rx="2.4" ry="2.2" fill="rgb(92,92,92)" transform="rotate(13 915.2 298.6)"/><ellipse cx="1144.7" cy="335.4" rx="4.2" ry="2.3" fill="rgb(84,84,84)" transform="rotate(-19 1144.7 335.4)"/><ellipse cx="970.7" cy="318.2" rx="4.1" ry="3.2" fill="rgb(83,83,83)" transform="rotate(-22 970.7 318.2)"/><ellipse cx="1046.0" cy="237.4" rx="3.0" ry="1.7" fill="rgb(93,93,93)" transform="rotate(-17 1046.0 237.4)"/><ellipse cx="900.7" cy="258.3" rx="2.3" ry="1.6" fill="rgb(95,95,95)" transform="rotate(1 900.7 258.3)"/><ellipse cx="843.9" cy="266.6" rx="3.8" ry="3.4" fill="rgb(90,90,90)" transform="rotate(25 843.9 266.6)"/><ellipse cx="1073.0" cy="274.2" rx="3.9" ry="3.6" fill="rgb(95,95,95)" transform="rotate(-15 1073.0 274.2)"/><ellipse cx="1125.7" cy="270.9" rx="3.9" ry="3.2" fill="rgb(80,80,80)" transform="rotate(2 1125.7 270.9)"/><ellipse cx="847.4" cy="266.5" rx="2.5" ry="1.4" fill="rgb(88,88,88)" transform="rotate(2 847.4 266.5)"/><ellipse cx="857.2" cy="289.7" rx="4.4" ry="3.4" fill="rgb(83,83,83)" transform="rotate(-1 857.2 289.7)"/><ellipse cx="954.2" cy="269.9" rx="3.9" ry="3.3" fill="rgb(82,82,82)" transform="rotate(23 954.2 269.9)"/><ellipse cx="1145.2" cy="253.5" rx="3.1" ry="2.1" fill="rgb(77,77,77)" transform="rotate(9 1145.2 253.5)"/><ellipse cx="1059.8" cy="252.1" rx="2.7" ry="2.1" fill="rgb(77,77,77)" transform="rotate(-1 1059.8 252.1)"/><ellipse cx="923.5" cy="220.0" rx="4.0" ry="3.6" fill="rgb(83,83,83)" transform="rotate(13 923.5 220.0)"/><ellipse cx="885.0" cy="320.7" rx="3.4" ry="3.1" fill="rgb(96,96,96)" transform="rotate(-3 885.0 320.7)"/><ellipse cx="1017.4" cy="321.1" rx="3.5" ry="3.0" fill="rgb(83,83,83)" transform="rotate(-7 1017.4 321.1)"/><ellipse cx="968.7" cy="233.2" rx="2.1" ry="1.5" fill="rgb(78,78,78)" transform="rotate(12 968.7 233.2)"/><ellipse cx="842.8" cy="281.8" rx="2.3" ry="1.5" fill="rgb(89,89,89)" transform="rotate(1 842.8 281.8)"/><ellipse cx="1108.6" cy="231.2" rx="2.2" ry="1.8" fill="rgb(88,88,88)" transform="rotate(-21 1108.6 231.2)"/><ellipse cx="908.5" cy="244.4" rx="3.5" ry="2.4" fill="rgb(81,81,81)" transform="rotate(9 908.5 244.4)"/><ellipse cx="1032.8" cy="289.3" rx="3.8" ry="2.5" fill="rgb(85,85,85)" transform="rotate(-11 1032.8 289.3)"/><ellipse cx="1061.5" cy="197.2" rx="3.2" ry="2.0" fill="rgb(81,81,81)" transform="rotate(-6 1061.5 197.2)"/><ellipse cx="1025.8" cy="300.4" rx="3.6" ry="2.3" fill="rgb(90,90,90)" transform="rotate(-24 1025.8 300.4)"/><ellipse cx="899.7" cy="327.9" rx="2.0" ry="1.3" fill="rgb(77,77,77)" transform="rotate(-2 899.7 327.9)"/><ellipse cx="1026.9" cy="328.3" rx="2.5" ry="2.0" fill="rgb(77,77,77)" transform="rotate(-16 1026.9 328.3)"/><ellipse cx="906.9" cy="246.5" rx="3.7" ry="2.5" fill="rgb(79,79,79)" transform="rotate(14 906.9 246.5)"/><ellipse cx="1065.1" cy="251.7" rx="2.6" ry="2.1" fill="rgb(84,84,84)" transform="rotate(7 1065.1 251.7)"/><ellipse cx="904.5" cy="222.4" rx="4.2" ry="2.4" fill="rgb(82,82,82)" transform="rotate(-13 904.5 222.4)"/><ellipse cx="1142.2" cy="280.0" rx="2.7" ry="1.9" fill="rgb(85,85,85)" transform="rotate(-12 1142.2 280.0)"/><ellipse cx="993.7" cy="221.5" rx="3.6" ry="2.6" fill="rgb(85,85,85)" transform="rotate(-14 993.7 221.5)"/><ellipse cx="1097.1" cy="255.3" rx="3.2" ry="2.6" fill="rgb(84,84,84)" transform="rotate(-3 1097.1 255.3)"/><ellipse cx="1091.7" cy="213.6" rx="3.4" ry="2.8" fill="rgb(90,90,90)" transform="rotate(-10 1091.7 213.6)"/><ellipse cx="1062.4" cy="308.1" rx="2.1" ry="2.0" fill="rgb(94,94,94)" transform="rotate(-13 1062.4 308.1)"/><ellipse cx="902.4" cy="305.0" rx="4.3" ry="3.2" fill="rgb(85,85,85)" transform="rotate(-23 902.4 305.0)"/><ellipse cx="870.2" cy="303.0" rx="3.5" ry="1.9" fill="rgb(83,83,83)" transform="rotate(8 870.2 303.0)"/><ellipse cx="944.1" cy="293.6" rx="3.7" ry="2.2" fill="rgb(78,78,78)" transform="rotate(24 944.1 293.6)"/><ellipse cx="1134.9" cy="267.7" rx="3.3" ry="3.0" fill="rgb(85,85,85)" transform="rotate(-17 1134.9 267.7)"/><ellipse cx="1076.3" cy="273.0" rx="2.5" ry="1.4" fill="rgb(93,93,93)" transform="rotate(7 1076.3 273.0)"/><ellipse cx="914.8" cy="256.0" rx="4.5" ry="2.7" fill="rgb(85,85,85)" transform="rotate(13 914.8 256.0)"/><ellipse cx="1074.4" cy="328.0" rx="3.1" ry="2.4" fill="rgb(95,95,95)" transform="rotate(14 1074.4 328.0)"/><ellipse cx="925.6" cy="260.3" rx="2.8" ry="2.4" fill="rgb(95,95,95)" transform="rotate(-22 925.6 260.3)"/><ellipse cx="1102.5" cy="218.9" rx="4.4" ry="3.0" fill="rgb(88,88,88)" transform="rotate(8 1102.5 218.9)"/><ellipse cx="1060.1" cy="329.4" rx="3.9" ry="3.4" fill="rgb(80,80,80)" transform="rotate(5 1060.1 329.4)"/><ellipse cx="965.0" cy="203.0" rx="2.0" ry="1.9" fill="rgb(79,79,79)" transform="rotate(11 965.0 203.0)"/><ellipse cx="1134.3" cy="313.6" rx="2.5" ry="2.1" fill="rgb(79,79,79)" transform="rotate(-5 1134.3 313.6)"/><ellipse cx="863.6" cy="196.9" rx="2.1" ry="1.9" fill="rgb(79,79,79)" transform="rotate(3 863.6 196.9)"/><ellipse cx="1052.3" cy="301.0" rx="4.5" ry="2.7" fill="rgb(77,77,77)" transform="rotate(2 1052.3 301.0)"/><ellipse cx="1115.6" cy="234.9" rx="4.3" ry="3.4" fill="rgb(87,87,87)" transform="rotate(-0 1115.6 234.9)"/><ellipse cx="1142.3" cy="238.6" rx="2.5" ry="1.4" fill="rgb(83,83,83)" transform="rotate(-2 1142.3 238.6)"/><ellipse cx="1016.5" cy="336.2" rx="3.3" ry="1.9" fill="rgb(92,92,92)" transform="rotate(18 1016.5 336.2)"/><ellipse cx="1083.1" cy="304.1" rx="4.3" ry="2.9" fill="rgb(91,91,91)" transform="rotate(18 1083.1 304.1)"/><ellipse cx="1059.5" cy="285.8" rx="2.5" ry="1.8" fill="rgb(78,78,78)" transform="rotate(12 1059.5 285.8)"/><ellipse cx="1081.6" cy="190.6" rx="2.4" ry="2.3" fill="rgb(89,89,89)" transform="rotate(22 1081.6 190.6)"/><ellipse cx="857.0" cy="234.8" rx="2.4" ry="2.1" fill="rgb(80,80,80)" transform="rotate(-3 857.0 234.8)"/><ellipse cx="992.4" cy="246.3" rx="3.1" ry="2.7" fill="rgb(80,80,80)" transform="rotate(-2 992.4 246.3)"/><ellipse cx="994.8" cy="297.1" rx="4.5" ry="3.3" fill="rgb(95,95,95)" transform="rotate(18 994.8 297.1)"/><ellipse cx="1098.7" cy="226.8" rx="3.4" ry="2.8" fill="rgb(94,94,94)" transform="rotate(18 1098.7 226.8)"/><ellipse cx="1060.3" cy="238.5" rx="3.2" ry="1.8" fill="rgb(85,85,85)" transform="rotate(-22 1060.3 238.5)"/><ellipse cx="988.9" cy="250.6" rx="3.7" ry="2.2" fill="rgb(90,90,90)" transform="rotate(16 988.9 250.6)"/><ellipse cx="875.2" cy="306.4" rx="3.1" ry="3.0" fill="rgb(81,81,81)" transform="rotate(20 875.2 306.4)"/><ellipse cx="1064.4" cy="193.3" rx="2.8" ry="2.6" fill="rgb(94,94,94)" transform="rotate(-4 1064.4 193.3)"/><ellipse cx="841.7" cy="196.8" rx="2.4" ry="1.6" fill="rgb(79,79,79)" transform="rotate(-4 841.7 196.8)"/><ellipse cx="1005.4" cy="295.3" rx="3.2" ry="1.9" fill="rgb(93,93,93)" transform="rotate(10 1005.4 295.3)"/><ellipse cx="842.0" cy="267.8" rx="3.4" ry="2.5" fill="rgb(90,90,90)" transform="rotate(-2 842.0 267.8)"/><ellipse cx="1024.2" cy="241.8" rx="4.2" ry="2.3" fill="rgb(88,88,88)" transform="rotate(-15 1024.2 241.8)"/><ellipse cx="1007.1" cy="207.4" rx="2.2" ry="1.9" fill="rgb(82,82,82)" transform="rotate(-14 1007.1 207.4)"/><ellipse cx="925.6" cy="277.2" rx="2.0" ry="1.4" fill="rgb(89,89,89)" transform="rotate(0 925.6 277.2)"/><ellipse cx="991.3" cy="212.2" rx="3.4" ry="3.0" fill="rgb(87,87,87)" transform="rotate(-13 991.3 212.2)"/><ellipse cx="1076.6" cy="195.0" rx="2.9" ry="2.5" fill="rgb(87,87,87)" transform="rotate(-19 1076.6 195.0)"/><ellipse cx="1146.6" cy="208.4" rx="3.4" ry="2.9" fill="rgb(85,85,85)" transform="rotate(12 1146.6 208.4)"/><ellipse cx="1146.5" cy="253.8" rx="3.3" ry="1.9" fill="rgb(93,93,93)" transform="rotate(-19 1146.5 253.8)"/><ellipse cx="1017.3" cy="311.1" rx="2.6" ry="2.1" fill="rgb(79,79,79)" transform="rotate(-17 1017.3 311.1)"/><ellipse cx="920.9" cy="336.0" rx="2.1" ry="1.8" fill="rgb(94,94,94)" transform="rotate(20 920.9 336.0)"/><ellipse cx="866.4" cy="267.9" rx="3.4" ry="2.1" fill="rgb(84,84,84)" transform="rotate(-24 866.4 267.9)"/><ellipse cx="1070.8" cy="190.9" rx="3.4" ry="3.0" fill="rgb(93,93,93)" transform="rotate(-15 1070.8 190.9)"/><ellipse cx="918.7" cy="246.3" rx="3.0" ry="1.9" fill="rgb(82,82,82)" transform="rotate(-15 918.7 246.3)"/><ellipse cx="921.3" cy="288.3" rx="3.0" ry="2.1" fill="rgb(85,85,85)" transform="rotate(2 921.3 288.3)"/><ellipse cx="1126.0" cy="236.4" rx="3.5" ry="2.9" fill="rgb(80,80,80)" transform="rotate(-2 1126.0 236.4)"/><ellipse cx="953.4" cy="291.4" rx="2.1" ry="2.0" fill="rgb(95,95,95)" transform="rotate(23 953.4 291.4)"/><ellipse cx="1115.0" cy="242.4" rx="4.0" ry="3.5" fill="rgb(91,91,91)" transform="rotate(12 1115.0 242.4)"/><ellipse cx="940.2" cy="324.1" rx="4.0" ry="2.4" fill="rgb(83,83,83)" transform="rotate(8 940.2 324.1)"/><ellipse cx="870.2" cy="259.2" rx="3.8" ry="2.8" fill="rgb(89,89,89)" transform="rotate(1 870.2 259.2)"/><ellipse cx="1013.1" cy="276.6" rx="4.2" ry="3.4" fill="rgb(86,86,86)" transform="rotate(-9 1013.1 276.6)"/><ellipse cx="922.2" cy="210.0" rx="4.2" ry="3.1" fill="rgb(80,80,80)" transform="rotate(1 922.2 210.0)"/><ellipse cx="1099.4" cy="213.3" rx="2.9" ry="2.4" fill="rgb(77,77,77)" transform="rotate(21 1099.4 213.3)"/><ellipse cx="1147.3" cy="239.9" rx="3.2" ry="1.8" fill="rgb(86,86,86)" transform="rotate(22 1147.3 239.9)"/><ellipse cx="1108.9" cy="274.2" rx="3.4" ry="3.0" fill="rgb(89,89,89)" transform="rotate(9 1108.9 274.2)"/><ellipse cx="959.2" cy="196.9" rx="3.8" ry="2.5" fill="rgb(85,85,85)" transform="rotate(-21 959.2 196.9)"/><ellipse cx="1060.3" cy="283.8" rx="2.0" ry="1.5" fill="rgb(81,81,81)" transform="rotate(3 1060.3 283.8)"/><ellipse cx="998.4" cy="212.3" rx="2.5" ry="1.5" fill="rgb(85,85,85)" transform="rotate(-18 998.4 212.3)"/><ellipse cx="944.0" cy="317.4" rx="2.4" ry="2.1" fill="rgb(80,80,80)" transform="rotate(12 944.0 317.4)"/><ellipse cx="1021.3" cy="300.0" rx="3.5" ry="2.7" fill="rgb(83,83,83)" transform="rotate(24 1021.3 300.0)"/><ellipse cx="1015.4" cy="212.7" rx="2.1" ry="1.8" fill="rgb(81,81,81)" transform="rotate(-25 1015.4 212.7)"/><ellipse cx="1031.5" cy="305.0" rx="3.5" ry="2.5" fill="rgb(94,94,94)" transform="rotate(2 1031.5 305.0)"/><ellipse cx="902.8" cy="218.2" rx="3.2" ry="1.9" fill="rgb(94,94,94)" transform="rotate(-22 902.8 218.2)"/><ellipse cx="903.3" cy="250.1" rx="3.4" ry="2.6" fill="rgb(87,87,87)" transform="rotate(-22 903.3 250.1)"/><ellipse cx="959.6" cy="261.1" rx="3.7" ry="2.5" fill="rgb(89,89,89)" transform="rotate(-13 959.6 261.1)"/><ellipse cx="1106.0" cy="268.2" rx="2.2" ry="1.4" fill="rgb(85,85,85)" transform="rotate(-1 1106.0 268.2)"/><ellipse cx="902.5" cy="315.2" rx="3.0" ry="2.0" fill="rgb(97,97,97)" transform="rotate(11 902.5 315.2)"/><ellipse cx="880.4" cy="197.9" rx="2.8" ry="2.5" fill="rgb(90,90,90)" transform="rotate(9 880.4 197.9)"/><ellipse cx="994.9" cy="280.2" rx="2.3" ry="1.5" fill="rgb(85,85,85)" transform="rotate(-15 994.9 280.2)"/><ellipse cx="1113.7" cy="336.8" rx="3.3" ry="2.3" fill="rgb(91,91,91)" transform="rotate(-16 1113.7 336.8)"/><ellipse cx="945.2" cy="235.6" rx="3.0" ry="1.9" fill="rgb(92,92,92)" transform="rotate(8 945.2 235.6)"/><ellipse cx="1047.0" cy="195.2" rx="3.4" ry="3.0" fill="rgb(87,87,87)" transform="rotate(11 1047.0 195.2)"/><ellipse cx="1034.7" cy="329.3" rx="2.7" ry="2.4" fill="rgb(95,95,95)" transform="rotate(-17 1034.7 329.3)"/><ellipse cx="1040.1" cy="288.5" rx="2.3" ry="1.8" fill="rgb(88,88,88)" transform="rotate(-8 1040.1 288.5)"/><ellipse cx="858.9" cy="266.1" rx="4.3" ry="3.0" fill="rgb(87,87,87)" transform="rotate(22 858.9 266.1)"/><ellipse cx="1126.0" cy="218.6" rx="3.5" ry="3.2" fill="rgb(95,95,95)" transform="rotate(-22 1126.0 218.6)"/><ellipse cx="1136.7" cy="224.9" rx="2.2" ry="1.7" fill="rgb(96,96,96)" transform="rotate(-20 1136.7 224.9)"/><ellipse cx="1040.4" cy="275.4" rx="3.2" ry="1.9" fill="rgb(80,80,80)" transform="rotate(-2 1040.4 275.4)"/><ellipse cx="1080.9" cy="210.4" rx="3.0" ry="2.4" fill="rgb(94,94,94)" transform="rotate(-16 1080.9 210.4)"/><ellipse cx="879.8" cy="293.0" rx="4.3" ry="3.6" fill="rgb(92,92,92)" transform="rotate(-12 879.8 293.0)"/><ellipse cx="1047.9" cy="332.7" rx="2.8" ry="2.4" fill="rgb(79,79,79)" transform="rotate(10 1047.9 332.7)"/><ellipse cx="1149.9" cy="216.9" rx="3.9" ry="3.4" fill="rgb(85,85,85)" transform="rotate(-9 1149.9 216.9)"/><ellipse cx="932.7" cy="194.6" rx="4.4" ry="3.0" fill="rgb(95,95,95)" transform="rotate(7 932.7 194.6)"/><ellipse cx="1019.8" cy="204.0" rx="3.5" ry="3.0" fill="rgb(86,86,86)" transform="rotate(-20 1019.8 204.0)"/><ellipse cx="950.1" cy="316.5" rx="2.5" ry="1.5" fill="rgb(80,80,80)" transform="rotate(2 950.1 316.5)"/><ellipse cx="1045.4" cy="228.5" rx="2.1" ry="1.3" fill="rgb(97,97,97)" transform="rotate(22 1045.4 228.5)"/><ellipse cx="866.8" cy="285.8" rx="3.0" ry="2.3" fill="rgb(95,95,95)" transform="rotate(20 866.8 285.8)"/><ellipse cx="915.1" cy="312.5" rx="3.6" ry="2.3" fill="rgb(87,87,87)" transform="rotate(-20 915.1 312.5)"/><ellipse cx="1062.3" cy="248.5" rx="4.2" ry="2.4" fill="rgb(84,84,84)" transform="rotate(15 1062.3 248.5)"/><ellipse cx="893.2" cy="309.2" rx="4.5" ry="4.0" fill="rgb(92,92,92)" transform="rotate(-22 893.2 309.2)"/><ellipse cx="892.3" cy="201.5" rx="2.5" ry="2.3" fill="rgb(96,96,96)" transform="rotate(23 892.3 201.5)"/><ellipse cx="1003.6" cy="339.2" rx="4.0" ry="3.3" fill="rgb(77,77,77)" transform="rotate(25 1003.6 339.2)"/><ellipse cx="1027.5" cy="328.2" rx="4.4" ry="3.9" fill="rgb(88,88,88)" transform="rotate(21 1027.5 328.2)"/><ellipse cx="879.3" cy="312.8" rx="3.9" ry="3.1" fill="rgb(92,92,92)" transform="rotate(-25 879.3 312.8)"/><ellipse cx="922.8" cy="241.9" rx="4.0" ry="3.0" fill="rgb(93,93,93)" transform="rotate(-24 922.8 241.9)"/><ellipse cx="920.6" cy="249.4" rx="3.8" ry="2.5" fill="rgb(83,83,83)" transform="rotate(23 920.6 249.4)"/><ellipse cx="904.5" cy="192.0" rx="4.1" ry="2.7" fill="rgb(94,94,94)" transform="rotate(-21 904.5 192.0)"/><ellipse cx="859.4" cy="217.2" rx="2.7" ry="2.1" fill="rgb(97,97,97)" transform="rotate(24 859.4 217.2)"/><ellipse cx="1108.6" cy="205.5" rx="2.5" ry="1.7" fill="rgb(93,93,93)" transform="rotate(-5 1108.6 205.5)"/><ellipse cx="846.0" cy="330.6" rx="2.2" ry="1.7" fill="rgb(88,88,88)" transform="rotate(-7 846.0 330.6)"/><ellipse cx="874.3" cy="293.5" rx="4.2" ry="3.6" fill="rgb(95,95,95)" transform="rotate(-20 874.3 293.5)"/><ellipse cx="1054.8" cy="224.8" rx="3.8" ry="3.0" fill="rgb(92,92,92)" transform="rotate(-19 1054.8 224.8)"/><ellipse cx="865.8" cy="325.0" rx="4.2" ry="3.9" fill="rgb(81,81,81)" transform="rotate(5 865.8 325.0)"/><ellipse cx="888.8" cy="322.4" rx="3.7" ry="2.5" fill="rgb(85,85,85)" transform="rotate(-24 888.8 322.4)"/><ellipse cx="957.2" cy="289.7" rx="3.7" ry="2.2" fill="rgb(83,83,83)" transform="rotate(10 957.2 289.7)"/><ellipse cx="1048.3" cy="222.9" rx="2.9" ry="1.8" fill="rgb(85,85,85)" transform="rotate(-6 1048.3 222.9)"/><ellipse cx="973.9" cy="328.4" rx="3.9" ry="2.3" fill="rgb(91,91,91)" transform="rotate(-11 973.9 328.4)"/><ellipse cx="869.1" cy="227.6" rx="2.6" ry="1.8" fill="rgb(80,80,80)" transform="rotate(-23 869.1 227.6)"/><ellipse cx="1026.1" cy="240.5" rx="4.3" ry="3.9" fill="rgb(85,85,85)" transform="rotate(12 1026.1 240.5)"/><ellipse cx="886.6" cy="338.2" rx="2.5" ry="1.8" fill="rgb(90,90,90)" transform="rotate(6 886.6 338.2)"/><ellipse cx="864.1" cy="212.0" rx="4.3" ry="2.5" fill="rgb(96,96,96)" transform="rotate(6 864.1 212.0)"/><ellipse cx="872.4" cy="277.0" rx="2.2" ry="1.5" fill="rgb(94,94,94)" transform="rotate(-1 872.4 277.0)"/><ellipse cx="1135.7" cy="305.3" rx="3.1" ry="1.7" fill="rgb(96,96,96)" transform="rotate(24 1135.7 305.3)"/><ellipse cx="1092.3" cy="247.1" rx="2.4" ry="1.5" fill="rgb(94,94,94)" transform="rotate(-20 1092.3 247.1)"/><ellipse cx="969.1" cy="226.7" rx="3.9" ry="2.8" fill="rgb(91,91,91)" transform="rotate(-7 969.1 226.7)"/><ellipse cx="896.9" cy="250.0" rx="4.4" ry="3.2" fill="rgb(85,85,85)" transform="rotate(8 896.9 250.0)"/><ellipse cx="1068.0" cy="274.9" rx="2.8" ry="2.6" fill="rgb(94,94,94)" transform="rotate(12 1068.0 274.9)"/><ellipse cx="982.2" cy="291.3" rx="2.8" ry="2.3" fill="rgb(96,96,96)" transform="rotate(19 982.2 291.3)"/><ellipse cx="1039.0" cy="317.0" rx="2.8" ry="2.4" fill="rgb(96,96,96)" transform="rotate(15 1039.0 317.0)"/><ellipse cx="1062.2" cy="225.6" rx="4.0" ry="2.8" fill="rgb(94,94,94)" transform="rotate(-11 1062.2 225.6)"/></g>
</g>
<path d="M797.0,58.5 C799.0,62.9 805.2,76.6 808.8,84.9 C812.4,93.2 815.0,100.5 818.5,108.2 C822.0,116.0 826.9,123.0 830.1,131.4 C833.3,139.8 836.6,149.6 837.9,158.6 C839.2,167.6 838.5,178.6 837.9,185.7 C837.2,192.8 832.7,194.1 834.0,201.2 C835.3,208.3 839.8,222.6 845.6,228.4 C851.4,234.2 860.5,234.2 868.9,236.1 C877.3,238.0 888.6,236.1 896.0,240.0 C903.4,243.9 910.0,252.3 913.5,259.4 C917.0,266.5 918.6,272.9 917.3,282.6 C916.0,292.3 904.7,307.1 905.7,317.5 C906.7,327.9 916.4,336.3 923.2,344.7 C930.0,353.1 940.0,360.9 946.4,368.0 C952.8,375.1 957.0,380.2 961.9,387.3 C966.8,394.4 972.3,401.6 975.5,410.6 C978.7,419.7 978.4,431.9 981.3,441.6 C984.2,451.3 990.4,455.9 993.0,468.8 C995.6,481.7 996.2,510.8 996.8,519.2" fill="none" stroke="#fff" stroke-width="3.0" stroke-linecap="round" stroke-dasharray="0.1,5.0"/>
<path d="M1047.2,519.2 C1045.3,513.4 1039.5,495.9 1035.6,484.3 C1031.7,472.7 1027.9,461.7 1024.0,449.4 C1020.1,437.1 1015.9,422.2 1012.3,410.6 C1008.7,399.0 1003.2,389.9 1002.6,379.6 C1002.0,369.3 1012.0,355.7 1008.5,348.6 C1005.0,341.5 988.4,341.4 981.3,336.9 C974.2,332.4 969.3,327.8 965.8,321.4 C962.2,314.9 958.1,304.7 960.0,298.2 C961.9,291.7 971.3,285.2 977.4,282.6 C983.5,280.0 991.0,280.7 996.8,282.6 C1002.6,284.6 1007.1,289.8 1012.3,294.3 C1017.5,298.8 1022.0,307.9 1027.8,309.8 C1033.6,311.7 1038.8,306.9 1047.2,305.9 C1055.6,304.9 1069.2,302.7 1078.3,304.0 C1087.3,305.3 1094.4,308.8 1101.5,313.7 C1108.6,318.6 1114.4,326.0 1120.9,333.1 C1127.4,340.2 1137.1,352.4 1140.3,356.3" fill="none" stroke="#fff" stroke-width="3.0" stroke-linecap="round" stroke-dasharray="0.1,5.0"/>
<path d="M993.0,59.7 L1140.3,209.0" fill="none" stroke="#fff" stroke-width="3.0" stroke-linecap="round" stroke-dasharray="0.1,5.0"/>
<rect x="696.3" y="61.6" width="235.4000000000001" height="18.6" fill="#fff" fill-opacity="0.38" stroke="#fff" stroke-width="2"/>
<line x1="698.3" y1="70.9" x2="921.7" y2="70.9" stroke="#fff" stroke-width="1.6"/>
<path d="M919.7,65.9 L929.7,70.9 L919.7,75.9 Z" fill="#fff"/>
<text x="900.0" y="186.5" font-family="'Liberation Serif','Times New Roman',serif" font-size="38" fill="#fff" text-anchor="start" >Clean Au</text>
<text x="1058.9" y="104.3" font-family="'Liberation Serif','Times New Roman',serif" font-size="36" fill="#fff" text-anchor="start" >Edge</text>
<text x="708.0" y="319.5" font-family="'Liberation Serif','Times New Roman',serif" font-size="36" fill="#fff">MoS<tspan font-size="25.9" dy="7.9">2</tspan></text>
<text x="1049.2" y="393.2" font-family="'Liberation Serif','Times New Roman',serif" font-size="36" fill="#fff">MoS<tspan font-size="25.9" dy="7.9">2</tspan></text>
<g filter="url(#fC)"><rect x="4" y="707" width="467" height="465" fill="rgb(184,184,184)"/>
<linearGradient id="gC1" gradientUnits="userSpaceOnUse" x1="140" y1="0" x2="420" y2="0"><stop offset="0" stop-color="rgb(134,134,134)"/><stop offset="1" stop-color="rgb(119,119,119)"/></linearGradient>
<path d="M240.4,1021.8 L263.7,1045.1 L290.8,1060.6 L300.5,1080.0 L298.6,1111.0 L275.3,1142.0 L252.0,1163.4 L280.0,1195.0 L325.0,1195.0 L314.1,1165.3 L321.8,1142.0 L331.5,1130.4 L341.2,1083.9 L331.5,1041.2 L341.2,1010.2 Z" fill="rgb(140,140,140)" filter="url(#b8)"/>
<path d="M150.0,692.0 L143.5,734.9 L145.4,765.9 L147.3,796.9 L141.5,828.0 L137.7,862.9 L141.5,905.5 L159.0,928.8 L182.2,936.5 L205.5,952.0 L221.0,971.4 L228.8,998.6 L240.4,1021.8 L263.7,1045.1 L300.0,1062.0 L335.0,1062.0 L331.5,1041.2 L341.2,1010.2 L318.0,998.6 L294.7,986.9 L288.9,967.5 L298.6,954.0 L325.7,950.1 L345.1,963.7 L364.5,979.2 L383.9,979.2 L407.1,971.4 L430.4,975.3 L449.8,990.8 L465.3,1002.4 L485.0,1005.0 L485.0,840.0 L339.0,692.0 Z" fill="url(#gC1)" filter="url(#b8)"/>
<path d="M325,692 L485,692 L485,857 Z" fill="rgb(140,140,140)" filter="url(#b6)"/>
<ellipse cx="170" cy="1085" rx="170" ry="110" fill="rgb(161,161,161)" filter="url(#b25)"/>
<ellipse cx="185" cy="1022" rx="60" ry="24" fill="rgb(143,143,143)" filter="url(#b12)"/>
<ellipse cx="395" cy="930" rx="70" ry="60" fill="rgb(112,112,112)" filter="url(#b20)"/>
<ellipse cx="300" cy="1025" rx="55" ry="22" fill="rgb(92,92,92)" filter="url(#b10)"/>
<ellipse cx="312" cy="1012" rx="24" ry="4.5" fill="rgb(20,20,20)" filter="url(#b3)"/>
<ellipse cx="445" cy="912" rx="40" ry="32" fill="rgb(71,71,71)" filter="url(#b12)"/>
<ellipse cx="458" cy="918" rx="22" ry="15" fill="rgb(0,0,0)" filter="url(#b5)"/>
<ellipse cx="456" cy="888" rx="10" ry="6" fill="rgb(26,26,26)" filter="url(#b3)"/>
<circle cx="58" cy="757" r="9" fill="rgb(235,235,235)" filter="url(#b5)"/>
<circle cx="48" cy="793" r="7" fill="rgb(224,224,224)" filter="url(#b5)"/>
<circle cx="100" cy="808" r="8" fill="rgb(224,224,224)" filter="url(#b5)"/>
<circle cx="35" cy="840" r="7" fill="rgb(219,219,219)" filter="url(#b5)"/>
<circle cx="90" cy="760" r="7" fill="rgb(217,217,217)" filter="url(#b5)"/>
<circle cx="40" cy="1120" r="11" fill="rgb(235,235,235)" filter="url(#b5)"/>
<circle cx="225" cy="1150" r="9" fill="rgb(219,219,219)" filter="url(#b5)"/>
<circle cx="170" cy="1110" r="7" fill="rgb(209,209,209)" filter="url(#b5)"/>
<circle cx="30" cy="900" r="7" fill="rgb(214,214,214)" filter="url(#b5)"/>
<circle cx="25" cy="1140" r="9" fill="rgb(219,219,219)" filter="url(#b5)"/>
<circle cx="75" cy="880" r="6" fill="rgb(214,214,214)" filter="url(#b5)"/>
<circle cx="130" cy="1000" r="7" fill="rgb(204,204,204)" filter="url(#b5)"/>
<circle cx="360" cy="1160" r="9" fill="rgb(209,209,209)" filter="url(#b5)"/>
<circle cx="400" cy="1085" r="7" fill="rgb(204,204,204)" filter="url(#b5)"/>
</g>
<path d="M151.2,713.6 C149.9,717.1 144.5,726.2 143.5,734.9 C142.5,743.6 144.8,755.6 145.4,765.9 C146.0,776.2 148.0,786.5 147.3,796.9 C146.7,807.2 143.1,817.0 141.5,828.0 C139.9,839.0 137.7,850.0 137.7,862.9 C137.7,875.8 137.9,894.5 141.5,905.5 C145.1,916.5 152.2,923.6 159.0,928.8 C165.8,934.0 174.4,932.6 182.2,936.5 C189.9,940.4 199.0,946.2 205.5,952.0 C212.0,957.8 217.1,963.6 221.0,971.4 C224.9,979.2 225.6,990.2 228.8,998.6 C232.0,1007.0 234.6,1014.0 240.4,1021.8 C246.2,1029.5 255.3,1038.6 263.7,1045.1 C272.1,1051.6 284.7,1054.8 290.8,1060.6 C296.9,1066.4 299.2,1071.6 300.5,1080.0 C301.8,1088.4 302.8,1100.7 298.6,1111.0 C294.4,1121.3 283.1,1133.3 275.3,1142.0 C267.5,1150.7 255.9,1159.8 252.0,1163.4" fill="none" stroke="#000" stroke-width="3.0" stroke-linecap="round" stroke-dasharray="0.1,5.0"/>
<path d="M341.2,1083.9 C339.6,1076.8 331.5,1053.5 331.5,1041.2 C331.5,1028.9 343.4,1017.3 341.2,1010.2 C338.9,1003.1 325.8,1002.5 318.0,998.6 C310.2,994.7 299.6,992.1 294.7,986.9 C289.8,981.7 288.2,973.0 288.9,967.5 C289.5,962.0 292.5,956.9 298.6,954.0 C304.7,951.1 317.9,948.5 325.7,950.1 C333.4,951.7 338.6,958.9 345.1,963.7 C351.6,968.6 358.0,976.6 364.5,979.2 C371.0,981.8 376.8,980.5 383.9,979.2 C391.0,977.9 399.4,972.0 407.1,971.4 C414.9,970.8 423.3,972.1 430.4,975.3 C437.5,978.5 444.0,986.3 449.8,990.8 C455.6,995.3 462.7,1000.5 465.3,1002.4" fill="none" stroke="#000" stroke-width="3.0" stroke-linecap="round" stroke-dasharray="0.1,5.0"/>
<path d="M331.4,1130.5 C329.8,1133.8 324.6,1144.1 322.0,1150.0 C319.4,1155.9 316.6,1163.2 315.5,1165.8" fill="none" stroke="#000" stroke-width="3.0" stroke-linecap="round" stroke-dasharray="0.1,5.0"/>
<path d="M339.3,707.8 L461.4,833.8" fill="none" stroke="#000" stroke-width="3.0" stroke-linecap="round" stroke-dasharray="0.1,5.0"/>
<rect x="31.8" y="716.3" width="235.0" height="18.600000000000023" fill="#fff" fill-opacity="0.38" stroke="#fff" stroke-width="2"/>
<line x1="33.8" y1="725.6" x2="256.8" y2="725.6" stroke="#fff" stroke-width="1.6"/>
<path d="M254.8,720.5999999999999 L264.8,725.5999999999999 L254.8,730.5999999999999 Z" fill="#fff"/>
<text x="221.8" y="829.1" font-family="'Liberation Serif','Times New Roman',serif" font-size="38" fill="#000" text-anchor="start" >Clean Au</text>
<text x="387.7" y="746.5" font-family="'Liberation Serif','Times New Roman',serif" font-size="36" fill="#000" text-anchor="start" >Edge</text>
<text x="29.1" y="960.6" font-family="'Liberation Serif','Times New Roman',serif" font-size="36" fill="#000">MoS<tspan font-size="25.9" dy="7.9">2</tspan></text>
<text x="371.5" y="1034.2" font-family="'Liberation Serif','Times New Roman',serif" font-size="36" fill="#000">MoS<tspan font-size="25.9" dy="7.9">2</tspan></text>
<text x="339.3" y="1124.6" font-family="'Liberation Serif','Times New Roman',serif" font-size="36" fill="#000" text-anchor="start" >750 nm</text>
<rect x="337.3" y="1136.2" width="116.4" height="9.7" fill="#000"/>
<g filter="url(#fD)"><rect x="683.5" y="705" width="465.5" height="465" fill="rgb(140,140,140)"/>
<g filter="url(#b25)"><rect x="643.5" y="665.0" width="118.1" height="98.6" fill="rgb(219,219,219)"/><rect x="761.1" y="665.0" width="78.1" height="98.6" fill="rgb(194,194,194)"/><rect x="838.7" y="665.0" width="78.1" height="98.6" fill="rgb(115,115,115)"/><rect x="916.2" y="665.0" width="78.1" height="98.6" fill="rgb(110,110,110)"/><rect x="993.8" y="665.0" width="78.1" height="98.6" fill="rgb(112,112,112)"/><rect x="1071.4" y="665.0" width="118.1" height="98.6" fill="rgb(148,148,148)"/><rect x="643.5" y="763.1" width="118.1" height="58.6" fill="rgb(209,209,209)"/><rect x="761.1" y="763.1" width="78.1" height="58.6" fill="rgb(184,184,184)"/><rect x="838.7" y="763.1" width="78.1" height="58.6" fill="rgb(148,148,148)"/><rect x="916.2" y="763.1" width="78.1" height="58.6" fill="rgb(143,143,143)"/><rect x="993.8" y="763.1" width="78.1" height="58.6" fill="rgb(138,138,138)"/><rect x="1071.4" y="763.1" width="118.1" height="58.6" fill="rgb(143,143,143)"/><rect x="643.5" y="821.2" width="118.1" height="58.6" fill="rgb(199,199,199)"/><rect x="761.1" y="821.2" width="78.1" height="58.6" fill="rgb(173,173,173)"/><rect x="838.7" y="821.2" width="78.1" height="58.6" fill="rgb(145,145,145)"/><rect x="916.2" y="821.2" width="78.1" height="58.6" fill="rgb(140,140,140)"/><rect x="993.8" y="821.2" width="78.1" height="58.6" fill="rgb(128,128,128)"/><rect x="1071.4" y="821.2" width="118.1" height="58.6" fill="rgb(112,112,112)"/><rect x="643.5" y="879.4" width="118.1" height="58.6" fill="rgb(189,189,189)"/><rect x="761.1" y="879.4" width="78.1" height="58.6" fill="rgb(163,163,163)"/><rect x="838.7" y="879.4" width="78.1" height="58.6" fill="rgb(138,138,138)"/><rect x="916.2" y="879.4" width="78.1" height="58.6" fill="rgb(130,130,130)"/><rect x="993.8" y="879.4" width="78.1" height="58.6" fill="rgb(120,120,120)"/><rect x="1071.4" y="879.4" width="118.1" height="58.6" fill="rgb(102,102,102)"/><rect x="643.5" y="937.5" width="118.1" height="58.6" fill="rgb(156,156,156)"/><rect x="761.1" y="937.5" width="78.1" height="58.6" fill="rgb(143,143,143)"/><rect x="838.7" y="937.5" width="78.1" height="58.6" fill="rgb(128,128,128)"/><rect x="916.2" y="937.5" width="78.1" height="58.6" fill="rgb(117,117,117)"/><rect x="993.8" y="937.5" width="78.1" height="58.6" fill="rgb(130,130,130)"/><rect x="1071.4" y="937.5" width="118.1" height="58.6" fill="rgb(140,140,140)"/><rect x="643.5" y="995.6" width="118.1" height="58.6" fill="rgb(135,135,135)"/><rect x="761.1" y="995.6" width="78.1" height="58.6" fill="rgb(125,125,125)"/><rect x="838.7" y="995.6" width="78.1" height="58.6" fill="rgb(117,117,117)"/><rect x="916.2" y="995.6" width="78.1" height="58.6" fill="rgb(105,105,105)"/><rect x="993.8" y="995.6" width="78.1" height="58.6" fill="rgb(120,120,120)"/><rect x="1071.4" y="995.6" width="118.1" height="58.6" fill="rgb(135,135,135)"/><rect x="643.5" y="1053.8" width="118.1" height="58.6" fill="rgb(120,120,120)"/><rect x="761.1" y="1053.8" width="78.1" height="58.6" fill="rgb(110,110,110)"/><rect x="838.7" y="1053.8" width="78.1" height="58.6" fill="rgb(99,99,99)"/><rect x="916.2" y="1053.8" width="78.1" height="58.6" fill="rgb(94,94,94)"/><rect x="993.8" y="1053.8" width="78.1" height="58.6" fill="rgb(97,97,97)"/><rect x="1071.4" y="1053.8" width="118.1" height="58.6" fill="rgb(102,102,102)"/><rect x="643.5" y="1111.9" width="118.1" height="98.6" fill="rgb(71,71,71)"/><rect x="761.1" y="1111.9" width="78.1" height="98.6" fill="rgb(64,64,64)"/><rect x="838.7" y="1111.9" width="78.1" height="98.6" fill="rgb(64,64,64)"/><rect x="916.2" y="1111.9" width="78.1" height="98.6" fill="rgb(48,48,48)"/><rect x="993.8" y="1111.9" width="78.1" height="98.6" fill="rgb(48,48,48)"/><rect x="1071.4" y="1111.9" width="118.1" height="98.6" fill="rgb(54,54,54)"/></g>
<rect x="795" y="700" width="300" height="72" fill="rgb(110,110,110)" filter="url(#b8)"/>
<rect x="830" y="748" width="270" height="18" fill="rgb(102,102,102)" filter="url(#b6)"/>
<ellipse cx="1128" cy="900" rx="36" ry="45" fill="rgb(84,84,84)" filter="url(#b12)"/>
<ellipse cx="1147" cy="898" rx="10" ry="18" fill="rgb(26,26,26)" filter="url(#b6)"/>
<ellipse cx="895" cy="1100" rx="16" ry="15" fill="rgb(56,56,56)" filter="url(#b6)"/>
<ellipse cx="905" cy="1140" rx="8" ry="22" fill="rgb(112,112,112)" filter="url(#b6)"/>
<ellipse cx="902" cy="1170" rx="12" ry="9" fill="rgb(250,250,250)" filter="url(#b4)"/>
<ellipse cx="694" cy="1117" rx="10" ry="7" fill="rgb(189,189,189)" filter="url(#b4)"/>
<ellipse cx="715" cy="745" rx="12" ry="8" fill="rgb(242,242,242)" filter="url(#b5)"/>
</g>
<path d="M797.1,710.5 C799.4,713.7 809.7,723.4 810.7,729.9 C811.7,736.4 806.2,743.5 803.0,749.3 C799.8,755.1 794.9,757.0 791.3,764.8 C787.7,772.5 782.9,784.8 781.6,795.8 C780.3,806.8 781.7,818.4 783.6,830.7 C785.5,843.0 789.4,859.1 793.3,869.5 C797.2,879.9 800.7,887.6 806.8,892.8 C812.9,898.0 822.3,897.9 830.1,900.5 C837.9,903.1 846.9,904.1 853.4,908.3 C859.9,912.5 862.4,921.8 868.9,925.7 C875.4,929.6 884.4,926.6 892.1,931.5 C899.9,936.4 908.9,946.4 915.4,954.8 C921.9,963.2 925.7,971.6 930.9,981.9 C936.1,992.2 940.6,1007.8 946.4,1016.8 C952.2,1025.8 959.3,1029.7 965.8,1036.2 C972.3,1042.7 981.3,1047.8 985.2,1055.6 C989.1,1063.3 989.8,1071.7 989.1,1082.7 C988.5,1093.7 985.8,1109.9 981.3,1121.5 C976.8,1133.1 967.7,1144.8 961.9,1152.5 C956.1,1160.2 949.0,1165.4 946.4,1168.0" fill="none" stroke="#000" stroke-width="3.0" stroke-linecap="round" stroke-dasharray="0.1,5.0"/>
<path d="M1012.3,1168.0 C1013.6,1162.2 1017.5,1142.9 1020.1,1133.2 C1022.7,1123.5 1025.3,1120.2 1027.9,1109.9 C1030.5,1099.6 1036.2,1082.1 1035.6,1071.1 C1034.9,1060.1 1028.5,1053.7 1024.0,1044.0 C1019.5,1034.3 1011.4,1020.4 1008.5,1013.0 C1005.6,1005.6 1009.7,1003.3 1006.5,999.4 C1003.3,995.5 994.3,993.9 989.1,989.7 C983.9,985.5 978.4,980.0 975.5,974.2 C972.6,968.4 970.0,960.3 971.6,954.8 C973.2,949.3 979.7,942.8 985.2,941.2 C990.7,939.6 998.1,941.6 1004.6,945.1 C1011.1,948.6 1016.2,958.0 1024.0,962.5 C1031.8,967.0 1040.8,972.5 1051.1,972.2 C1061.4,971.9 1076.3,961.6 1086.0,960.6 C1095.7,959.6 1102.2,962.9 1109.3,966.4 C1116.4,969.9 1122.6,977.0 1128.7,981.9 C1134.8,986.8 1143.2,993.2 1146.1,995.5" fill="none" stroke="#000" stroke-width="3.0" stroke-linecap="round" stroke-dasharray="0.1,5.0"/>
<path d="M1031.7,708.6 L1146.1,834.6" fill="none" stroke="#000" stroke-width="3.0" stroke-linecap="round" stroke-dasharray="0.1,5.0"/>
<rect x="692.4" y="708.6" width="235.39999999999998" height="17.399999999999977" fill="#fff" fill-opacity="0.38" stroke="#fff" stroke-width="2"/>
<line x1="694.4" y1="717.3" x2="917.8" y2="717.3" stroke="#fff" stroke-width="1.6"/>
<path d="M915.8,712.3 L925.8,717.3 L915.8,722.3 Z" fill="#fff"/>
<rect x="697.3" y="774.1" width="440" height="5.8" fill="#fff"/>
<path d="M697.5,782.3 L707.3,782.3 L707.3,787.1 L711.9,787.1 L702.4,792.5 L692.9,787.1 L697.5,787.1 Z" fill="#fff"/>
<path d="M1127.3,782.3 L1137.1000000000001,782.3 L1137.1000000000001,787.1 L1141.7,787.1 L1132.2,792.5 L1122.7,787.1 L1127.3,787.1 Z" fill="#fff"/>
<text x="797.1" y="807.4" font-family="'Liberation Serif','Times New Roman',serif" font-size="33.5" fill="#fff" text-anchor="start" >Tip apex change</text>
<text x="925.1" y="875.3" font-family="'Liberation Serif','Times New Roman',serif" font-size="38" fill="#000" text-anchor="start" >Clean Au</text>
<text x="1070.5" y="740.8" font-family="'Liberation Serif','Times New Roman',serif" font-size="36" fill="#000" text-anchor="start" >Edge</text>
<text x="717.7" y="954.8" font-family="'Liberation Serif','Times New Roman',serif" font-size="36" fill="#000">MoS<tspan font-size="25.9" dy="7.9">2</tspan></text>
<text x="1060.8" y="1028.5" font-family="'Liberation Serif','Times New Roman',serif" font-size="36" fill="#000">MoS<tspan font-size="25.9" dy="7.9">2</tspan></text>
<rect x="544.8" y="171.3" width="36.0" height="236.0" fill="url(#cb1)" stroke="#000" stroke-width="3.6"/>
<rect x="1224.1" y="172.1" width="37.1" height="234.4" fill="url(#cb2)" stroke="#000" stroke-width="3.6"/>
<rect x="547.7" y="822.7" width="36.7" height="234.7" fill="url(#cb3)" stroke="#000" stroke-width="3.6"/>
<rect x="1226.5" y="820.1" width="36.9" height="235.3" fill="url(#cb4)" stroke="#000" stroke-width="3.6"/>
<text x="492.0" y="166.0" font-family="'Liberation Sans',Arial,sans-serif" font-size="33.5" fill="#000" text-anchor="start" >320.0 eV</text>
<text x="504.0" y="436.3" font-family="'Liberation Sans',Arial,sans-serif" font-size="33.5" fill="#000" text-anchor="start" >75.0 eV</text>
<text x="1171.2" y="165.3" font-family="'Liberation Sans',Arial,sans-serif" font-size="33.5" fill="#000" text-anchor="start" >310.0 eV</text>
<text x="1175.7" y="435.8" font-family="'Liberation Sans',Arial,sans-serif" font-size="33.5" fill="#000" text-anchor="start" >-20.0 eV</text>
<text x="489.5" y="816.2" font-family="'Liberation Sans',Arial,sans-serif" font-size="33.5" fill="#000" text-anchor="start" >290.0 mV</text>
<text x="484.3" y="1086.3" font-family="'Liberation Sans',Arial,sans-serif" font-size="33.5" fill="#000" text-anchor="start" >-120.0 mV</text>
<text x="1171.5" y="813.0" font-family="'Liberation Sans',Arial,sans-serif" font-size="33.5" fill="#000" text-anchor="start" >-10.0 mV</text>
<text x="1162.5" y="1084.2" font-family="'Liberation Sans',Arial,sans-serif" font-size="33.5" fill="#000" text-anchor="start" >-400.0 mV</text>
<text x="6.3" y="32.8" font-family="'Liberation Serif','Times New Roman',serif" font-size="44.5" fill="#000" text-anchor="start" >(a) PF – QNM (Dissipation)</text>
<text x="6.0" y="683.5" font-family="'Liberation Serif','Times New Roman',serif" font-size="45.2" fill="#000" text-anchor="start" >(c) PF – KPFM (CPD)</text>
<text x="76.5" y="570.4" font-family="'Liberation Serif','Times New Roman',serif" font-size="45" fill="#000" text-anchor="start" >BDD coated tip</text>
<text x="805.2" y="570.4" font-family="'Liberation Serif','Times New Roman',serif" font-size="45" fill="#000" text-anchor="start" >Pt coated tip</text>
<text x="76.5" y="1227.7" font-family="'Liberation Serif','Times New Roman',serif" font-size="45" fill="#000" text-anchor="start" >BDD coated tip</text>
<text x="805.2" y="1227.7" font-family="'Liberation Serif','Times New Roman',serif" font-size="45" fill="#000" text-anchor="start" >Pt coated tip</text>
<line x1="36" y1="610.8" x2="1959" y2="610.8" stroke="#aaa" stroke-width="2" stroke-dasharray="3,3.3"/>
<g id="graphB">
<rect x="1498.2" y="44.2" width="546.2" height="439.8" fill="none" stroke="#000" stroke-width="2"/>
<line x1="1489.2" y1="484.0" x2="1498.2" y2="484.0" stroke="#000" stroke-width="2"/>
<text x="1481.5" y="494.0" font-family="'Liberation Serif','Times New Roman',serif" font-size="35" fill="#000" text-anchor="end" >80</text>
<line x1="1489.2" y1="410.7" x2="1498.2" y2="410.7" stroke="#000" stroke-width="2"/>
<text x="1481.5" y="420.7" font-family="'Liberation Serif','Times New Roman',serif" font-size="35" fill="#000" text-anchor="end" >120</text>
<line x1="1489.2" y1="337.4" x2="1498.2" y2="337.4" stroke="#000" stroke-width="2"/>
<text x="1481.5" y="347.4" font-family="'Liberation Serif','Times New Roman',serif" font-size="35" fill="#000" text-anchor="end" >160</text>
<line x1="1489.2" y1="264.1" x2="1498.2" y2="264.1" stroke="#000" stroke-width="2"/>
<text x="1481.5" y="274.1" font-family="'Liberation Serif','Times New Roman',serif" font-size="35" fill="#000" text-anchor="end" >200</text>
<line x1="1489.2" y1="190.8" x2="1498.2" y2="190.8" stroke="#000" stroke-width="2"/>
<text x="1481.5" y="200.8" font-family="'Liberation Serif','Times New Roman',serif" font-size="35" fill="#000" text-anchor="end" >240</text>
<line x1="1489.2" y1="117.5" x2="1498.2" y2="117.5" stroke="#000" stroke-width="2"/>
<text x="1481.5" y="127.5" font-family="'Liberation Serif','Times New Roman',serif" font-size="35" fill="#000" text-anchor="end" >280</text>
<line x1="1489.2" y1="44.2" x2="1498.2" y2="44.2" stroke="#000" stroke-width="2"/>
<text x="1481.5" y="54.2" font-family="'Liberation Serif','Times New Roman',serif" font-size="35" fill="#000" text-anchor="end" >320</text>
<line x1="1493.2" y1="447.4" x2="1498.2" y2="447.4" stroke="#000" stroke-width="2"/>
<line x1="1493.2" y1="374.1" x2="1498.2" y2="374.1" stroke="#000" stroke-width="2"/>
<line x1="1493.2" y1="300.8" x2="1498.2" y2="300.8" stroke="#000" stroke-width="2"/>
<line x1="1493.2" y1="227.4" x2="1498.2" y2="227.4" stroke="#000" stroke-width="2"/>
<line x1="1493.2" y1="154.1" x2="1498.2" y2="154.1" stroke="#000" stroke-width="2"/>
<line x1="1493.2" y1="80.9" x2="1498.2" y2="80.9" stroke="#000" stroke-width="2"/>
<line x1="1498.2" y1="484.0" x2="1498.2" y2="492.0" stroke="#000" stroke-width="2"/>
<text x="1498.2" y="524.7" font-family="'Liberation Serif','Times New Roman',serif" font-size="35" fill="#000" text-anchor="middle" >0.0</text>
<line x1="1680.3" y1="484.0" x2="1680.3" y2="492.0" stroke="#000" stroke-width="2"/>
<text x="1680.3" y="524.7" font-family="'Liberation Serif','Times New Roman',serif" font-size="35" fill="#000" text-anchor="middle" >0.5</text>
<line x1="1862.3" y1="484.0" x2="1862.3" y2="492.0" stroke="#000" stroke-width="2"/>
<text x="1862.3" y="524.7" font-family="'Liberation Serif','Times New Roman',serif" font-size="35" fill="#000" text-anchor="middle" >1.0</text>
<line x1="2044.4" y1="484.0" x2="2044.4" y2="492.0" stroke="#000" stroke-width="2"/>
<text x="2044.4" y="524.7" font-family="'Liberation Serif','Times New Roman',serif" font-size="35" fill="#000" text-anchor="middle" >1.5</text>
<line x1="1589.2" y1="484.0" x2="1589.2" y2="489.0" stroke="#000" stroke-width="2"/>
<line x1="1771.3" y1="484.0" x2="1771.3" y2="489.0" stroke="#000" stroke-width="2"/>
<line x1="1953.4" y1="484.0" x2="1953.4" y2="489.0" stroke="#000" stroke-width="2"/>
<text x="1767.6" y="570.0" font-family="'Liberation Serif','Times New Roman',serif" font-size="34.5" fill="#000" text-anchor="middle" >Distance [μm]</text>
<text x="1404.4" y="254.6" font-family="'Liberation Serif','Times New Roman',serif" font-size="35" fill="#000" text-anchor="middle" transform="rotate(-90 1404.4 254.6)">Dissipation energy [eV]</text>
<line x1="1681.6" y1="48.2" x2="1681.6" y2="482.0" stroke="#000" stroke-width="2.2" stroke-dasharray="2.2,6.8"/>
<g clip-path="url(#clipB)">
<polyline points="1498.0,293.9 1506.0,333.9 1514.0,271.3 1523.3,284.6 1528.6,312.6 1532.6,299.3 1540.6,239.3 1544.6,248.6 1552.6,376.5 1560.6,437.8 1570.0,336.6 1574.8,288.6 1579.3,285.9 1587.3,252.6 1596.6,310.0 1607.3,412.5 1612.6,363.2 1617.4,228.6 1620.6,256.6 1626.0,363.2 1634.0,463.2 1639.3,389.9 1647.2,243.3 1657.9,280.6 1668.0,344.6 1676.6,239.3 1680.6,238.0 1684.6,244.6 1691.2,228.6 1694.0,230.0 1700.7,320.5 1707.3,336.5 1714.0,381.8 1719.3,413.8 1723.3,389.8 1728.6,317.9 1732.6,319.2 1736.6,364.5 1743.3,360.5 1752.6,377.8 1759.3,373.8 1768.6,335.2 1774.0,348.5 1779.3,356.5 1783.8,348.5 1792.6,288.6 1799.3,320.5 1809.4,371.2 1817.9,298.7 1821.9,301.9 1831.2,377.8 1839.8,305.9 1848.6,368.5 1860.5,344.5 1865.9,367.2 1873.9,287.2 1877.3,294.6 1881.6,346.9 1888.9,312.0 1893.3,317.8 1899.1,323.7 1906.4,294.6 1916.6,399.3 1931.1,288.7 1942.7,370.2 1954.4,419.7 1963.1,332.4 1967.5,344.0 1971.8,341.1 1979.1,390.6 1984.9,362.9 1996.6,368.8 2002.4,339.7 2005.3,344.0 2009.7,406.6 2015.5,259.7 2016.9,169.5 2019.8,136.0 2022.7,172.4 2027.1,265.5 2035.8,370.2 2044.0,413.9" fill="none" stroke="#f03a3a" stroke-width="3.6" stroke-linejoin="round" stroke-linecap="round" />
<polyline points="1498.0,223.3 1510.0,209.2 1515.3,212.6 1522.0,275.3 1527.3,275.3 1532.6,240.6 1540.6,199.3 1544.6,202.0 1554.0,219.8 1561.4,195.3 1564.6,202.0 1570.0,200.6 1575.3,216.6 1582.0,256.6 1586.0,252.6 1591.3,207.3 1596.6,195.3 1603.3,194.8 1608.6,200.6 1612.6,198.0 1616.6,179.3 1622.0,175.3 1626.0,182.0 1631.3,208.6 1635.3,220.6 1639.3,226.0 1647.2,262.0 1651.2,270.0 1656.6,272.6 1660.6,282.0 1671.2,282.0 1676.6,286.0 1684.6,288.6 1690.0,275.3 1695.3,288.6 1699.3,304.6 1703.3,301.4 1710.0,300.6 1715.3,311.2 1723.3,313.9 1730.0,321.9 1734.0,317.9 1739.3,299.2 1744.6,297.9 1751.3,309.9 1756.6,311.2 1762.0,309.9 1767.3,305.9 1770.0,312.0 1775.3,297.9 1779.3,297.9 1783.3,309.9 1788.6,308.6 1796.6,296.6 1802.0,301.9 1806.0,309.9 1813.9,303.2 1821.9,309.9 1831.2,289.9 1837.9,304.6 1844.6,325.9 1851.2,331.2 1857.9,324.5 1864.5,311.2 1868.5,320.5 1875.8,320.2 1884.5,319.3 1894.7,296.0 1900.5,306.2 1906.4,317.8 1913.6,335.3 1916.6,317.8 1920.9,323.7 1925.3,339.7 1932.6,326.6 1939.8,336.8 1945.6,329.5 1952.9,313.5 1958.7,322.2 1966.0,349.9 1971.8,317.8 1979.1,329.5 1984.9,296.0 1993.7,335.3 2002.4,294.6 2012.6,314.9 2018.4,306.2 2022.7,265.5 2027.1,200.0 2031.5,213.1 2037.3,230.6 2044.4,243.7" fill="none" stroke="#0a14f0" stroke-width="3.6" stroke-linejoin="round" stroke-linecap="round" />
</g>
<line x1="1720.3" y1="70.5" x2="1798.8" y2="70.5" stroke="#0a14f0" stroke-width="3.2"/>
<line x1="1720.3" y1="112.3" x2="1798.8" y2="112.3" stroke="#f03a3a" stroke-width="3.2"/>
<text x="1806.7" y="82.0" font-family="'Liberation Serif','Times New Roman',serif" font-size="34" fill="#000" text-anchor="start" >BDD coated tip</text>
<text x="1806.7" y="122.5" font-family="'Liberation Serif','Times New Roman',serif" font-size="34" fill="#000" text-anchor="start" >Pt coated tip</text>
<text x="1524.9" y="111.9" font-family="'Liberation Serif','Times New Roman',serif" font-size="33">2D MoS<tspan font-size="24" dy="7">2</tspan></text>
<text x="1794.4" y="260.3" font-family="'Liberation Serif','Times New Roman',serif" font-size="34" fill="#000" text-anchor="start" >Au surface</text>
<text x="1314.5" y="33.5" font-family="'Liberation Serif','Times New Roman',serif" font-size="44.5" fill="#000" text-anchor="start" >(b)</text>
</g>
<g id="graphD">
<rect x="1498.1" y="700.9" width="545.9000000000001" height="439.9" fill="none" stroke="#000" stroke-width="2"/>
<line x1="1489.1" y1="1140.8" x2="1498.1" y2="1140.8" stroke="#000" stroke-width="2"/>
<text x="1481.5" y="1150.4" font-family="'Liberation Serif','Times New Roman',serif" font-size="35" fill="#000" text-anchor="end" >-300</text>
<line x1="1489.1" y1="1078.0" x2="1498.1" y2="1078.0" stroke="#000" stroke-width="2"/>
<text x="1481.5" y="1087.6" font-family="'Liberation Serif','Times New Roman',serif" font-size="35" fill="#000" text-anchor="end" >-200</text>
<line x1="1489.1" y1="1015.1" x2="1498.1" y2="1015.1" stroke="#000" stroke-width="2"/>
<text x="1481.5" y="1024.7" font-family="'Liberation Serif','Times New Roman',serif" font-size="35" fill="#000" text-anchor="end" >-100</text>
<line x1="1489.1" y1="952.3" x2="1498.1" y2="952.3" stroke="#000" stroke-width="2"/>
<text x="1481.5" y="961.9" font-family="'Liberation Serif','Times New Roman',serif" font-size="35" fill="#000" text-anchor="end" >0</text>
<line x1="1489.1" y1="889.4" x2="1498.1" y2="889.4" stroke="#000" stroke-width="2"/>
<text x="1481.5" y="899.0" font-family="'Liberation Serif','Times New Roman',serif" font-size="35" fill="#000" text-anchor="end" >100</text>
<line x1="1489.1" y1="826.6" x2="1498.1" y2="826.6" stroke="#000" stroke-width="2"/>
<text x="1481.5" y="836.2" font-family="'Liberation Serif','Times New Roman',serif" font-size="35" fill="#000" text-anchor="end" >200</text>
<line x1="1489.1" y1="763.7" x2="1498.1" y2="763.7" stroke="#000" stroke-width="2"/>
<text x="1481.5" y="773.3" font-family="'Liberation Serif','Times New Roman',serif" font-size="35" fill="#000" text-anchor="end" >300</text>
<line x1="1489.1" y1="700.9" x2="1498.1" y2="700.9" stroke="#000" stroke-width="2"/>
<text x="1481.5" y="710.5" font-family="'Liberation Serif','Times New Roman',serif" font-size="35" fill="#000" text-anchor="end" >400</text>
<line x1="1493.1" y1="1109.4" x2="1498.1" y2="1109.4" stroke="#000" stroke-width="2"/>
<line x1="1493.1" y1="1046.5" x2="1498.1" y2="1046.5" stroke="#000" stroke-width="2"/>
<line x1="1493.1" y1="983.7" x2="1498.1" y2="983.7" stroke="#000" stroke-width="2"/>
<line x1="1493.1" y1="920.8" x2="1498.1" y2="920.8" stroke="#000" stroke-width="2"/>
<line x1="1493.1" y1="858.0" x2="1498.1" y2="858.0" stroke="#000" stroke-width="2"/>
<line x1="1493.1" y1="795.2" x2="1498.1" y2="795.2" stroke="#000" stroke-width="2"/>
<line x1="1493.1" y1="732.3" x2="1498.1" y2="732.3" stroke="#000" stroke-width="2"/>
<line x1="1498.1" y1="1140.8" x2="1498.1" y2="1148.8" stroke="#000" stroke-width="2"/>
<text x="1498.1" y="1183.3" font-family="'Liberation Serif','Times New Roman',serif" font-size="35" fill="#000" text-anchor="middle" >0.0</text>
<line x1="1680.1" y1="1140.8" x2="1680.1" y2="1148.8" stroke="#000" stroke-width="2"/>
<text x="1680.1" y="1183.3" font-family="'Liberation Serif','Times New Roman',serif" font-size="35" fill="#000" text-anchor="middle" >0.5</text>
<line x1="1862.0" y1="1140.8" x2="1862.0" y2="1148.8" stroke="#000" stroke-width="2"/>
<text x="1862.0" y="1183.3" font-family="'Liberation Serif','Times New Roman',serif" font-size="35" fill="#000" text-anchor="middle" >1.0</text>
<line x1="2044.0" y1="1140.8" x2="2044.0" y2="1148.8" stroke="#000" stroke-width="2"/>
<text x="2044.0" y="1183.3" font-family="'Liberation Serif','Times New Roman',serif" font-size="35" fill="#000" text-anchor="middle" >1.5</text>
<line x1="1589.1" y1="1140.8" x2="1589.1" y2="1145.8" stroke="#000" stroke-width="2"/>
<line x1="1771.0" y1="1140.8" x2="1771.0" y2="1145.8" stroke="#000" stroke-width="2"/>
<line x1="1953.0" y1="1140.8" x2="1953.0" y2="1145.8" stroke="#000" stroke-width="2"/>
<text x="1768.5" y="1229.2" font-family="'Liberation Serif','Times New Roman',serif" font-size="34" fill="#000" text-anchor="middle" >Distance [μm]</text>
<text x="1391.0" y="908.0" font-family="'Liberation Serif','Times New Roman',serif" font-size="35" fill="#000" text-anchor="middle" transform="rotate(-90 1391 908)">CPD [mV]</text>
<line x1="1500" y1="836.6" x2="1675.5" y2="836.6" stroke="#000" stroke-width="2" stroke-dasharray="8.5,5.5"/>
<line x1="1692.3" y1="888.8" x2="2031.3" y2="888.8" stroke="#000" stroke-width="2" stroke-dasharray="8.5,5.5"/>
<line x1="1503.3" y1="1010.8" x2="1675.5" y2="1010.8" stroke="#000" stroke-width="2" stroke-dasharray="8.5,5.5"/>
<line x1="1691" y1="1094.3" x2="2031.3" y2="1094.3" stroke="#000" stroke-width="2" stroke-dasharray="8.5,5.5"/>
<g clip-path="url(#clipD)">
<polyline points="1498.1,831.9 1500.7,831.1 1503.3,832.2 1505.8,832.0 1508.4,830.9 1511.0,831.2 1513.3,831.1 1515.7,830.9 1518.0,831.1 1520.4,831.3 1522.8,829.9 1525.1,830.5 1527.5,830.8 1529.8,833.4 1532.2,834.0 1536.4,835.2 1538.8,835.1 1541.2,835.7 1543.6,834.3 1546.0,835.1 1548.4,835.6 1550.8,834.7 1553.2,835.2 1557.4,832.6 1559.8,835.1 1562.1,836.7 1564.5,837.6 1566.8,837.5 1569.2,838.1 1571.5,839.8 1573.8,841.2 1576.2,840.9 1578.5,841.8 1581.3,839.2 1584.2,837.5 1587.0,835.5 1591.2,838.3 1593.4,837.5 1595.7,837.8 1597.9,838.2 1600.2,838.3 1602.4,838.3 1604.7,836.2 1607.1,834.5 1609.4,833.3 1611.8,832.3 1614.1,832.3 1616.5,831.9 1619.3,833.0 1622.1,833.9 1624.9,836.2 1627.4,838.0 1629.8,838.8 1632.2,840.1 1634.7,841.1 1637.5,843.3 1640.4,847.6 1643.2,849.5 1645.4,850.3 1647.7,849.1 1649.9,849.6 1652.2,850.5 1654.4,850.2 1656.9,849.9 1659.3,849.6 1661.8,848.0 1664.2,847.4 1666.6,848.7 1668.9,849.1 1671.3,849.5 1673.8,850.3 1676.3,851.9 1678.9,853.5 1681.4,854.6 1683.9,855.1 1686.1,855.9 1688.4,856.9 1690.6,856.8 1692.9,858.0 1695.1,859.3 1697.4,861.5 1699.6,862.5 1701.9,863.8 1704.1,866.2 1706.4,867.8 1708.9,868.6 1711.3,869.0 1713.8,868.9 1716.2,869.4 1718.7,870.0 1721.2,870.9 1723.6,870.9 1726.1,871.3 1728.4,872.5 1730.8,874.1 1733.1,875.5 1735.6,874.9 1738.1,875.2 1740.7,876.7 1743.2,877.5 1745.7,876.9 1748.5,878.7 1751.4,880.0 1754.2,881.8 1756.5,881.2 1758.9,881.8 1761.2,881.8 1763.5,882.2 1765.9,881.4 1768.2,880.4 1770.8,881.5 1773.3,883.1 1775.9,883.1 1778.4,884.6 1781.2,885.3 1784.1,886.8 1786.9,886.7 1789.2,887.9 1791.5,888.8 1793.7,889.5 1796.0,891.0 1798.3,890.2 1800.5,890.0 1802.8,887.4 1805.1,887.4 1807.8,888.8 1810.4,889.8 1813.0,890.8 1815.7,891.0 1818.3,890.2 1820.8,889.0 1823.4,887.2 1826.0,888.2 1828.7,889.2 1831.3,889.9 1833.9,891.0 1836.5,888.5 1839.1,888.3 1841.7,886.0 1844.2,886.7 1846.7,886.6 1849.3,887.7 1851.8,888.2 1854.3,888.8 1856.8,889.1 1859.2,889.7 1861.7,890.7 1864.1,891.4 1866.5,892.0 1869.0,892.4 1871.2,891.7 1873.5,890.3 1875.7,890.0 1877.9,889.3 1880.2,889.4 1882.4,888.6 1885.0,891.0 1887.5,892.6 1890.1,893.8 1892.3,893.6 1894.6,893.0 1896.8,891.3 1899.0,891.6 1901.3,890.6 1903.5,889.6 1905.8,888.7 1908.0,888.4 1910.3,888.2 1912.6,889.3 1914.9,888.2 1917.2,887.8 1919.4,888.5 1921.7,888.1 1924.5,886.7 1927.4,885.0 1930.2,884.6 1933.0,884.5 1935.8,885.6 1938.6,886.0 1940.9,886.7 1943.2,888.1 1945.4,890.1 1947.7,891.0 1950.1,890.1 1952.5,889.0 1954.9,888.4 1957.3,886.7 1959.7,886.7 1962.0,886.1 1964.4,885.9 1966.7,885.1 1969.0,884.6 1971.4,885.7 1973.7,884.6 1976.2,884.1 1978.8,883.0 1981.3,883.1 1983.9,882.9 1986.4,881.8 1989.0,879.1 1991.5,877.2 1994.1,875.6 1996.7,874.7 1999.2,871.9 2001.8,870.6 2004.3,869.5 2006.7,867.9 2009.2,866.2 2011.7,864.1 2014.1,864.0 2016.6,862.1 2019.0,860.1 2021.5,858.6 2023.9,858.1 2026.3,858.9 2028.7,858.4 2031.1,858.7 2033.4,858.3 2035.8,858.8 2038.2,857.8 2040.6,858.2 2043.0,858.6" fill="none" stroke="#0a14f0" stroke-width="3.1" stroke-linejoin="round" stroke-linecap="round" />
<polyline points="1498.1,1001.9 1501.0,1003.4 1504.0,1003.3 1506.3,1004.2 1508.5,1002.8 1510.8,1003.0 1513.0,1004.5 1515.3,1004.0 1518.1,1005.9 1520.9,1007.2 1523.7,1008.3 1526.5,1007.3 1529.4,1007.1 1532.2,1006.2 1534.4,1006.1 1536.7,1005.8 1538.9,1004.7 1541.2,1005.0 1543.4,1004.8 1546.2,1005.5 1549.0,1007.1 1551.8,1007.6 1554.6,1010.1 1557.5,1011.7 1560.3,1012.5 1563.1,1011.2 1565.9,1009.7 1568.1,1009.7 1570.4,1009.6 1572.6,1009.3 1574.9,1009.4 1577.1,1010.4 1579.4,1008.9 1581.8,1007.3 1584.1,1006.2 1586.6,1005.4 1589.2,1005.7 1591.7,1004.5 1594.3,1004.0 1596.8,1003.3 1599.0,1003.3 1601.2,1003.5 1603.4,1004.5 1605.6,1004.7 1607.8,1005.9 1610.0,1007.3 1612.2,1006.9 1614.6,1008.6 1616.9,1009.1 1619.3,1011.1 1621.5,1014.6 1623.8,1017.2 1626.0,1019.9 1628.3,1023.0 1630.5,1025.1 1632.7,1028.0 1635.0,1030.4 1637.2,1032.0 1639.5,1035.6 1641.7,1037.1 1644.5,1039.1 1647.4,1038.8 1650.2,1040.6 1652.5,1041.2 1654.9,1041.2 1657.2,1040.9 1659.5,1041.1 1661.9,1041.2 1664.2,1041.3 1668.4,1038.5 1672.7,1039.2 1675.5,1041.9 1678.3,1043.1 1681.1,1043.9 1683.9,1045.3 1686.7,1045.5 1689.0,1047.1 1691.2,1049.8 1693.5,1051.7 1695.7,1052.7 1698.0,1054.6 1700.2,1056.4 1702.4,1058.8 1704.6,1060.1 1706.8,1061.4 1709.0,1062.7 1711.2,1064.6 1713.4,1066.6 1715.9,1067.8 1718.3,1067.7 1720.8,1070.0 1723.2,1070.1 1725.5,1071.0 1727.9,1073.4 1730.2,1073.6 1732.6,1076.1 1735.0,1076.9 1737.3,1077.8 1739.8,1078.2 1742.2,1078.5 1744.6,1079.1 1747.1,1079.2 1749.4,1079.8 1751.8,1079.8 1754.2,1080.1 1756.5,1081.1 1758.8,1082.3 1761.2,1082.0 1764.0,1084.1 1766.8,1085.0 1769.6,1087.7 1771.8,1087.4 1774.0,1086.3 1776.2,1085.7 1778.4,1084.1 1780.8,1085.1 1783.1,1087.6 1785.5,1087.9 1787.8,1090.5 1790.2,1091.4 1792.5,1093.3 1795.0,1093.1 1797.4,1094.5 1799.9,1093.4 1802.3,1094.4 1804.8,1095.2 1807.3,1094.4 1809.7,1094.6 1812.2,1095.4 1814.5,1095.6 1816.9,1094.3 1819.2,1094.0 1822.0,1092.3 1824.8,1089.0 1827.6,1087.7 1831.8,1088.4 1834.1,1089.8 1836.5,1091.1 1838.8,1093.3 1841.4,1093.4 1844.0,1092.1 1846.6,1092.6 1849.2,1094.6 1851.7,1094.1 1854.3,1096.1 1856.7,1096.7 1859.0,1095.7 1861.3,1096.4 1863.7,1097.6 1866.1,1096.6 1868.4,1097.5 1870.7,1096.5 1873.0,1097.0 1875.2,1096.0 1877.5,1094.9 1879.8,1096.2 1882.0,1094.2 1884.3,1093.6 1886.6,1094.0 1889.0,1093.8 1891.4,1094.3 1893.8,1094.6 1896.2,1093.6 1898.5,1094.1 1900.9,1093.6 1903.3,1094.4 1905.7,1095.0 1908.1,1095.1 1910.5,1094.7 1912.8,1096.0 1915.2,1096.3 1917.5,1097.1 1919.9,1097.4 1922.2,1097.6 1924.6,1098.2 1927.0,1097.0 1929.5,1097.1 1932.0,1095.8 1934.4,1095.4 1936.7,1094.9 1939.0,1095.7 1941.3,1096.6 1943.6,1095.4 1945.8,1096.4 1948.1,1096.3 1950.4,1096.7 1952.7,1096.8 1955.0,1095.7 1957.4,1096.7 1959.7,1095.0 1962.0,1095.1 1964.4,1094.3 1966.7,1094.0 1969.2,1093.0 1971.6,1093.8 1974.0,1092.8 1976.5,1093.3 1979.0,1091.7 1981.6,1090.8 1984.1,1090.2 1986.7,1089.2 1989.2,1089.1 1991.5,1087.6 1993.9,1085.6 1996.2,1084.7 1998.5,1082.8 2000.9,1081.2 2003.2,1078.5 2005.5,1077.2 2007.7,1076.7 2010.0,1075.5 2012.2,1075.3 2014.5,1074.3 2017.3,1072.9 2020.1,1071.6 2022.9,1069.4 2025.4,1070.7 2027.8,1070.7 2030.3,1071.9 2032.8,1072.9 2035.4,1075.6 2038.0,1077.3 2040.7,1079.9 2043.3,1083.4" fill="none" stroke="#f03a3a" stroke-width="3.1" stroke-linejoin="round" stroke-linecap="round" />
</g>
<line x1="1683.2" y1="843" x2="1683.2" y2="878.4" stroke="#000" stroke-width="1.6"/>
<path d="M1683.2,834 L1679.9,845 L1686.5,845 Z" fill="#000"/>
<path d="M1683.2,887.4 L1679.9,876.4 L1686.5,876.4 Z" fill="#000"/>
<line x1="1681.4" y1="1022.9000000000001" x2="1681.4" y2="1085" stroke="#000" stroke-width="1.6"/>
<path d="M1681.4,1013.9 L1678.1000000000001,1024.9 L1684.7,1024.9 Z" fill="#000"/>
<path d="M1681.4,1094 L1678.1000000000001,1083 L1684.7,1083 Z" fill="#000"/>
<line x1="1734.4" y1="730.6" x2="1812.9" y2="730.6" stroke="#0a14f0" stroke-width="3.2"/>
<line x1="1734.4" y1="772.0" x2="1812.9" y2="772.0" stroke="#f03a3a" stroke-width="3.2"/>
<text x="1819.9" y="741.7" font-family="'Liberation Serif','Times New Roman',serif" font-size="34" fill="#000" text-anchor="start" >BDD coated tip</text>
<text x="1819.9" y="782.6" font-family="'Liberation Serif','Times New Roman',serif" font-size="34" fill="#000" text-anchor="start" >Pt coated tip</text>
<text x="1501.5" y="811.0" font-family="'Liberation Serif','Times New Roman',serif" font-size="31" fill="#000">CPD<tspan font-size="21.7" dy="9.3">2D</tspan><tspan dy="-9.3" fill="#999"> = </tspan><tspan>185 mV</tspan></text>
<text x="1584.1" y="890.3" font-family="'Liberation Serif','Times New Roman',serif" font-size="33" fill="#000" text-anchor="start" >82 mV</text>
<text x="1770.7" y="926.1" font-family="'Liberation Serif','Times New Roman',serif" font-size="31" fill="#000">CPD<tspan font-size="21.7" dy="9.3">Au</tspan><tspan dy="-9.3" fill="#000"> = </tspan><tspan>103 mV</tspan></text>
<text x="1502.8" y="980.5" font-family="'Liberation Serif','Times New Roman',serif" font-size="31" fill="#000">CPD<tspan font-size="21.7" dy="9.3">2D</tspan><tspan dy="-9.3" fill="#000"> = </tspan><tspan>-92 mV</tspan></text>
<text x="1575.0" y="1082.7" font-family="'Liberation Serif','Times New Roman',serif" font-size="31" fill="#000" text-anchor="start" >133 mV</text>
<text x="1744.3" y="1122.8" font-family="'Liberation Serif','Times New Roman',serif" font-size="31" fill="#000">CPD<tspan font-size="21.7" dy="9.3">Au</tspan><tspan dy="-9.3" fill="#000"> = </tspan><tspan>-225 mV</tspan></text>
<text x="1314.5" y="685.5" font-family="'Liberation Serif','Times New Roman',serif" font-size="44.5" fill="#000" text-anchor="start" >(d)</text>
</g>
</svg></body></html>
